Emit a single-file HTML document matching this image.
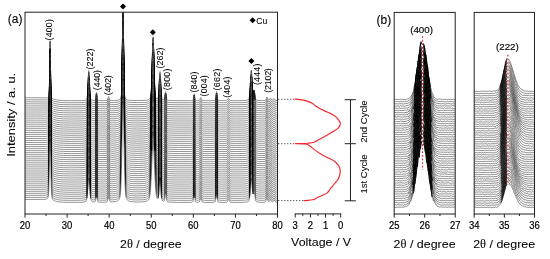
<!DOCTYPE html>
<html><head><meta charset="utf-8"><style>
html,body{margin:0;padding:0;background:#fff;width:550px;height:259px;overflow:hidden}
svg{display:block}
.f{fill:#fff;stroke:none}
.s{fill:#fff;stroke:#000;stroke-width:0.42}
.s2{fill:#fff;stroke:#000;stroke-width:0.45}
.p{fill:none;stroke:#000;stroke-width:0.65}
.p2{fill:none;stroke:#000;stroke-width:0.9}
.p3{fill:none;stroke:#000;stroke-width:0.65}
</style></head><body>
<svg width="550" height="259" viewBox="0 0 550 259">
<defs><filter id="bl" x="-5%" y="-5%" width="110%" height="110%"><feGaussianBlur stdDeviation="0.35"/></filter><clipPath id="ca"><rect x="25.00" y="12.20" width="252.50" height="201.80"/></clipPath>
<clipPath id="cl"><rect x="394.20" y="12.4" width="61.00" height="201.60"/></clipPath>
<clipPath id="cr"><rect x="474.20" y="12.4" width="60.30" height="201.60"/></clipPath></defs>
<style>.t{fill:#fff;stroke:#000;stroke-width:.5}.tb{fill:#fff;stroke:#000;stroke-width:.5}text{font-family:'Liberation Sans',Arial,sans-serif;fill:#000;stroke:#000;stroke-width:.05px}.th{font-family:'Liberation Serif',serif}</style>
<rect width="550" height="259" fill="#fff"/>
<g clip-path="url(#ca)"><g filter="url(#bl)">
<path d="M20 97.75l17.35 0 9.15 .15 .85-.05 .6-.2 .45-.3 .3-.4 .25-.8 .2-1.75 .25-6.55 .55-41 .15-5.15 .15 5.2 .4 33 .25 11.7 .15 3.15 .2 1.8 .35 1.1 .6 .75 .6 .4 .9 .35 2.7 .7 3.15 .45 3.75 .25 7.85 .15 10.45-.1 3.15-.2 .95-.25 .6-.3 .4-.45 .3-.8 .25-1.35 .2-1.85 .4-6.45 .65-15.45 .15-2.3 .15-.8 .15 .8 .15 2.3 .65 15.45 .35 5.85 .2 2.05 .25 1.5 .3 .9 .35 .5 .35 .2 .5 .2 1.3 .2 1.25-.05 .3-.1 .25-.2 .25-.55 .2-.85 .65-5.3 .15-.8 .1-.2 .2 .7 .5 4.3 .3 1.85 .35 .9 .2 .2 .3 .15 1.3 .15 2.65 .1 3.15-.05 1.2-.15 .4-.25 .35-.5 .9-2.7 .15-.3 .15-.1 .15 .1 .15 .3 .6 1.95 .35 .8 .35 .45 .5 .25 1 .1 1.9 0 3.5-.25 1.75-.35 .65-.3 .5-.4 .45-.5 .35-.65 .25-.75 .2-.9 .3-2.8 .25-5.45 .35-17.8 .6-58 .15-9.65 .1-2 .1 2 .15 9.65 .6 58 .4 19.25 .25 4.7 .35 2.6 .25 .9 .35 .7 .45 .6 .55 .45 .75 .35 1 .25 3 .3 7.1 .05 6.2-.15 2.4-.3 1.6-.45 .6-.3 .5-.4 .4-.45 .3-.55 .4-1.4 .3-2 .25-2.85 .25-4.4 .45-12.95 .8-31.9 .2-4.7 .15-1.15 .15 1.15 .2 4.65 .85 33.6 .55 14 .3 3.9 .4 2.65 .25 .85 .25 .55 .3 .35 .4 .3 .35 .1 .35 0 .25-.15 .2-.3 .35-1.05 .25-1.65 .45-5.9 .75-15.65 .15-1.95 .15-.65 .15 .7 .15 1.95 .75 15.85 .45 6 .25 1.75 .3 1.1 .4 .65 .6 .3 .5 .1 .4-.05 .3-.35 .2-.5 .35-1.85 .55-4.6 .15-.8 .1-.15 .1 .15 .15 .8 .55 4.75 .35 1.9 .2 .6 .25 .35 .3 .15 .5 .15 2.9 .25 6.9 .05 11.5 .05 2-.1 1.05-.1 .5-.3 .35-.75 .3-1.5 .5-3.6 .2-.55 .2 .55 .75 4.9 .3 .8 .2 .25 .25 .15 .75 .1 1.25 .05 .75-.05 .45-.2 .5-.5 .85-1.9 .2-.3 .15-.05 .3 .3 .65 1.5 .35 .6 .35 .35 .5 .2 1.7 .1 4.5 .05 3.5-.05 1.65-.1 .5-.15 .3-.2 .2-.3 .2-.6 .35-2.05 .55-4.95 .2-.7 .1 .2 .15 .85 .5 4.6 .3 1.85 .35 .95 .25 .3 .3 .1 1.05 .15 1.9 .05 3.6 0 1.45-.05 .45-.2 .35-.3 .95-1.6 .3-.2 .3 .2 .7 1.25 .35 .45 .4 .3 .6 .1 4.45 .1 7.3-.1 2.95-.15 1.8-.35 .85-.35 .5-.6 .4-1.2 .3-1.7 .3-2.9 .25-3.55 .9-17 .2-2.25 .15-.55 .15 .5 .2 2.15 .8 14.7 .4 4.6 .2 .9 .1 .1 .1-.1 .65-2.65 .15-.2 .1 .1 .25 1.1 .9 6.7 .35 1.25 .4 .65 .35 .25 .5 .2 1.85 .25 3.9 .1 1.5-.05 .75-.1 .45-.2 .35-.4 .35-.75 .65-1.75 .15-.25 .15-.1 .15 .1 .15 .25 .9 2.25 .25 .3 .25 .2 .3-.05 .3-.25 .9-1.55 .3-.25 .3 .25 .9 1.6 .25 .25 .25 .15 .3-.05 .3-.2 .9-1.3 .3-.2 .3 .2 .95 1.45 .3 .25 .35 .15 1.4 .1 4.65 .05V260 H20 Z" class="s"/>
<path d="M49.15 94.4l.2-4.65 .15-6.95 .4-32.35M50.3 50.5l.4 32.55 .15 7 .2 4.7M87.35 96.4l.45-6.4 .6-14.4M89.2 75.6l.6 14.35 .45 6.45M95.9 96.45l.3-2.75M96.8 93.75l.3 2.7M121.25 96.45l.25-2.1 .2-3.45 .3-11.05 .3-21.9 .45-45.55M123.25 12.4l.45 45.55 .3 21.9 .3 11.05 .2 3.45 .25 2.1M150.75 96.3l.25-1.75 .25-2.85 .4-7.95 .35-11.25 .6-24.8M153.6 47.7l.6 24.75 .35 11.15 .45 8.6 .25 2.6 .25 1.55M158.4 96.3l.25-2.25 .25-3.55 .65-13.7M160.45 76.9l.6 13 .5 6.45M164.9 96.3l.35-3.1M165.95 93.25l.35 3.2M193.7 96.5l.2-1.5M194.5 95l.2 1.5M215.95 96.4l.35-3.35M216.9 93.05l.35 3.35M249.45 96.6l.3-2.7 .3-4.1 .75-14.5M251.85 76.05l.6 11.3 .4 4.6 .2 .9 .1 .1 .1-.1 .65-2.65 .15-.2 .1 .1 .3 1.45 .6 4.85" class="p"/>
<path d="M20 99.8l17.15 0 9.2 .15 .9-.1 .6-.15 .45-.3 .35-.45 .25-.75 .2-1.55 .25-5.75 .2-10.85 .4-34.15 .15-5.3 .15 5.35 .4 34.3 .25 12.65 .15 3.4 .2 2.05 .35 1.25 .6 .75 .6 .45 .85 .35 2.6 .7 3.2 .45 3.75 .3 7.9 .15 10.5-.1 3.15-.25 .95-.25 .6-.3 .4-.45 .3-.85 .25-1.4 .2-1.85 .4-6.6 .65-15.55 .15-2.3 .15-.8 .15 .8 .15 2.3 .65 15.55 .35 5.95 .2 2.1 .25 1.55 .3 .95 .35 .5 .35 .25 .45 .15 1.3 .25 1.3-.05 .3-.1 .25-.25 .25-.55 .2-.85 .65-5.3 .15-.85 .1-.15 .2 .7 .5 4.3 .3 1.85 .35 .95 .2 .2 .3 .15 1.25 .15 2.55 .05 3.25-.05 1.25-.1 .4-.25 .35-.5 .9-2.5 .15-.3 .15-.1 .15 .1 .15 .3 .6 1.8 .35 .8 .35 .4 .5 .25 1 .05 1.95 0 3.45-.2 1.75-.4 .65-.3 .5-.4 .45-.55 .35-.65 .25-.75 .2-.95 .3-2.95 .25-5.75 .35-18.05 .6-56.8 .15-9.25 .1-1.95 .1 1.95 .15 9.25 .6 56.8 .4 19.55 .25 4.95 .35 2.8 .25 .9 .35 .75 .45 .6 .6 .5 .75 .35 1 .25 1.3 .15 1.75 .1 7.15 .1 6.1-.2 2.35-.25 1.6-.45 .6-.35 .5-.35 .4-.5 .3-.55 .4-1.45 .3-2.1 .25-2.9 .25-4.45 .45-12.85 .8-31.25 .2-4.55 .15-1.1 .15 1.1 .2 4.55 .85 32.9 .55 13.95 .3 3.95 .4 2.75 .25 .9 .25 .55 .3 .35 .4 .3 .35 .15 .35-.05 .25-.15 .2-.25 .35-1.1 .25-1.65 .45-5.85 .75-15.6 .15-1.95 .15-.65 .15 .7 .15 1.95 .75 15.8 .45 6 .25 1.75 .3 1.1 .4 .6 .6 .35 .5 .1 .4-.05 .3-.35 .2-.5 .35-1.8 .55-4.55 .15-.75 .1-.15 .1 .15 .15 .8 .65 5.35 .35 1.5 .25 .45 .3 .25 .45 .15 .8 .15 4.3 .15 10.1 .1 7.1-.05 1.45-.05 .8-.1 .3-.15 .2-.2 .3-.7 .3-1.55 .5-3.6 .2-.6 .2 .6 .75 4.95 .3 .8 .2 .25 .25 .15 .75 .1 1.25 .05 .75-.1 .45-.15 .5-.5 .85-1.85 .2-.3 .15-.1 .3 .3 .65 1.5 .35 .6 .35 .35 .5 .2 1.75 .1 4.8 .05 3.3-.05 1.6-.15 .4-.1 .3-.2 .2-.3 .2-.55 .35-2 .55-4.8 .2-.65 .1 .15 .15 .85 .5 4.45 .3 1.8 .35 .95 .25 .2 .3 .15 1.05 .15 1.95 .05 3.55 0 1.45-.1 .45-.15 .35-.35 .95-1.6 .3-.25 .3 .25 .7 1.25 .35 .5 .4 .25 .6 .15 4.45 .05 7.3-.05 2.95-.2 1.8-.3 .85-.4 .5-.65 .4-1.15 .3-1.8 .3-3 .25-3.6 .9-17.5 .2-2.25 .15-.6 .15 .55 .2 2.2 .8 15.05 .4 4.65 .2 .9 .1 .1 .1-.1 .65-2.85 .15-.25 .1 .1 .25 1.2 .9 7.05 .35 1.35 .4 .65 .35 .25 .5 .2 1.8 .25 3.8 .15 2.35-.15 .5-.25 .35-.4 .35-.75 .65-1.75 .15-.25 .15-.1 .15 .1 .15 .25 .9 2.25 .25 .35 .3 .2 .25-.05 .3-.25 .9-1.55 .3-.25 .3 .25 .9 1.6 .25 .25 .25 .1 .3 0 .3-.2 .9-1.3 .3-.2 .3 .2 .95 1.45 .3 .25 .35 .15 1.4 .1 4.65 .05V260 H20 Z" class="s"/>
<path d="M49.1 96.65l.2-4.05 .2-9.2 .4-33.8M50.3 49.65l.4 33.95 .2 9.3 .2 4.1M87.35 98.3l.45-6.55 .6-14.5M89.2 77.25l.6 14.5 .45 6.55M95.9 98.45l.3-2.75M96.8 95.75l.3 2.75M121.25 98.35l.25-2.25 .2-3.65 .3-11.35 .25-17.45 .5-48.85M123.25 14.8l.5 48.85 .25 17.45 .3 11.35 .2 3.65 .25 2.25M150.7 98.5l.25-1.65 .25-2.65 .45-8.7 .35-11.15 .6-24.25M153.6 50.05l.6 24.2 .4 12.4 .45 8 .25 2.4 .25 1.45M158.4 98.35l.25-2.25 .25-3.55 .65-13.65M160.45 79l.6 12.95 .5 6.45M164.9 98.4l.35-3.05M165.95 95.4l.35 3.15M193.7 98.5l.2-1.55M194.5 96.95l.2 1.55M215.95 98.55l.35-3.2M216.9 95.35l.35 3.2M249.45 98.5l.3-2.75 .3-4.2 .75-14.9M251.85 77.4l.6 11.6 .4 4.65 .2 .9 .1 .1 .1-.1 .65-2.85 .15-.25 .1 .1 .3 1.55 .65 5.45" class="p"/>
<path d="M20 101.8l17.3 .05 9.15 .15 .85-.1 .6-.15 .45-.3 .3-.35 .25-.7 .2-1.5 .25-5.5 .2-9.95 .4-30.5 .15-4.65 .15 4.7 .45 33.75 .25 9.9 .15 2.6 .2 1.55 .35 1 .6 .7 .65 .4 .9 .35 2.75 .7 3.15 .45 3.8 .25 8.05 .1 10.1-.05 3.1-.25 .95-.25 .6-.35 .4-.5 .3-.85 .25-1.45 .2-1.9 .4-6.7 .65-15.75 .15-2.3 .15-.8 .15 .8 .15 2.3 .65 15.75 .35 6.05 .2 2.15 .25 1.6 .3 1 .35 .5 .35 .25 .45 .2 1.25 .2 1.35 0 .3-.1 .25-.25 .25-.5 .2-.85 .65-5.1 .15-.8 .1-.2 .2 .65 .5 4.2 .3 1.8 .35 .9 .2 .2 .3 .1 1.3 .2 2.65 .05 3.15-.05 1.2-.15 .4-.25 .35-.45 .9-2.6 .15-.3 .15-.1 .15 .1 .15 .3 .6 1.85 .35 .8 .35 .45 .5 .2 1 .1 1.9 0 3.45-.25 1.75-.4 .65-.3 .5-.35 .45-.55 .35-.65 .3-.9 .2-1 .3-3.2 .25-6.05 .4-22.35 .6-56 .2-7.15 .1 1.85 .15 9 .65 59.7 .35 16.55 .25 5.2 .35 3 .25 .95 .35 .8 .45 .6 .6 .5 .75 .4 1 .25 1.3 .15 1.75 .15 7.05 .1 6.1-.2 2.4-.3 1.6-.5 .6-.3 .5-.4 .4-.5 .3-.6 .4-1.45 .3-2.05 .3-3.65 .25-4.8 .45-13.7 .8-32.55 .2-4.7 .15-1.15 .15 1.15 .2 4.7 .9 36.1 .55 14 .3 3.95 .4 2.7 .25 .9 .25 .55 .3 .4 .4 .3 .35 .1 .3 0 .25-.15 .2-.25 .35-1.1 .25-1.65 .45-5.95 .75-15.7 .15-1.95 .15-.7 .15 .75 .15 1.95 .75 15.95 .45 6.1 .25 1.7 .3 1.15 .4 .6 .6 .35 .5 .1 .4-.05 .3-.3 .2-.5 .35-1.8 .55-4.5 .15-.75 .1-.15 .1 .15 .15 .8 .55 4.6 .35 1.85 .2 .55 .25 .35 .3 .2 .5 .1 2.95 .25 6.9 .1 11.45 0 2-.05 1.05-.15 .5-.25 .35-.75 .3-1.55 .5-3.55 .2-.55 .2 .55 .75 4.9 .3 .8 .2 .25 .25 .1 .75 .15 1.3 0 .7-.05 .45-.15 .5-.55 .85-1.95 .2-.3 .15-.1 .3 .3 .65 1.55 .35 .65 .35 .35 .5 .25 1.65 .1 4.45 0 3.55 0 1.7-.15 .5-.15 .3-.2 .2-.3 .2-.6 .35-2.05 .55-5 .2-.7 .1 .2 .15 .85 .5 4.65 .3 1.85 .35 1 .25 .25 .3 .15 1 .1 1.9 .1 3.6 0 1.5-.1 .45-.15 .35-.3 .95-1.6 .3-.2 .3 .2 .7 1.25 .35 .45 .4 .25 .6 .15 4.5 .05 7.3-.1 2.9-.15 1.8-.3 .85-.4 .5-.6 .4-1.15 .3-1.7 .3-2.9 .25-3.5 .9-16.9 .2-2.25 .15-.55 .15 .55 .2 2.1 .8 14.6 .4 4.5 .2 .85 .1 .1 .1-.1 .65-2.85 .15-.25 .1 .1 .25 1.2 .9 6.85 .35 1.3 .4 .7 .35 .2 .5 .2 1.9 .25 3.9 .1 1.5-.05 .7-.1 .45-.2 .35-.45 .35-.8 .65-1.85 .15-.3 .15-.1 .15 .1 .15 .25 .9 2.45 .25 .35 .3 .2 .25 0 .3-.25 .9-1.55 .3-.2 .3 .25 .9 1.55 .25 .25 .25 .1 .3 0 .3-.25 .9-1.25 .3-.2 .3 .2 .95 1.4 .3 .25 .35 .15 1.4 .15 4.65 .05V260 H20 Z" class="s"/>
<path d="M49.15 98.2l.2-4.8 .15-6.9 .4-30.3M50.3 56.25l.4 30.5 .15 6.95 .2 4.85M87.3 100.65l.45-6.15 .65-15.7M89.2 78.8l.65 15.7 .45 6.15M95.9 100.65l.3-2.65M96.8 98l.3 2.65M121.3 99.85l.2-2.1 .2-3.85 .3-11.75 .75-65.85M123.25 16.3l.75 65.85 .3 11.75 .2 3.85 .2 2.1M150.65 100.4l.25-1.6 .25-2.65 .45-8.7 .4-13.15 .6-25.35M153.6 48.9l.6 25.3 .4 13.1 .45 8.65 .25 2.65 .3 1.8M158.35 100.6l.3-2.6 .25-3.55 .65-13.8M160.45 80.75l.6 13.1 .5 6.5M165 99.65l.25-2.2M165.95 97.5l.25 2.25M193.7 100.55l.2-1.5M194.5 99.05l.2 1.5M215.95 100.45l.35-3.4M216.9 97.05l.35 3.4M249.5 100.35l.3-2.9 .25-3.5 .75-14.4M251.85 80.25l.6 11.25 .4 4.5 .2 .85 .1 .1 .1-.1 .65-2.85 .15-.25 .1 .1 .3 1.55 .5 4.2" class="p"/>
<path d="M20 103.85l17.2 0 9.2 .15 .85-.05 .6-.2 .45-.25 .35-.45 .25-.8 .2-1.6 .25-5.85 .6-41.15 .15-4.65 .15 4.7 .45 34.15 .25 10.35 .15 2.8 .25 1.95 .35 .9 .6 .7 .65 .4 .85 .3 2.7 .7 3.1 .45 3.7 .25 7.75 .15 10.5-.05 3.2-.25 .95-.2 .6-.3 .4-.5 .3-.8 .25-1.3 .2-1.75 .4-6.05 .65-14.1 .15-2.05 .15-.75 .15 .75 .15 2.05 .65 14.05 .35 5.5 .2 1.95 .25 1.5 .3 .9 .35 .5 .8 .35 1.35 .25 1.25-.05 .3-.1 .25-.25 .25-.5 .2-.85 .65-5.15 .15-.85 .1-.15 .2 .65 .5 4.25 .3 1.75 .35 .9 .2 .2 .3 .15 1.3 .15 2.65 .1 3.15-.05 1.2-.15 .4-.25 .35-.5 .9-2.6 .15-.3 .15-.15 .15 .15 .15 .25 .6 1.9 .35 .8 .35 .45 .5 .25 1 .05 1.9 0 3.4-.2 .95-.2 .8-.25 .65-.3 .5-.4 .45-.55 .35-.65 .3-.9 .2-1 .3-3.05 .25-5.7 .35-17.6 .65-61.4 .15-9.05 .1-1.85 .1 1.85 .15 9.05 .65 61.4 .4 19.1 .25 4.95 .35 2.85 .25 .95 .35 .8 .45 .65 .6 .5 .75 .35 1 .3 1.3 .2 1.7 .1 6.85 .1 6.2-.15 2.4-.3 1.65-.45 .65-.35 .5-.4 .4-.5 .3-.55 .4-1.45 .3-2.05 .25-2.85 .25-4.3 .45-12.45 .85-32.45 .2-4.4 .15-1.05 .15 1.05 .2 4.4 .9 34.05 .55 13.5 .3 3.85 .4 2.75 .25 .85 .25 .55 .3 .4 .4 .3 .35 .1 .3 0 .25-.1 .2-.25 .35-1.05 .25-1.55 .45-5.6 .75-14.85 .15-1.85 .15-.6 .15 .65 .15 1.85 .75 15.1 .45 5.7 .25 1.65 .3 1.05 .4 .6 .6 .35 .55 .05 .35-.05 .3-.35 .2-.55 .35-1.85 .55-4.75 .15-.8 .1-.15 .2 .65 .6 5.2 .4 2.1 .25 .6 .3 .3 .45 .15 .8 .15 4.15 .15 9.85 .1 7.5-.05 1.5-.05 .8-.1 .3-.15 .2-.2 .3-.7 .3-1.55 .5-3.65 .2-.6 .2 .6 .75 5 .3 .8 .2 .25 .25 .15 .75 .1 1.25 .05 .75-.05 .45-.15 .5-.55 .85-1.8 .2-.25 .15-.1 .3 .3 .65 1.45 .35 .6 .35 .3 .5 .2 1.8 .15 4.95 0 3.15-.05 1.55-.15 .4-.1 .3-.2 .2-.3 .2-.6 .35-2.05 .55-4.95 .2-.7 .1 .2 .15 .85 .5 4.6 .3 1.85 .35 .95 .25 .3 .3 .1 1.05 .15 1.9 .1 3.6-.05 1.45-.05 .45-.2 .35-.3 .95-1.6 .3-.2 .3 .2 .7 1.25 .35 .45 .4 .3 .6 .1 4.4 .1 7.35-.1 2.95-.15 1.8-.3 .85-.4 .5-.6 .4-1.1 .3-1.7 .3-2.8 .25-3.45 .9-16.6 .2-2.15 .15-.55 .15 .5 .2 2.1 .8 14.25 .4 4.45 .2 .8 .1 .1 .1-.1 .65-2.75 .15-.25 .1 .1 .25 1.15 .9 6.75 .35 1.25 .4 .7 .35 .2 .5 .2 1.8 .25 3.75 .1 2.4-.1 .5-.25 .35-.35 .35-.7 .65-1.65 .15-.25 .15-.1 .15 .1 .15 .2 .9 2.15 .25 .3 .25 .15 .3 0 .3-.25 .9-1.6 .3-.25 .3 .25 .85 1.55 .25 .3 .25 .1 .3 0 .3-.2 .95-1.4 .3-.2 .3 .25 .95 1.5 .3 .25 .35 .15 1.4 .1 4.65 .05V260 H20 Z" class="s"/>
<path d="M49.1 100.65l.2-4.15 .15-6.1 .45-33.55M50.3 56.95l.45 33.65 .15 6.2 .2 4.2M87.35 102.6l.45-6.05 .6-13.2M89.2 83.35l.6 13.2 .45 6.05M95.9 102.65l.3-2.7M96.8 100l.3 2.65M121.45 99.85l.35-8.15 .25-12.5 .7-64.8M123.25 14.4l.7 64.8 .25 12.5 .35 8.15M150.65 102.5l.25-1.6 .25-2.6 .45-8.45 .4-12.55 .6-23.95M153.6 53.35l.6 23.85 .4 12.55 .45 8.35 .25 2.6 .3 1.85M158.4 102.55l.25-2.15 .25-3.35 .65-13.05M160.45 84.1l.6 12.4 .5 6.1M193.7 102.5l.2-1.5M194.5 101l.2 1.5M215.95 102.5l.35-3.35M216.9 99.15l.35 3.35M249.5 102.45l.3-2.8 .25-3.45 .75-14.15M251.85 82.75l.6 11 .4 4.45 .2 .8 .1 .1 .1-.1 .6-2.6 .15-.4 .1 0 .25 .9 .35 2.75" class="p"/>
<path d="M20 105.9l17.05 0 9.2 .1 .9-.05 .65-.15 .45-.3 .35-.45 .25-.7 .2-1.45 .3-7.05 .6-42.95 .15-4.75 .15 4.8 .45 35.45 .25 11.1 .15 3.1 .25 2.2 .35 1 .6 .7 .6 .4 .85 .35 2.65 .7 3.15 .5 3.8 .25 7.95 .15 10.25-.1 3.15-.25 .95-.25 .6-.3 .45-.55 .3-.95 .25-1.5 .2-1.95 .4-6.8 .65-15.6 .15-2.25 .15-.8 .15 .8 .15 2.25 .65 15.6 .4 6.75 .2 2 .25 1.5 .25 .8 .35 .55 .35 .25 .45 .2 1.3 .2 1.3 0 .3-.15 .25-.2 .25-.6 .2-.85 .65-5.5 .15-.9 .1-.15 .2 .7 .5 4.5 .3 1.9 .35 .95 .2 .2 .3 .15 1.3 .2 2.65 .05 3.15-.05 1.2-.15 .4-.25 .35-.55 .9-2.85 .15-.3 .15-.1 .15 .1 .15 .3 .6 2.05 .35 .9 .35 .45 .45 .25 .85 .1 1.8 0 3.6-.2 1.8-.4 .65-.3 .5-.35 .45-.5 .4-.7 .3-.9 .2-1 .3-3 .25-5.65 .4-20.35 .65-56.55 .2-6.5 .1 1.7 .15 8.2 .65 56.65 .4 18.35 .25 4.85 .2 1.95 .2 1.15 .25 .85 .35 .7 .45 .6 .6 .45 .8 .35 1 .25 3.05 .3 7 .1 5.95-.2 2.4-.3 1.6-.45 .6-.35 .5-.4 .4-.5 .3-.55 .4-1.4 .3-2 .3-3.5 .25-4.5 .45-12.9 .8-31.5 .2-5.15 .2-1.9 .15 1.1 .2 4.4 .9 34.7 .55 14 .3 4.1 .4 2.9 .25 .95 .25 .6 .35 .5 .4 .3 .3 .1 .3 0 .25-.15 .2-.2 .35-1.05 .25-1.5 .45-5.55 .75-14.75 .15-1.85 .15-.6 .15 .65 .15 1.85 .75 15 .45 5.65 .25 1.65 .3 1.05 .4 .6 .6 .3 .5 .1 .4-.05 .3-.35 .2-.5 .35-1.8 .55-4.6 .15-.75 .1-.2 .1 .2 .15 .8 .55 4.7 .35 1.85 .2 .55 .25 .35 .3 .2 .5 .15 2.9 .2 6.85 .1 11.5 0 2.05-.05 1.05-.1 .5-.3 .35-.75 .3-1.45 .5-3.5 .2-.6 .2 .6 .75 4.75 .3 .8 .2 .25 .25 .15 .75 .1 1.3 .05 .7-.1 .45-.15 .5-.55 .85-2 .2-.3 .15-.1 .3 .3 .65 1.6 .35 .65 .35 .4 .5 .2 1.7 .1 4.55 .05 3.45-.05 1.65-.15 .5-.1 .3-.25 .2-.3 .2-.65 .35-2.2 .55-5.25 .2-.75 .1 .2 .15 .9 .5 4.9 .3 2 .35 1 .25 .3 .3 .15 1 .15 1.9 .05 3.6 0 1.5-.1 .45-.15 .35-.3 .95-1.65 .3-.2 .3 .2 .7 1.3 .35 .45 .4 .25 .6 .15 4.55 .05 7.25-.05 2.9-.2 1.8-.3 .85-.45 .5-.6 .4-1.25 .3-1.8 .3-3.05 .25-3.7 .9-17.95 .2-2.35 .15-.6 .15 .55 .2 2.3 .8 15.5 .25 3.5 .2 1.7 .15 .7 .1 .15 .1-.05 .2-.55 .45-2 .15-.2 .1 .1 .25 1.15 .85 6.4 .35 1.4 .4 .75 .35 .25 .45 .2 1.8 .25 3.8 .15 1.65-.05 .8-.1 .5-.25 .35-.4 .35-.75 .65-1.8 .15-.25 .15-.1 .15 .1 .15 .25 .9 2.3 .25 .35 .25 .15 .3 0 .3-.25 .9-1.65 .3-.2 .3 .25 .9 1.65 .25 .25 .25 .1 .3 0 .3-.2 .9-1.3 .3-.2 .3 .25 .95 1.4 .3 .25 .35 .15 1.4 .1 4.65 .05V260 H20 Z" class="s"/>
<path d="M49.1 102.25l.2-4.55 .15-6.55 .45-34.95M50.3 56.25l.45 35.1 .15 6.65 .2 4.6M87.3 104.55l.45-6.25 .65-15.6M89.2 82.7l.65 15.55 .45 6.3M95.9 104.4l.3-2.85M96.8 101.55l.3 2.9M121.6 99.5l.25-7.35 .25-13.35 .65-56.65M123.25 22.15l.65 56.65 .25 13.35 .3 8.3M150.6 104.55l.25-1.6 .25-2.55 .45-8.2 .4-12.35 .65-26.25M153.6 53.6l.65 26.15 .4 12.35 .45 8.15 .25 2.5 .25 1.55M158.4 104.55l.25-2.15 .25-3.3 .65-12.9M160.45 86.3l.6 12.3 .5 6.05M193.7 104.7l.2-1.45M194.5 103.25l.2 1.45M215.9 104.7l.4-4M216.9 100.7l.4 4M249.45 104.5l.3-2.8 .3-4.3 .75-15.3M251.85 82.9l.55 11.05 .35 4.9 .15 1.2 .2 .8 .1 .05 .1-.15 .2-.7M253.6 99.6l.25-1.15 .2-.35 .2 .4 .2 1.2" class="p"/>
<path d="M20 107.9l16.95 .05 9.3 .1 .9-.05 .65-.2 .45-.3 .35-.45 .25-.75 .2-1.5 .3-7.2 .6-42.2 .15-4.55 .15 4.6 .45 34.65 .25 11.2 .15 3.2 .25 2.25 .35 1.05 .6 .75 .65 .4 .85 .35 2.65 .7 3.15 .45 3.8 .3 8.05 .1 10.1-.05 1.85-.1 1.3-.2 .95-.2 .6-.35 .45-.6 .3-.95 .25-1.55 .2-2.05 .4-7 .65-15.9 .15-2.25 .15-.85 .15 .85 .15 2.25 .65 15.9 .4 6.95 .2 2.05 .25 1.6 .3 .95 .35 .5 .35 .25 .45 .15 1.25 .25 1.3-.05 .3-.1 .25-.2 .25-.55 .2-.8 .65-5.15 .15-.85 .1-.15 .2 .65 .5 4.25 .3 1.75 .35 .95 .2 .2 .3 .1 1.35 .2 2.75 .05 3-.05 1.2-.15 .4-.25 .35-.55 .9-2.8 .15-.3 .15-.15 .15 .15 .15 .3 .6 2 .35 .9 .35 .45 .5 .25 .95 .1 1.9 0 3.4-.25 .95-.2 .8-.2 .65-.35 .5-.4 .45-.5 .35-.65 .3-.85 .2-.95 .3-2.9 .25-5.25 .35-15.95 .7-60.95 .15-8.2 .1-1.7 .1 1.7 .15 8.2 .7 60.95 .4 17.3 .25 4.55 .2 1.9 .2 1.1 .3 .95 .35 .65 .45 .55 .55 .45 .8 .35 1 .3 1.35 .15 1.75 .15 7.05 .05 5.9-.2 2.3-.3 1.6-.5 .6-.35 .5-.4 .4-.55 .3-.6 .4-1.5 .3-2.15 .3-3.65 .25-4.75 .45-13.3 .8-32 .2-5.2 .2-1.9 .15 1.1 .2 4.4 .95 37 .55 13.65 .3 4 .4 2.8 .25 .95 .25 .55 .3 .45 .4 .3 .3 .1 .3 0 .25-.15 .2-.25 .35-1.1 .25-1.65 .45-5.95 .75-15.85 .15-1.95 .15-.7 .15 .75 .15 2 .75 16.05 .45 6.1 .25 1.75 .3 1.15 .4 .65 .6 .35 .5 .1 .4-.1 .3-.35 .2-.5 .35-1.9 .55-4.75 .15-.8 .1-.2 .1 .2 .15 .85 .65 5.55 .35 1.6 .25 .5 .3 .25 .45 .15 .8 .15 4.3 .2 10.05 .05 7.15 0 1.45-.1 .8-.1 .3-.15 .2-.2 .3-.75 .3-1.6 .5-3.85 .2-.6 .2 .6 .75 5.25 .3 .85 .2 .25 .25 .15 .75 .15 1.25 0 .75-.05 .45-.15 .5-.55 .85-1.95 .2-.3 .15-.1 .3 .3 .65 1.55 .35 .65 .35 .35 .5 .25 1.75 .1 4.7 0 3.4-.05 1.6-.1 .4-.1 .3-.2 .2-.35 .2-.55 .35-2.05 .55-4.85 .2-.7 .1 .15 .15 .9 .5 4.5 .3 1.85 .35 .95 .25 .25 .3 .15 1.05 .15 2 .05 3.55 0 1.4-.1 .45-.2 .35-.3 .95-1.7 .3-.25 .3 .25 .7 1.3 .35 .5 .4 .3 .6 .15 4.2 .05 7.5-.05 3-.2 1.8-.3 .85-.35 .5-.6 .4-1.1 .3-1.65 .3-2.8 .25-3.35 .9-16.35 .2-2.15 .15-.55 .15 .5 .2 2.1 .8 14 .4 4.3 .2 .8 .1 .1 .1-.15 .65-2.85 .15-.25 .1 .1 .25 1.15 .9 6.85 .35 1.3 .4 .65 .35 .25 .5 .15 1.85 .25 3.95 .1 1.5 0 .7-.1 .45-.25 .35-.45 .35-.75 .65-1.8 .15-.25 .15-.1 .15 .05 .15 .25 .9 2.35 .25 .4 .3 .15 .25 0 .3-.25 .9-1.6 .3-.2 .3 .25 .85 1.55 .25 .25 .25 .15 .3 0 .3-.2 .95-1.4 .3-.2 .3 .25 .95 1.45 .3 .25 .35 .15 1.4 .15 4.65 .05V260 H20 Z" class="s"/>
<path d="M49.05 104.8l.2-3.8 .2-8.2 .4-30.5M50.35 62.4l.4 30.65 .2 8.25 .2 3.85M87.25 106.85l.25-2.7 .25-4.2 .6-14.75M89.25 85.2l.6 14.7 .25 4.2 .25 2.7M95.9 106.7l.3-2.7M96.8 104.05l.3 2.65M121.65 99.55l.25-8.95 .2-11.7 .65-57.6M123.25 21.3l.65 57.6 .2 11.7 .25 8.95M150.55 106.55l.3-1.95 .25-2.65 .45-8.6 .4-12.75 .65-26.65M153.6 53.9l.65 26.6 .4 12.7 .45 8.55 .25 2.65 .25 1.65M158.35 106.6l.3-2.6 .25-3.6 .65-13.85M160.45 86.65l.65 14.1 .25 3.65 .25 2.4M193.65 106.8l.25-2.05M194.5 104.75l.25 2.05M215.95 106.6l.35-3.25M216.9 103.35l.35 3.25M249.5 106.6l.3-2.8 .25-3.35 .75-13.95M251.85 87.2l.55 10.05 .35 4.35 .15 1 .2 .6 .1-.05 .1-.2 .2-.85" class="p"/>
<path d="M20 109.95l16.8 0 9.4 .15 .95-.1 .65-.2 .45-.3 .35-.5 .25-.8 .2-1.65 .25-5.7 .25-13.3 .4-31.45 .15-4.55 .2 7.8 .45 34.85 .25 9.95 .15 2.75 .25 2 .35 .95 .55 .7 .6 .4 .85 .35 2.55 .7 3.15 .5 3.75 .25 7.85 .15 10.45-.1 3.2-.25 .95-.2 .6-.3 .45-.6 .3-.9 .25-1.5 .2-2 .35-5.55 .7-16 .15-2.1 .15-.75 .15 .75 .15 2.1 .7 16 .35 5.55 .2 1.95 .25 1.5 .3 .95 .35 .45 .35 .25 .45 .2 1.3 .2 1.25-.05 .3-.1 .25-.2 .25-.55 .2-.8 .65-5.2 .15-.85 .1-.2 .2 .7 .5 4.25 .3 1.8 .35 .9 .2 .2 .3 .15 1.25 .15 2.55 .1 3.25-.05 1.25-.15 .4-.25 .35-.45 .9-2.5 .15-.3 .15-.1 .15 .1 .15 .3 .6 1.8 .35 .75 .35 .45 .5 .2 1 .1 1.9-.05 3.3-.2 1.75-.4 .65-.35 .5-.35 .45-.5 .4-.7 .3-.9 .2-1 .3-3 .25-5.35 .4-19.25 .65-55.45 .15-7.8 .1-1.6 .1 1.6 .15 7.8 .7 58.75 .4 17.3 .3 5.3 .35 2.5 .25 .85 .35 .7 .45 .6 .6 .5 .75 .35 1 .25 1.3 .2 1.75 .1 6.7 .1 6.05-.15 2.45-.3 1.65-.45 .65-.35 .5-.4 .4-.45 .3-.55 .4-1.35 .3-1.9 .3-3.25 .25-4.15 .45-11.85 .85-31.2 .2-4.75 .2-1.7 .15 .95 .2 4.05 .95 34.15 .55 12.9 .3 3.75 .4 2.75 .25 .9 .25 .55 .3 .4 .4 .35 .3 .1 .3-.05 .25-.1 .2-.25 .35-1.05 .25-1.65 .45-5.75 .75-15.4 .15-1.9 .15-.65 .15 .7 .15 1.9 .75 15.6 .45 5.95 .25 1.7 .3 1.1 .4 .6 .6 .35 .5 .1 .4-.05 .3-.35 .2-.5 .35-1.8 .55-4.55 .15-.75 .1-.15 .1 .15 .15 .8 .55 4.65 .35 1.9 .2 .55 .25 .35 .3 .2 .5 .1 3.05 .25 7.3 .1 11 0 1.95-.05 1.05-.15 .3-.1 .2-.2 .35-.85 .3-1.6 .5-3.85 .2-.6 .2 .6 .75 5.25 .3 .9 .2 .25 .25 .15 .75 .1 1.25 .05 .75-.05 .45-.2 .5-.5 .85-1.9 .2-.3 .15-.1 .3 .3 .65 1.5 .35 .65 .35 .35 .5 .2 1.7 .15 4.55 0 3.45-.05 1.65-.1 .5-.15 .3-.2 .2-.35 .2-.6 .35-2.1 .55-5.1 .2-.75 .1 .2 .15 .9 .5 4.75 .3 1.9 .35 1 .25 .25 .3 .15 1.05 .15 1.9 .1 3.6 0 1.45-.1 .45-.2 .35-.3 .95-1.7 .3-.25 .3 .25 .7 1.3 .35 .5 .4 .3 .6 .1 4.3 .1 7.45-.1 2.95-.15 1.8-.3 .85-.4 .5-.55 .4-1.15 .3-1.7 .3-2.8 .25-3.45 .9-16.6 .2-2.15 .15-.55 .15 .5 .2 2.1 .8 14.25 .4 4.45 .2 .8 .1 .1 .1-.1 .65-2.8 .15-.25 .1 .1 .25 1.15 .9 6.8 .35 1.25 .4 .7 .35 .2 .5 .2 1.9 .25 3.95 .1 1.45-.05 .7-.1 .45-.25 .35-.45 .35-.8 .65-1.9 .15-.25 .15-.1 .15 .05 .15 .3 .9 2.45 .25 .35 .3 .2 .25 0 .3-.25 .9-1.7 .3-.25 .3 .3 .9 1.7 .25 .25 .25 .15 .3-.05 .3-.2 .9-1.3 .3-.15 .3 .2 .95 1.4 .3 .25 .35 .15 1.4 .15 4.65 .05V260 H20 Z" class="s"/>
<path d="M49.05 106.55l.2-4.05 .2-8.55 .4-30.95M50.35 63.1l.4 31.1 .2 8.6 .2 4.1M87.3 108.6l.45-6.15 .6-13.85M89.25 88.6l.6 13.85 .45 6.15M95.9 108.7l.3-2.7M96.8 106.05l.3 2.7M121.7 99.95l.4-19.25 .65-55.45M123.25 25.25l.65 55.45 .4 19.2M150.6 108.5l.25-1.65 .25-2.55 .45-8.15 .4-11.95 .6-22.85M153.65 61.3l.6 22.8 .4 11.9 .45 8.1 .25 2.55 .25 1.6M158.4 108.5l.25-2.25 .25-3.45 .65-13.5M160.45 89.45l.6 12.75 .5 6.4M193.65 108.8l.25-2M194.5 106.8l.25 2M215.9 108.9l.4-3.9M216.9 105l.4 3.9M249.5 108.55l.3-2.8 .25-3.45 .75-14.15M251.85 88.85l.55 10.25 .35 4.4 .15 1.1 .2 .6 .1 0 .1-.2 .2-.8" class="p"/>
<path d="M20 112l16.9 0 9.25 .1 .9-.05 .65-.15 .5-.3 .35-.45 .25-.7 .2-1.35 .3-6.3 .25-12.95 .4-29.9 .15-4.25 .2 7.3 .45 33.3 .25 9.8 .15 2.8 .25 2.05 .35 .95 .6 .7 .65 .45 .85 .35 2.6 .65 3.15 .5 3.8 .25 8 .15 10.15-.1 1.85-.1 1.3-.15 .95-.25 .6-.3 .4-.5 .3-.85 .25-1.4 .25-2.4 .35-5.7 .7-16.15 .15-2.15 .15-.75 .15 .75 .15 2.15 .7 16.15 .35 5.7 .2 2 .25 1.55 .3 .95 .35 .5 .35 .25 .45 .2 1.3 .2 1.25 0 .3-.15 .25-.2 .25-.6 .2-.9 .65-5.5 .15-.9 .1-.2 .2 .7 .5 4.55 .3 1.95 .35 .95 .2 .2 .3 .15 1.3 .2 2.6 .05 3.15-.05 1.25-.15 .4-.25 .35-.5 .9-2.8 .15-.3 .15-.1 .15 .1 .15 .3 .6 2 .35 .85 .35 .45 .45 .25 .9 .1 1.8 0 3.45-.25 1.75-.4 .65-.3 .55-.4 .45-.5 .4-.7 .3-.85 .2-.95 .35-3.55 .25-5.7 .4-19.85 .65-55.5 .15-7.65 .1-1.55 .1 1.55 .15 7.65 .7 58.85 .4 17.95 .3 5.65 .35 2.65 .25 .9 .4 .85 .45 .6 .6 .5 .75 .35 1 .25 1.3 .2 1.75 .15 6.7 .1 6.05-.2 2.4-.3 1.65-.45 .65-.35 .5-.4 .4-.45 .3-.6 .4-1.4 .3-1.95 .3-3.3 .25-4.25 .45-11.85 .85-30.75 .2-4.65 .2-1.65 .2 1.65 .2 4.6 .9 32.25 .55 12.95 .3 3.9 .4 2.8 .25 .95 .25 .6 .3 .4 .4 .3 .3 .1 .3 0 .25-.15 .2-.25 .35-1.1 .25-1.65 .45-6 .75-15.95 .15-1.95 .15-.7 .15 .75 .15 2 .75 16.15 .45 6.15 .25 1.75 .3 1.1 .4 .65 .6 .35 .5 .1 .4-.05 .3-.35 .2-.5 .35-1.9 .55-4.75 .15-.8 .1-.15 .1 .2 .15 .8 .55 4.85 .35 1.95 .2 .6 .25 .35 .3 .2 .5 .15 2.95 .2 7 .1 11.35 0 2-.05 1.05-.1 .3-.15 .2-.15 .35-.8 .3-1.6 .5-3.8 .2-.6 .2 .6 .75 5.15 .3 .9 .2 .25 .25 .1 .75 .15 1.25 .05 .75-.1 .45-.15 .5-.55 .85-1.95 .2-.3 .15-.05 .3 .25 .65 1.55 .35 .65 .35 .4 .5 .2 1.7 .1 4.45 .05 3.5-.05 1.7-.15 .5-.1 .3-.2 .2-.35 .2-.6 .35-2.1 .55-5.1 .2-.7 .1 .15 .15 .9 .5 4.75 .3 1.9 .35 1 .25 .25 .3 .15 1.05 .15 1.9 .05 3.6 0 1.45-.1 .45-.15 .35-.35 .95-1.7 .3-.2 .3 .2 .7 1.35 .35 .45 .4 .3 .6 .15 4.3 .1 7.45-.1 2.95-.15 1.8-.35 .85-.35 .5-.6 .4-1.15 .3-1.7 .3-2.85 .25-3.4 .9-16.7 .2-2.2 .15-.55 .15 .5 .2 2.15 .8 14.3 .4 4.4 .2 .85 .1 .05 .1-.1 .65-2.9 .15-.25 .1 .1 .25 1.15 .9 6.95 .35 1.35 .4 .65 .35 .25 .5 .15 1.85 .3 3.95 .1 1.5-.05 .7-.1 .45-.25 .35-.45 .35-.75 .65-1.85 .15-.25 .15-.1 .15 .1 .15 .25 .9 2.35 .25 .4 .3 .15 .25 0 .3-.3 .9-1.65 .3-.2 .3 .25 .9 1.7 .25 .25 .25 .1 .3 0 .3-.2 .9-1.35 .3-.15 .3 .2 .95 1.45 .3 .25 .35 .15 1.4 .1 4.65 .05V260 H20 Z" class="s"/>
<path d="M49.05 108.5l.2-4.05 .2-8.4 .4-29.6M50.35 66.55l.4 29.75 .2 8.45 .2 4.15M87.25 110.9l.25-2.65 .25-4.05 .6-14.05M89.25 90.15l.6 14.05 .25 4.05 .25 2.65M95.85 110.9l.35-3.3M96.8 107.6l.35 3.35M121.7 101.15l.4-19.85 .65-55.5M123.25 25.8l.65 55.5 .4 19.85M150.55 110.65l.3-1.95 .25-2.65 .45-8.25 .4-11.9 .6-22.5M153.65 63.35l.6 22.45 .4 11.9 .45 8.2 .25 2.6 .25 1.65M158.35 110.7l.3-2.65 .25-3.6 .65-13.95M160.45 90.65l.65 14.15 .25 3.65 .25 2.4M193.7 110.5l.2-1.6M194.5 108.9l.2 1.6M215.95 110.5l.35-3.4M216.9 107.1l.35 3.4M249.5 110.55l.3-2.85 .25-3.4 .75-14.25M251.85 90.75l.55 10.3 .35 4.4 .15 1.05 .2 .6 .1 0 .1-.25 .2-.8" class="p"/>
<path d="M20 114l16.65 .05 9.45 .1 .95-.1 .65-.2 .5-.3 .35-.45 .25-.8 .2-1.5 .3-6.8 .25-13.7 .4-30.8 .15-4.3 .15 4.35 .45 34.4 .3 13.55 .15 3.05 .25 2.25 .35 1.05 .6 .75 .6 .4 .85 .4 2.5 .65 3.1 .5 3.75 .3 7.7 .1 10.5-.05 3.25-.25 .95-.2 .65-.3 .45-.55 .3-.85 .25-1.35 .2-1.75 .4-6.1 .7-15.5 .15-2.05 .15-.7 .15 .7 .15 2.05 .7 15.5 .35 5.5 .2 1.95 .25 1.55 .3 .95 .35 .5 .35 .2 .45 .2 1.3 .2 1.25-.05 .3-.1 .25-.2 .25-.55 .2-.9 .65-5.4 .15-.9 .1-.2 .2 .75 .5 4.45 .3 1.85 .35 .95 .2 .2 .3 .15 1.3 .2 2.6 .05 3.15-.05 1.25-.15 .4-.25 .35-.5 .9-2.7 .15-.3 .15-.1 .15 .1 .15 .3 .6 1.9 .35 .85 .35 .45 .5 .25 .95 .1 1.8 0 3.35-.25 1.75-.4 .65-.3 .55-.4 .45-.5 .35-.6 .3-.8 .2-.85 .35-3.15 .25-5.05 .4-17.6 .7-56.05 .15-7.15 .1-1.45 .1 1.45 .15 7.15 .75 59.05 .4 15.9 .3 4.95 .35 2.45 .3 .95 .35 .65 .45 .55 .6 .45 .8 .35 1 .3 1.35 .15 1.75 .15 6.75 .05 5.85-.2 2.35-.25 1.65-.5 .65-.35 .5-.4 .4-.5 .3-.55 .4-1.35 .35-2.35 .3-3.5 .25-4.45 .45-12.3 .85-31.3 .2-4.65 .2-1.7 .2 1.65 .2 4.65 .9 32.9 .3 8.35 .3 5.9 .3 3.75 .4 2.75 .25 .95 .25 .55 .3 .45 .4 .3 .3 .1 .3-.05 .2-.1 .2-.25 .35-1.1 .25-1.65 .45-5.9 .75-15.75 .15-1.95 .15-.65 .15 .7 .15 2 .75 15.95 .45 6.1 .25 1.75 .3 1.1 .4 .65 .6 .35 .5 .1 .4-.1 .3-.3 .2-.55 .35-1.85 .55-4.7 .15-.75 .1-.15 .1 .15 .15 .8 .55 4.85 .35 1.9 .2 .55 .25 .4 .3 .15 .5 .15 3 .25 7.2 .1 11.15 0 1.95-.05 1.05-.15 .3-.1 .2-.2 .35-.85 .3-1.6 .5-3.9 .2-.65 .2 .65 .75 5.3 .3 .9 .2 .25 .25 .15 .75 .15 1.25 0 .75-.05 .45-.15 .5-.55 .85-1.95 .2-.3 .15-.05 .3 .3 .65 1.5 .35 .65 .35 .35 .5 .25 1.65 .1 4.3 0 3.6 0 1.75-.15 .5-.1 .3-.2 .25-.35 .2-.6 .35-2.1 .55-5.1 .2-.7 .1 .2 .15 .85 .5 4.75 .3 1.9 .35 1 .25 .25 .3 .15 1.05 .15 1.9 .05 3.6 0 1.45-.1 .45-.2 .35-.3 .95-1.65 .3-.25 .3 .25 .7 1.3 .35 .45 .4 .3 .6 .15 4.5 .05 7.3-.1 2.9-.15 1.8-.35 .85-.4 .5-.65 .4-1.2 .3-1.85 .3-3.05 .25-3.7 .9-18.05 .2-2.35 .15-.6 .15 .55 .2 2.3 .8 15.5 .4 4.85 .2 .95 .1 .15 .1-.1 .65-2.8 .15-.25 .1 .1 .25 1.2 .9 7.05 .35 1.35 .4 .7 .35 .25 .5 .2 1.8 .25 3.8 .1 1.55 0 .8-.1 .5-.25 .35-.4 .35-.75 .65-1.8 .15-.25 .15-.1 .15 .1 .15 .25 .9 2.3 .25 .35 .25 .15 .3-.05 .3-.25 .9-1.65 .3-.25 .3 .25 .9 1.7 .25 .25 .25 .15 .3-.05 .3-.2 .9-1.3 .3-.2 .3 .2 .95 1.45 .3 .25 .35 .15 1.4 .15 4.65 .05V260 H20 Z" class="s"/>
<path d="M49 110.8l.2-3.6 .2-7.65 .45-33.4M50.35 66.25l.45 33.55 .2 7.7 .2 3.7M87.3 112.6l.45-6.1 .6-13.45M89.25 93.05l.6 13.45 .45 6.1M95.9 112.6l.3-2.8M96.8 109.8l.3 2.8M121.8 99.55l.35-19.4 .6-49.3M123.25 30.85l.6 49.25 .35 19.45M150.55 112.45l.25-1.7 .25-2.55 .45-8.05 .4-11.75 .65-24.7M153.65 63.65l.6 22.9 .4 12.25 .45 8.55 .25 2.8 .25 1.75M158.35 112.7l.3-2.6 .25-3.55 .65-13.8M160.45 92.9l.65 14 .25 3.65 .25 2.35M193.65 112.8l.25-2.05M194.5 110.75l.25 2.05M215.95 112.55l.35-3.4M216.9 109.15l.35 3.4M249.45 112.65l.3-2.85 .3-4.3 .75-15.4M251.85 90.9l.55 11.1 .35 4.85 .15 1.2 .2 .7 .1 0 .1-.15 .2-.8" class="p"/>
<path d="M20 116.05l16.75 0 9.35 .1 .95-.05 .65-.2 .5-.3 .35-.45 .25-.75 .2-1.55 .3-6.7 .6-39.05 .2-6.8 .15 4.05 .45 32.2 .3 13.05 .2 3.65 .2 1.6 .35 1.05 .3 .45 .35 .35 .65 .4 .85 .35 2.6 .7 3.15 .45 3.75 .25 7.95 .15 10.1-.1 3.15-.25 .95-.2 .65-.35 .45-.55 .3-.9 .25-1.45 .2-1.9 .4-6.35 .7-16.15 .15-2.1 .15-.75 .15 .75 .15 2.1 .7 16.15 .35 5.75 .2 2.1 .25 1.6 .3 1 .4 .6 .8 .4 1.3 .25 1.2-.05 .3-.1 .25-.2 .25-.55 .2-.85 .65-5.3 .15-.85 .1-.15 .2 .65 .5 4.35 .3 1.8 .35 .95 .2 .2 .3 .15 1.3 .15 2.6 .1 3.15-.05 1.25-.15 .4-.25 .35-.5 .9-2.65 .15-.3 .15-.1 .15 .1 .15 .3 .6 1.9 .35 .8 .35 .45 .5 .25 .95 .05 1.85 0 3.3-.25 1.75-.4 .65-.35 .5-.35 .45-.5 .4-.7 .3-.85 .2-.95 .35-3.45 .25-5.4 .45-21.8 .65-53.45 .15-7.1 .1-1.45 .15 3.2 .15 8.8 .7 56.5 .4 16.7 .3 5.35 .35 2.6 .3 1.05 .35 .7 .5 .65 .6 .45 .8 .4 1 .25 1.35 .2 1.75 .1 6.7 .1 5.85-.2 2.4-.3 1.65-.5 .6-.35 .5-.4 .4-.5 .3-.6 .4-1.4 .3-2 .3-3.3 .25-4.2 .5-13.3 .85-30.85 .2-4.55 .2-1.65 .2 1.6 .2 4.55 .95 34 .55 12.75 .3 3.85 .4 2.85 .25 .95 .25 .6 .3 .45 .4 .3 .3 .1 .3 0 .2-.15 .2-.25 .35-1.05 .25-1.65 .45-5.9 .75-15.65 .15-1.95 .15-.65 .15 .7 .15 1.95 .75 15.95 .45 6.05 .25 1.75 .3 1.1 .4 .6 .6 .35 .5 .1 .4-.05 .3-.35 .2-.55 .35-1.95 .55-4.9 .15-.8 .1-.15 .1 .15 .15 .85 .55 5 .35 2.05 .2 .55 .25 .4 .3 .2 .5 .15 2.9 .2 6.95 .15 11.45 0 2-.05 1.05-.15 .3-.1 .2-.2 .35-.8 .3-1.65 .5-3.8 .2-.6 .2 .6 .75 5.2 .3 .9 .2 .25 .25 .15 .75 .1 1.25 .05 .75-.05 .45-.2 .5-.55 .85-2.05 .2-.3 .15-.1 .15 .1 .15 .25 .65 1.6 .35 .65 .35 .4 .5 .2 1.7 .15 4.45 0 3.5-.05 1.7-.1 .5-.15 .3-.2 .2-.35 .2-.6 .35-2.2 .55-5.3 .2-.75 .1 .2 .15 .9 .5 4.9 .3 2 .35 1.05 .25 .25 .3 .15 1 .15 1.9 .1 3.6 0 1.5-.1 .45-.2 .35-.3 .95-1.7 .3-.2 .3 .2 .7 1.35 .35 .45 .4 .3 .6 .15 4.4 .05 7.35-.1 2.95-.15 1.8-.35 .85-.4 .5-.6 .4-1.2 .3-1.75 .3-3 .25-3.6 .9-17.45 .2-2.3 .15-.55 .15 .5 .2 2.2 .8 15.05 .4 4.65 .2 .9 .1 .1 .1-.1 .65-2.85 .15-.25 .1 .1 .25 1.2 .9 7.05 .35 1.3 .4 .7 .35 .25 .5 .2 1.8 .25 3.8 .1 2.35-.1 .5-.25 .35-.4 .35-.75 .65-1.8 .15-.25 .15-.05 .15 .05 .15 .25 .9 2.3 .25 .3 .25 .2 .3-.05 .3-.25 .9-1.7 .3-.25 .3 .25 .9 1.75 .25 .25 .25 .15 .3-.05 .3-.2 .9-1.3 .3-.2 .3 .2 .95 1.45 .3 .25 .35 .15 1.4 .15 4.65 .05V260 H20 Z" class="s"/>
<path d="M49 112.85l.2-3.55 .2-7.4 .45-31.45M50.35 70.55l.45 31.6 .2 7.45 .2 3.65M87.25 114.8l.25-2.75 .25-4.1 .6-14.05M89.25 93.9l.6 14.05 .25 4.1 .25 2.75M95.9 114.75l.3-2.75M96.8 112l.3 2.75M121.8 100.35l.35-20.15 .6-49.85M123.25 30.35l.6 49.85 .35 20.15M150.55 114.35l.25-1.75 .25-2.6 .45-8.15 .4-11.75 .65-24.35M153.65 65.7l1 34.8 .45 8.65 .25 2.85 .25 1.8M158.35 114.75l.3-2.6 .25-3.5 .65-13.75M160.45 95.05l.6 13.05 .5 6.45M193.65 114.95l.25-2.05M194.5 112.9l.25 2.05M215.9 114.9l.4-4.05M216.9 110.85l.4 4.05M249.45 114.8l.3-2.75 .3-4.2 .75-14.9M251.85 93.7l.55 10.8 .35 4.65 .15 1.15 .2 .65 .1 0 .1-.2 .2-.8" class="p"/>
<path d="M20 118.1l16.65 0 9.4 .1 .95-.1 .65-.15 .5-.3 .35-.45 .25-.7 .2-1.3 .3-5.85 .25-11.85 .4-29.35 .2-6.75 .2 6.8 .5 35.25 .25 9 .15 2.6 .25 1.95 .35 1 .6 .7 .6 .4 .85 .35 2.6 .7 3.1 .5 3.75 .25 7.9 .15 10.25-.1 3.15-.25 .95-.2 .65-.35 .4-.45 .3-.8 .25-1.3 .25-2.2 .4-6.25 .7-15.65 .15-2.05 .15-.7 .15 .7 .15 2.05 .7 15.65 .4 6.25 .2 1.85 .25 1.45 .3 .85 .35 .5 .8 .4 1.3 .2 1.2 0 .3-.1 .25-.25 .25-.55 .2-.9 .65-5.45 .15-.85 .1-.2 .2 .7 .5 4.5 .3 1.85 .35 .95 .2 .25 .3 .1 1.3 .2 2.6 .05 3.15-.05 1.25-.15 .4-.25 .35-.5 .9-2.75 .15-.3 .15-.1 .15 .1 .15 .3 .6 1.95 .35 .85 .35 .45 .5 .25 1 .1 1.85-.05 3.25-.25 .95-.15 .8-.3 .65-.3 .5-.4 .5-.6 .35-.7 .3-.9 .2-1.05 .35-3.7 .25-5.8 .45-22.75 .65-54.15 .15-7.1 .1-1.45 .15 3.2 .15 8.8 .7 57.4 .2 10.5 .25 8.3 .3 5.05 .35 2.5 .3 1.05 .35 .7 .5 .65 .6 .45 .8 .4 1 .25 1.3 .2 1.75 .1 6.5 .1 5.9-.15 2.45-.3 1.65-.5 .65-.35 .5-.4 .4-.45 .3-.6 .4-1.35 .35-2.25 .3-3.4 .25-4.25 .45-11.65 .9-31.95 .2-4.45 .2-1.6 .2 1.6 .2 4.4 .95 33.45 .55 12.8 .3 3.9 .4 2.9 .25 1 .25 .6 .35 .5 .4 .3 .3 .1 .3-.05 .2-.15 .2-.3 .3-1 .25-1.7 .45-6.05 .75-16.05 .15-2 .15-.7 .15 .75 .15 2 .75 16.35 .45 6.2 .25 1.8 .3 1.15 .4 .65 .6 .35 .5 .1 .4-.05 .3-.35 .2-.5 .35-1.8 .55-4.65 .15-.75 .1-.15 .1 .15 .15 .8 .55 4.75 .35 1.9 .2 .55 .25 .35 .3 .2 .5 .15 3.05 .2 7.3 .1 11 0 1.95-.05 1.05-.1 .3-.15 .2-.2 .35-.85 .3-1.65 .5-3.95 .2-.6 .2 .6 .75 5.4 .3 .9 .2 .25 .25 .15 .75 .15 1.25 .05 .75-.1 .45-.15 .5-.55 .85-1.95 .2-.35 .15-.05 .3 .3 .65 1.55 .35 .65 .35 .4 .5 .2 1.6 .1 4.25 .05 3.7-.05 1.75-.1 .5-.15 .3-.15 .25-.4 .2-.55 .35-2.1 .55-5.05 .2-.7 .1 .15 .15 .9 .5 4.7 .3 1.85 .35 1 .25 .25 .3 .15 1.1 .15 2 .05 3.5 0 1.4-.1 .45-.2 .35-.35 .95-1.8 .3-.25 .3 .25 .7 1.4 .35 .55 .4 .3 .6 .15 4.15 .1 7.55-.1 3-.15 1.8-.35 .85-.35 .5-.6 .4-1.2 .3-1.7 .3-2.9 .25-3.5 .9-17 .2-2.25 .15-.55 .15 .5 .2 2.2 .8 14.65 .4 4.55 .2 .9 .1 .15 .1-.1 .65-2.65 .15-.2 .1 .1 .25 1.1 .9 6.65 .35 1.3 .4 .6 .35 .25 .55 .2 1.85 .25 3.95 .1 1.45-.05 .7-.1 .45-.25 .35-.45 .35-.8 .65-1.9 .15-.25 .15-.1 .15 .1 .15 .25 .9 2.45 .25 .35 .3 .2 .25 0 .3-.25 .9-1.6 .3-.2 .3 .2 .85 1.6 .25 .25 .25 .15 .3 0 .3-.2 .95-1.4 .3-.2 .3 .2 .95 1.5 .3 .3 .35 .15 1.4 .1 4.65 .05V260 H20 Z" class="s"/>
<path d="M49 114.65l.2-3.8 .2-7.7 .45-31.7M50.35 71.55l.45 31.9 .2 7.75 .2 3.85M87.25 116.85l.25-2.65 .25-4.05 .6-13.65M89.25 96.5l.6 13.65 .25 4 .25 2.7M95.9 116.65l.3-2.85M96.8 113.85l.3 2.8M121.8 101.1l.35-20.9 .55-47M123.3 33.2l.55 47 .35 20.9M150.55 116.25l.25-1.75 .25-2.7 .45-8.2 .4-11.7 .65-23.95M153.65 67.9l.65 23.9 .4 11.65 .4 7.5 .25 2.85 .25 1.9M158.35 116.7l.3-2.65 .25-3.65 .65-14.1M160.45 96.45l.65 14.3 .25 3.7 .25 2.45M193.65 116.85l.25-2.1M194.5 114.75l.25 2.1M215.95 116.65l.35-3.4M216.9 113.25l.35 3.4M249.45 116.95l.3-2.65 .3-4.1 .75-14.5M251.85 96.45l.55 10.5 .35 4.55 .15 1.1 .2 .7 .1 0 .1-.15 .2-.75" class="p"/>
<path d="M20 120.1l16.45 .05 9.55 .05 .95-.05 .7-.2 .5-.3 .35-.5 .25-.75 .2-1.45 .3-6.2 .25-12.3 .4-29.75 .2-6.75 .2 6.85 .5 35.75 .25 9.45 .2 3.4 .2 1.5 .35 1.05 .65 .8 .6 .4 .85 .35 2.55 .7 3.1 .45 3.75 .3 7.85 .1 10.25-.05 3.2-.25 .95-.2 .65-.35 .4-.45 .3-.8 .25-1.3 .25-2.2 .4-6.15 .7-15.25 .15-1.95 .15-.75 .15 .75 .15 1.95 .7 15.25 .4 6.15 .2 1.85 .25 1.4 .3 .9 .35 .5 .35 .2 .45 .2 1.3 .2 1.2-.05 .3-.1 .25-.2 .25-.55 .2-.85 .65-5.35 .15-.85 .1-.15 .2 .7 .5 4.35 .3 1.85 .35 .9 .2 .2 .3 .15 1.3 .2 2.7 .05 3.1-.05 1.2-.15 .4-.25 .35-.55 .9-2.75 .15-.3 .15-.1 .15 .1 .15 .3 .6 2 .35 .85 .35 .45 .5 .25 .95 .05 1.85 0 3.25-.25 .95-.2 .8-.25 .65-.35 .5-.35 .45-.55 .4-.7 .3-.9 .2-.95 .35-3.45 .25-5.3 .45-21.05 .7-56.7 .15-6.95 .1-1.4 .15 3.15 .15 8.5 .7 56.6 .45 19.2 .3 5.25 .35 2.7 .3 1.05 .35 .7 .5 .65 .6 .5 .8 .4 1 .25 1.3 .2 1.7 .15 6.35 .1 6-.15 2.5-.3 1.7-.5 .65-.3 .5-.4 .4-.5 .3-.55 .4-1.35 .35-2.25 .3-3.3 .25-4.1 .45-11.25 .9-30.2 .2-4.15 .2-1.5 .2 1.5 .2 4.15 .95 31.6 .55 12.3 .35 4.3 .4 2.65 .25 .9 .25 .55 .3 .45 .4 .3 .3 .1 .3-.05 .2-.15 .2-.25 .3-.95 .25-1.6 .45-5.65 .75-15 .15-1.85 .15-.65 .15 .7 .15 1.85 .75 15.3 .45 5.8 .25 1.65 .3 1.1 .4 .6 .6 .35 .5 .05 .4-.05 .3-.35 .2-.5 .35-1.9 .55-4.7 .15-.8 .1-.15 .1 .2 .15 .8 .55 4.8 .35 1.95 .2 .55 .25 .4 .3 .2 .5 .1 1.2 .15 1.9 .1 7.6 .1 10.75 0 1.9-.05 1-.15 .3-.1 .2-.2 .35-.9 .3-1.7 .5-4.1 .2-.65 .2 .65 .75 5.6 .3 .9 .2 .3 .25 .15 .75 .15 1.25 0 .75-.05 .45-.2 .5-.55 .85-2.05 .2-.3 .15-.1 .15 .1 .15 .2 .65 1.65 .35 .65 .35 .4 .5 .25 1.7 .1 4.6 .05 3.4-.05 1.65-.15 .5-.15 .3-.25 .2-.35 .2-.65 .35-2.3 .55-5.55 .2-.75 .1 .2 .15 .95 .5 5.15 .3 2.1 .35 1.05 .25 .3 .3 .15 1 .15 1.9 .1 3.6 0 1.5-.1 .45-.2 .35-.3 .95-1.75 .3-.25 .3 .25 .7 1.35 .35 .5 .4 .3 .6 .15 4.25 .05 7.45-.05 3-.2 1.8-.3 .85-.4 .5-.55 .4-1.15 .3-1.7 .3-2.85 .25-3.5 .9-16.75 .2-2.2 .15-.55 .15 .5 .2 2.1 .8 14.45 .4 4.45 .2 .8 .1 .1 .1-.1 .65-2.9 .15-.25 .1 .1 .25 1.15 .9 6.95 .35 1.3 .4 .7 .35 .25 .5 .15 1.8 .25 3.8 .15 2.35-.15 .5-.2 .35-.4 .35-.75 .65-1.7 .15-.25 .15-.1 .15 .1 .15 .2 .9 2.25 .25 .3 .25 .2 .3-.05 .3-.25 .9-1.6 .3-.25 .3 .25 .9 1.65 .25 .25 .25 .1 .3 0 .3-.25 .9-1.3 .3-.2 .3 .2 .95 1.45 .3 .25 .35 .2 1.4 .1 4.65 .05V260 H20 Z" class="s"/>
<path d="M49 116.4l.2-4.05 .2-8.05 .45-32.25M50.35 72.15l.45 32.4 .2 8.1 .2 4.1M87.25 118.9l.5-6.65 .6-13.3M89.25 98.95l.6 13.3 .5 6.65M95.9 118.75l.3-2.75M96.8 116.05l.3 2.75M121.85 100.1l.3-18.75 .55-46.2M123.3 35.15l.55 46.2 .3 18.75M150.55 118.35l.25-1.75 .25-2.65 .45-7.95 .4-11.2 .6-21M153.7 73.75l.6 21 .4 11.15 .4 7.25 .25 2.8 .25 1.9M158.4 118.65l.25-2.15 .25-3.4 .65-13.15M160.45 100.05l.6 12.55 .5 6.2M193.65 118.7l.25-2.15M194.5 116.55l.25 2.15M215.9 118.75l.4-4.25M216.9 114.5l.4 4.25M249.5 118.7l.3-2.85 .25-3.5 .75-14.3M251.85 98.8l.55 10.3 .35 4.45 .15 1.1 .2 .6 .1-.05 .1-.2 .2-.8" class="p"/>
<path d="M20 122.15l16.45 0 9.5 .1 1-.1 .7-.15 .5-.35 .35-.45 .25-.8 .2-1.5 .3-6.3 .25-12.25 .4-28.9 .2-6.5 .15 3.85 .5 34.8 .3 12.25 .2 3.45 .2 1.6 .35 1.05 .3 .45 .35 .35 .65 .45 .85 .35 2.55 .7 3.15 .45 3.75 .3 8.05 .1 10.05-.1 1.85-.1 1.3-.15 .95-.25 .6-.3 .4-.5 .3-.85 .25-1.35 .25-2.3 .4-6.45 .7-15.75 .15-2.05 .15-.75 .15 .75 .15 2.05 .7 15.75 .4 6.4 .2 1.95 .25 1.5 .3 .95 .35 .5 .35 .25 .45 .2 1.25 .25 1.25-.05 .3-.1 .25-.25 .25-.5 .2-.85 .65-5.35 .15-.85 .1-.15 .2 .7 .5 4.35 .3 1.8 .35 .95 .2 .2 .3 .15 1.3 .15 2.7 .1 3.1-.05 1.2-.2 .4-.25 .35-.5 .9-2.75 .15-.3 .15-.15 .15 .15 .15 .3 .6 1.95 .35 .85 .35 .5 .45 .2 .9 .1 1.75 0 3.35-.25 1.75-.4 .65-.3 .55-.4 .5-.55 .4-.75 .3-.85 .2-1 .35-3.5 .25-5.25 .45-20.55 .7-53.55 .15-6.45 .1-1.3 .15 2.9 .15 7.95 .75 56.5 .4 15.8 .3 5.3 .4 2.9 .3 1 .35 .65 .5 .65 .6 .45 .8 .35 1.05 .3 1.3 .15 1.75 .15 6.45 .1 5.8-.2 2.45-.3 1.65-.5 .65-.35 .5-.4 .4-.5 .3-.55 .4-1.35 .35-2.25 .3-3.25 .25-4.1 .5-12.85 .9-31.3 .2-4.25 .2-1.55 .2 1.55 .2 4.25 .95 32.8 .6 13.8 .35 4.25 .4 2.6 .25 .9 .25 .6 .3 .4 .4 .3 .3 .1 .3-.1 .2-.15 .2-.35 .3-1.1 .25-1.85 .4-5.45 .75-15.75 .15-1.9 .15-.7 .15 .75 .15 1.95 .75 16 .45 6.05 .25 1.75 .3 1.1 .4 .65 .6 .35 .5 .1 .4-.05 .3-.35 .2-.55 .35-1.9 .55-4.8 .15-.8 .1-.15 .1 .15 .15 .85 .55 4.9 .35 2 .2 .6 .25 .35 .3 .2 .5 .15 1.15 .15 1.85 .05 7.1 .15 11.2 0 2-.05 1.05-.15 .3-.15 .2-.15 .35-.85 .3-1.65 .5-3.9 .2-.65 .2 .65 .75 5.35 .3 .85 .2 .3 .25 .15 .75 .1 1.3 .05 .7-.1 .45-.15 .5-.6 .85-2.15 .2-.3 .15-.1 .15 .1 .15 .2 .65 1.7 .35 .7 .35 .4 .5 .25 1.65 .15 4.45 0 3.55-.05 1.7-.1 .5-.15 .3-.25 .2-.35 .2-.65 .35-2.25 .55-5.5 .2-.8 .1 .2 .15 .95 .5 5.15 .3 2.05 .35 1.05 .25 .3 .3 .15 1 .15 1.9 .1 3.6 0 1.5-.1 .45-.2 .35-.3 .95-1.7 .3-.25 .3 .25 .7 1.3 .35 .5 .4 .3 .6 .15 4.3 .05 7.45-.1 2.95-.15 1.8-.3 .85-.4 .5-.6 .4-1.15 .3-1.7 .3-2.85 .25-3.45 .9-16.75 .2-2.2 .15-.55 .15 .5 .2 2.1 .8 14.45 .4 4.45 .2 .8 .1 .1 .1-.15 .65-2.85 .15-.25 .1 .1 .25 1.15 .9 6.95 .35 1.3 .4 .65 .35 .25 .5 .2 1.85 .25 3.95 .1 1.5-.05 .7-.1 .45-.2 .35-.45 .35-.75 .65-1.85 .15-.3 .15-.1 .15 .1 .15 .25 .9 2.4 .25 .35 .25 .2 .3-.05 .3-.25 .9-1.65 .3-.25 .3 .25 .9 1.7 .25 .25 .25 .15 .3-.05 .3-.25 .9-1.35 .3-.2 .3 .2 .95 1.55 .3 .25 .35 .15 1.4 .15 4.65 .05V260 H20 Z" class="s"/>
<path d="M48.95 118.9l.25-4.75 .2-8 .45-31.5M50.35 74.75l.45 31.65 .2 8.1 .25 4.8M87.25 120.7l.45-6 .65-14.7M89.25 100l.65 14.7 .45 6M95.9 120.8l.3-2.75M96.8 118.1l.3 2.75M121.9 99.85l.8-59.2M123.3 40.65l.8 59.2M150.55 120l.25-1.9 .25-2.8 .45-8.5 .4-11.7 .65-23.5M153.7 73.25l.6 21.75 .4 11.7 .4 7.7 .25 3.05 .25 2M158.35 120.8l.3-2.6 .25-3.55 .65-13.75M160.45 101.05l.65 13.95 .25 3.65 .25 2.35M193.65 120.95l.25-2.1M194.5 118.85l.25 2.1M215.9 120.8l.4-4.15M216.9 116.6l.4 4.2M249.5 120.7l.3-2.85 .25-3.45 .75-14.3M251.85 100.8l.55 10.35 .35 4.45 .15 1.05 .2 .6 .1 0 .1-.2 .2-.8" class="p"/>
<path d="M20 124.2l16.3 0 9.6 .1 .95-.1 .7-.15 .55-.35 .35-.45 .3-.95 .2-1.6 .3-6.65 .25-12.55 .4-29 .2-6.4 .2 6.5 .45 32.2 .3 12.65 .2 3.65 .2 1.7 .35 1.15 .3 .45 .35 .35 .6 .45 .85 .35 2.5 .7 3.15 .5 3.75 .25 7.95 .15 10.1-.1 1.9-.1 1.3-.15 .95-.25 .65-.3 .45-.6 .3-.85 .25-1.4 .25-2.4 .4-6.55 .7-16.05 .15-2.05 .15-.75 .15 .75 .15 2.05 .7 16 .4 6.6 .2 2 .25 1.55 .3 1 .35 .5 .35 .25 .45 .2 1.25 .25 1.25-.05 .3-.1 .25-.25 .25-.55 .2-.9 .65-5.6 .15-.9 .1-.2 .2 .75 .5 4.6 .3 1.9 .35 1 .2 .2 .3 .15 1.3 .2 2.6 .05 3.15-.05 1.25-.15 .4-.25 .35-.55 .9-2.8 .15-.3 .15-.15 .15 .15 .15 .3 .6 2 .35 .85 .35 .5 .5 .25 .95 .05 1.8 0 3.2-.25 .95-.2 .8-.25 .65-.35 .55-.45 .5-.6 .4-.75 .3-1 .2-1.1 .35-3.9 .25-5.85 .45-22.05 .7-56.15 .15-6.6 .1-1.35 .15 2.95 .15 8.25 .75 59.3 .45 18.4 .3 5.2 .4 2.9 .3 1 .35 .7 .5 .6 .6 .5 .8 .4 1 .25 1.3 .2 1.75 .15 6.35 .1 5.85-.2 2.45-.25 .95-.25 .75-.3 .65-.35 .5-.4 .4-.5 .3-.6 .4-1.35 .35-2.3 .3-3.35 .25-4.15 .5-12.75 .9-30.75 .2-4.15 .2-1.5 .2 1.45 .2 4.15 1 33.7 .55 12.35 .35 4.35 .4 2.65 .25 .95 .25 .6 .3 .4 .4 .35 .3 .05 .3-.05 .2-.15 .2-.35 .3-1.05 .25-1.8 .4-5.35 .75-15.3 .15-1.9 .15-.65 .15 .7 .15 1.95 .75 15.55 .45 5.95 .25 1.7 .3 1.1 .4 .6 .6 .35 .55 .1 .35-.1 .3-.35 .2-.55 .35-2 .55-5.05 .15-.85 .1-.15 .1 .2 .15 .85 .65 5.9 .35 1.65 .25 .55 .3 .25 .45 .2 .8 .1 4.3 .2 10.05 .1 7.15-.05 1.45-.05 .8-.15 .3-.15 .2-.2 .3-.8 .3-1.65 .5-4 .2-.65 .2 .65 .75 5.45 .3 .9 .2 .25 .25 .15 .75 .15 1.3 .05 .7-.1 .45-.2 .5-.6 .85-2.1 .2-.35 .15-.1 .15 .1 .15 .25 .65 1.7 .35 .7 .35 .4 .5 .25 1.75 .1 4.65 .05 3.45-.05 1.6-.15 .4-.1 .3-.25 .2-.3 .2-.65 .35-2.2 .55-5.25 .2-.75 .1 .2 .15 .9 .5 4.9 .3 2 .35 1.05 .25 .25 .3 .15 1.05 .15 1.9 .05 3.6 0 1.45-.1 .45-.15 .35-.35 .95-1.7 .3-.25 .3 .25 .7 1.35 .35 .45 .4 .3 .6 .15 4.35 .1 7.4-.1 2.95-.15 1.8-.35 .85-.4 .5-.6 .4-1.2 .3-1.8 .3-3 .25-3.65 .9-17.6 .2-2.3 .15-.55 .15 .5 .2 2.25 .8 15.15 .4 4.7 .2 .9 .1 .1 .1-.05 .65-2.85 .15-.25 .1 .1 .25 1.2 .9 7 .35 1.35 .4 .7 .35 .25 .5 .15 1.85 .3 3.9 .1 1.5-.05 .75-.1 .45-.25 .35-.45 .35-.75 .65-1.9 .15-.25 .15-.1 .15 .1 .15 .25 .9 2.4 .25 .4 .3 .15 .25 0 .3-.25 .9-1.7 .3-.2 .3 .25 .9 1.7 .25 .25 .25 .1 .3 0 .3-.25 .9-1.35 .3-.2 .3 .25 .95 1.5 .3 .25 .35 .15 1.4 .1 4.65 .05V260 H20 Z" class="s"/>
<path d="M48.95 120.7l.2-3.6 .2-7.2 .5-34.2M50.35 75.8l.5 34.4 .2 7.25 .2 3.65M87.2 123l.25-2.6 .25-4 .65-14.95M89.25 101.4l.65 15 .25 3.95 .25 2.65M95.85 123.05l.35-3.35M96.8 119.75l.35 3.35M121.85 102.1l.85-64.85M123.3 37.25l.85 64.85M150.55 121.9l.5-4.8 .45-8.5 1-33.1M153.7 75.45l1 33 .4 7.75 .5 5.15M158.35 122.9l.3-2.55 .25-3.45 .65-13.4M160.45 103.65l.6 12.75 .5 6.35M193.65 122.9l.25-2.1M194.5 120.75l.25 2.15M215.9 123l.4-4M216.9 119l.4 4M249.45 122.9l.3-2.75 .3-4.25 .75-15M251.85 101.65l.55 10.85 .35 4.75 .15 1.1 .2 .7 .1 0 .1-.2 .2-.8" class="p"/>
<path d="M20 126.25l16.3 0 9.6 .05 .95-.05 .7-.2 .55-.3 .35-.5 .3-.95 .2-1.65 .3-6.7 .25-12.3 .4-27.85 .2-6.1 .2 6.15 .5 33.8 .3 10.9 .2 3.1 .2 1.4 .35 1 .65 .8 .6 .4 .85 .35 2.55 .7 3.1 .45 3.7 .3 7.8 .15 10.2-.1 3.25-.25 .95-.2 .65-.35 .4-.45 .3-.75 .25-1.2 .25-2.05 .4-5.8 .75-15.95 .15-1.95 .15-.7 .15 .7 .15 1.95 .7 15 .4 6.2 .2 1.9 .25 1.5 .3 .95 .4 .55 .35 .2 .5 .2 1.3 .2 1.15-.05 .3-.15 .2-.2 .25-.6 .2-.9 .65-5.7 .15-.9 .1-.2 .2 .75 .5 4.65 .3 1.95 .35 1 .2 .25 .3 .15 1.3 .15 2.6 .1 3.15-.05 1.25-.15 .4-.3 .35-.5 .9-2.85 .15-.3 .15-.1 .15 .1 .15 .3 .6 2 .35 .9 .35 .45 .5 .25 1 .1 1.8-.05 3.15-.25 .95-.2 .8-.3 .65-.35 .5-.4 .5-.65 .4-.75 .3-1 .2-1.05 .35-3.8 .25-5.6 .45-21.35 .75-61.05 .15-6.7 .1-1.4 .15 3.05 .15 8.3 .75 61.05 .45 19.5 .3 5.65 .4 3.15 .3 1.1 .35 .75 .5 .7 .65 .55 .8 .4 1 .25 1.25 .2 1.65 .15 5.95 .15 6-.15 2.6-.3 1.75-.4 .65-.35 .55-.35 .4-.45 .35-.6 .4-1.25 .35-2 .3-2.95 .3-4.55 .5-11.95 .85-27.05 .25-5.05 .2-1.35 .2 1.35 .2 3.75 1 31.05 .55 11.6 .35 4.1 .4 2.55 .25 .9 .25 .6 .3 .4 .4 .3 .3 .05 .3-.05 .2-.15 .2-.35 .3-1.15 .25-1.8 .4-5.45 .75-15.6 .15-1.95 .15-.65 .15 .7 .15 1.95 .75 15.9 .45 6 .25 1.75 .3 1.1 .4 .65 .6 .35 .5 .1 .4-.1 .3-.35 .2-.5 .35-1.95 .55-4.85 .15-.8 .1-.15 .1 .2 .15 .8 .55 5 .35 1.95 .2 .6 .25 .35 .3 .2 .5 .15 1.2 .15 1.85 .1 7.3 .1 11 0 1.95-.05 1.05-.15 .3-.1 .2-.2 .35-.9 .3-1.7 .5-4.05 .2-.6 .2 .6 .75 5.55 .3 .9 .2 .3 .25 .15 .75 .15 1.25 0 .75-.05 .45-.2 .5-.6 .85-2.05 .2-.35 .15-.1 .15 .1 .15 .25 .65 1.65 .35 .7 .35 .4 .5 .25 1.7 .1 4.45 .05 3.5-.05 1.7-.15 .5-.15 .3-.2 .2-.35 .2-.65 .35-2.3 .55-5.45 .2-.75 .1 .2 .15 .95 .5 5.05 .3 2.05 .35 1.1 .25 .25 .3 .15 1 .2 1.9 .05 3.6 0 1.5-.1 .45-.2 .35-.3 .95-1.7 .3-.25 .3 .25 .7 1.35 .35 .45 .4 .3 .6 .15 4.35 .05 7.4-.05 2.95-.2 1.8-.3 .85-.4 .5-.6 .4-1.2 .3-1.75 .3-2.95 .25-3.55 .9-17.25 .2-2.3 .15-.55 .15 .5 .2 2.2 .8 14.8 .4 4.5 .2 .75 .1 .05 .1-.2 .65-3.3 .15-.3 .1 .1 .25 1.3 .9 7.6 .35 1.45 .2 .45 .25 .35 .35 .2 .55 .2 1.85 .25 3.85 .15 1.5-.05 .7-.1 .45-.25 .35-.45 .35-.75 .65-1.9 .15-.25 .15-.1 .15 .1 .15 .25 .9 2.4 .25 .35 .25 .2 .3-.05 .3-.25 .9-1.7 .3-.25 .3 .25 .9 1.75 .25 .25 .25 .15 .3-.05 .3-.2 .9-1.35 .3-.2 .3 .2 .95 1.5 .3 .25 .35 .15 1.4 .15 4.65 .05V260 H20 Z" class="s"/>
<path d="M48.95 122.65l.2-3.65 .2-7.1 .5-33.1M50.35 78.9l.5 33.25 .2 7.2 .2 3.7M87.25 124.8l.45-5.85 .65-14.05M89.25 104.9l.65 14.05 .45 5.85M95.85 125.05l.35-3.4M96.8 121.65l.35 3.4M121.85 102.25l.85-66.85M123.3 35.4l.85 66.85M150.55 124.15l.5-4.6 .4-6.9 .4-10.45 .65-21.25M153.7 80.9l1 30.5 .4 7.3 .5 4.9M158.35 124.95l.3-2.6 .25-3.5 .65-13.7M160.45 105.25l.6 13.05 .5 6.45M193.65 124.85l.25-2.15M194.5 122.7l.25 2.15M215.9 124.9l.4-4.15M216.9 120.75l.4 4.15M249.45 125l.3-2.7 .3-4.15 .75-14.75M251.85 104.15l.55 10.6 .35 4.5 .15 1.05 .2 .55 .2-.35 .2-.95" class="p"/>
<path d="M20 128.25l25.85 .1 1-.1 .7-.2 .55-.35 .35-.45 .3-1.05 .2-1.75 .3-6.95 .65-40.35 .2-6 .2 6.05 .5 33.85 .3 11.2 .2 3.2 .2 1.55 .35 1.05 .65 .8 .6 .4 .85 .4 2.5 .65 3.1 .5 3.7 .25 7.75 .15 10.3-.05 3.25-.25 .95-.25 .65-.3 .4-.45 .3-.75 .25-1.2 .25-2.05 .4-5.7 .75-15.6 .15-1.85 .15-.65 .15 .65 .15 1.85 .7 14.65 .4 6.1 .2 1.9 .25 1.45 .3 .95 .4 .6 .8 .4 1.3 .2 1.2-.05 .3-.15 .2-.2 .25-.55 .2-.85 .65-5.4 .15-.85 .1-.2 .2 .7 .5 4.4 .3 1.9 .35 .95 .2 .2 .3 .15 1.4 .15 2.8 .05 2.95-.05 1.15-.15 .4-.3 .35-.55 .9-3.05 .15-.35 .15-.15 .15 .15 .15 .35 .6 2.15 .35 .95 .35 .5 .45 .25 .85 .1 1.7 0 3.3-.25 1-.2 .8-.3 .65-.3 .55-.45 .5-.6 .4-.75 .3-.9 .2-1 .35-3.45 .3-6.5 .45-21.3 .75-59.15 .15-6.45 .1-1.3 .15 2.9 .15 7.95 .8 62.25 .4 16.55 .3 5.75 .4 3.3 .3 1.1 .35 .75 .5 .7 .65 .55 .8 .4 1 .3 1.3 .2 1.75 .15 6.25 .1 5.8-.2 2.5-.3 .95-.25 .75-.25 .65-.4 .5-.4 .4-.55 .3-.6 .4-1.4 .35-2.35 .3-3.35 .25-4.1 .5-12.7 .9-31.3 .25-5.5 .2-1.45 .2 1.45 .2 4.1 1 34.1 .6 13.75 .35 4.35 .4 2.7 .25 .95 .25 .6 .3 .45 .4 .3 .3 .1 .25-.05 .2-.2 .2-.35 .3-1.15 .25-1.85 .4-5.6 .75-16.1 .15-2 .15-.7 .15 .75 .15 2.05 .75 16.35 .45 6.25 .25 1.8 .3 1.15 .4 .65 .6 .35 .5 .1 .4-.05 .3-.4 .2-.55 .35-1.95 .55-5.05 .15-.85 .1-.2 .1 .2 .15 .9 .55 5.15 .35 2.05 .2 .6 .25 .4 .3 .2 .5 .15 1.2 .15 1.85 .1 7.2 .15 11.1 0 1.95-.1 1.05-.1 .3-.15 .2-.2 .35-.9 .3-1.75 .5-4.2 .2-.65 .2 .65 .75 5.75 .3 .95 .2 .25 .25 .15 .75 .15 1.25 .05 .75-.1 .45-.15 .5-.65 .85-2.15 .2-.35 .15-.05 .15 .05 .15 .25 .65 1.75 .35 .7 .35 .4 .5 .25 1.65 .15 4.45 0 3.55-.05 1.7-.1 .5-.15 .3-.25 .2-.35 .2-.65 .35-2.3 .55-5.6 .2-.75 .1 .2 .15 .95 .5 5.2 .3 2.05 .35 1.1 .25 .3 .3 .15 1 .15 1.9 .1 3.6 0 1.5-.1 .45-.2 .35-.35 .95-1.7 .3-.25 .3 .25 .7 1.35 .35 .5 .4 .3 .6 .15 4.35 .05 7.4-.1 2.95-.15 1.8-.35 .85-.4 .5-.65 .4-1.2 .3-1.8 .3-3.05 .25-3.7 .9-17.95 .2-2.3 .15-.6 .15 .55 .2 2.25 .8 15.5 .25 3.5 .2 1.75 .15 .65 .1 .15 .1 0 .2-.55 .45-1.95 .15-.2 .1 .1 .25 1.1 .85 6.35 .35 1.4 .4 .75 .35 .25 .5 .2 1.8 .25 3.85 .1 1.55 0 .8-.1 .5-.25 .35-.45 .35-.75 .65-1.85 .15-.25 .15-.1 .15 .1 .15 .25 .9 2.35 .25 .35 .25 .2 .3-.05 .3-.25 .9-1.7 .3-.25 .3 .25 .9 1.75 .25 .25 .25 .15 .3-.05 .3-.2 .9-1.35 .3-.2 .3 .2 .95 1.5 .3 .25 .35 .15 1.4 .15 4.65 .05V260 H20 Z" class="s"/>
<path d="M48.9 125.05l.25-4.4 .2-7.35 .5-33.15M50.35 80.25l.5 33.35 .2 7.4 .25 4.45M87.25 126.85l.45-5.75 .65-13.75M89.25 107.35l.65 13.7 .45 5.8M95.9 126.85l.3-2.8M96.8 124.05l.3 2.8M121.9 101.15l.8-62.25M123.3 38.9l.8 62.25M150.55 125.45l.5-5.2 .4-7.75 .4-11.6 .65-23.35M153.7 77.5l1 33.6 .4 8.2 .5 5.55M158.3 127l.3-2.35 .25-3.35 .7-14.95M160.45 106.5l.65 14.35 .25 3.7 .25 2.45M193.6 127.2l.3-2.7M194.5 124.5l.3 2.7M215.9 126.85l.4-4.25M216.9 122.6l.4 4.25M249.45 126.9l.3-2.8 .3-4.3 .75-15.3M251.85 105.3l.55 11.1 .35 4.85 .15 1.25 .2 .75 .1 .05 .1-.1 .2-.7" class="p"/>
<path d="M20 130.3l25.8 .1 1-.1 .7-.2 .55-.3 .35-.45 .3-.9 .2-1.5 .3-6 .25-11.25 .45-30.25 .2-5.85 .2 5.9 .5 33.25 .3 11.3 .2 3.3 .25 1.85 .35 .95 .65 .75 .65 .45 .85 .35 2.5 .7 3.1 .45 3.75 .25 7.9 .15 10.05-.1 3.2-.25 .95-.2 .65-.35 .4-.45 .3-.8 .25-1.25 .25-2.1 .4-5.85 .75-15.8 .15-1.9 .15-.65 .15 .65 .15 1.9 .7 14.85 .4 6.25 .2 1.9 .25 1.55 .3 1 .4 .6 .35 .2 .45 .2 1.25 .2 1.2 0 .3-.1 .25-.25 .25-.55 .2-.85 .65-5.35 .15-.85 .1-.15 .2 .65 .5 4.4 .3 1.85 .35 .9 .2 .25 .3 .15 1.4 .15 2.85 .05 2.9-.05 1.15-.2 .4-.25 .35-.6 .9-3.05 .15-.35 .15-.15 .15 .1 .15 .35 .6 2.2 .35 1 .35 .5 .45 .25 .85 .1 1.7 0 1.8-.1 1.5-.2 1-.2 .8-.25 .65-.35 .55-.45 .45-.5 .4-.75 .3-.85 .2-.95 .35-3.15 .3-5.95 .25-8.95 .25-13.8 .75-57.7 .15-6.2 .1-1.25 .15 2.8 .15 7.65 .8 60.85 .45 17.9 .3 5.3 .4 3 .3 1.05 .35 .75 .5 .65 .65 .55 .8 .4 1.05 .3 1.3 .2 1.7 .15 6.15 .1 5.75-.2 2.5-.3 1.7-.5 .65-.35 .55-.4 .4-.5 .3-.6 .4-1.35 .35-2.15 .3-3.1 .3-4.8 .5-12.5 .9-30.35 .25-5.3 .2-1.4 .2 1.4 .2 3.95 1 33.1 .6 13.55 .35 4.35 .4 2.75 .25 .95 .25 .6 .3 .45 .4 .35 .3 .05 .25-.05 .2-.15 .2-.35 .3-1.15 .25-1.9 .4-5.65 .75-16.2 .15-2 .15-.65 .15 .7 .15 2.05 .75 16.5 .45 6.25 .25 1.8 .3 1.15 .4 .7 .6 .35 .5 .1 .4-.05 .3-.35 .2-.5 .35-1.9 .55-4.75 .15-.8 .1-.15 .1 .2 .15 .8 .55 4.9 .35 1.95 .2 .55 .25 .4 .3 .15 .5 .15 1.2 .15 1.95 .1 7.55 .1 10.7 0 1.95-.05 1-.15 .3-.1 .2-.2 .35-.95 .3-1.8 .5-4.25 .2-.65 .2 .65 .75 5.85 .3 .95 .2 .3 .25 .15 .75 .15 1.25 .05 .75-.1 .45-.15 .5-.6 .85-2.05 .2-.35 .15-.1 .15 .1 .15 .25 .65 1.65 .35 .7 .35 .35 .5 .25 1.7 .1 4.6 .05 3.4-.05 1.65-.15 .5-.15 .3-.2 .2-.4 .2-.65 .35-2.35 .55-5.7 .2-.8 .1 .2 .15 1 .5 5.3 .3 2.1 .35 1.15 .25 .25 .3 .2 1 .15 1.85 .05 3.65 0 1.5-.1 .45-.15 .35-.3 .95-1.7 .3-.2 .3 .2 .7 1.3 .35 .5 .4 .3 .6 .1 4.4 .1 7.35-.1 2.95-.15 1.8-.35 .85-.4 .5-.6 .4-1.2 .3-1.75 .3-3 .25-3.55 .9-17.45 .2-2.3 .15-.55 .15 .5 .2 2.2 .8 15 .4 4.65 .2 .85 .1 .1 .1-.1 .65-2.95 .15-.25 .1 .1 .25 1.2 .9 7.15 .35 1.35 .4 .7 .35 .25 .5 .15 1.8 .3 3.8 .1 1.55-.05 .8-.05 .5-.25 .35-.45 .35-.75 .65-1.8 .15-.25 .15-.1 .15 .1 .15 .25 .9 2.3 .25 .35 .25 .15 .3 0 .3-.3 .9-1.75 .3-.25 .3 .25 .9 1.8 .25 .3 .25 .1 .3 0 .3-.25 .9-1.35 .3-.15 .3 .2 .95 1.5 .3 .25 .35 .15 1.4 .1 4.65 .1V260 H20 Z" class="s"/>
<path d="M48.9 126.95l.25-4.55 .2-7.4 .5-32.65M50.35 82.45l.5 32.85 .2 7.45 .25 4.6M87.2 129.15l.5-6.35 .65-13.95M89.25 108.85l.65 13.95 .5 6.3M95.9 128.9l.3-2.75M96.8 126.2l.3 2.75M121.95 99.7l.75-57.85M123.3 41.85l.75 57.85M150.55 127.45l.5-5.25 .4-7.7 1.05-34M153.7 80.45l1 32.7 .45 8.85 .45 4.85M158.3 129.05l.3-2.4 .25-3.4 .7-15.05M160.45 108.35l.65 14.45 .25 3.75 .25 2.45M193.6 129.15l.3-2.7M194.5 126.45l.3 2.7M215.85 129.3l.45-4.85M216.9 124.45l.45 4.85M249.45 129.05l.3-2.75 .3-4.15 .75-14.9M251.85 108l.55 10.75 .35 4.65 .15 1.1 .2 .65 .1 0 .1-.2 .2-.85" class="p"/>
<path d="M20 132.35l25.7 .05 1.05-.1 .75-.2 .55-.35 .35-.5 .3-1 .2-1.7 .3-6.5 .25-12 .45-31.55 .2-6 .2 6.1 .5 34.65 .3 12.1 .2 3.65 .25 2 .35 1.05 .65 .85 .6 .4 .85 .4 2.45 .7 3.1 .45 3.7 .3 7.85 .15 10.15-.1 1.9-.1 1.35-.15 .95-.25 .65-.3 .45-.55 .3-.85 .25-1.3 .25-2.2 .4-6.1 .75-16.25 .15-1.95 .15-.7 .15 .7 .2 2.8 .65 14.4 .4 6.5 .45 3.65 .3 1.05 .4 .6 .35 .25 .45 .2 1.25 .25 1.2-.05 .3-.1 .25-.25 .25-.55 .2-.9 .65-5.6 .15-.85 .1-.2 .2 .7 .5 4.6 .3 1.9 .35 1 .2 .2 .3 .15 1.3 .15 2.7 .1 3.1-.05 1.2-.2 .4-.25 .35-.55 .9-2.85 .15-.35 .15-.1 .15 .1 .15 .35 .6 2.05 .35 .9 .35 .45 .5 .25 .95 .1 1.75-.05 3.1-.25 .95-.2 .8-.3 .65-.35 .55-.4 .5-.6 .4-.75 .3-.95 .2-1 .35-3.35 .3-6.2 .25-9.25 .25-14.05 .75-57.45 .15-6.05 .1-1.25 .15 2.75 .15 7.5 .8 60.75 .45 18.4 .3 5.55 .4 3.2 .3 1.1 .35 .8 .55 .75 .65 .5 .8 .4 1 .3 1.3 .2 1.7 .15 5.95 .15 5.85-.2 2.55-.25 1.75-.5 .65-.35 .55-.4 .4-.5 .3-.55 .4-1.35 .35-2.1 .3-3.05 .3-4.55 .5-11.9 .9-28.4 .25-4.9 .2-1.35 .2 1.3 .25 4.9 .95 29.8 .6 12.9 .35 4.15 .4 2.7 .25 .95 .25 .6 .3 .45 .4 .3 .3 .1 .25-.05 .2-.15 .2-.35 .3-1.15 .25-1.8 .4-5.4 .75-15.65 .15-1.9 .15-.7 .15 .75 .15 1.95 .75 15.9 .45 6.05 .25 1.7 .3 1.15 .4 .6 .6 .4 .5 .05 .4-.05 .3-.35 .2-.5 .35-1.85 .55-4.7 .15-.8 .1-.15 .1 .2 .15 .8 .55 4.8 .35 1.95 .2 .55 .25 .4 .3 .15 .5 .15 1.2 .15 1.95 .1 7.65 .1 10.65 0 1.9-.05 1-.15 .3-.15 .2-.2 .35-.9 .3-1.75 .5-4.25 .2-.65 .2 .65 .75 5.8 .3 .95 .2 .25 .25 .2 .75 .15 1.25 0 .75-.05 .45-.2 .5-.55 .85-2.05 .2-.35 .15-.1 .15 .1 .15 .25 .65 1.65 .35 .65 .35 .4 .5 .25 1.7 .1 4.55 .05 3.45-.05 1.65-.15 .5-.15 .3-.2 .2-.35 .2-.65 .35-2.35 .55-5.55 .2-.8 .1 .25 .15 .95 .5 5.15 .3 2.1 .35 1.1 .25 .25 .3 .15 1 .2 1.9 .05 3.6 0 1.5-.1 .45-.2 .35-.3 .95-1.7 .3-.25 .3 .25 .7 1.35 .35 .45 .4 .3 .6 .15 4.45 .05 7.3-.05 2.95-.2 1.8-.35 .85-.4 .5-.6 .4-1.25 .3-1.85 .3-3.05 .25-3.7 .9-18 .2-2.35 .15-.55 .15 .5 .2 2.3 .8 15.45 .4 4.7 .2 .85 .1 .1 .1-.15 .65-3.25 .15-.25 .1 .1 .25 1.3 .9 7.6 .35 1.45 .4 .7 .35 .3 .5 .2 1.8 .25 3.8 .15 1.55-.05 .8-.1 .5-.25 .35-.45 .35-.75 .65-1.9 .15-.25 .15-.1 .15 .1 .15 .25 .9 2.4 .25 .35 .25 .2 .3-.05 .3-.25 .9-1.7 .3-.25 .3 .25 .9 1.75 .25 .25 .25 .15 .3-.05 .3-.2 .9-1.45 .3-.2 .3 .25 .95 1.55 .3 .25 .35 .15 1.4 .15 4.65 .05V260 H20 Z" class="s"/>
<path d="M48.9 128.55l.25-4.95 .2-7.9 .5-34.15M50.35 81.6l.5 34.35 .2 8 .25 5.05M87.2 130.95l.5-6.6 .65-14.35M89.25 110l.65 14.35 .5 6.6M95.85 131.2l.35-3.3M96.8 127.9l.35 3.35M121.95 100.55l.75-57.7M123.3 42.85l.75 57.7M150.55 129.65l.5-5.1 .4-7.35 1-30.45M153.75 86.7l1 30.35 .4 7.3 .45 4.7M158.35 130.95l.3-2.6 .25-3.5 .65-13.7M160.45 111.3l.65 13.9 .25 3.65 .25 2.35M193.6 131.2l.3-2.65M194.5 128.55l.3 2.65M215.9 130.95l.4-4.25M216.9 126.7l.4 4.25M249.45 130.95l.3-2.85 .3-4.3 .75-15.35M251.85 109.25l.55 11.05 .35 4.75 .15 1.1 .2 .65 .1-.05 .1-.25 .2-.9" class="p"/>
<path d="M20 134.35l25.7 .05 1.05-.05 .75-.25 .55-.35 .35-.5 .3-1.05 .2-1.75 .3-6.65 .25-12 .45-30.9 .2-5.8 .2 5.9 .5 34 .3 12.15 .2 3.75 .25 2.1 .35 1.1 .3 .45 .35 .35 .6 .45 .85 .4 2.45 .65 3.1 .5 3.8 .3 8 .1 9.95-.1 1.9-.1 1.3-.15 .95-.25 .65-.35 .45-.55 .3-.9 .25-1.35 .25-2.35 .4-6.35 .75-16.85 .15-2 .15-.7 .15 .7 .2 2.9 .65 14.9 .4 6.8 .45 3.85 .3 1.1 .4 .65 .3 .25 .45 .2 1.25 .25 1.25 0 .3-.1 .25-.25 .25-.55 .2-.8 .65-5.3 .15-.85 .1-.15 .2 .7 .5 4.3 .3 1.8 .35 .95 .2 .2 .3 .15 1.35 .15 2.7 .05 3.05-.05 1.2-.15 .4-.25 .35-.55 .9-2.8 .15-.3 .15-.15 .15 .15 .15 .3 .6 2 .35 .9 .35 .45 .45 .25 .85 .05 1.7 0 3.2-.25 1-.2 .8-.25 .65-.3 .55-.4 .5-.6 .4-.65 .3-.85 .25-1.2 .35-3.3 .3-6.1 .45-19.2 .75-53.8 .15-6.9 .15-2.5 .15 2.5 .15 6.9 .85 59.35 .45 16.15 .3 4.85 .4 2.85 .3 1 .35 .7 .5 .6 .65 .55 .8 .35 1.05 .3 1.3 .2 1.7 .15 6.05 .1 5.7-.15 2.5-.3 1.75-.5 .65-.35 .55-.4 .4-.5 .3-.55 .4-1.3 .35-2.05 .3-2.95 .3-4.5 .5-11.65 .95-30.3 .25-4.9 .2-1.35 .2 1.3 .25 4.95 1 31.6 .6 12.65 .35 4.1 .4 2.6 .25 .95 .25 .55 .3 .45 .4 .35 .25 .05 .25-.05 .2-.15 .2-.3 .3-1.05 .25-1.7 .4-5.15 .75-14.8 .15-1.8 .15-.65 .15 .7 .15 1.85 .75 15.1 .45 5.75 .25 1.6 .3 1.1 .4 .6 .6 .3 .55 .1 .35-.05 .3-.35 .2-.55 .35-1.9 .55-4.9 .15-.8 .1-.15 .1 .2 .15 .8 .55 5 .35 2 .2 .55 .25 .4 .3 .2 .5 .15 1.2 .15 1.85 .1 7.3 .1 11 0 1.95-.05 1.05-.15 .3-.15 .2-.2 .35-.85 .3-1.7 .5-4.1 .2-.65 .2 .65 .75 5.6 .3 .9 .2 .25 .25 .2 .75 .1 1.3 .05 .7-.05 .45-.2 .5-.65 .85-2.15 .2-.35 .15-.05 .15 .05 .15 .25 .65 1.75 .35 .7 .35 .4 .5 .25 1.7 .15 4.45 0 3.5-.05 1.7-.1 .5-.15 .3-.25 .2-.35 .2-.65 .35-2.35 .55-5.65 .2-.8 .1 .2 .15 1 .5 5.25 .3 2.1 .35 1.1 .25 .3 .3 .15 1 .15 1.85 .1 3.65 0 1.5-.1 .45-.2 .35-.3 .95-1.7 .3-.25 .3 .25 .7 1.3 .35 .5 .4 .3 .6 .15 4.25 .05 7.45-.05 3-.2 1.8-.3 .85-.35 .5-.6 .4-1.15 .3-1.65 .3-2.8 .25-3.4 .9-16.55 .2-2.15 .15-.55 .15 .5 .2 2.1 .8 14.15 .4 4.35 .2 .8 .1 .05 .1-.15 .65-2.95 .15-.25 .1 .1 .25 1.15 .9 7 .35 1.35 .4 .7 .35 .25 .5 .15 1.9 .25 3.95 .1 1.45 0 .7-.15 .45-.25 .35-.45 .35-.8 .65-1.95 .15-.3 .15-.1 .15 .1 .15 .25 .9 2.55 .25 .35 .3 .25 .25-.05 .3-.25 .9-1.65 .3-.25 .3 .25 .9 1.7 .25 .25 .25 .15 .3-.05 .3-.2 .9-1.35 .3-.2 .3 .25 .95 1.45 .3 .25 .35 .15 1.4 .15 4.65 .05V260 H20 Z" class="s"/>
<path d="M48.85 131.05l.25-4.25 .2-7 .55-35.95M50.35 83.95l.55 36.15 .2 7.05 .25 4.35M87.15 133.15l.25-2.55 .25-3.85 .7-15.8M89.25 110.95l.7 15.8 .25 3.85 .25 2.55M95.9 133.05l.3-2.75M96.8 130.35l.3 2.7M122 100.7l.7-50.75M123.3 49.95l.7 50.75M150.55 131.35l.45-4.6 .45-8.35 1.05-32.55M153.7 85.8l1.05 32.5 .4 7.55 .45 4.9M158.35 133.1l.3-2.45 .25-3.3 .65-13M160.45 114.5l.6 12.4 .5 6.15M193.65 132.95l.25-2.15M194.5 130.8l.25 2.15M215.9 132.9l.4-4.3M216.9 128.6l.4 4.3M249.5 133l.3-2.8 .25-3.4 .75-14.1M251.85 113.4l.55 10.15 .35 4.35 .15 1.05 .2 .55 .1-.05 .1-.2 .2-.85" class="p"/>
<path d="M20 136.4l25.65 .05 1.05-.05 .7-.2 .55-.3 .4-.5 .3-.9 .2-1.45 .2-3.05 .15-4.15 .25-11.6 .45-29.4 .2-5.5 .2 5.55 .5 32.4 .35 13.05 .2 3.15 .25 1.75 .35 1 .65 .75 .6 .4 .85 .4 2.5 .65 3.1 .5 3.75 .25 7.95 .15 9.95-.1 3.2-.25 .95-.25 .65-.3 .45-.6 .3-.85 .25-1.35 .25-2.25 .4-6.1 .7-15.2 .2-2.7 .15-.7 .15 .7 .2 2.7 .7 15.2 .4 6.1 .2 1.9 .25 1.45 .3 1 .4 .55 .35 .25 .45 .2 1.25 .2 1.2-.05 .3-.1 .2-.2 .25-.55 .2-.85 .65-5.4 .15-.85 .1-.2 .2 .7 .5 4.4 .3 1.85 .35 .95 .2 .25 .3 .1 1.35 .2 2.8 .05 3-.05 1.15-.2 .4-.25 .35-.6 .9-3 .15-.35 .15-.1 .15 .1 .15 .35 .6 2.15 .35 .95 .35 .5 .45 .25 .85 .1 1.7 0 3.2-.3 1-.2 .8-.3 .65-.3 .55-.45 .5-.6 .4-.75 .3-.9 .2-.95 .35-3.25 .3-5.85 .25-8.65 .25-13.05 .75-55.3 .15-7.05 .15-2.5 .15 2.5 .15 7.05 .85 61.1 .45 17.15 .3 5.25 .2 1.9 .25 1.45 .3 1 .35 .7 .5 .65 .65 .5 .8 .4 1.05 .3 1.35 .25 1.7 .1 6.1 .15 5.65-.2 2.5-.35 .95-.25 .75-.25 .65-.4 .5-.4 .4-.55 .3-.6 .4-1.4 .35-2.25 .3-3.15 .3-4.75 .5-12.3 .95-31.45 .25-5.1 .2-1.35 .2 1.35 .25 5.05 1 32.85 .6 13.35 .35 4.4 .4 2.8 .25 1.05 .25 .65 .3 .45 .4 .35 .25 .1 .25 0 .2-.15 .2-.35 .3-1.05 .25-1.75 .4-5.25 .75-15.2 .15-1.85 .15-.65 .15 .7 .15 1.9 .75 15.5 .45 5.9 .25 1.65 .3 1.1 .4 .65 .6 .3 .5 .1 .4-.05 .3-.35 .2-.5 .35-1.9 .55-4.85 .15-.8 .1-.15 .1 .2 .15 .8 .55 4.95 .35 1.95 .2 .6 .25 .35 .3 .2 .5 .15 1.2 .15 1.95 .1 7.45 .1 10.8 0 1.95-.05 1-.15 .3-.1 .2-.2 .35-.9 .3-1.8 .5-4.25 .2-.65 .2 .65 .75 5.8 .3 .95 .2 .3 .25 .15 .7 .15 1.25 .05 .8-.05 .45-.2 .5-.55 .85-1.95 .2-.3 .15-.05 .3 .3 .65 1.55 .35 .65 .35 .35 .5 .2 1.75 .15 4.7 0 3.3-.05 1.6-.15 .5-.1 .3-.25 .2-.35 .2-.65 .35-2.3 .55-5.6 .2-.75 .1 .2 .15 .95 .5 5.2 .3 2.05 .35 1.1 .25 .3 .3 .15 1 .15 1.85 .05 3.65 .05 1.5-.1 .45-.2 .35-.3 .95-1.7 .3-.2 .3 .2 .7 1.3 .35 .5 .4 .3 .6 .1 4.35 .1 7.4-.1 2.95-.15 1.8-.3 .85-.4 .5-.6 .4-1.15 .3-1.75 .3-2.9 .25-3.5 .9-17.05 .2-2.2 .15-.55 .15 .5 .2 2.15 .8 14.65 .4 4.55 .2 .85 .1 .1 .1-.1 .65-2.8 .15-.25 .1 .1 .25 1.2 .9 6.85 .35 1.3 .4 .65 .35 .25 .5 .2 1.9 .25 3.95 .1 1.45-.05 .7-.1 .45-.25 .35-.5 .35-.8 .65-2 .15-.3 .15-.1 .15 .1 .15 .25 .9 2.6 .25 .4 .3 .2 .25-.05 .3-.25 .9-1.7 .3-.3 .3 .3 .9 1.75 .25 .3 .25 .1 .3-.05 .3-.2 .9-1.45 .3-.2 .3 .2 .95 1.6 .3 .25 .35 .2 1.4 .15 4.65 .05V260 H20 Z" class="s"/>
<path d="M48.85 133.05l.25-4.25 .2-6.85 .5-31.25M50.4 90.8l.5 31.45 .2 6.9 .25 4.35M87.15 135.3l.5-6.15 .7-15.1M89.25 114.05l.7 15.1 .5 6.15M95.9 135l.3-2.8M96.8 132.25l.3 2.75M122 100.4l.7-52.15M123.3 48.25l.7 52.1M150.55 132.9l.45-4.95 .45-8.8 1.05-33.95M153.7 85.15l1.05 33.85 .4 8 .45 5.25M158.35 135l.3-2.5 .25-3.4 .65-13.3M160.45 115.95l.6 12.7 .5 6.3M193.6 135.25l.3-2.65M194.5 132.6l.3 2.65M215.9 135l.4-4.25M216.9 130.75l.4 4.25M249.45 135.25l.3-2.65 .3-4.1 .75-14.55M251.85 114.7l.55 10.5 .35 4.55 .15 1.1 .2 .65 .1 0 .1-.2 .2-.8" class="p"/>
<path d="M20 138.45l25.6 .05 1.05-.1 .75-.2 .55-.35 .4-.5 .3-1 .2-1.55 .3-5.95 .3-13.75 .45-29.95 .2-5.5 .2 5.6 .5 33 .35 13.65 .2 3.35 .25 1.9 .35 1.05 .65 .8 .6 .4 .85 .4 2.4 .7 3.05 .45 3.75 .3 7.8 .15 10.2-.1 3.25-.25 .95-.25 .65-.3 .45-.55 .3-.85 .25-1.25 .25-2.2 .4-5.8 .7-14.35 .2-2.6 .15-.6 .15 .6 .2 2.6 .7 14.35 .4 5.8 .45 3.25 .3 .9 .4 .6 .8 .4 1.25 .2 1.2-.05 .3-.1 .2-.2 .25-.5 .2-.85 .65-5.1 .15-.8 .1-.2 .2 .7 .5 4.15 .3 1.8 .35 .9 .2 .2 .3 .1 1.35 .2 2.8 .05 2.95-.05 1.2-.2 .4-.25 .35-.55 .9-2.85 .15-.35 .15-.1 .15 .1 .15 .35 .6 2.05 .35 .85 .35 .5 .5 .25 .95 .05 1.7 0 3.05-.3 .95-.2 .8-.25 .65-.35 .55-.45 .5-.6 .4-.75 .3-.85 .25-1.25 .35-3.45 .3-6.2 .5-22.45 .75-55.75 .15-7 .15-2.5 .15 2.5 .15 7 .85 61.7 .45 17.8 .3 5.55 .2 2.05 .25 1.55 .3 1.05 .4 .85 .5 .65 .65 .5 .8 .4 1.05 .35 1.3 .2 1.7 .15 5.95 .1 5.65-.15 2.5-.35 .95-.2 .8-.3 .65-.35 .55-.45 .4-.5 .3-.6 .45-1.55 .35-2.3 .3-3.2 .3-4.8 .5-12.2 .95-30.8 .25-4.95 .2-1.35 .2 1.3 .25 4.95 1 32.2 .6 13.3 .35 4.4 .4 2.9 .25 1.05 .25 .65 .3 .5 .4 .35 .25 .1 .25-.05 .2-.15 .2-.35 .3-1.1 .25-1.85 .4-5.55 .75-15.95 .15-1.95 .15-.7 .15 .75 .15 2 .75 16.25 .45 6.2 .25 1.75 .3 1.15 .4 .65 .6 .35 .5 .1 .4-.05 .3-.35 .2-.55 .35-1.95 .55-4.95 .15-.85 .1-.15 .1 .2 .15 .85 .55 5.05 .35 2.05 .2 .6 .25 .4 .3 .2 .5 .15 1.15 .15 1.85 .1 7.1 .1 11.2 0 2-.05 1.05-.15 .3-.1 .2-.2 .35-.9 .3-1.7 .5-4.1 .2-.65 .2 .6 .75 5.65 .3 .9 .2 .3 .25 .15 .75 .15 1.25 0 .75-.05 .45-.2 .5-.6 .85-2.1 .2-.35 .15-.05 .15 .05 .15 .25 .65 1.7 .35 .7 .35 .4 .5 .25 1.75 .1 4.6 .05 3.35-.05 1.65-.15 .5-.15 .3-.25 .2-.35 .2-.7 .35-2.45 .55-5.9 .2-.8 .1 .2 .15 1.05 .5 5.45 .3 2.2 .35 1.15 .25 .3 .3 .15 1 .2 1.85 .05 3.65 0 1.5-.1 .45-.2 .35-.3 .95-1.75 .3-.25 .3 .25 .7 1.35 .35 .5 .4 .3 .6 .15 4.15 .1 7.55-.1 3-.15 1.8-.3 .85-.35 .5-.6 .4-1.1 .3-1.6 .3-2.75 .25-3.3 .9-16 .2-2.1 .15-.5 .15 .45 .2 2.05 .8 13.7 .4 4.15 .15 .6 .1 .15 .1-.1 .2-.65 .5-2.6 .15-.25 .1 .1 .25 1.2 .9 7.1 .35 1.35 .2 .45 .25 .3 .35 .25 .55 .15 1.9 .25 3.9 .1 1.4-.05 .7-.1 .45-.25 .35-.45 .35-.75 .65-1.9 .15-.25 .15-.1 .15 .1 .15 .25 .9 2.4 .25 .35 .25 .2 .3-.05 .3-.25 .9-1.75 .3-.25 .3 .25 .9 1.8 .25 .25 .25 .15 .3-.05 .3-.2 .9-1.35 .3-.2 .3 .2 .95 1.5 .3 .25 .35 .2 1.4 .1 4.65 .05V260 H20 Z" class="s"/>
<path d="M48.85 134.8l.25-4.55 .2-7.15 .5-32M50.4 91.2l.5 32.2 .2 7.25 .25 4.6M87.2 137.1l.5-6.35 .65-13.45M89.25 117.3l.65 13.45 .5 6.3M95.9 137.25l.3-2.65M96.8 134.6l.3 2.65M122 100.75l.7-52.5M123.3 48.25l.7 52.5M150.55 134.8l.45-5 .45-8.8 1.05-33.35M153.7 87.6l1.05 33.25 .4 8 .45 5.3M158.3 137.15l.3-2.35 .25-3.35 .7-14.8M160.45 116.85l.65 14.2 .25 3.7 .25 2.4M193.65 137l.25-2.15M194.5 134.85l.25 2.15M215.85 137.3l.45-5M216.9 132.3l.45 5M249.5 137.2l.3-2.75 .25-3.3 .75-13.65M251.85 118.2l.55 9.8 .35 4.2 .15 .95 .2 .5 .2-.35 .2-.9" class="p"/>
<path d="M20 140.45l25.6 .05 1.05-.05 .75-.2 .55-.35 .4-.5 .3-1.05 .2-1.6 .3-6 .25-10.65 .5-31.75 .2-5.25 .2 5.3 .5 31.95 .35 13.45 .2 3.4 .25 1.95 .35 1.05 .3 .45 .4 .4 .65 .45 .8 .35 2.45 .7 3 .45 3.65 .25 7.6 .15 10.3-.05 3.3-.25 1-.2 .65-.3 .45-.5 .3-.75 .25-1.15 .25-1.9 .45-6.2 .7-13.9 .2-2.45 .15-.6 .15 .6 .2 2.45 .7 13.9 .4 5.65 .45 3.2 .3 .9 .4 .6 .8 .4 1.3 .2 1.15-.1 .3-.1 .2-.2 .25-.6 .2-.9 .65-5.65 .15-.9 .1-.2 .2 .75 .5 4.6 .3 1.95 .35 1 .2 .25 .3 .15 1.35 .15 2.75 .05 3-.05 1.2-.15 .4-.3 .35-.6 .9-3 .15-.35 .15-.15 .15 .15 .15 .35 .6 2.15 .35 .95 .35 .5 .45 .25 .9 .1 1.7-.05 1.75-.1 1.4-.2 .95-.2 .8-.3 .65-.35 .55-.45 .5-.6 .4-.75 .3-.95 .25-1.35 .35-3.65 .3-6.5 .5-23 .75-55.75 .15-6.9 .15-2.45 .15 2.45 .2 10 .8 58.7 .25 11.9 .25 7.7 .3 5.2 .2 1.95 .25 1.45 .3 1.05 .4 .8 .5 .65 .65 .55 .8 .4 1.05 .3 1.3 .2 1.65 .15 5.85 .15 5.7-.2 2.55-.3 1.75-.5 .65-.3 .55-.45 .4-.5 .3-.6 .4-1.3 .35-2.05 .3-2.9 .3-4.35 .5-11.2 1-30.45 .25-4.65 .2-1.2 .2 1.2 .25 4.6 1.05 31.7 .6 12.15 .35 4 .4 2.6 .25 .95 .25 .6 .3 .45 .35 .3 .25 .1 .25-.05 .2-.15 .2-.35 .3-1.1 .25-1.85 .4-5.45 .75-15.75 .15-1.9 .15-.65 .15 .7 .15 2 .75 16 .45 6.1 .25 1.75 .3 1.15 .4 .65 .65 .35 .55 .1 .35-.1 .25-.25 .2-.5 .35-1.7 .55-4.4 .15-.75 .1-.15 .1 .2 .15 .75 .5 4.15 .3 1.75 .2 .7 .2 .4 .25 .25 .3 .15 .9 .15 1.5 .15 5.9 .1 12.85 .05 2.3-.05 1.2-.15 .35-.1 .25-.25 .35-.95 .3-1.85 .5-4.35 .2-.7 .2 .7 .75 5.95 .3 1 .2 .3 .25 .15 .75 .15 1.25 .05 .75-.05 .45-.2 .5-.6 .85-2.1 .2-.35 .15-.05 .15 .05 .15 .25 .65 1.7 .35 .7 .35 .4 .5 .2 1.65 .15 4.45 0 3.55 0 1.7-.15 .5-.15 .3-.2 .2-.35 .2-.65 .35-2.25 .55-5.4 .2-.75 .1 .2 .15 .95 .5 5 .3 2.05 .35 1.05 .25 .25 .3 .15 1.05 .15 1.95 .1 3.55 0 1.45-.1 .45-.2 .35-.35 .95-1.8 .3-.25 .3 .25 .7 1.4 .35 .5 .4 .35 .6 .15 4.2 .05 7.5-.05 3-.2 1.8-.3 .85-.4 .5-.6 .4-1.15 .3-1.75 .3-2.95 .25-3.5 .9-17.1 .2-2.25 .15-.55 .15 .5 .2 2.15 .8 14.7 .4 4.45 .2 .8 .1 .05 .1-.15 .65-3.2 .15-.3 .1 .1 .25 1.25 .9 7.4 .35 1.4 .2 .45 .25 .35 .35 .25 .55 .15 1.9 .25 3.85 .1 1.45 0 .7-.1 .45-.25 .35-.45 .35-.8 .65-1.95 .15-.25 .15-.1 .15 .1 .15 .25 .9 2.45 .25 .4 .25 .15 .3 0 .3-.3 .9-1.7 .3-.25 .3 .25 .9 1.8 .25 .25 .25 .15 .3-.05 .3-.2 .9-1.35 .3-.15 .3 .2 .95 1.45 .3 .25 .35 .15 1.4 .15 4.65 .05V260 H20 Z" class="s"/>
<path d="M48.85 136.75l.25-4.55 .2-7.1 .5-31.1M50.4 94.15l.5 31.2 .2 7.2 .25 4.65M87.2 139.15l.5-6.15 .65-13M89.25 119.95l.65 13 .5 6.2M95.85 139.3l.35-3.35M96.8 135.95l.35 3.4M122 101.45l.7-52.5M123.3 48.95l.7 52.5M150.55 137l.45-4.9 .4-7.3 1.05-31.25M153.75 93.5l1 30 .4 7.7 .45 5.15M158.3 139.25l.3-2.35 .25-3.25 .7-14.6M160.45 119.2l.65 14.05 .25 3.65 .25 2.35M193.6 139.2l.3-2.75M194.5 136.45l.3 2.75M215.9 139.2l.4-4.1M216.9 135.1l.4 4.1M249.45 139.3l.3-2.7 .3-4.1 .75-14.6M251.85 118.65l.55 10.5 .35 4.5 .15 1.05 .2 .55 .1-.05 .1-.25 .2-.95" class="p"/>
<path d="M20 142.5l25.55 .05 1.05-.05 .75-.2 .55-.3 .4-.5 .3-.85 .2-1.35 .35-6.45 .25-10.4 .5-30.25 .2-4.95 .2 5 .5 30.45 .35 13.15 .2 3.4 .25 1.95 .35 1.05 .3 .45 .4 .4 .65 .45 .85 .35 2.45 .7 3.05 .45 3.75 .25 7.85 .15 9.95-.1 3.25-.25 .95-.2 .65-.35 .45-.5 .3-.8 .25-1.25 .25-2.05 .45-6.55 .7-14.6 .2-2.6 .15-.6 .15 .6 .2 2.6 .7 14.6 .4 6 .45 3.4 .3 1 .4 .6 .35 .25 .45 .2 1.25 .2 1.2-.05 .3-.15 .2-.2 .25-.55 .2-.9 .65-5.55 .15-.9 .1-.15 .2 .7 .5 4.55 .3 1.9 .35 1 .2 .2 .3 .15 1.35 .2 2.65 .05 3.1-.05 1.2-.2 .4-.25 .35-.55 .9-2.9 .15-.35 .15-.1 .15 .1 .15 .35 .6 2.05 .35 .9 .35 .5 .5 .25 .95 .1 1.7-.05 3-.3 .95-.2 .8-.3 .65-.35 .55-.45 .5-.6 .4-.75 .3-.95 .25-1.25 .35-3.45 .3-6.05 .5-21.7 .8-58.6 .15-6.75 .15-2.45 .15 2.45 .2 9.8 .85 61.25 .45 17.3 .3 5.45 .2 2.05 .25 1.55 .3 1.05 .4 .85 .5 .65 .65 .55 .8 .45 1 .3 1.3 .25 1.65 .15 5.7 .1 5.7-.15 2.6-.3 1-.2 .8-.3 .65-.35 .55-.4 .4-.45 .35-.65 .45-1.55 .35-2.15 .3-3.05 .3-4.5 .5-11.45 1-30.8 .25-4.65 .2-1.25 .2 1.25 .25 4.6 1.05 32.1 .6 12.5 .35 4.15 .4 2.75 .25 1 .25 .65 .3 .45 .4 .35 .25 .05 .25-.05 .35-.45 .3-1.05 .25-1.8 .4-5.35 .75-15.5 .15-1.85 .15-.7 .15 .75 .15 1.95 .75 15.75 .45 6 .25 1.7 .3 1.1 .4 .65 .6 .35 .5 .1 .4-.1 .3-.3 .2-.55 .35-1.95 .55-4.85 .15-.8 .1-.2 .1 .2 .15 .85 .55 5 .35 2 .2 .6 .25 .35 .3 .2 .5 .15 1.2 .15 1.95 .1 7.5 .1 10.75 .05 1.95-.1 1-.15 .3-.1 .2-.2 .35-.95 .3-1.85 .5-4.3 .2-.7 .2 .7 .75 5.9 .3 1 .2 .3 .25 .15 .75 .15 1.25 .05 .75-.1 .45-.15 .5-.65 .85-2.1 .2-.35 .15-.1 .15 .1 .15 .2 .65 1.75 .35 .7 .35 .4 .5 .25 1.65 .1 4.4 .05 3.6-.05 1.7-.1 .5-.15 .3-.25 .2-.35 .2-.65 .35-2.3 .55-5.5 .2-.75 .1 .2 .15 .95 .5 5.1 .3 2.1 .35 1.05 .25 .3 .3 .15 1.05 .15 1.95 .1 3.55 0 1.45-.15 .45-.2 .35-.35 .95-1.85 .3-.25 .3 .25 .7 1.45 .35 .55 .4 .3 .6 .15 4.1 .1 7.55-.1 3.05-.15 1.8-.3 .85-.4 .5-.6 .4-1.15 .3-1.7 .3-2.9 .25-3.45 .9-16.9 .2-2.2 .15-.55 .15 .5 .2 2.1 .8 14.5 .4 4.35 .15 .65 .1 .15 .1-.05 .2-.7 .5-2.7 .15-.3 .1 .1 .25 1.25 .9 7.5 .35 1.4 .2 .45 .25 .35 .35 .2 .55 .2 1.85 .25 3.9 .1 1.45-.05 .7-.1 .45-.25 .35-.45 .35-.8 .65-1.9 .15-.25 .15-.1 .15 .1 .15 .25 .9 2.45 .25 .35 .25 .2 .3-.05 .3-.3 .9-1.8 .3-.25 .3 .3 .9 1.85 .25 .25 .25 .15 .3 0 .3-.25 .9-1.35 .3-.2 .3 .25 .95 1.5 .3 .25 .35 .15 1.4 .15 4.65 .05V260 H20 Z" class="s"/>
<path d="M48.85 138.8l.25-4.55 .2-6.95 .5-29.75M50.4 97.65l.5 29.9 .2 7.05 .25 4.65M87.15 141.3l.5-6.1 .7-14.55M89.25 120.65l.7 14.55 .5 6.1M95.85 141.4l.35-3.35M96.8 138.1l.35 3.3M122 102.35l.7-52.15M123.3 50.2l.7 52.15M150.55 138.7l.45-5.1 .4-7.55 1.05-31.65M153.75 94.35l1 30.4 .4 7.9 .45 5.4M158.3 141.3l.3-2.3 .25-3.2 .7-14.35M160.45 121.6l.65 13.8 .25 3.6 .25 2.35M193.6 141.3l.3-2.75M194.5 138.55l.3 2.75M215.9 141.15l.4-4.2M216.9 136.95l.4 4.2M249.5 141.05l.3-2.9 .25-3.45 .75-14.4M251.85 121l.55 10.35 .35 4.4 .15 1.05 .2 .5 .2-.35 .2-.95" class="p"/>
<path d="M20 144.55l25.5 .05 1.1-.1 .75-.2 .55-.35 .4-.5 .3-.95 .2-1.5 .35-7.05 .25-11.05 .5-31.5 .2-5.1 .2 5.15 .55 34.4 .35 12.45 .2 3.15 .25 1.8 .35 1.05 .65 .8 .65 .45 .8 .35 2.4 .7 3.05 .45 3.75 .3 7.8 .15 10.05-.1 3.25-.25 1-.25 .65-.3 .45-.55 .3-.8 .25-1.25 .25-2.1 .4-5.65 .75-15.45 .2-2.6 .15-.6 .15 .6 .2 2.55 .7 14.55 .4 6.05 .25 2.25 .25 1.4 .3 .9 .4 .55 .8 .4 1.25 .25 1.15-.05 .3-.15 .2-.2 .25-.55 .2-.9 .65-5.55 .15-.9 .1-.2 .2 .75 .5 4.55 .3 1.9 .35 1 .2 .2 .3 .15 1.35 .2 2.75 .05 3-.05 1.2-.2 .4-.3 .35-.55 .9-3.05 .15-.3 .15-.15 .15 .1 .15 .35 .6 2.2 .35 .9 .35 .5 .45 .25 .85 .1 1.6 0 3.15-.25 1.75-.45 .7-.35 .55-.45 .5-.55 .4-.65 .3-.8 .25-1.1 .4-3.65 .3-5.8 .5-20.35 .8-53.55 .15-6.1 .15-2.2 .15 2.2 .2 8.85 .85 56.15 .25 10.5 .25 6.85 .3 4.65 .2 1.8 .25 1.35 .3 .95 .4 .75 .5 .6 .65 .5 .8 .4 1.05 .3 1.35 .2 1.7 .15 5.9 .1 5.55-.15 2.5-.35 1.7-.5 .65-.35 .55-.4 .4-.55 .3-.55 .45-1.55 .35-2.2 .3-3.1 .3-4.5 .5-11.35 1-30.1 .25-4.45 .2-1.2 .2 1.15 .25 4.5 1.05 31.35 .6 12.4 .35 4.2 .4 2.75 .25 1.05 .25 .65 .3 .5 .4 .35 .25 .05 .25-.05 .35-.4 .3-1.05 .25-1.75 .4-5.25 .75-15.1 .15-1.85 .15-.65 .15 .7 .15 1.9 .75 15.4 .45 5.9 .25 1.65 .3 1.1 .4 .6 .6 .35 .5 .1 .4-.1 .3-.35 .2-.5 .35-1.95 .55-4.9 .15-.8 .1-.15 .1 .2 .15 .8 .55 5.05 .35 2 .2 .55 .25 .4 .3 .2 .5 .15 1.2 .15 1.85 .1 7.3 .1 11 0 1.95-.05 1.05-.15 .3-.1 .2-.2 .35-.9 .3-1.75 .5-4.15 .2-.65 .2 .65 .75 5.65 .3 .95 .2 .3 .25 .15 .75 .15 1.25 0 .75-.05 .45-.2 .5-.6 .85-2.1 .2-.35 .15-.1 .15 .1 .15 .25 .65 1.7 .35 .7 .35 .4 .5 .25 1.65 .1 4.4 .05 3.6-.05 1.7-.15 .5-.1 .3-.25 .2-.35 .2-.65 .35-2.25 .55-5.4 .2-.75 .1 .2 .15 .95 .5 5 .3 2.05 .35 1.05 .25 .3 .3 .15 1.05 .15 1.9 .05 3.6 0 1.45-.1 .45-.15 .35-.35 .95-1.75 .3-.25 .3 .25 .7 1.35 .35 .5 .4 .3 .6 .15 4.25 .1 7.45-.1 3-.15 1.8-.35 .85-.35 .5-.6 .4-1.15 .3-1.7 .3-2.9 .25-3.45 .9-16.9 .2-2.2 .15-.55 .15 .5 .2 2.15 .8 14.45 .4 4.4 .2 .75 .1 .05 .1-.15 .65-3.2 .15-.25 .1 .1 .25 1.25 .9 7.3 .35 1.4 .2 .45 .25 .3 .35 .25 .55 .2 1.9 .25 3.85 .1 1.45-.05 .7-.1 .45-.25 .35-.45 .35-.75 .65-1.9 .15-.25 .15-.1 .15 .1 .15 .25 .9 2.4 .25 .35 .25 .2 .3-.05 .3-.25 .9-1.7 .3-.25 .3 .25 .9 1.75 .25 .3 .25 .1 .3-.05 .3-.2 .9-1.45 .3-.2 .3 .25 .95 1.55 .3 .25 .35 .2 1.4 .1 4.65 .05V260 H20 Z" class="s"/>
<path d="M48.8 141l.25-4.2 .2-6.55 .55-33.3M50.4 97.05l.55 33.5 .2 6.6 .25 4.3M87.15 143.25l.5-6.15 .7-14.5M89.25 122.6l.7 14.5 .5 6.15M95.85 143.4l.35-3.3M96.8 140.1l.35 3.35M122.1 100.35l.55-38.35M123.35 62l.55 38.35M150.55 140.65l.45-5.15 .4-7.5 1.05-31.05M153.75 96.9l1 29.8 .4 7.9 .45 5.35M158.35 143.1l.3-2.45 .25-3.4 .65-13.25M160.45 124.2l.6 12.6 .5 6.3M193.65 143.05l.25-2.2M194.5 140.85l.25 2.2M215.9 143.25l.4-4.1M216.9 139.15l.4 4.1M249.5 143.1l.3-2.9 .25-3.45 .75-14.4M251.85 123.05l.55 10.35 .35 4.45 .15 1 .2 .55 .1-.05 .1-.25 .2-.9" class="p"/>
<path d="M20 146.6l25.5 0 1.1-.1 .75-.2 .55-.3 .4-.55 .3-.95 .2-1.55 .35-7.05 .25-10.9 .5-30.45 .2-4.9 .2 4.95 .55 33.3 .35 12.35 .2 3.15 .25 1.85 .4 1.15 .65 .75 .65 .45 .8 .35 2.4 .7 3 .45 3.7 .3 7.65 .1 10.2-.05 3.3-.25 1-.2 .65-.35 .45-.5 .3-.75 .25-1.2 .25-1.95 .4-5.3 .75-14.35 .2-2.35 .15-.6 .15 .6 .2 2.35 .7 13.5 .4 5.6 .25 2.15 .25 1.3 .3 .9 .4 .5 .8 .4 1.3 .2 1.1-.05 .3-.15 .2-.2 .25-.55 .2-.9 .65-5.45 .15-.85 .1-.2 .2 .7 .5 4.5 .3 1.85 .35 1 .2 .2 .3 .15 1.35 .15 2.75 .05 3-.05 1.2-.15 .4-.3 .35-.55 .9-2.95 .15-.3 .15-.15 .15 .1 .15 .35 .6 2.1 .35 .9 .35 .5 .5 .25 .9 .1 1.7-.05 3-.3 .95-.2 .8-.3 .65-.35 .55-.45 .5-.6 .4-.75 .3-.9 .25-1.25 .35-3.35 .3-5.8 .3-10.3 .25-13.05 .8-56.65 .15-6.4 .15-2.25 .15 2.25 .2 9.25 .85 59.5 .25 11.35 .25 7.55 .35 5.75 .4 2.95 .3 1.05 .4 .85 .55 .7 .65 .55 .8 .4 1.05 .3 1.35 .25 1.7 .15 5.85 .1 3.05-.05 2.45-.15 2.5-.35 .9-.2 .8-.35 .65-.35 .5-.45 .4-.5 .35-.7 .45-1.65 .35-2.35 .3-3.2 .3-4.75 .55-13.55 1-33 .25-4.85 .2-1.3 .2 1.25 .25 4.9 1.05 34.35 .65 14.6 .35 4.4 .4 2.95 .5 1.75 .3 .55 .4 .35 .25 .1 .25-.1 .35-.5 .25-1 .25-1.8 .4-5.5 .75-15.9 .15-1.9 .15-.7 .15 .75 .15 2 .75 16.2 .45 6.2 .25 1.75 .3 1.15 .4 .65 .65 .4 .55 .05 .35-.1 .25-.3 .2-.5 .35-1.95 .55-4.85 .15-.8 .1-.2 .1 .2 .15 .85 .55 5 .35 2 .2 .6 .25 .35 .3 .2 .5 .15 1.2 .15 1.9 .1 7.35 .15 10.9 0 1.95-.05 1.05-.15 .3-.15 .2-.2 .35-.95 .3-1.8 .5-4.3 .2-.7 .2 .7 .75 5.9 .3 .95 .2 .3 .25 .15 .75 .15 1.25 .05 .75-.05 .45-.2 .5-.6 .85-2.15 .2-.35 .15-.1 .15 .1 .15 .25 .65 1.7 .35 .7 .35 .45 .5 .2 1.7 .15 4.55 0 3.45 0 1.65-.15 .5-.15 .3-.25 .2-.35 .2-.7 .35-2.4 .55-5.8 .2-.85 .1 .25 .15 1 .5 5.4 .3 2.15 .35 1.15 .25 .3 .3 .15 1.05 .15 1.9 .1 3.6 0 1.45-.1 .45-.2 .35-.35 .95-1.9 .3-.25 .3 .25 .7 1.45 .35 .55 .4 .35 .6 .15 4.05 .05 7.6-.05 3.05-.2 1.8-.3 .85-.35 .5-.6 .4-1.15 .3-1.65 .3-2.85 .25-3.4 .9-16.6 .2-2.2 .15-.55 .15 .5 .2 2.1 .8 14.2 .4 4.35 .2 .7 .1 .05 .1-.15 .65-3.2 .15-.3 .1 .1 .25 1.25 .9 7.3 .35 1.4 .2 .45 .25 .3 .35 .25 .55 .2 1.9 .2 3.9 .15 1.4-.05 .7-.1 .45-.3 .35-.45 .35-.8 .65-2 .15-.25 .15-.1 .15 .1 .15 .25 .9 2.5 .25 .4 .25 .2 .3-.05 .3-.3 .9-1.8 .3-.3 .3 .3 .9 1.9 .25 .25 .25 .15 .3 0 .3-.25 .9-1.45 .3-.2 .3 .25 .95 1.55 .3 .3 .35 .15 1.4 .15 4.65 .05V260 H20 Z" class="s"/>
<path d="M48.8 142.95l.25-4.25 .2-6.5 .55-32.35M50.4 99.95l.55 32.55 .2 6.6 .25 4.3M87.2 145.15l.45-5.4 .65-12.5M89.3 127.2l.65 12.55 .45 5.35M95.85 145.55l.35-3.3M96.8 142.3l.3 2.8M122.05 101.8l.6-44M123.35 57.8l.6 44M150.55 141.7l.45-5.75 .4-8.35 1.05-34.1M153.75 93.45l1 32.7 .4 8.8 .45 6.05M158.3 145.1l.3-2.3 .25-3.3 .7-14.75M160.45 124.95l.65 14.2 .25 3.7 .25 2.4M193.6 145.35l.3-2.7M194.5 142.65l.3 2.7M215.85 145.5l.45-4.9M216.9 140.6l.45 4.9M249.5 145.2l.3-2.85 .25-3.4 .75-14.15M251.85 125.5l.55 10.15 .35 4.35 .15 1 .2 .5 .2-.3 .2-.95" class="p"/>
<path d="M20 148.6l25.45 .05 1.1-.1 .75-.2 .55-.3 .4-.5 .3-.85 .2-1.35 .35-6.2 .3-12.4 .5-29.9 .2-4.75 .2 4.8 .55 32.75 .35 12.4 .2 3.25 .25 1.95 .4 1.15 .65 .8 .65 .4 .8 .4 2.45 .65 3.05 .5 3.75 .25 7.9 .15 9.9-.1 1.9-.1 1.35-.15 .95-.25 .65-.3 .45-.6 .3-.8 .25-1.3 .25-2.1 .4-5.65 .75-15.2 .2-2.5 .15-.6 .15 .6 .2 2.5 .75 15.2 .4 5.65 .45 3.15 .3 .95 .4 .55 .35 .25 .45 .2 1.25 .2 1.15-.05 .3-.15 .2-.2 .25-.55 .2-.85 .65-5.5 .15-.85 .1-.2 .2 .7 .5 4.5 .3 1.9 .35 .95 .2 .2 .3 .15 1.35 .2 2.7 .05 3.05-.05 1.2-.2 .4-.25 .35-.55 .9-2.9 .15-.3 .15-.15 .15 .15 .15 .3 .6 2.05 .35 .9 .35 .5 .45 .25 .85 .05 1.7 0 3.05-.3 .95-.25 .8-.25 .65-.35 .55-.45 .5-.6 .4-.75 .3-.85 .25-1.15 .4-3.8 .3-5.95 .5-20.55 .85-58.45 .15-6.2 .15-2.2 .15 2.2 .15 6.2 .85 58.45 .25 12.25 .3 9.55 .35 6 .4 3 .3 1.15 .4 .85 .55 .7 .65 .55 .8 .4 1.05 .35 1.35 .2 1.7 .2 5.85 .1 5.5-.2 2.5-.35 .9-.25 .8-.3 .65-.35 .55-.5 .4-.55 .3-.6 .45-1.65 .35-2.35 .3-3.2 .3-4.7 .55-13.25 .95-30.45 .25-5.3 .15-1.6 .1-.3 .2 1.25 .25 4.65 1.1 34.5 .6 12.85 .35 4.4 .4 2.9 .5 1.8 .3 .55 .4 .35 .25 .1 .25-.1 .35-.5 .25-1 .25-1.85 .4-5.5 .75-15.9 .15-1.9 .15-.7 .15 .75 .15 2 .75 16.25 .45 6.15 .25 1.8 .3 1.1 .4 .7 .6 .35 .5 .1 .4-.1 .3-.35 .2-.55 .35-1.95 .55-5.05 .15-.85 .1-.15 .1 .15 .15 .9 .55 5.15 .35 2.1 .2 .6 .25 .35 .3 .25 .5 .15 1.2 .15 1.9 .1 7.35 .1 10.9 .05 1.95-.1 1.05-.15 .3-.1 .2-.25 .35-.95 .3-1.85 .5-4.4 .2-.7 .2 .7 .75 6.05 .3 1 .2 .3 .25 .15 .75 .15 1.25 .05 .75-.1 .45-.2 .5-.6 .85-2.15 .2-.35 .15-.1 .15 .1 .15 .25 .65 1.7 .35 .75 .35 .4 .5 .25 1.6 .1 4.3 .05 3.65-.05 1.75-.1 .5-.15 .3-.2 .25-.4 .2-.65 .35-2.35 .55-5.65 .2-.8 .1 .2 .15 1 .5 5.25 .3 2.1 .35 1.1 .25 .3 .3 .15 1.05 .15 1.9 .1 3.6 0 1.45-.15 .45-.15 .35-.35 .95-1.85 .3-.25 .3 .25 .7 1.45 .35 .5 .4 .3 .6 .15 4.25 .1 7.45-.1 3-.15 1.8-.35 .85-.4 .5-.6 .4-1.2 .3-1.8 .3-3 .25-3.65 .9-17.7 .2-2.3 .15-.55 .15 .5 .2 2.25 .8 15.2 .4 4.65 .2 .85 .1 .1 .1-.1 .65-3.1 .15-.25 .1 .1 .25 1.25 .9 7.3 .35 1.4 .4 .75 .35 .25 .5 .15 1.8 .3 3.8 .1 1.55 0 .8-.1 .5-.25 .35-.45 .35-.75 .65-1.8 .15-.3 .15-.05 .15 .05 .15 .25 .9 2.35 .25 .35 .25 .15 .3 0 .3-.3 .9-1.7 .3-.25 .3 .25 .9 1.75 .25 .3 .25 .1 .3 0 .3-.25 .9-1.4 .3-.2 .3 .2 .95 1.55 .3 .3 .35 .15 1.4 .15 4.65 .05V260 H20 Z" class="s"/>
<path d="M48.8 144.85l.25-4.35 .2-6.55 .55-31.9M50.4 102.15l.55 32.1 .2 6.65 .25 4.4M87.15 147.25l.5-6.2 .65-13.3M89.3 127.75l.65 13.3 .5 6.15M95.85 147.55l.35-3.3M96.8 144.3l.3 2.85M122.1 99.9l.55-39.6M123.35 60.3l.55 39.6M150.55 143.75l.45-5.7 .4-8.2 1.05-33M153.75 96.85l1.05 32.85 .4 8.15 .4 5.2M158.3 147.15l.3-2.35 .25-3.3 .7-14.75M160.45 126.95l.65 14.25 .25 3.65 .25 2.45M193.6 147.3l.3-2.8M194.5 144.5l.3 2.8M215.9 147.15l.4-4.3M216.9 142.85l.4 4.3M249.45 147.3l.3-2.75 .3-4.25 .75-15.1M251.85 126l.55 10.85 .35 4.7 .15 1.1 .2 .65 .1-.05 .1-.2 .2-.85" class="p"/>
<path d="M20 150.65l25.45 .05 1.1-.1 .75-.2 .55-.3 .4-.5 .3-.9 .2-1.35 .35-6.15 .3-12.15 .5-28.75 .2-4.55 .2 4.6 .55 31.5 .35 12.2 .2 3.25 .25 1.95 .4 1.2 .3 .45 .4 .35 .65 .45 .85 .35 2.45 .7 3.05 .45 3.7 .25 7.8 .15 9.85-.1 3.25-.25 1-.25 .65-.3 .45-.5 .35-.95 .25-1.3 .25-2.15 .4-5.65 .75-15.05 .2-2.5 .15-.6 .15 .6 .2 2.5 .75 15.05 .4 5.65 .25 2.1 .25 1.3 .3 .85 .35 .5 .35 .25 .45 .15 1.25 .2 1.15-.05 .3-.1 .2-.2 .25-.6 .2-.9 .65-5.75 .15-.9 .1-.2 .2 .75 .5 4.7 .3 1.95 .35 1 .2 .25 .3 .15 1.35 .15 2.75 .1 3-.1 1.2-.15 .4-.3 .35-.6 .9-3.1 .15-.35 .15-.1 .15 .1 .15 .35 .6 2.2 .35 1 .35 .5 .45 .25 .8 .1 1.6 0 3.1-.3 1.75-.5 .7-.35 .55-.4 .55-.65 .4-.7 .3-.85 .25-1.2 .4-3.8 .3-5.9 .5-20 .85-55.65 .15-5.8 .15-2.1 .15 2.1 .2 8.45 .9 58.2 .25 10.3 .25 6.85 .35 5.35 .2 1.7 .25 1.3 .3 .9 .4 .8 .5 .6 .65 .5 .85 .4 1.05 .3 1.35 .2 1.7 .15 5.8 .15 5.4-.2 2.45-.35 .95-.25 .8-.3 .65-.35 .5-.45 .4-.5 .35-.65 .45-1.6 .35-2.25 .35-3.65 .3-4.75 .55-13.3 .95-30.15 .25-5.15 .15-1.6 .1-.3 .2 1.2 .25 4.6 1.1 34.15 .6 12.9 .35 4.45 .4 3 .5 1.85 .3 .55 .4 .4 .25 .1 .25-.1 .35-.55 .25-.95 .25-1.9 .4-5.55 .75-16.1 .15-2 .15-.65 .15 .75 .15 2 .75 16.45 .45 6.3 .25 1.75 .3 1.2 .4 .65 .65 .4 .55 .1 .35-.1 .25-.3 .2-.5 .35-1.85 .55-4.7 .15-.8 .1-.15 .1 .15 .15 .85 .55 4.8 .35 1.95 .2 .55 .25 .4 .3 .2 .55 .15 1.3 .15 2.05 .1 7.9 .1 10.2 0 1.85-.05 1-.15 .3-.15 .2-.2 .35-1 .3-1.85 .5-4.55 .2-.7 .2 .7 .75 6.2 .3 1 .2 .3 .25 .15 .75 .2 1.25 0 .75-.05 .45-.2 .5-.6 .85-2.15 .2-.35 .15-.1 .15 .1 .15 .25 .65 1.7 .35 .75 .35 .4 .5 .25 1.7 .1 4.5 .05 3.5-.05 1.65-.15 .5-.15 .3-.25 .2-.35 .2-.65 .35-2.4 .55-5.75 .2-.85 .1 .25 .15 1 .5 5.35 .3 2.15 .35 1.1 .25 .3 .3 .15 1 .2 1.9 .05 3.6 0 1.5-.1 .45-.15 .35-.35 .95-1.75 .3-.25 .3 .25 .7 1.35 .35 .5 .4 .3 .6 .15 4.25 .1 7.45-.1 3-.15 1.8-.35 .85-.35 .5-.6 .4-1.15 .3-1.75 .3-2.85 .25-3.45 .9-16.9 .2-2.2 .15-.55 .15 .5 .2 2.15 .8 14.4 .4 4.35 .15 .65 .1 .15 .1-.1 .2-.7 .5-2.75 .15-.3 .1 .1 .25 1.3 .9 7.55 .35 1.45 .2 .45 .25 .3 .35 .25 .55 .2 1.9 .25 3.9 .1 1.4-.05 .7-.1 .45-.25 .35-.5 .35-.85 .65-2 .15-.3 .15-.1 .15 .1 .15 .3 .9 2.55 .25 .4 .25 .2 .3-.05 .3-.25 .9-1.85 .3-.3 .3 .3 .9 1.9 .25 .3 .25 .1 .3 0 .3-.2 .9-1.45 .3-.2 .3 .2 .95 1.6 .3 .25 .35 .2 1.4 .1 4.65 .1V260 H20 Z" class="s"/>
<path d="M48.75 147.35l.25-3.7 .25-7.65 .55-30.75M50.4 105.35l.55 31 .2 6.55 .25 4.4M87.15 149.2l.5-6.15 .65-13.25M89.3 129.8l.65 13.2 .5 6.2M95.85 149.4l.35-3.4M96.8 146l.35 3.45M122.15 99.75l.5-34.1M123.35 65.65l.5 34.1M150.55 145.6l.45-5.8 .4-8.25 1.05-32.7M153.75 98.8l1.05 32.6 .4 8.2 .4 5.25M158.25 149.4l.3-2.15 .3-3.85 .7-14.9M160.45 128.65l.65 14.45 .25 3.7 .25 2.45M193.6 149.25l.3-2.85M194.5 146.4l.3 2.85M215.85 149.6l.45-4.9M216.9 144.7l.45 4.9M249.5 149.15l.3-2.85 .25-3.45 .75-14.4M251.85 129.15l.55 10.35 .35 4.4 .15 1 .2 .5 .2-.35 .2-1" class="p"/>
<path d="M20 152.7l25.3 0 1.15-.1 .8-.25 .6-.4 .4-.55 .3-1 .2-1.6 .35-7.05 .3-13.55 .5-31.5 .2-4.9 .2 5 .55 34.5 .35 13.65 .2 3.75 .3 2.5 .4 1.2 .65 .8 .65 .45 .8 .4 1.1 .35 1.3 .3 3.05 .5 3.7 .3 7.9 .1 9.85-.1 1.9-.1 1.35-.15 1-.25 .65-.3 .45-.55 .35-1.05 .25-1.35 .25-2.25 .4-5.9 .75-15.7 .2-2.55 .15-.65 .15 .65 .2 2.55 .75 15.65 .4 5.95 .25 2.25 .25 1.35 .3 .9 .35 .5 .3 .25 .45 .2 1.2 .25 1.2-.05 .3-.1 .25-.2 .25-.55 .2-.85 .65-5.35 .15-.85 .1-.15 .2 .7 .5 4.35 .3 1.85 .35 .95 .2 .2 .3 .15 1.4 .15 2.8 .05 2.95-.05 1.15-.15 .4-.3 .35-.6 .9-3 .15-.35 .15-.15 .15 .15 .15 .3 .6 2.2 .35 .95 .35 .5 .45 .25 .85 .05 1.6 0 3.05-.3 .95-.2 .8-.3 .7-.35 .55-.4 .5-.6 .4-.7 .3-.85 .25-1.1 .4-3.6 .3-5.55 .3-9.6 .25-12 .85-55.25 .15-5.75 .15-2 .15 2 .2 8.3 .9 57.95 .5 17.55 .35 5.55 .2 1.75 .25 1.35 .3 1 .4 .8 .55 .65 .65 .5 .85 .45 1.05 .3 1.35 .2 1.7 .15 5.8 .1 5.4-.2 2.5-.35 .9-.25 .8-.3 .65-.35 .5-.45 .4-.55 .3-.6 .45-1.65 .35-2.25 .3-3.05 .3-4.5 .55-12.6 1-30.9 .25-5 .15-1.5 .1-.3 .2 1.15 .25 4.4 1.1 33.4 .65 13.6 .35 4.15 .4 2.85 .5 1.75 .35 .6 .35 .3 .25 .05 .2-.05 .35-.55 .25-.95 .25-1.75 .4-5.35 .75-15.55 .15-1.85 .15-.7 .15 .75 .15 1.95 .75 15.85 .45 6.05 .25 1.7 .3 1.1 .4 .65 .6 .35 .5 .1 .4-.05 .3-.35 .2-.55 .35-2 .55-5.1 .15-.85 .1-.15 .1 .2 .15 .85 .55 5.2 .35 2.1 .2 .6 .25 .4 .3 .2 .5 .15 1.25 .15 1.95 .1 7.55 .15 10.65 0 1.95-.1 1-.1 .3-.15 .2-.25 .35-.95 .3-1.95 .5-4.6 .2-.7 .2 .7 .75 6.3 .3 1 .2 .35 .25 .15 .7 .15 1.25 .05 .8-.05 .45-.2 .5-.6 .85-2.15 .2-.35 .15-.1 .15 .1 .15 .25 .65 1.7 .35 .7 .35 .45 .5 .2 1.7 .15 4.6 .05 3.4-.05 1.65-.15 .5-.15 .3-.25 .2-.4 .2-.7 .35-2.45 .55-5.9 .2-.85 .1 .2 .15 1.05 .5 5.5 .3 2.2 .35 1.2 .25 .3 .3 .15 1 .15 1.9 .1 3.6 0 1.5-.1 .45-.2 .35-.35 .95-1.85 .3-.25 .3 .25 .7 1.45 .35 .5 .4 .35 .6 .15 4.15 .05 7.55-.05 3-.2 1.8-.3 .85-.4 .5-.55 .4-1.15 .3-1.75 .3-2.85 .25-3.45 .9-16.85 .2-2.2 .15-.55 .15 .5 .2 2.1 .8 14.4 .4 4.35 .15 .6 .1 .15 .1-.1 .2-.7 .5-2.8 .15-.3 .1 .1 .25 1.25 .9 7.65 .35 1.45 .2 .45 .25 .35 .35 .25 .55 .15 1.85 .25 3.9 .15 1.45-.05 .7-.1 .45-.25 .35-.45 .35-.8 .65-1.95 .15-.25 .15-.1 .15 .1 .15 .25 .9 2.45 .25 .4 .3 .2 .25-.05 .3-.25 .9-1.75 .3-.25 .3 .25 .9 1.8 .25 .25 .25 .15 .3-.05 .3-.25 .9-1.4 .3-.2 .3 .2 .95 1.6 .3 .25 .35 .15 1.4 .15 4.65 .05V260 H20 Z" class="s"/>
<path d="M48.75 148.8l.25-4.25 .25-8.55 .55-33.9M50.4 102.2l.55 34.1 .2 7.35 .25 5.05M87.1 151.4l.5-6.05 .7-14.6M89.3 130.75l.7 14.6 .5 6M95.9 151.25l.3-2.75M96.8 148.55l.3 2.75M122.15 100.8l.5-33.75M123.35 67.05l.5 33.75M150.55 147.5l.45-5.8 .4-8.2 1.05-32.05M153.75 101.4l1.05 31.95 .4 8.2 .4 5.25M158.3 151.25l.3-2.25 .25-3.2 .7-14.4M160.45 131.6l.65 13.85 .25 3.65 .25 2.35M193.6 151.2l.3-2.9M194.5 148.3l.3 2.9M215.85 151.5l.45-5M216.9 146.5l.45 5M249.5 151.2l.3-2.85 .25-3.45 .75-14.4M251.85 131.2l.55 10.35 .35 4.35 .15 1 .2 .5 .2-.4 .2-.95" class="p"/>
<path d="M20 154.7l25.35 .05 1.1-.1 .8-.2 .55-.3 .4-.5 .3-.8 .25-1.75 .35-6.55 .3-12.35 .45-26 .15-5.4 .1-1.15 .2 4.4 .6 33.35 .35 11.25 .2 2.95 .3 2.05 .4 1 .65 .7 .65 .4 .85 .4 2.45 .65 3.05 .45 3.7 .25 7.9 .15 9.75-.1 1.9-.1 1.35-.15 .95-.25 .65-.3 .45-.55 .35-1 .25-1.35 .25-2.15 .4-5.75 .75-15.05 .2-2.45 .15-.6 .15 .6 .2 2.45 .75 15.05 .4 5.7 .25 2.2 .25 1.35 .3 .85 .4 .55 .35 .25 .5 .2 1.35 .2 1.05-.1 .25-.15 .2-.25 .25-.7 .2-1.1 .6-5.55 .15-.95 .1-.2 .2 .75 .5 4.85 .3 2 .35 1.05 .2 .25 .3 .15 1.3 .2 2.6 .05 3.15-.05 1.25-.2 .4-.25 .35-.55 .9-2.9 .15-.35 .15-.1 .15 .1 .15 .35 .6 2.05 .35 .9 .35 .5 .45 .2 .85 .1 1.65 0 3-.35 .95-.2 .8-.3 .65-.3 .55-.45 .55-.65 .4-.7 .3-.9 .25-1.2 .4-3.8 .3-5.75 .3-9.9 .25-12.25 .85-55.25 .15-5.65 .15-2 .15 2 .15 5.65 .9 58 .25 11.45 .3 9.15 .35 5.85 .2 1.85 .25 1.45 .3 1 .4 .85 .55 .7 .65 .5 .8 .4 1.05 .35 1.3 .2 1.65 .15 5.55 .15 5.5-.15 2.55-.35 1-.2 .8-.3 .65-.35 .55-.4 .4-.5 .35-.65 .45-1.45 .35-2.05 .35-3.4 .3-4.3 .55-12.05 1-29.15 .25-4.7 .15-1.45 .1-.25 .2 1.1 .25 4.1 1.1 31.55 .65 13 .35 4.05 .45 3 .5 1.6 .3 .45 .35 .3 .25 .05 .2-.05 .35-.5 .25-.95 .25-1.75 .4-5.3 .75-15.25 .15-1.9 .15-.65 .15 .75 .15 1.9 .75 15.6 .45 5.95 .25 1.7 .3 1.1 .4 .65 .6 .35 .55 .05 .35-.05 .3-.4 .2-.55 .35-2 .55-5.15 .15-.85 .1-.15 .1 .2 .15 .85 .55 5.25 .35 2.1 .2 .65 .25 .4 .3 .2 .5 .15 1.25 .15 1.95 .1 7.75 .15 10.5 0 1.9-.1 1-.15 .3-.15 .2-.2 .35-1.05 .3-1.95 .5-4.7 .2-.75 .2 .75 .75 6.4 .3 1.1 .2 .3 .25 .2 .7 .15 1.25 .05 .8-.1 .45-.15 .5-.65 .85-2.1 .2-.35 .15-.1 .15 .1 .15 .25 .65 1.7 .35 .7 .35 .4 .5 .25 1.7 .15 4.55 0 3.45-.05 1.65-.15 .5-.1 .3-.25 .2-.4 .2-.65 .35-2.4 .55-5.8 .2-.8 .1 .2 .15 1 .5 5.4 .3 2.15 .35 1.15 .25 .3 .3 .15 1 .15 1.9 .1 3.6 0 1.5-.1 .45-.2 .35-.35 .95-1.8 .3-.25 .3 .25 .7 1.4 .35 .5 .4 .35 .6 .15 4.15 .05 7.55-.05 3-.2 1.8-.3 .85-.4 .5-.55 .4-1.15 .3-1.7 .3-2.85 .25-3.4 .9-16.65 .2-2.2 .15-.5 .15 .45 .2 2.15 .8 14.25 .4 4.35 .2 .75 .1 .05 .1-.15 .65-3.1 .15-.25 .1 .1 .25 1.2 .9 7.2 .35 1.35 .2 .45 .25 .3 .35 .25 .55 .15 1.9 .25 3.9 .1 1.4 0 .7-.15 .45-.2 .35-.45 .35-.8 .65-1.9 .15-.3 .15-.1 .15 .1 .15 .25 .9 2.45 .25 .4 .25 .15 .3-.05 .3-.25 .9-1.8 .3-.25 .3 .25 .9 1.85 .25 .3 .25 .1 .3-.05 .3-.2 .9-1.5 .3-.2 .3 .2 .95 1.65 .3 .3 .35 .15 1.4 .15 4.65 .05V260 H20 Z" class="s"/>
<path d="M48.8 150.55l.25-4.6 .2-6.7 .55-30.5M50.4 108.9l.5 28.5 .2 7.5 .25 5.45M87.1 153.5l.5-5.85 .7-14.05M89.3 133.6l.7 14.05 .5 5.85M95.85 153.35l.35-3.5M96.8 149.85l.35 3.55M122.15 101.55l.5-33.65M123.35 67.9l.5 33.65M150.55 149.75l.45-5.65 .4-7.85 1-28.9M153.8 107.3l1 28.8 .4 7.85 .4 5.05M158.3 153.4l.3-2.25 .25-3.15 .7-14.2M160.45 134l.65 13.65 .25 3.55 .25 2.35M193.55 153.6l.35-3.45M194.5 150.15l.35 3.45M215.85 153.65l.45-4.9M216.9 148.75l.45 4.9M249.5 153.3l.3-2.85 .25-3.4 .75-14.2M251.85 133.55l.55 10.2 .35 4.4 .15 1.05 .2 .5 .1-.05 .1-.2 .2-.9" class="p"/>
<path d="M20 156.75l25.25 0 1.15-.1 .8-.2 .6-.35 .4-.55 .3-.9 .25-1.95 .35-7.15 .3-13.2 .45-27.3 .15-5.7 .1-1.15 .2 4.6 .6 35.05 .35 12.1 .2 3.25 .3 2.25 .4 1.1 .65 .75 .65 .45 .85 .4 2.4 .65 3.05 .5 3.7 .25 7.95 .15 9.75-.1 1.9-.1 1.35-.15 .95-.25 .65-.35 .45-.55 .3-.85 .25-1.25 .25-2 .45-6.35 .75-15.15 .2-2.45 .15-.6 .15 .6 .2 2.45 .75 15.1 .4 5.85 .25 2.2 .25 1.4 .3 .9 .4 .6 .75 .4 1.25 .2 1.15 0 .3-.15 .2-.2 .25-.55 .2-.85 .65-5.35 .15-.85 .1-.2 .2 .7 .5 4.4 .3 1.85 .35 .95 .2 .2 .3 .15 1.35 .15 2.8 .1 2.95-.1 1.2-.15 .4-.3 .35-.55 .9-3 .15-.3 .15-.15 .15 .15 .15 .3 .6 2.15 .35 .9 .35 .5 .45 .25 .8 .1 1.6-.05 3.05-.3 .95-.2 .8-.25 .7-.4 .55-.4 .55-.65 .4-.75 .3-.85 .25-1.25 .4-3.8 .3-5.8 .3-9.8 .25-11.95 .85-53.15 .15-5.4 .15-1.9 .15 1.9 .2 7.85 .95 58.25 .5 16.5 .35 5.3 .2 1.7 .25 1.3 .3 1 .4 .75 .55 .7 .65 .5 .85 .4 1.05 .3 1.35 .2 1.7 .15 5.75 .1 2.95-.05 2.4-.15 2.45-.35 .95-.25 .8-.3 .65-.4 .5-.45 .4-.55 .3-.6 .45-1.65 .35-2.25 .35-3.65 .3-4.65 .55-12.85 1-30.65 .25-4.9 .15-1.5 .1-.3 .1 .3 .15 1.45 .25 4.9 1.05 32 .65 13.9 .35 4.35 .45 3.3 .5 1.75 .3 .5 .35 .35 .25 .05 .2-.05 .35-.5 .25-1 .25-1.8 .4-5.45 .75-15.8 .15-1.95 .15-.65 .15 .7 .15 2 .75 16.2 .45 6.15 .25 1.75 .3 1.15 .4 .65 .6 .35 .5 .1 .4-.05 .3-.35 .2-.55 .35-2 .55-5 .15-.85 .1-.15 .1 .2 .15 .85 .55 5.15 .35 2.05 .2 .6 .25 .4 .3 .2 .5 .15 1.25 .15 1.95 .15 7.5 .1 10.7 0 1.95-.05 1-.15 .3-.15 .2-.2 .35-1 .3-1.9 .5-4.6 .2-.7 .2 .7 .75 6.25 .3 1.05 .2 .3 .25 .15 .7 .2 1.25 0 .8-.05 .45-.15 .5-.6 .85-2.1 .2-.3 .15-.1 .15 .1 .15 .2 .65 1.7 .35 .65 .35 .4 .5 .25 1.75 .1 4.75 .05 3.25-.05 1.6-.15 .5-.15 .3-.25 .2-.4 .2-.7 .35-2.45 .55-6 .2-.85 .1 .25 .15 1.05 .5 5.55 .3 2.2 .35 1.2 .25 .3 .3 .15 1.05 .2 1.9 .05 3.6 0 1.45-.1 .45-.2 .35-.35 .95-1.95 .3-.25 .3 .25 .7 1.5 .35 .55 .4 .35 .6 .15 3.9 .1 7.65-.1 3.05-.15 1.85-.3 .9-.4 .5-.55 .4-1.1 .3-1.65 .3-2.8 .25-3.35 .9-16.3 .2-2.15 .15-.5 .15 .45 .2 2.1 .8 13.9 .4 4.2 .15 .6 .1 .1 .1-.1 .2-.7 .5-2.75 .15-.25 .1 .1 .25 1.25 .9 7.4 .35 1.4 .2 .45 .25 .35 .35 .2 .55 .2 1.9 .25 3.9 .1 1.4-.05 .7-.1 .45-.25 .35-.5 .35-.85 .65-2 .15-.3 .15-.1 .15 .1 .15 .25 .9 2.6 .25 .45 .3 .2 .25-.05 .3-.25 .9-1.7 .3-.25 .3 .25 .85 1.7 .25 .3 .25 .15 .3-.05 .3-.2 .95-1.6 .3-.2 .3 .2 .95 1.7 .3 .3 .35 .2 1.4 .1 4.65 .1V260 H20 Z" class="s"/>
<path d="M48.9 150.5l.4-12.95 .5-29.85M50.4 107.8l.5 30.05 .4 13.1M87.1 155.4l.5-5.95 .7-14.15M89.3 135.3l.7 14.15 .5 5.95M95.9 155.3l.3-2.75M96.8 152.6l.3 2.75M122.2 101.1l.45-28.85M123.35 72.25l.45 28.85M150.6 150.55l.4-5.55 .4-8.4 1.05-32M153.75 104.55l1.05 31.9 .4 8.35 .4 5.5M158.25 155.45l.3-2.05 .3-3.75 .7-14.7M160.45 135.15l.65 14.2 .25 3.65 .25 2.4M193.6 155.3l.3-2.9M194.5 152.4l.3 2.9M215.85 155.55l.45-5.1M216.9 150.45l.45 5.1M249.5 155.45l.3-2.8 .25-3.35 .75-13.9M251.85 136.1l.55 9.95 .35 4.25 .15 .95 .2 .45 .2-.35 .2-1" class="p"/>
<path d="M20 158.8l25.25 0 1.15-.1 .8-.2 .6-.4 .4-.5 .3-.95 .2-1.4 .35-6.2 .3-11.85 .5-29 .15-5.45 .1-1.1 .2 4.4 .6 33.9 .35 11.95 .2 3.3 .3 2.25 .4 1.15 .65 .75 .65 .45 .8 .35 2.4 .7 3.05 .45 3.7 .3 7.85 .1 9.85-.05 1.95-.15 1.35-.15 .95-.2 .65-.35 .45-.55 .3-.8 .25-1.25 .25-2 .45-6.2 .75-14.65 .2-2.35 .15-.6 .15 .6 .2 2.35 .75 14.65 .4 5.65 .25 2.2 .25 1.35 .3 .9 .4 .6 .35 .2 .5 .2 1.35 .2 1.05-.1 .25-.15 .2-.25 .25-.7 .2-1.05 .6-5.5 .15-.95 .1-.2 .2 .8 .5 4.75 .3 2 .35 1.05 .2 .2 .3 .15 1.35 .2 2.65 .05 3.1-.05 1.2-.2 .4-.25 .35-.6 .9-3 .15-.35 .15-.15 .15 .15 .15 .35 .6 2.15 .35 .95 .35 .5 .45 .25 .8 .05 1.6 0 3-.3 1.75-.5 .7-.35 .55-.45 .55-.6 .4-.75 .3-.85 .25-1.15 .4-3.65 .3-5.45 .3-9.3 .25-11.45 .9-55.7 .15-5.3 .15-1.85 .15 1.85 .15 5.3 .9 55.7 .3 13.3 .3 8.55 .35 5.55 .2 1.8 .25 1.4 .3 1 .4 .8 .55 .7 .7 .55 .85 .4 1.05 .3 1.35 .25 1.7 .15 5.6 .1 5.3-.2 2.5-.35 .95-.25 .8-.3 .65-.35 .5-.45 .4-.5 .35-.7 .45-1.55 .35-2.15 .35-3.5 .3-4.45 .55-12.4 1.05-31.8 .25-4.8 .15-1.45 .1-.3 .1 .3 .15 1.45 .25 4.8 1.1 33.05 .65 13.4 .35 4.15 .45 3.15 .5 1.7 .3 .5 .35 .3 .25 .05 .2-.05 .35-.55 .25-1 .25-1.85 .4-5.45 .7-13.75 .15-1.8 .15-.65 .15 .7 .15 1.85 .75 15 .45 5.7 .25 1.6 .3 1.1 .4 .6 .6 .35 .55 .05 .35-.05 .3-.4 .2-.55 .35-2.05 .55-5.2 .15-.85 .1-.15 .1 .15 .15 .9 .55 5.3 .35 2.15 .2 .65 .25 .4 .3 .2 .5 .15 1.2 .15 1.95 .1 7.4 .15 10.85 0 1.95-.05 1-.15 .3-.15 .2-.25 .35-.95 .3-1.9 .5-4.55 .2-.7 .2 .7 .75 6.2 .3 1.05 .2 .3 .25 .15 .75 .15 1.25 .05 .75-.05 .45-.2 .5-.65 .85-2.2 .2-.35 .15-.1 .15 .1 .15 .25 .65 1.75 .35 .75 .35 .4 .5 .25 1.65 .15 4.45 .05 3.55-.05 1.7-.15 .5-.15 .3-.25 .2-.35 .2-.7 .35-2.4 .55-5.75 .2-.8 .1 .2 .15 1 .5 5.35 .3 2.2 .35 1.1 .25 .3 .3 .15 1.05 .2 1.9 .05 3.6 0 1.45-.1 .45-.2 .35-.35 .95-1.9 .3-.3 .3 .3 .7 1.45 .35 .55 .4 .35 .6 .15 4.15 .1 7.55-.1 3-.2 1.8-.3 .85-.4 .5-.6 .4-1.2 .3-1.8 .3-2.95 .25-3.65 .9-17.5 .2-2.25 .15-.6 .15 .55 .2 2.2 .8 15.05 .4 4.6 .2 .85 .1 .1 .1-.15 .65-3.05 .15-.25 .1 .1 .25 1.25 .9 7.25 .35 1.4 .4 .7 .35 .25 .5 .2 1.9 .25 3.95 .15 1.45-.05 .7-.1 .45-.3 .35-.45 .35-.85 .65-2 .15-.3 .15-.1 .15 .1 .15 .3 .9 2.55 .25 .4 .3 .2 .25 0 .3-.3 .9-1.75 .3-.25 .3 .25 .9 1.85 .25 .25 .25 .15 .3-.05 .3-.25 .9-1.4 .3-.2 .3 .2 .95 1.6 .3 .25 .35 .15 1.4 .15 4.65 .05V260 H20 Z" class="s"/>
<path d="M49 150.35l.35-13.15 .45-26.45M50.4 110.85l.45 26.65 .35 13.25M87.1 157.5l.5-5.8 .7-13.75M89.3 137.95l.7 13.7 .5 5.85M95.85 157.45l.35-3.45M96.8 154l.35 3.5M122.2 102l.45-28.7M123.35 73.3l.45 28.7M150.75 150.5l.35-5.65 .35-7.85 .95-29.05M153.8 107.9l.95 28.95 .35 7.85 .35 5.6M158.3 157.45l.3-2.1 .25-3.05 .7-13.55M160.45 138.95l.6 12.3 .5 6.1M193.6 157.35l.3-2.85M194.5 154.5l.3 2.85M215.85 157.7l.45-4.9M216.9 152.8l.45 4.9M249.45 157.5l.3-2.75 .3-4.2 .75-14.9M251.85 136.4l.55 10.75 .35 4.65 .15 1.1 .2 .65 .1-.05 .1-.2 .2-.9" class="p"/>
<path d="M20 160.8l25.2 0 1.15-.1 .8-.2 .6-.35 .4-.45 .3-.9 .25-1.7 .35-6.4 .3-12 .5-28.85 .15-5.35 .1-1.1 .2 4.35 .6 33.75 .35 12.15 .2 3.35 .3 2.4 .4 1.15 .65 .8 .65 .45 .8 .4 2.35 .65 3 .5 3.7 .25 7.7 .15 9.95-.1 3.35-.25 1-.2 .65-.35 .45-.5 .35-.95 .25-1.25 .25-2 .45-6.25 .75-14.6 .2-2.35 .15-.6 .15 .6 .2 2.35 .75 14.6 .4 5.7 .25 2.2 .25 1.4 .3 .9 .4 .6 .75 .4 1.25 .25 1.15-.05 .3-.15 .2-.2 .25-.55 .2-.85 .65-5.5 .15-.85 .1-.2 .2 .7 .5 4.5 .3 1.9 .35 .95 .2 .2 .3 .15 1.4 .2 2.8 .05 2.95-.05 1.15-.2 .4-.3 .35-.6 .9-3.05 .15-.4 .15-.1 .15 .1 .15 .35 .6 2.2 .35 1 .35 .5 .45 .25 .8 .1 1.55-.05 3-.3 .95-.2 .8-.3 .7-.35 .55-.45 .55-.6 .4-.7 .3-.85 .25-1.15 .4-3.45 .35-6.4 .3-9.6 .25-11.7 .85-53.55 .2-7.7 .15-1.85 .15 1.85 .2 7.7 .95 58.65 .25 10.3 .3 8.15 .35 5.25 .45 3.1 .3 .95 .4 .8 .55 .7 .7 .55 .85 .4 1.1 .35 1.35 .2 1.7 .15 5.65 .15 2.9-.1 2.35-.15 2.45-.35 .95-.25 .8-.35 .65-.35 .5-.45 .4-.55 .3-.65 .45-1.65 .35-2.2 .35-3.6 .3-4.55 .55-12.55 1.05-31.75 .25-4.8 .15-1.45 .1-.3 .1 .3 .15 1.45 .25 4.75 1.1 33.05 .65 13.55 .35 4.3 .45 3.25 .5 1.75 .3 .5 .35 .35 .25 .05 .2-.1 .35-.6 .25-1.1 .25-2 .4-5.85 .7-14.85 .15-1.9 .15-.7 .15 .75 .15 2 .75 16.1 .45 6.15 .25 1.75 .3 1.15 .4 .65 .65 .4 .55 .1 .35-.1 .25-.3 .2-.55 .35-1.85 .55-4.75 .15-.8 .1-.15 .1 .15 .15 .85 .55 4.9 .35 1.95 .2 .55 .25 .4 .3 .2 .55 .15 1.25 .15 2.05 .1 7.6 .1 10.5 .05 1.9-.1 1-.15 .3-.1 .2-.25 .35-.95 .3-1.85 .5-4.4 .2-.7 .2 .7 .75 6.05 .3 1 .2 .3 .25 .15 .75 .15 1.25 .05 .75-.1 .45-.15 .5-.65 .85-2.15 .2-.35 .15-.1 .15 .1 .15 .25 .65 1.75 .35 .7 .35 .4 .5 .25 1.7 .15 4.6 0 3.4-.05 1.65-.15 .5-.15 .3-.25 .2-.35 .2-.7 .35-2.45 .55-5.95 .2-.8 .1 .2 .15 1.05 .5 5.5 .3 2.2 .35 1.15 .25 .35 .3 .15 1 .15 1.9 .1 3.6 0 1.5-.1 .45-.2 .35-.4 .95-1.85 .3-.25 .3 .25 .7 1.45 .35 .55 .4 .3 .6 .2 4 .05 7.6-.05 3-.15 1.85-.35 .9-.4 .5-.55 .4-1.15 .3-1.7 .3-2.8 .25-3.45 .9-16.6 .2-2.2 .15-.55 .15 .5 .2 2.1 .8 14.2 .4 4.25 .15 .6 .1 .1 .1-.1 .2-.75 .5-2.85 .15-.3 .1 .1 .25 1.3 .9 7.7 .35 1.45 .2 .45 .25 .35 .35 .2 .55 .2 1.85 .25 3.9 .1 1.45 0 .7-.1 .45-.25 .35-.45 .35-.8 .65-1.85 .15-.25 .15-.1 .15 .1 .15 .25 .9 2.4 .25 .35 .25 .15 .3 0 .3-.25 .9-1.75 .3-.25 .3 .25 .85 1.7 .25 .3 .25 .15 .3 0 .3-.2 .95-1.55 .3-.2 .3 .25 .95 1.6 .3 .3 .35 .15 1.4 .15 4.65 .05V260 H20 Z" class="s"/>
<path d="M49.05 150.7l.3-12 .45-26.3M50.4 112.5l.45 26.5 .3 12.05M87.1 159.45l.5-5.85 .7-13.7M89.3 139.9l.7 13.7 .5 5.85M95.85 159.75l.35-3.25M96.8 156.5l.35 3.3M122.2 102.45l.45-28.65M123.35 73.8l.45 28.65M150.85 150.75l.65-13.65 .9-27.7M153.8 109.35l.9 27.65 .65 13.55M158.25 159.5l.3-2.05 .3-3.75 .7-14.6M160.45 139.3l.65 14.1 .25 3.65 .25 2.4M193.6 159.5l.3-2.8M194.5 156.7l.3 2.8M215.85 159.65l.45-5M216.9 154.65l.45 5M249.5 159.4l.3-2.8 .25-3.45 .75-14.2M251.85 139.65l.55 10.2 .35 4.3 .15 .95 .2 .45 .2-.4 .2-1" class="p"/>
<path d="M20 162.85l25.1 0 1.2-.15 .8-.2 .65-.4 .4-.55 .3-1 .25-1.9 .35-7.1 .3-12.95 .5-30.7 .15-5.6 .1-1.2 .2 4.55 .6 35.9 .35 13.2 .2 3.75 .3 2.65 .4 1.3 .65 .85 .65 .5 .8 .35 1.05 .4 1.25 .3 3 .5 3.7 .3 7.85 .15 9.9-.1 1.95-.1 1.35-.15 1-.25 .65-.35 .45-.55 .35-1 .25-1.3 .25-2.15 .45-6.55 .75-15.15 .2-2.45 .15-.6 .15 .6 .2 2.4 .75 15.2 .45 6.5 .25 2.15 .25 1.35 .3 .85 .4 .55 .35 .25 .5 .2 1.3 .2 1.05-.05 .25-.15 .2-.25 .25-.65 .2-1 .6-5.1 .15-.9 .1-.2 .2 .75 .5 4.45 .3 1.85 .35 1 .2 .2 .3 .15 1.4 .15 2.8 .05 2.95-.05 1.15-.15 .4-.3 .35-.6 .9-3.05 .15-.35 .15-.15 .15 .1 .15 .35 .6 2.2 .35 .95 .35 .5 .45 .25 .85 .1 1.55 0 2.95-.35 .95-.2 .8-.3 .7-.4 .55-.45 .55-.65 .4-.75 .3-.9 .25-1.2 .4-3.7 .35-6.75 .3-10.05 .25-12 .85-54.4 .2-7.7 .15-1.85 .15 1.85 .15 5.3 .95 59.45 .3 13.2 .3 8.55 .35 5.6 .45 3.25 .3 1.1 .4 .85 .55 .7 .7 .55 .85 .45 1.05 .3 1.3 .25 1.65 .15 5.45 .15 5.35-.2 2.55-.35 .95-.25 .8-.3 .65-.35 .55-.45 .4-.5 .35-.7 .45-1.55 .35-2.15 .35-3.4 .3-4.35 .6-13.35 1.05-31.35 .25-4.65 .15-1.45 .1-.25 .1 .25 .15 1.4 .25 4.7 1.1 32.55 .65 13.6 .4 4.8 .4 2.8 .5 1.8 .35 .65 .35 .3 .2 0 .2-.05 .35-.6 .25-1.05 .25-1.95 .4-5.7 .7-14.45 .15-1.9 .15-.6 .15 .7 .15 1.95 .75 15.7 .45 6 .25 1.7 .3 1.1 .4 .65 .65 .4 .55 .05 .35-.1 .25-.3 .2-.5 .35-1.9 .55-4.8 .15-.8 .1-.15 .1 .15 .15 .85 .5 4.55 .3 1.95 .2 .75 .2 .45 .25 .25 .3 .15 .9 .2 1.5 .1 5.9 .2 12.8 0 2.35-.05 1.2-.15 .35-.15 .25-.25 .35-1 .3-2 .5-4.75 .2-.75 .2 .75 .75 6.5 .3 1.05 .2 .35 .25 .15 .7 .15 1.25 .05 .8-.05 .45-.2 .5-.65 .85-2.25 .2-.35 .15-.1 .15 .1 .15 .25 .65 1.8 .35 .75 .35 .45 .5 .25 1.7 .1 4.6 .05 3.4-.05 1.65-.15 .5-.15 .3-.25 .2-.4 .2-.75 .35-2.55 .55-6.2 .2-.85 .1 .2 .15 1.1 .5 5.75 .3 2.3 .35 1.2 .25 .35 .3 .15 1.05 .2 1.9 .05 3.6 0 1.45-.1 .45-.2 .35-.4 .95-2 .3-.3 .3 .3 .7 1.55 .35 .6 .4 .35 .6 .15 3.9 .1 7.65-.1 3.05-.15 1.85-.3 .9-.4 .5-.6 .4-1.1 .3-1.7 .3-2.85 .25-3.45 .9-16.65 .2-2.2 .15-.55 .15 .5 .2 2.1 .8 14.3 .4 4.3 .2 .75 .1 .05 .1-.2 .65-3.2 .15-.3 .1 .1 .25 1.25 .9 7.35 .35 1.4 .2 .45 .25 .35 .35 .2 .55 .2 1.9 .25 3.9 .1 1.4-.05 .7-.1 .45-.25 .35-.45 .35-.85 .65-1.95 .15-.3 .15-.1 .15 .1 .15 .25 .9 2.55 .25 .4 .25 .2 .3-.05 .3-.25 .9-1.8 .3-.25 .3 .25 .85 1.75 .25 .3 .25 .15 .3 0 .3-.2 .95-1.55 .3-.2 .3 .25 .95 1.65 .3 .25 .35 .2 1.4 .15 4.65 .05V260 H20 Z" class="s"/>
<path d="M49.05 151.55l.3-12.95 .45-28M50.4 110.7l.7 39.6M87.05 161.6l.3-2.9 .25-3.6 .7-14.25M89.3 140.85l.7 14.2 .25 3.65 .3 2.9M95.85 161.8l.35-3.25M96.8 158.55l.3 2.85M122.2 102.3l.45-28.95M123.35 73.35l.45 28.95M151 150.1l.55-12.5 .85-26.05M153.8 111.5l.85 25.95 .6 13.35M158.25 161.55l.3-1.95 .3-3.7 .7-14.2M160.45 141.9l.65 13.75 .25 3.6 .25 2.35M193.55 161.7l.35-3.45M194.5 158.2l.35 3.5M215.85 161.5l.45-5.25M216.9 156.25l.45 5.25M249.5 161.45l.3-2.85 .25-3.45 .75-14.2M251.85 141.65l.55 10.2 .35 4.4 .15 1 .2 .5 .2-.35 .2-.9" class="p"/>
<path d="M20 164.9l25.1 0 1.2-.15 .85-.2 .6-.4 .4-.55 .3-.95 .25-1.9 .35-6.9 .3-12.45 .5-28.95 .15-5.25 .1-1.1 .2 4.25 .6 33.9 .4 13.8 .2 3.2 .3 2.25 .4 1.1 .65 .8 .65 .45 .8 .4 2.35 .7 3 .45 3.75 .3 7.9 .1 9.75-.1 1.9-.1 1.35-.15 1-.25 .65-.35 .45-.55 .35-1 .25-1.35 .25-2.15 .45-6.5 .75-15.05 .2-2.4 .15-.55 .15 .55 .2 2.4 .75 15.05 .45 6.5 .25 2.15 .25 1.35 .3 .9 .4 .55 .35 .25 .5 .2 1.3 .2 1.05-.1 .25-.15 .2-.25 .25-.7 .2-1.05 .6-5.55 .15-.95 .1-.2 .2 .8 .5 4.8 .3 2 .35 1 .2 .25 .3 .15 1.35 .2 2.65 .05 3.05-.05 1.25-.2 .4-.25 .35-.6 .9-3 .15-.35 .15-.1 .15 .1 .15 .35 .6 2.15 .35 .9 .35 .55 .45 .2 .8 .1 1.55 0 2.95-.3 1.75-.5 .7-.4 .55-.4 .55-.6 .4-.7 .3-.85 .25-1.05 .4-3.35 .35-6 .3-8.95 .25-10.85 .9-53.65 .2-7.15 .15-1.7 .15 1.7 .2 7.15 .9 53.65 .3 12.65 .3 8.25 .35 5.45 .25 2.15 .25 1.35 .3 .95 .4 .8 .55 .65 .7 .55 .85 .4 1.05 .3 1.3 .2 1.7 .15 5.45 .15 5.3-.2 2.55-.3 .95-.25 .8-.3 .65-.35 .5-.4 .4-.5 .35-.65 .45-1.5 .35-2 .35-3.25 .3-4.05 .55-11.2 1.1-30.05 .25-4.3 .15-1.25 .1-.25 .1 .25 .15 1.25 .25 4.25 1.15 31.2 .65 12.1 .35 3.85 .45 2.9 .5 1.6 .3 .5 .35 .25 .2 .05 .2-.1 .35-.55 .25-1.05 .25-1.95 .4-5.6 .7-14.2 .15-1.8 .15-.65 .15 .7 .15 1.9 .75 15.4 .45 5.9 .25 1.65 .3 1.1 .4 .65 .65 .35 .55 .1 .35-.1 .25-.3 .2-.55 .35-1.85 .55-4.8 .15-.8 .1-.15 .1 .15 .15 .85 .55 4.9 .35 2 .2 .55 .25 .35 .3 .2 .55 .15 1.25 .15 2.05 .15 7.85 .1 10.3 0 1.85-.05 1-.15 .3-.15 .2-.2 .35-1 .3-1.85 .5-4.5 .2-.7 .2 .7 .75 6.15 .3 1 .2 .3 .25 .15 .75 .15 1.25 .05 .75-.05 .45-.2 .5-.65 .85-2.3 .2-.35 .15-.1 .15 .1 .15 .25 .65 1.8 .35 .8 .35 .4 .5 .25 1.7 .15 4.45 .05 3.5-.05 1.7-.15 .5-.15 .3-.25 .2-.4 .2-.7 .35-2.45 .55-6 .2-.8 .1 .2 .15 1.05 .5 5.55 .3 2.2 .35 1.2 .25 .3 .3 .15 1 .15 1.9 .1 3.6 0 1.5-.1 .45-.2 .35-.35 .95-1.9 .3-.25 .3 .25 .7 1.5 .35 .5 .4 .35 .6 .15 4.05 .1 7.6-.1 3.05-.15 1.8-.3 .85-.4 .5-.6 .4-1.1 .3-1.7 .3-2.85 .25-3.4 .9-16.6 .2-2.15 .15-.55 .15 .5 .2 2.1 .8 14.2 .4 4.35 .2 .75 .1 .05 .1-.15 .65-3.05 .15-.3 .1 .1 .25 1.2 .9 7.2 .35 1.35 .2 .4 .25 .35 .35 .2 .55 .2 1.9 .25 3.9 .1 1.4-.05 .7-.1 .45-.25 .35-.45 .35-.8 .65-1.95 .15-.25 .15-.1 .15 .05 .15 .3 .9 2.45 .25 .4 .25 .15 .3-.05 .3-.3 .9-1.9 .3-.25 .3 .25 .9 2 .25 .3 .25 .1 .3 0 .3-.2 .9-1.4 .3-.2 .3 .25 .95 1.5 .3 .25 .35 .2 1.4 .1 4.65 .05V260 H20 Z" class="s"/>
<path d="M49.15 150.45l.6-32.75M50.45 117.85l.6 32.95M87.05 163.6l.3-2.9 .25-3.65 .7-14.1M89.3 142.95l.7 14.1 .25 3.6 .3 2.95M95.85 163.55l.35-3.5M96.8 160.05l.35 3.5M122.3 100.45l.3-18.05M123.4 82.4l.3 18.05M151.15 150.3l.45-10.25 .75-21.35M153.85 118.65l.75 21.3 .45 10.2M158.3 163.5l.3-2.2 .25-3.1 .7-13.95M160.45 144.45l.65 13.5 .25 3.5 .25 2.25M193.6 163.5l.3-2.85M194.5 160.65l.3 2.85M215.85 163.7l.45-5.05M216.9 158.65l.45 5.05M249.5 163.5l.3-2.85 .25-3.4 .75-14.15M251.85 143.8l.55 10.2 .35 4.35 .15 1.05 .2 .5 .1-.05 .1-.2 .2-.9" class="p"/>
<path d="M20 166.9l25.05 0 1.2-.1 .8-.2 .65-.35 .4-.5 .3-.9 .25-1.65 .35-6.1 .3-11.3 .55-30.95 .15-5.1 .1-1.05 .1 1.1 .15 5.15 .55 31.1 .4 13.85 .2 3.25 .3 2.3 .4 1.2 .65 .8 .65 .45 .8 .35 1.1 .4 1.3 .3 3 .5 3.75 .25 7.95 .15 9.65-.1 1.9-.1 1.35-.15 1-.25 .65-.35 .45-.6 .3-.85 .3-1.55 .25-2.2 .4-5.75 .8-16.1 .2-2.4 .15-.55 .15 .55 .2 2.4 .8 16.1 .4 5.7 .25 2.2 .25 1.4 .3 .9 .4 .6 .35 .25 .45 .2 1.35 .2 1.05-.05 .25-.15 .2-.25 .25-.7 .2-1 .6-5.35 .15-.9 .1-.2 .2 .75 .5 4.6 .3 2 .35 .95 .2 .25 .3 .15 1.35 .2 2.7 .05 3.05-.1 1.2-.15 .4-.3 .35-.55 .9-3 .15-.35 .15-.15 .15 .15 .15 .3 .6 2.15 .35 .95 .35 .5 .45 .25 .85 .05 1.6 0 2.9-.35 .9-.25 .8-.25 .7-.4 .55-.45 .55-.7 .4-.75 .3-.9 .25-1.2 .4-3.65 .35-6.55 .55-21.15 .9-56.1 .2-7.4 .15-1.8 .2 3.15 .2 8.6 .95 58.55 .25 10.25 .3 8.2 .35 5.45 .25 2.15 .25 1.3 .3 1 .4 .8 .55 .65 .7 .6 .85 .4 1.05 .35 1.3 .2 1.6 .15 5.3 .15 5.3-.15 2.6-.35 1-.2 .8-.3 .65-.35 .55-.45 .4-.45 .35-.65 .45-1.45 .4-2.35 .35-3.35 .3-4.2 .55-11.4 1.1-30.2 .25-4.3 .15-1.25 .1-.25 .1 .2 .15 1.3 .25 4.25 1.15 31.35 .65 12.35 .4 4.4 .4 2.6 .5 1.7 .3 .5 .35 .3 .2 0 .2-.05 .35-.65 .25-1.1 .25-2 .4-5.9 .7-14.85 .15-1.95 .15-.65 .15 .7 .15 2 .75 16.2 .45 6.15 .25 1.75 .3 1.15 .4 .65 .6 .35 .5 .1 .4-.05 .3-.35 .2-.6 .35-2 .55-5.2 .15-.85 .1-.15 .1 .15 .15 .9 .55 5.3 .35 2.15 .2 .6 .25 .4 .3 .2 .5 .15 1.2 .2 1.95 .1 7.5 .15 10.75 0 1.95-.1 1-.15 .3-.15 .2-.2 .35-1 .3-1.95 .5-4.65 .2-.75 .2 .75 .75 6.35 .3 1.05 .2 .3 .25 .2 .7 .15 1.25 .05 .8-.1 .45-.15 .5-.65 .85-2.2 .2-.35 .15-.05 .15 .05 .15 .25 .65 1.75 .35 .75 .35 .4 .5 .25 1.7 .15 4.6 0 3.4-.05 1.65-.15 .5-.15 .3-.25 .2-.35 .2-.7 .35-2.5 .55-6 .2-.85 .1 .25 .15 1.05 .5 5.55 .3 2.25 .35 1.15 .25 .3 .3 .2 1.05 .15 1.9 .1 3.6 0 1.45-.15 .45-.2 .35-.35 .95-1.95 .3-.3 .3 .3 .7 1.5 .35 .55 .4 .35 .6 .2 4.1 .05 7.55-.05 3.05-.2 1.8-.35 .85-.4 .5-.6 .4-1.2 .3-1.8 .3-3.05 .25-3.65 .9-17.75 .2-2.3 .15-.6 .15 .55 .2 2.25 .8 15.2 .4 4.6 .2 .85 .1 .05 .1-.2 .65-3.3 .15-.3 .1 .1 .25 1.3 .9 7.7 .35 1.45 .2 .45 .25 .35 .35 .25 .55 .2 1.85 .25 3.9 .1 1.45 0 .7-.15 .45-.25 .35-.45 .35-.8 .65-1.95 .15-.3 .15-.1 .15 .1 .15 .3 .9 2.5 .25 .35 .3 .2 .25 0 .3-.3 .9-1.75 .3-.25 .3 .3 .85 1.7 .25 .3 .25 .15 .3 0 .3-.2 .95-1.55 .3-.25 .3 .25 .95 1.65 .3 .3 .35 .15 1.4 .15 4.65 .05V260 H20 Z" class="s"/>
<path d="M49.2 150.3l.55-30.35M50.45 120.1l.55 30.5M87.05 165.5l.3-3 .25-3.65 .7-14.3M89.3 144.55l.7 14.25 .25 3.7 .3 3M95.85 165.7l.35-3.4M96.8 162.35l.35 3.4M122.25 101.55l.35-22.2M123.4 79.35l.35 22.2M151.2 150.75l1.15-30.9M153.85 119.8l.7 20.1 .45 10.7M158.25 165.6l.3-2.05 .3-3.8 .7-14.65M160.45 145.3l.65 14.2 .25 3.65 .25 2.4M193.55 165.85l.35-3.4M194.5 162.45l.35 3.4M215.85 165.7l.45-5.05M216.9 160.65l.45 5.05M249.45 165.6l.3-2.8 .3-4.25 .75-15.1M251.85 144.2l.55 10.85 .35 4.7 .15 1.05 .2 .6 .1-.1 .1-.25 .2-.95" class="p"/>
<path d="M20 168.95l25.05 0 1.15-.1 .85-.25 .65-.35 .4-.55 .3-.9 .25-1.8 .35-6.3 .3-11.5 .55-30.9 .15-5.05 .1-1.05 .1 1.1 .15 5.1 .6 33.5 .35 11.7 .2 3.35 .3 2.45 .4 1.2 .3 .45 .4 .45 .65 .45 .8 .35 2.35 .7 2.95 .45 3.65 .3 7.7 .15 9.9-.1 3.35-.25 1-.25 .65-.3 .45-.5 .35-.9 .25-1.2 .25-1.95 .45-5.9 .8-15.15 .2-2.25 .15-.55 .15 .55 .2 2.25 .8 15.15 .4 5.4 .25 2.1 .25 1.3 .3 .9 .4 .6 .35 .2 .45 .2 1.35 .2 1.05-.05 .25-.15 .2-.25 .25-.7 .2-1 .6-5.35 .15-.9 .1-.2 .2 .75 .5 4.6 .3 1.95 .35 1 .2 .25 .3 .15 1.35 .15 2.75 .05 3-.05 1.2-.2 .4-.25 .35-.6 .9-3.1 .15-.35 .15-.1 .15 .1 .15 .35 .6 2.2 .35 .95 .35 .5 .45 .25 .85 .1 1.55-.05 1.6-.15 1.3-.2 .9-.2 .8-.3 .7-.4 .55-.45 .55-.65 .4-.75 .3-.85 .25-1.2 .4-3.45 .35-6.2 .3-9.15 .3-13.65 .9-56 .2-7.3 .15-1.8 .15 1.8 .2 7.3 .95 58.6 .3 12.85 .3 8.5 .35 5.65 .25 2.25 .25 1.35 .3 1.05 .4 .85 .55 .7 .7 .55 .85 .45 1.05 .35 1.3 .25 1.6 .15 5.3 .15 5.3-.2 2.6-.3 1-.25 .8-.3 .65-.35 .55-.45 .4-.5 .35-.65 .45-1.5 .4-2.45 .35-3.4 .3-4.25 .55-11.5 1.1-30.05 .25-4.25 .15-1.25 .1-.25 .1 .25 .15 1.25 .25 4.2 1.15 31.2 .65 12.5 .4 4.45 .4 2.7 .5 1.75 .3 .5 .35 .3 .2 .05 .2-.05 .35-.6 .25-1.1 .25-2.05 .4-5.9 .7-14.85 .15-1.95 .15-.65 .15 .75 .15 2 .75 16.15 .45 6.15 .25 1.8 .3 1.1 .4 .7 .65 .35 .55 .1 .35-.1 .25-.3 .2-.5 .35-1.9 .55-4.75 .15-.8 .1-.15 .1 .15 .15 .85 .5 4.5 .3 1.95 .2 .75 .2 .45 .25 .25 .3 .15 .9 .2 1.55 .15 5.9 .15 12.8 .05 2.3-.1 1.2-.15 .35-.15 .25-.25 .35-1 .3-2 .5-4.8 .2-.75 .2 .75 .75 6.55 .3 1.05 .2 .35 .25 .15 .7 .15 1.25 .05 .8-.05 .45-.2 .5-.65 .85-2.25 .2-.35 .15-.1 .15 .1 .15 .25 .65 1.8 .35 .75 .35 .45 .5 .25 1.75 .1 4.6 .05 3.35-.05 1.65-.15 .5-.15 .3-.25 .2-.4 .2-.75 .35-2.6 .55-6.3 .2-.85 .1 .2 .15 1.1 .5 5.85 .3 2.35 .35 1.2 .25 .35 .3 .15 1.05 .2 1.95 .05 3.55 0 1.45-.1 .45-.25 .35-.4 .95-2.1 .3-.3 .3 .3 .7 1.65 .35 .6 .4 .35 .6 .2 3.9 .1 7.7-.1 3.05-.15 1.85-.3 .85-.4 .5-.6 .4-1.2 .3-1.75 .3-2.9 .25-3.55 .9-17.2 .2-2.25 .15-.55 .15 .5 .2 2.2 .8 14.7 .4 4.4 .15 .7 .1 .1 .1-.05 .2-.75 .5-2.75 .15-.3 .1 .1 .25 1.3 .9 7.65 .35 1.45 .2 .45 .25 .35 .35 .25 .55 .2 1.9 .25 3.9 .1 1.4-.05 .7-.1 .45-.25 .35-.5 .35-.85 .65-2.1 .15-.25 .15-.1 .15 .1 .15 .25 .9 2.65 .25 .4 .3 .25 .25-.05 .3-.25 .9-1.75 .3-.25 .3 .25 .85 1.75 .25 .3 .25 .15 .3-.05 .3-.2 .95-1.6 .3-.2 .3 .25 .95 1.65 .3 .3 .35 .2 1.4 .15 4.65 .05V260 H20 Z" class="s"/>
<path d="M49.2 151.8l.55-30.4M50.45 121.5l.55 30.6M87.05 167.75l.3-2.9 .25-3.45 .7-13.5M89.3 147.9l.7 13.45 .25 3.5 .3 2.85M95.85 167.75l.35-3.4M96.8 164.4l.35 3.4M122.25 102.5l.35-22.05M123.4 80.4l.35 22.1M151.3 150.25l1.05-28.7M153.85 121.5l1.05 28.6M158.25 167.6l.3-2.05 .3-3.75 .7-14.65M160.45 147.35l.65 14.15 .25 3.7 .25 2.4M193.55 167.8l.35-3.5M194.5 164.3l.35 3.5M215.85 167.55l.45-5.3M216.9 162.25l.45 5.3M249.45 167.75l.3-2.7 .3-4.1 .75-14.65M251.85 147l.55 10.55 .35 4.45 .15 1.05 .2 .5 .2-.35 .2-1" class="p"/>
<path d="M20 171l25.05 0 1.2-.15 .85-.2 .6-.35 .4-.5 .3-.9 .25-1.8 .35-6.1 .3-11.05 .55-29.15 .15-4.75 .1-.95 .1 1 .15 4.8 .6 31.6 .35 11.3 .2 3.25 .3 2.45 .4 1.2 .3 .45 .4 .4 .65 .45 .85 .4 2.4 .65 3.05 .5 3.75 .25 8.05 .1 9.35-.1 1.9-.1 1.35-.15 1-.25 .65-.35 .45-.55 .35-1 .25-1.35 .25-2.1 .45-6.45 .8-16.35 .2-2.4 .15-.6 .15 .6 .2 2.4 .8 16.35 .4 5.9 .25 2.3 .25 1.45 .3 1 .4 .6 .35 .3 .45 .15 1.3 .25 1.05-.05 .3-.15 .2-.25 .25-.75 .2-1.05 .6-5.6 .15-.9 .1-.2 .2 .75 .5 4.85 .3 2 .35 1.05 .2 .25 .3 .15 1.35 .2 2.7 .05 3.05-.05 1.2-.2 .4-.3 .35-.6 .9-3.1 .15-.35 .15-.1 .15 .1 .15 .35 .6 2.2 .35 1 .35 .5 .45 .25 .8 .1 1.5-.05 2.9-.3 1.75-.5 .7-.35 .55-.45 .55-.6 .4-.7 .35-.95 .25-1.15 .4-3.45 .35-6 .3-8.8 .3-13 .9-52.5 .2-6.75 .15-1.65 .2 2.85 .2 7.9 1 57.15 .25 9.35 .3 7.55 .35 5 .25 2.05 .25 1.25 .3 .9 .4 .8 .55 .65 .7 .55 .85 .4 1.1 .3 1.35 .25 1.65 .15 5.45 .1 5.1-.2 2.5-.35 .95-.25 .8-.35 .65-.4 .5-.4 .4-.55 .35-.7 .45-1.55 .4-2.5 .35-3.55 .3-4.45 .6-13.35 1.05-31.1 .3-5.65 .15-1.35 .1-.25 .1 .25 .15 1.35 .25 4.45 1.2 34.8 .65 13.05 .4 4.65 .4 2.8 .5 1.8 .3 .55 .35 .3 .2 .05 .2-.1 .3-.55 .25-1.05 .25-2 .4-5.8 .7-14.75 .15-1.9 .15-.65 .15 .75 .15 2 .75 16 .45 6.15 .25 1.75 .3 1.1 .4 .65 .65 .4 .55 .1 .35-.1 .25-.3 .2-.55 .35-1.95 .55-5 .15-.85 .1-.15 .1 .2 .15 .85 .5 4.7 .3 2.05 .2 .75 .2 .45 .25 .3 .3 .15 .9 .2 1.55 .15 5.9 .15 12.75 .05 2.35-.05 1.2-.15 .35-.15 .25-.3 .35-1.05 .3-2.05 .5-5 .2-.75 .2 .75 .75 6.8 .3 1.1 .2 .35 .25 .2 .7 .15 1.2 .05 .8-.05 .5-.2 .5-.6 .85-2.15 .2-.35 .15-.1 .15 .1 .15 .25 .65 1.7 .35 .75 .35 .4 .5 .25 1.75 .1 4.65 .05 3.35-.05 1.6-.15 .5-.15 .3-.25 .2-.4 .2-.7 .35-2.55 .55-6.1 .2-.85 .1 .2 .15 1.1 .5 5.65 .3 2.3 .35 1.15 .25 .35 .3 .15 1.05 .2 1.9 .05 3.6 0 1.45-.1 .45-.2 .35-.4 .95-2 .3-.25 .3 .25 .7 1.55 .35 .6 .4 .35 .6 .15 3.95 .1 7.6-.1 3.05-.15 1.85-.35 .9-.4 .5-.6 .4-1.15 .3-1.75 .3-2.95 .25-3.55 .9-17.2 .2-2.3 .15-.55 .15 .5 .2 2.2 .8 14.75 .4 4.45 .15 .65 .1 .15 .1-.05 .2-.7 .5-2.75 .15-.3 .1 .1 .25 1.3 .9 7.6 .35 1.45 .2 .45 .25 .35 .35 .25 .55 .15 1.85 .3 3.9 .1 1.45-.05 .7-.1 .45-.25 .35-.45 .35-.85 .65-1.95 .15-.25 .15-.1 .15 .1 .15 .25 .9 2.5 .25 .4 .25 .15 .3 0 .3-.3 .9-1.85 .3-.3 .3 .3 .9 1.9 .25 .3 .25 .1 .3 0 .3-.25 .9-1.5 .3-.25 .3 .25 .95 1.65 .3 .3 .35 .15 1.4 .15 4.65 .05V260 H20 Z" class="s"/>
<path d="M49.25 152.2l.5-26.65M50.45 125.65l.45 24.6M87 169.7l.3-2.85 .25-3.6 .75-15.4M89.3 147.85l.75 15.4 .25 3.55 .3 2.9M95.85 169.6l.35-3.55M96.8 166.1l.35 3.55M122.35 101.4l.25-14.25M123.4 87.15l.25 14.25M151.3 150.15l1.1-32.3M153.8 117.8l1.15 33.35M158.25 169.5l.3-2 .3-3.75 .7-14.45M160.45 149.5l.65 14.05 .25 3.65 .25 2.4M193.55 169.65l.35-3.6M194.5 166l.35 3.65M215.85 169.7l.45-5.15M216.9 164.55l.45 5.15M249.45 169.8l.3-2.7 .3-4.15 .75-14.7M251.85 149l.55 10.55 .35 4.5 .15 1.05 .2 .5 .2-.35 .2-.95" class="p"/>
<path d="M20 173.05l24.95-.05 1.2-.1 .85-.2 .65-.4 .4-.5 .3-.85 .25-1.65 .2-2.55 .2-4.5 .3-11.55 .55-30 .15-4.85 .1-1 .1 1.05 .15 4.85 .6 32.65 .4 12.9 .2 3.05 .3 2.25 .4 1.15 .3 .4 .4 .4 .65 .45 .85 .4 2.35 .7 3 .45 3.65 .25 7.85 .15 9.65-.1 1.95-.1 1.35-.15 1-.25 .65-.3 .45-.55 .3-.8 .3-1.4 .25-2 .45-6.05 .8-15.3 .2-2.25 .15-.55 .15 .55 .2 2.25 .8 15.25 .4 5.55 .25 2.2 .25 1.35 .3 .95 .45 .65 .35 .25 .5 .15 1.3 .2 1-.05 .25-.15 .2-.25 .25-.7 .2-1.05 .6-5.5 .15-.95 .1-.2 .2 .75 .5 4.8 .3 2 .35 1 .2 .25 .3 .15 1.35 .2 2.8 .05 2.95-.1 1.2-.2 .4-.25 .35-.65 .9-3.15 .15-.4 .15-.1 .15 .1 .15 .35 .6 2.3 .35 1 .35 .5 .45 .25 .8 .1 1.5-.05 2.9-.3 .95-.25 .8-.3 .7-.4 .55-.4 .55-.65 .4-.75 .35-1.05 .25-1.25 .4-3.7 .35-6.4 .55-20.25 .95-56.45 .2-6.9 .15-1.65 .15 1.65 .2 6.9 .95 56.4 .3 12.85 .35 9.7 .35 5.35 .25 2.2 .25 1.3 .3 1.05 .45 .9 .55 .65 .7 .55 .85 .45 1.1 .3 1.35 .25 1.65 .15 5.4 .15 5.1-.2 2.5-.4 .95-.25 .8-.3 .65-.4 .5-.4 .4-.55 .35-.7 .45-1.6 .4-2.5 .35-3.55 .3-4.35 .6-13.1 1.05-30.2 .3-5.45 .15-1.3 .1-.25 .1 .25 .15 1.3 .25 4.3 1.2 33.75 .65 12.8 .4 4.65 .4 2.8 .5 1.8 .3 .55 .35 .3 .2 .05 .2-.1 .3-.55 .25-1.1 .25-2.1 .4-6 .7-15.2 .15-1.95 .15-.7 .15 .8 .15 2 .75 16.55 .45 6.3 .25 1.85 .3 1.15 .4 .65 .65 .4 .55 .1 .35-.1 .25-.35 .2-.55 .35-2.05 .55-5.2 .15-.9 .1-.15 .1 .2 .15 .9 .55 5.35 .35 2.15 .2 .6 .25 .45 .3 .2 .55 .15 1.3 .2 2.05 .1 7.8 .15 10.3 0 1.85-.1 1-.15 .3-.15 .2-.25 .35-1.05 .3-2.1 .5-4.9 .2-.8 .2 .8 .75 6.75 .3 1.1 .2 .35 .25 .15 .7 .2 1.25 .05 .8-.1 .45-.2 .5-.65 .85-2.25 .2-.35 .15-.1 .15 .1 .15 .25 .65 1.8 .35 .75 .35 .45 .5 .25 1.65 .15 4.3 0 3.6 0 1.75-.15 .5-.15 .3-.2 .25-.45 .2-.7 .35-2.5 .55-5.95 .2-.85 .1 .2 .15 1.05 .5 5.55 .3 2.25 .35 1.15 .25 .35 .3 .15 1.05 .15 1.9 .1 3.6 0 1.45-.1 .45-.25 .35-.35 .95-1.95 .3-.25 .3 .25 .7 1.55 .35 .55 .4 .3 .6 .2 4.05 .05 7.55-.05 3-.2 1.85-.3 .9-.4 .5-.6 .4-1.2 .3-1.75 .3-2.95 .25-3.6 .9-17.3 .2-2.3 .15-.55 .15 .5 .2 2.2 .8 14.8 .4 4.5 .15 .65 .1 .1 .1-.05 .2-.75 .5-2.9 .15-.3 .1 .1 .25 1.35 .9 7.8 .35 1.5 .2 .45 .25 .35 .35 .25 .55 .2 1.85 .25 3.9 .1 1.45 0 .7-.15 .45-.25 .35-.45 .35-.85 .65-1.95 .15-.3 .15-.1 .15 .1 .15 .25 .9 2.55 .25 .4 .25 .2 .3-.05 .3-.25 .9-1.85 .3-.25 .3 .25 .9 1.9 .25 .25 .25 .15 .3 0 .3-.25 .9-1.45 .3-.2 .3 .2 .95 1.6 .3 .3 .35 .15 1.4 .15 4.65 .05V260 H20 Z" class="s"/>
<path d="M49.3 150.7l.45-25.15M50.45 125.65l.45 25.35M87.05 171.6l.3-2.95 .25-3.6 .7-13.55M89.3 151.5l.7 13.55 .25 3.6 .3 2.9M95.85 171.7l.35-3.5M96.8 168.25l.35 3.5M122.35 100.35l.25-14.55M123.4 85.8l.25 14.55M151.35 151.15l1.05-30.2M153.8 120.9l1.05 30.1M158.2 171.7l.35-2.3 .3-3.85 .7-15M160.45 150.8l.65 14.5 .25 3.75 .3 2.8M193.55 171.7l.35-3.6M194.5 168.1l.35 3.6M215.85 171.8l.45-5.05M216.9 166.75l.45 5.05M249.45 171.8l.3-2.75 .3-4.15 .75-14.75M251.85 150.85l.55 10.6 .35 4.55 .15 1 .2 .5 .2-.35 .2-1.05" class="p"/>
<path d="M20 175.05l24.9-.05 1.25-.1 .85-.25 .65-.4 .4-.55 .3-.9 .25-1.75 .2-2.8 .2-4.7 .3-12.1 .55-30.9 .15-4.95 .1-1 .1 1.05 .15 5 .6 33.55 .4 13.55 .2 3.25 .3 2.4 .4 1.25 .3 .5 .4 .4 .65 .45 .8 .4 2.3 .7 3 .45 3.7 .3 7.85 .15 9.7-.1 1.95-.1 1.35-.15 1-.25 .65-.35 .45-.55 .3-.8 .3-1.45 .25-2.05 .45-6.1 .8-15.25 .2-2.25 .15-.55 .15 .55 .2 2.25 .8 15.25 .4 5.6 .25 2.2 .25 1.4 .3 .95 .45 .65 .35 .25 .5 .2 1.3 .2 1-.1 .25-.1 .2-.25 .25-.7 .2-1.05 .6-5.45 .15-.9 .1-.2 .2 .75 .5 4.7 .3 2 .35 1 .2 .2 .3 .2 1.35 .15 2.7 .05 3.05-.05 1.2-.2 .4-.25 .35-.6 .9-3 .15-.35 .15-.1 .15 .1 .15 .35 .6 2.15 .35 .9 .35 .5 .45 .25 .8 .1 1.55-.05 2.85-.35 1.7-.5 .7-.35 .55-.45 .55-.6 .4-.7 .35-1 .25-1.15 .4-3.4 .35-5.95 .3-8.6 .3-12.65 .95-54.75 .2-6.6 .15-1.6 .15 1.6 .2 6.6 .95 54.75 .3 12.65 .35 9.65 .35 5.45 .25 2.2 .25 1.4 .3 1 .45 .9 .55 .7 .7 .55 .85 .4 1.05 .35 1.3 .25 1.65 .15 5.2 .15 5.15-.2 2.6-.35 1-.25 .8-.3 .65-.35 .55-.4 .4-.5 .35-.7 .45-1.45 .4-2.25 .35-3.25 .3-4 .6-12.1 1.1-29.8 .3-5.15 .15-1.2 .1-.25 .1 .25 .15 1.2 .25 4.05 1.2 31.95 .65 12.3 .4 4.45 .4 2.75 .5 1.75 .3 .55 .35 .3 .2 .05 .2-.1 .3-.6 .25-1.1 .25-2.1 .4-6.1 .7-15.35 .15-2 .15-.7 .15 .75 .15 2.1 .75 16.7 .45 6.4 .25 1.8 .3 1.2 .4 .65 .65 .4 .55 .1 .35-.1 .25-.3 .2-.55 .35-2 .55-5 .15-.85 .1-.2 .1 .2 .15 .9 .55 5.15 .35 2.1 .2 .6 .25 .4 .3 .2 .55 .15 1.3 .15 2.1 .15 7.95 .1 10.1 0 1.85-.05 1-.15 .3-.15 .2-.25 .35-1.05 .3-2.1 .5-4.9 .2-.75 .2 .75 .75 6.75 .3 1.1 .2 .3 .25 .2 .7 .15 1.25 .05 .8-.05 .45-.2 .5-.6 .85-2.25 .2-.35 .15-.1 .15 .1 .15 .25 .65 1.8 .35 .7 .35 .45 .5 .25 1.65 .1 4.35 .05 3.6-.05 1.7-.15 .5-.1 .3-.25 .25-.4 .2-.7 .35-2.5 .55-5.95 .2-.85 .1 .2 .15 1.05 .5 5.55 .3 2.25 .35 1.15 .25 .3 .3 .15 1.05 .2 1.95 .1 3.55 0 1.45-.15 .45-.2 .35-.4 .95-1.95 .3-.3 .3 .3 .7 1.55 .35 .55 .4 .35 .6 .15 4.1 .1 7.6-.1 3-.15 1.8-.35 .85-.4 .5-.65 .4-1.2 .3-1.8 .3-3.05 .25-3.7 .9-17.9 .2-2.35 .15-.55 .15 .5 .2 2.3 .8 15.35 .4 4.75 .2 .9 .1 .1 .1-.15 .65-3.05 .15-.25 .1 .1 .25 1.25 .9 7.35 .35 1.4 .4 .7 .35 .3 .5 .15 1.85 .3 3.95 .1 1.5-.05 .7-.1 .45-.25 .35-.45 .35-.8 .65-2 .15-.25 .15-.1 .15 .05 .15 .3 .9 2.5 .25 .4 .25 .2 .3-.05 .3-.3 .9-1.8 .3-.25 .3 .25 .9 1.9 .25 .25 .25 .15 .3-.05 .3-.25 .9-1.45 .3-.2 .3 .2 .95 1.65 .3 .3 .35 .15 1.4 .15 4.65 .05V260 H20 Z" class="s"/>
<path d="M49.3 151.45l.45-25.95M50.45 125.65l.45 26.1M87 173.9l.3-2.75 .25-3.4 .75-14.4M89.3 153.35l.75 14.4 .25 3.4 .3 2.75M95.85 173.8l.35-3.45M96.8 170.35l.35 3.45M122.4 100.45l.2-11M123.4 89.45l.2 11M151.5 150.35l.85-23.65M153.85 126.6l.85 23.6M158.2 173.75l.35-2.35 .3-3.9 .7-15.15M160.45 152.6l.65 14.65 .25 3.8 .3 2.85M193.55 173.75l.35-3.6M194.5 170.15l.35 3.6M215.85 173.85l.45-5.05M216.9 168.8l.45 5.05M249.45 173.7l.3-2.8 .3-4.3 .75-15.25M251.85 152.1l.55 11 .35 4.8 .15 1.1 .2 .65 .1 0 .1-.2 .2-.85" class="p"/>
<path d="M20 177.1l24.95-.05 1.2-.1 .85-.2 .65-.35 .4-.5 .3-.9 .25-1.7 .2-2.6 .2-4.4 .3-11.15 .55-28.05 .15-4.4 .1-.9 .1 .9 .15 4.5 .6 30.5 .4 12.55 .2 3.05 .3 2.3 .4 1.2 .3 .45 .45 .45 .7 .45 .85 .35 2.4 .7 3 .45 3.75 .25 8.05 .15 9.3-.15 1.9-.1 1.35-.15 .95-.25 .65-.35 .45-.55 .3-.8 .3-1.55 .25-2.05 .45-6.2 .8-15.4 .2-2.25 .15-.55 .15 .55 .2 2.25 .8 15.4 .45 6.2 .25 2.05 .25 1.3 .3 .9 .4 .55 .35 .25 .5 .2 1.3 .2 1-.05 .25-.15 .2-.25 .25-.7 .2-1.05 .6-5.5 .15-.95 .1-.2 .2 .75 .5 4.8 .3 2 .35 1 .2 .25 .3 .15 1.3 .2 2.65 .05 3.1-.05 1.25-.2 .4-.25 .35-.6 .9-2.95 .15-.3 .15-.15 .15 .1 .15 .35 .6 2.1 .35 .9 .35 .5 .45 .25 .8 .05 1.55-.05 2.85-.3 1.7-.55 .7-.4 .55-.45 .55-.65 .4-.7 .35-1.05 .25-1.25 .4-3.6 .35-6.15 .3-8.9 .3-12.9 .95-55.1 .2-6.55 .15-1.6 .15 1.6 .2 6.55 1 57.55 .3 12.2 .35 9.3 .35 5.15 .25 2.15 .25 1.3 .35 1.15 .4 .75 .55 .7 .7 .55 .85 .45 1.05 .3 1.35 .25 1.65 .15 5.3 .15 2.8-.05 2.3-.15 2.5-.35 1-.3 .8-.3 .65-.4 .5-.45 .4-.5 .35-.75 .45-1.55 .4-2.5 .35-3.45 .3-4.25 .6-12.75 1.1-31.05 .3-5.3 .15-1.25 .1-.25 .1 .2 .15 1.25 .3 5.3 1.15 32.25 .65 12.95 .4 4.8 .4 2.9 .5 1.95 .3 .6 .35 .35 .2 .05 .2-.1 .3-.5 .25-1.1 .25-2.05 .4-5.95 .7-15 .15-1.95 .15-.7 .15 .75 .15 2.05 .75 16.35 .45 6.25 .25 1.8 .3 1.15 .4 .7 .65 .4 .55 .1 .35-.1 .25-.3 .2-.55 .35-1.95 .55-4.9 .15-.85 .1-.15 .1 .2 .15 .85 .5 4.65 .3 2 .2 .8 .2 .4 .25 .3 .3 .15 .95 .2 1.55 .15 6.2 .15 12.5 .05 2.25-.05 1.2-.15 .35-.2 .25-.3 .35-1.1 .3-2.25 .5-5.35 .2-.8 .2 .8 .75 7.3 .3 1.2 .2 .35 .25 .2 .7 .2 1.25 .05 .8-.1 .45-.2 .5-.65 .85-2.35 .2-.35 .15-.1 .15 .1 .15 .25 .65 1.9 .35 .75 .35 .45 .5 .25 1.6 .15 4.2 .05 3.75-.05 1.75-.15 .5-.15 .3-.2 .25-.45 .2-.7 .35-2.45 .55-6 .2-.8 .1 .2 .15 1.05 .5 5.55 .3 2.25 .35 1.15 .25 .3 .3 .15 1.05 .2 1.95 .05 3.55 0 1.45-.1 .45-.2 .35-.4 .95-2 .3-.3 .3 .3 .7 1.55 .35 .6 .4 .35 .6 .15 3.85 .1 7.65-.1 3.1-.15 1.85-.3 .9-.4 .5-.55 .4-1.15 .3-1.7 .3-2.8 .25-3.35 .9-16.5 .2-2.15 .15-.55 .15 .5 .2 2.05 .8 14.05 .4 4.2 .15 .55 .1 .1 .1-.15 .2-.8 .5-2.95 .15-.3 .1 .1 .25 1.3 .9 7.85 .35 1.5 .2 .45 .25 .35 .35 .25 .55 .2 1.85 .25 3.9 .1 1.45-.05 .7-.1 .45-.25 .35-.45 .35-.8 .65-2 .15-.25 .15-.1 .15 .1 .15 .25 .9 2.5 .25 .4 .25 .15 .3-.05 .3-.25 .9-1.9 .3-.3 .3 .3 .9 1.95 .25 .3 .25 .1 .3 0 .3-.25 .9-1.5 .3-.2 .3 .25 .95 1.65 .3 .25 .35 .2 1.4 .1 4.65 .1V260 H20 Z" class="s"/>
<path d="M49.4 150.3l.35-18.7M50.45 131.7l.35 18.85M87 175.85l.3-2.85 .25-3.45 .75-14.5M89.3 155.05l.75 14.5 .25 3.45 .3 2.8M95.85 175.75l.35-3.45M96.8 172.3l.35 3.5M122.4 100.9l.2-11M123.4 89.9l.2 11M151.5 150.65l.85-24.7M153.85 125.9l.85 24.6M158.2 175.75l.35-2.3 .3-3.8 .7-14.8M160.45 155.1l.65 14.35 .25 3.7 .3 2.8M193.5 175.95l.4-4.4M194.5 171.55l.4 4.4M215.85 175.9l.45-5.05M216.9 170.85l.45 5.05M249.5 175.7l.3-2.8 .25-3.35 .75-14.1M251.85 156.15l.55 10.05 .35 4.25 .15 .95 .1 .3 .1 .1 .2-.45 .2-1.1" class="p"/>
<path d="M20 179.15l24.8-.05 1.25-.15 .85-.2 .65-.4 .45-.55 .3-.85 .25-1.65 .2-2.55 .2-4.35 .3-11.2 .6-32.7 .15-4.75 .1-.95 .1 1 .15 4.8 .6 32.9 .4 13.8 .2 3.45 .3 2.6 .4 1.3 .3 .5 .4 .45 .65 .45 .8 .4 1.05 .35 1.25 .35 2.95 .5 3.7 .25 7.85 .15 9.65-.1 1.95-.1 1.4-.15 1-.25 .65-.35 .45-.55 .35-.95 .3-1.55 .25-2.1 .45-6.4 .8-15.65 .2-2.25 .15-.55 .15 .55 .2 2.25 .8 15.65 .45 6.35 .25 2.15 .25 1.35 .3 .9 .4 .6 .35 .3 .45 .15 1.3 .25 1.05-.1 .25-.1 .2-.25 .25-.7 .2-1.05 .6-5.45 .15-.95 .1-.2 .2 .75 .5 4.75 .3 2 .35 1 .2 .25 .3 .15 1.35 .15 2.75 .1 3-.1 1.2-.2 .4-.25 .35-.6 .9-3.15 .15-.35 .15-.1 .15 .1 .15 .35 .6 2.2 .35 1 .35 .5 .45 .25 .8 .1 1.5-.05 1.55-.15 1.3-.2 .9-.25 .8-.3 .7-.4 .55-.45 .55-.65 .4-.75 .35-1 .25-1.2 .45-4.15 .35-6.55 .3-9.2 .3-13.35 .95-55.95 .2-6.65 .15-1.6 .15 1.6 .2 6.6 1 58.5 .3 12.65 .35 9.7 .4 6 .25 2.05 .25 1.3 .35 1.15 .4 .75 .55 .7 .7 .55 .85 .45 1.05 .3 1.3 .25 1.6 .2 5.1 .15 5.2-.2 2.6-.3 1-.25 .8-.3 .65-.35 .55-.45 .4-.5 .35-.7 .45-1.5 .4-2.3 .35-3.25 .3-3.95 .6-11.75 1.1-28.35 .3-4.8 .15-1.15 .1-.2 .1 .2 .15 1.15 .3 4.75 1.15 29.4 .7 12.65 .4 4.2 .4 2.6 .5 1.65 .3 .55 .3 .25 .2 .05 .2-.1 .3-.55 .25-1.05 .25-2.05 .4-5.85 .7-14.8 .15-1.9 .15-.65 .15 .7 .15 2 .75 16.15 .45 6.1 .25 1.8 .3 1.1 .4 .65 .65 .4 .55 .1 .35-.1 .25-.35 .2-.55 .35-2 .55-5.05 .15-.85 .1-.15 .1 .2 .15 .85 .5 4.8 .3 2.05 .2 .8 .2 .45 .25 .3 .3 .15 .9 .2 1.55 .15 6 .15 12.7 .05 2.3-.05 1.2-.2 .35-.15 .25-.25 .35-1.1 .3-2.15 .5-5.1 .2-.8 .2 .8 .75 6.95 .3 1.2 .2 .3 .25 .2 .7 .2 1.25 .05 .8-.1 .45-.2 .5-.65 .85-2.4 .2-.35 .15-.1 .15 .1 .15 .25 .65 1.9 .35 .8 .35 .45 .5 .25 1.75 .15 4.7 0 3.3-.05 1.6-.15 .5-.15 .3-.3 .2-.45 .2-.8 .35-2.85 .55-6.8 .2-.95 .1 .25 .15 1.2 .5 6.3 .3 2.6 .35 1.3 .25 .35 .3 .2 1 .2 1.85 .1 3.65 0 1.5-.1 .45-.25 .35-.35 .95-2 .3-.25 .3 .25 .7 1.55 .35 .6 .4 .3 .6 .2 4 .05 7.6-.05 3-.15 1.85-.35 .9-.4 .5-.6 .4-1.2 .3-1.8 .3-2.95 .25-3.6 .9-17.45 .2-2.3 .15-.6 .15 .55 .2 2.2 .8 14.95 .4 4.5 .15 .7 .1 .15 .1-.1 .2-.7 .5-2.8 .15-.3 .1 .1 .25 1.3 .9 7.75 .35 1.45 .2 .5 .25 .3 .35 .25 .55 .2 1.9 .25 3.9 .15 1.4-.05 .7-.15 .45-.25 .35-.5 .35-.9 .65-2.15 .15-.3 .15-.1 .15 .1 .15 .3 .9 2.75 .25 .4 .3 .25 .25-.05 .3-.25 .9-1.7 .3-.25 .3 .25 .85 1.7 .25 .3 .25 .15 .3 0 .3-.25 .95-1.65 .3-.25 .3 .25 .95 1.75 .3 .3 .35 .2 1.4 .15 4.65 .05V260 H20 Z" class="s"/>
<path d="M49.35 152.2l.4-22.9M50.45 129.45l.4 23M87 177.7l.3-2.9 .25-3.5 .75-14.8M89.3 156.45l.75 14.8 .25 3.55 .3 2.9M95.85 177.8l.35-3.45M96.8 174.4l.35 3.45M122.4 100.45l.2-11.05M123.4 89.4l.2 11.05M151.65 150.95l.7-18.75M153.9 133.4l.65 17.45M158.25 177.7l.3-2.05 .3-3.75 .7-14.55M160.45 157.55l.65 14.1 .25 3.7 .25 2.4M193.55 177.65l.35-3.7M194.5 173.95l.35 3.7M215.8 177.85l.5-6.3M216.9 171.55l.5 6.3M249.45 177.85l.3-2.7 .3-4.2 .75-14.9M251.85 156.8l.55 10.7 .35 4.55 .15 1.05 .2 .55 .2-.35 .2-1" class="p"/>
<path d="M20 181.15l24.85 0 1.25-.15 .85-.2 .65-.4 .4-.5 .3-.85 .25-1.6 .2-2.5 .2-4.2 .3-10.7 .6-30.75 .15-4.4 .1-.9 .1 .95 .15 4.45 .65 33.15 .4 12 .2 2.95 .3 2.2 .4 1.15 .3 .45 .4 .4 .65 .45 .8 .35 2.3 .7 2.95 .5 3.65 .25 7.65 .15 9.8-.1 3.35-.25 1.05-.25 .65-.3 .45-.5 .35-.85 .3-1.45 .25-1.95 .45-5.85 .8-14.2 .2-2.05 .15-.5 .15 .5 .2 2.05 .8 14.2 .45 5.8 .25 1.95 .25 1.25 .3 .9 .4 .55 .35 .25 .45 .15 1.3 .2 1.05-.05 .25-.15 .2-.25 .25-.65 .2-1 .6-5.25 .15-.85 .1-.2 .2 .7 .5 4.55 .3 1.9 .35 .95 .2 .25 .3 .15 1.4 .15 2.8 .05 2.95-.05 1.15-.2 .4-.3 .35-.55 .9-3.1 .15-.4 .15-.1 .15 .1 .15 .35 .6 2.2 .35 1 .35 .5 .45 .25 .8 .05 1.5 0 1.55-.15 1.3-.2 .9-.25 .8-.3 .7-.4 .55-.45 .55-.65 .4-.75 .35-1.05 .25-1.2 .4-3.55 .35-5.95 .3-8.55 .3-12.35 1-56.5 .2-6.3 .15-1.55 .15 1.55 .2 6.3 1 56.45 .3 12.4 .35 9.6 .4 6.05 .25 2.1 .25 1.3 .35 1.15 .4 .75 .55 .7 .7 .55 .85 .4 1.05 .35 1.3 .25 1.65 .15 5.15 .15 5.1-.2 2.55-.35 1-.25 .8-.3 .65-.35 .55-.5 .4-.5 .35-.7 .45-1.5 .4-2.35 .35-3.3 .35-4.8 .6-12.45 1.1-29.7 .3-5 .15-1.2 .1-.2 .1 .2 .15 1.2 .3 4.95 1.2 32 .65 12.25 .4 4.5 .4 2.8 .5 1.85 .3 .55 .35 .35 .2 0 .2-.1 .3-.65 .25-1.25 .2-1.7 .4-5.9 .7-15 .15-1.9 .15-.7 .15 .75 .15 2.05 .75 16.3 .45 6.2 .25 1.8 .3 1.15 .4 .65 .65 .4 .55 .1 .35-.1 .25-.3 .2-.55 .35-2 .55-5 .15-.8 .1-.2 .1 .2 .15 .9 .5 4.7 .3 2.05 .2 .8 .2 .45 .25 .25 .3 .2 .9 .15 1.55 .15 5.95 .2 12.75 .05 2.3-.1 1.2-.15 .35-.15 .25-.25 .35-1.1 .3-2.1 .5-5.05 .2-.8 .2 .8 .75 6.9 .3 1.15 .2 .3 .25 .2 .7 .15 1.2 .1 .8-.1 .5-.2 .5-.6 .85-2.15 .2-.35 .15-.1 .15 .1 .15 .25 .65 1.7 .35 .75 .35 .4 .5 .25 1.75 .15 4.7 0 3.3-.05 1.6-.15 .5-.15 .3-.25 .2-.4 .2-.75 .35-2.6 .55-6.25 .2-.9 .1 .25 .15 1.1 .5 5.8 .3 2.35 .35 1.2 .25 .35 .3 .15 1.05 .2 1.9 .1 3.6 0 1.45-.15 .45-.2 .35-.4 .95-2.05 .3-.25 .3 .25 .7 1.6 .35 .6 .4 .35 .6 .15 3.9 .1 7.65-.05 3.05-.2 1.85-.3 .9-.4 .5-.6 .4-1.15 .3-1.7 .3-2.85 .25-3.45 .9-16.85 .2-2.2 .15-.55 .15 .5 .2 2.1 .8 14.45 .4 4.4 .2 .75 .1 .05 .1-.15 .65-3.15 .15-.25 .1 .1 .25 1.2 .9 7.3 .35 1.4 .2 .45 .25 .3 .35 .25 .55 .15 1.9 .25 3.9 .1 1.4 0 .7-.15 .45-.25 .35-.45 .35-.8 .65-2 .15-.25 .15-.1 .15 .1 .15 .25 .9 2.5 .25 .4 .25 .15 .3 0 .3-.35 .9-1.95 .3-.25 .3 .3 .9 2 .25 .3 .25 .1 .3 0 .3-.25 .9-1.5 .3-.2 .3 .25 .95 1.65 .3 .3 .35 .15 1.4 .15 4.65 .05V260 H20 Z" class="s"/>
<path d="M49.45 150.05l.3-16.25M50.45 133.95l.3 16.35M87.05 179.7l.5-5.55 .75-13.4M89.3 160.7l.75 13.45 .25 3.25 .3 2.65M95.85 180.05l.35-3.3M96.8 176.75l.35 3.3M122.45 101.4l.15-7.75M123.4 93.65l.15 7.75M151.65 150.95l.7-19.65M153.85 131.25l.7 19.6M158.2 179.8l.35-2.25 .3-3.8 .7-14.7M160.45 159.25l.65 14.3 .25 3.7 .3 2.8M193.55 179.75l.35-3.7M194.5 176.05l.35 3.7M215.85 179.75l.45-5.3M216.9 174.45l.45 5.3M249.5 179.7l.3-2.85 .25-3.45 .75-14.4M251.85 159.75l.55 10.3 .35 4.45 .15 1 .2 .55 .1-.05 .1-.25 .2-.9" class="p"/>
<path d="M20 183.2l24.8-.05 1.25-.1 .9-.25 .65-.4 .4-.5 .3-.9 .25-1.7 .2-2.55 .2-4.3 .3-10.75 .6-30.5 .15-4.35 .1-.9 .1 .9 .15 4.4 .65 32.95 .4 12.15 .2 3 .3 2.3 .4 1.2 .3 .45 .4 .4 .65 .45 .85 .4 2.3 .7 2.95 .45 3.7 .3 7.8 .15 9.6-.1 1.95-.1 1.4-.2 1-.25 .65-.3 .45-.55 .35-.9 .3-1.55 .25-2.05 .45-6.1 .8-14.8 .2-2.15 .15-.5 .15 .5 .2 2.1 .8 14.8 .45 6.1 .25 2.05 .25 1.35 .35 1 .4 .55 .35 .25 .5 .2 1.3 .15 .95-.05 .25-.15 .2-.25 .25-.7 .2-1.05 .6-5.55 .15-.9 .1-.2 .2 .75 .5 4.8 .3 2 .35 1 .2 .25 .3 .15 1.35 .2 2.7 .05 3.05-.05 1.2-.2 .4-.3 .35-.55 .9-3.1 .15-.35 .15-.15 .15 .15 .15 .35 .6 2.15 .35 .95 .35 .55 .45 .25 .8 .05 1.5-.05 2.8-.3 1.7-.55 .7-.35 .55-.45 .55-.6 .4-.7 .35-1 .25-1.1 .45-3.85 .35-5.95 .3-8.35 .3-12.1 1-54.15 .2-6 .15-1.45 .15 1.45 .2 6 1.05 56.45 .3 11.4 .35 8.8 .4 5.55 .25 1.9 .25 1.2 .35 1.05 .4 .75 .55 .65 .7 .55 .85 .4 1.1 .3 1.3 .25 1.65 .15 5.2 .15 5.05-.2 2.5-.35 1-.25 .8-.3 .65-.35 .5-.45 .4-.5 .35-.7 .45-1.45 .4-2.35 .35-3.2 .3-3.9 .6-11.5 1.15-29.3 .3-4.75 .15-1.1 .1-.2 .1 .2 .15 1.1 .3 4.7 1.2 30.35 .65 11.75 .4 4.35 .4 2.75 .5 1.8 .3 .6 .35 .3 .2 .05 .2-.15 .3-.6 .25-1.2 .2-1.7 .4-5.75 .7-14.55 .15-1.85 .15-.65 .15 .7 .15 1.95 .75 15.9 .45 6.05 .25 1.7 .3 1.15 .4 .65 .65 .35 .55 .1 .35-.1 .25-.35 .2-.55 .35-2.05 .55-5.15 .15-.9 .1-.15 .1 .2 .15 .9 .55 5.3 .35 2.15 .2 .6 .25 .4 .3 .2 .55 .2 1.3 .15 2.1 .1 8.1 .15 10 0 1.8-.05 1-.2 .3-.15 .2-.25 .35-1.05 .3-2.15 .5-5.05 .2-.8 .2 .8 .75 6.9 .3 1.15 .2 .35 .25 .2 .7 .15 1.25 .05 .8-.05 .45-.25 .5-.65 .85-2.4 .2-.4 .15-.1 .15 .1 .15 .3 .65 1.9 .35 .8 .35 .45 .5 .25 1.65 .15 4.45 .05 3.55-.05 1.7-.15 .5-.15 .3-.3 .2-.35 .2-.75 .35-2.6 .55-6.25 .2-.85 .1 .25 .15 1.05 .5 5.8 .3 2.35 .35 1.2 .25 .35 .3 .15 1.05 .2 1.9 .05 3.6 0 1.45-.1 .45-.2 .35-.4 .95-2 .3-.25 .3 .25 .7 1.6 .35 .55 .4 .35 .6 .15 3.95 .1 7.6-.1 3.05-.15 1.85-.3 .9-.4 .5-.65 .4-1.15 .3-1.75 .3-2.9 .25-3.55 .9-17.15 .2-2.25 .15-.55 .15 .5 .2 2.2 .8 14.65 .4 4.4 .15 .65 .1 .15 .1-.1 .2-.75 .5-2.85 .15-.3 .1 .1 .25 1.3 .9 7.75 .35 1.5 .2 .45 .25 .35 .35 .25 .55 .2 1.9 .25 3.9 .1 1.4-.05 .7-.1 .45-.3 .35-.5 .35-.85 .65-2.15 .15-.3 .15-.1 .15 .1 .15 .3 .9 2.7 .25 .45 .3 .2 .25-.05 .3-.3 .9-1.85 .3-.3 .3 .3 .9 1.95 .25 .3 .25 .1 .3 0 .3-.25 .9-1.5 .3-.2 .3 .2 .95 1.7 .3 .25 .35 .2 1.4 .15 4.65 .05V260 H20 Z" class="s"/>
<path d="M49.45 151.7l.3-16.1M50.45 135.7l.3 16.25M87 181.85l.3-2.8 .25-3.4 .75-14M89.3 161.65l.75 14 .25 3.4 .3 2.8M95.85 181.85l.35-3.5M96.8 178.35l.35 3.55M151.8 150.15l.5-13.4M153.9 136.7l.5 13.35M158.25 181.75l.3-2 .3-3.65 .7-14.35M160.45 161.95l.65 13.9 .25 3.65 .25 2.35M193.55 181.75l.35-3.7M194.5 178.05l.35 3.7M215.85 181.8l.45-5.25M216.9 176.55l.45 5.25M249.45 182l.3-2.7 .3-4.1 .75-14.6M251.85 161.3l.55 10.5 .35 4.45 .15 1.05 .2 .5 .2-.4 .2-1" class="p"/>
<path d="M20 185.25l24.7-.05 1.25-.15 .9-.2 .65-.35 .45-.55 .35-1.1 .25-1.75 .4-7.2 .3-11.1 .6-31 .15-4.4 .1-.9 .1 .95 .15 4.4 .65 33.5 .4 12.6 .25 3.7 .3 2.1 .4 1.15 .3 .45 .4 .4 .65 .45 .85 .4 2.3 .7 3 .45 3.7 .3 7.9 .1 9.45-.1 1.95-.1 1.35-.15 1-.25 .65-.35 .45-.55 .3-.8 .3-1.45 .25-1.95 .45-5.9 .85-15.95 .2-2.15 .15-.5 .15 .5 .2 2.15 .8 15.05 .45 6.25 .25 2.15 .25 1.4 .35 1.05 .4 .55 .35 .25 .45 .2 1.3 .2 1-.1 .25-.1 .2-.3 .25-.7 .2-1.05 .6-5.5 .15-.9 .1-.2 .2 .75 .5 4.75 .3 2.05 .35 1 .2 .25 .3 .15 1.35 .15 2.75 .1 3-.1 1.2-.2 .4-.3 .35-.6 .9-3.15 .15-.35 .15-.15 .15 .15 .15 .35 .6 2.25 .35 .95 .35 .55 .45 .25 .8 .05 1.45 0 2.8-.35 1.7-.55 .7-.4 .55-.45 .55-.6 .4-.7 .35-1 .25-1.1 .45-3.8 .35-5.85 .35-9.95 .3-12.65 1-55.75 .2-6.15 .15-1.45 .15 1.45 .2 6.15 1.05 58.15 .3 11.95 .35 9.3 .4 5.9 .25 2.1 .25 1.3 .35 1.15 .4 .75 .55 .7 .7 .55 .85 .45 1.05 .35 1.3 .25 1.6 .15 4.95 .2 5.1-.2 2.65-.35 1-.25 .85-.3 .65-.35 .55-.45 .4-.5 .35-.65 .45-1.45 .4-2.2 .35-3.1 .35-4.5 .6-11.55 1.15-29.1 .3-4.7 .15-1.1 .1-.2 .1 .2 .15 1.1 .3 4.65 1.2 30.15 .65 11.8 .4 4.45 .4 2.75 .5 1.9 .3 .6 .35 .35 .2 0 .2-.1 .3-.65 .25-1.2 .2-1.7 .4-5.85 .7-14.75 .15-1.9 .15-.7 .15 .75 .15 2 .75 16.1 .45 6.15 .25 1.75 .3 1.15 .4 .65 .65 .4 .55 .05 .35-.1 .25-.3 .2-.6 .35-2.05 .55-5.25 .15-.85 .1-.2 .1 .2 .15 .9 .55 5.4 .35 2.15 .2 .6 .25 .45 .3 .2 .55 .15 1.25 .2 2.05 .1 7.8 .15 10.3 0 1.9-.1 1-.15 .3-.15 .2-.25 .35-1.05 .3-2.05 .5-4.9 .2-.8 .2 .8 .75 6.7 .3 1.1 .2 .35 .25 .2 .75 .15 1.25 .05 .75-.1 .45-.2 .5-.7 .85-2.45 .2-.4 .15-.1 .15 .1 .15 .25 .65 2 .35 .8 .35 .5 .5 .25 1.65 .15 4.4 .05 3.6-.05 1.7-.2 .5-.15 .3-.25 .2-.4 .2-.75 .35-2.6 .55-6.3 .2-.85 .1 .2 .15 1.1 .5 5.85 .3 2.35 .35 1.25 .25 .3 .3 .2 1 .15 1.9 .1 3.6 0 1.5-.1 .45-.2 .35-.4 .95-2 .3-.25 .3 .25 .7 1.55 .35 .6 .4 .3 .6 .2 3.85 .1 7.65-.1 3.1-.15 1.85-.3 .9-.4 .5-.55 .4-1.1 .3-1.65 .3-2.75 .25-3.3 .9-16.15 .2-2.1 .15-.55 .15 .5 .2 2 .8 13.75 .4 4 .15 .55 .1 .05 .1-.15 .65-3.75 .15-.45 .1-.05 .05 .05 .25 1.35 .9 8 .35 1.5 .25 .55 .25 .35 .4 .25 .55 .15 1.9 .25 3.85 .1 1.35-.05 .7-.1 .45-.25 .35-.5 .35-.8 .65-2.05 .15-.25 .15-.1 .15 .1 .15 .25 .9 2.55 .25 .4 .25 .2 .3-.05 .3-.25 .9-1.85 .3-.25 .3 .25 .85 1.8 .25 .35 .25 .15 .3 0 .3-.25 .95-1.6 .3-.2 .3 .2 .95 1.75 .3 .3 .35 .15 1.4 .15 4.65 .05V260 H20 Z" class="s"/>
<path d="M49.45 152.6l.3-16.35M50.45 136.35l.25 13.7M86.95 184.1l.3-2.7 .25-3.25 .75-14.15M89.35 164l.75 14.1 .25 3.3 .3 2.65M95.85 183.9l.35-3.5M96.8 180.45l.35 3.45M122.5 101.6l.1-4.85M123.4 96.75l.1 4.85M151.85 150.55l.45-12M153.9 138.5l.45 11.95M158.2 183.95l.35-2.25 .3-3.75 .7-14.55M160.45 163.65l.65 14.1 .25 3.65 .25 2.4M193.55 183.95l.35-3.6M194.5 180.35l.35 3.6M215.85 183.8l.45-5.3M216.9 178.5l.45 5.3M249.5 183.95l.3-2.75 .25-3.3 .75-13.8M251.85 164.8l.55 9.8 .35 4.1 .15 .9 .1 .3 .1 .05 .2-.5 .2-1.15" class="p"/>
<path d="M20 187.25l24.7-.05 1.25-.1 .9-.2 .65-.35 .45-.55 .3-.85 .25-1.55 .2-2.35 .2-3.9 .35-12.1 .6-29.7 .15-4.15 .1-.85 .1 .85 .15 4.25 .65 32.1 .4 12.25 .25 3.7 .3 2.1 .4 1.15 .3 .45 .4 .4 .65 .45 .8 .4 2.3 .65 2.95 .5 3.65 .25 7.7 .15 9.65-.1 3.35-.25 1.05-.25 .65-.3 .45-.5 .35-.9 .3-1.4 .25-1.95 .45-5.75 .85-15.4 .2-2.1 .15-.5 .2 .9 .2 2.4 .75 13.85 .45 6.1 .25 2.1 .25 1.35 .35 1.05 .4 .55 .35 .25 .45 .2 1.3 .2 1-.1 .25-.1 .2-.25 .25-.65 .2-1.05 .6-5.2 .15-.9 .1-.2 .2 .75 .5 4.55 .3 1.9 .35 .95 .2 .25 .3 .15 1.4 .15 2.8 .05 2.9-.05 1.2-.2 .4-.3 .35-.6 .9-3.15 .15-.35 .15-.15 .15 .15 .15 .35 .6 2.25 .35 .95 .35 .5 .45 .25 .8 .1 1.45-.05 1.5-.15 1.3-.2 .9-.25 .8-.3 .7-.4 .55-.45 .55-.65 .4-.75 .35-1 .25-1.15 .45-3.95 .35-6.05 .3-8.4 .3-12.1 1-55.85 .2-7.05 .2-2.55 .15 1.45 .2 6.05 1.05 57.95 .35 13.75 .35 8.85 .4 5.6 .25 1.95 .25 1.3 .35 1.1 .4 .75 .55 .7 .7 .55 .9 .45 1.05 .3 1.3 .25 1.65 .2 2.35 .1 2.8 .05 2.75-.05 2.25-.15 2.5-.4 1-.25 .8-.35 .65-.35 .5-.45 .4-.55 .35-.75 .45-1.55 .4-2.45 .35-3.3 .35-4.8 .6-12.3 1.15-30.6 .3-4.85 .15-1.15 .1-.2 .1 .2 .15 1.15 .3 4.8 1.2 31.75 .7 13.25 .4 4.5 .4 2.85 .5 1.9 .3 .6 .35 .35 .2 0 .15-.1 .3-.6 .25-1.2 .2-1.7 .4-5.8 .7-14.75 .15-1.95 .15-.65 .15 .75 .15 2 .75 16.1 .45 6.15 .25 1.8 .3 1.1 .4 .7 .65 .4 .55 .1 .35-.1 .25-.35 .2-.5 .35-2 .55-4.95 .15-.85 .1-.15 .1 .2 .15 .85 .5 4.7 .3 2.05 .2 .75 .2 .45 .25 .3 .3 .15 .95 .2 1.55 .15 6.05 .2 12.6 .05 2.3-.1 1.2-.15 .35-.15 .25-.3 .35-1.1 .3-2.15 .5-5.2 .2-.8 .2 .8 .75 7.1 .3 1.15 .2 .35 .25 .2 .7 .15 1.25 .05 .8-.05 .45-.2 .5-.65 .85-2.3 .2-.4 .15-.1 .15 .1 .15 .3 .65 1.85 .35 .75 .35 .45 .5 .25 1.75 .15 4.7 0 3.3-.05 1.6-.15 .5-.15 .3-.3 .2-.4 .2-.8 .35-2.75 .55-6.65 .2-.9 .1 .2 .15 1.2 .5 6.15 .3 2.5 .35 1.25 .25 .35 .3 .2 1 .2 1.9 .1 3.6 0 1.5-.15 .45-.2 .35-.4 .95-2 .3-.3 .3 .3 .7 1.6 .35 .55 .4 .35 .6 .15 3.8 .1 7.7-.05 3.1-.15 1.85-.3 .9-.4 .5-.55 .4-1.1 .3-1.65 .3-2.7 .25-3.3 .9-16.1 .2-2.1 .15-.5 .15 .45 .2 2.05 .8 13.7 .4 4.05 .15 .6 .1 .1 .1-.15 .2-.75 .5-2.8 .15-.3 .1 .1 .25 1.25 .9 7.55 .35 1.45 .2 .4 .25 .35 .35 .25 .55 .15 1.95 .3 3.95 .05 1.35-.05 .65-.1 .45-.25 .35-.55 .35-.9 .65-2.15 .15-.3 .15-.1 .15 .1 .15 .3 .9 2.75 .25 .45 .3 .2 .25 0 .3-.25 .9-1.8 .3-.25 .3 .25 .85 1.75 .25 .35 .25 .15 .3 0 .3-.25 .95-1.55 .3-.2 .3 .2 .95 1.7 .3 .3 .35 .15 1.4 .15 4.65 .05V260 H20 Z" class="s"/>
<path d="M49.55 150.05l.2-10.25M50.45 139.9l.2 10.35M87 185.8l.55-6.2 .7-12.95M89.35 166.65l.75 13.7 .25 3.15 .3 2.65M95.85 186.1l.35-3.3M96.8 182.8l.35 3.35M151.85 150.1l.5-13.85M153.85 136.15l.55 15.25M158.2 185.85l.35-2.25 .3-3.7 .7-14.55M160.45 165.6l.65 14.1 .25 3.7 .3 2.75M193.5 186.25l.4-4.3M194.5 181.95l.4 4.25M215.8 186.1l.5-6.1M216.9 180l.5 6.1M249.5 186l.3-2.7 .25-3.3 .75-13.7M251.85 166.95l.55 9.8 .35 4.15 .15 .9 .2 .45 .2-.45 .2-1" class="p"/>
<path d="M20 189.3l24.65-.05 1.3-.15 .9-.2 .65-.4 .45-.6 .3-.9 .25-1.7 .4-6.7 .35-12.75 .6-30.75 .15-4.25 .1-.85 .1 .85 .15 4.35 .65 33.25 .4 12.95 .25 3.95 .3 2.3 .4 1.25 .3 .45 .4 .4 .65 .5 .8 .4 2.25 .65 2.95 .5 3.65 .3 7.7 .15 9.7-.1 3.35-.3 1.05-.2 .65-.35 .45-.5 .35-.9 .3-1.4 .25-1.95 .45-5.75 .85-15.3 .2-2.05 .15-.5 .2 .85 .2 2.4 .75 13.75 .45 6.1 .25 2.1 .25 1.35 .35 1.05 .4 .6 .35 .25 .45 .15 1.3 .2 1-.05 .25-.15 .2-.25 .25-.75 .2-1.05 .6-5.6 .15-1 .1-.15 .2 .75 .5 4.85 .3 2.05 .35 1.05 .2 .25 .3 .15 1.4 .2 2.75 .05 2.95-.1 1.2-.2 .4-.3 .35-.6 .9-3.35 .15-.4 .15-.1 .15 .1 .15 .4 .6 2.35 .35 1.05 .35 .55 .45 .25 .75 .1 1.4-.05 2.8-.35 .95-.2 .8-.3 .65-.35 .6-.45 .55-.65 .45-.75 .35-1.05 .25-1.15 .45-3.9 .35-5.95 .3-8.15 .3-11.7 1-53.05 .2-6.65 .2-2.4 .15 1.35 .2 5.7 1.05 55.05 .35 13.25 .35 8.65 .4 5.55 .25 1.95 .25 1.25 .35 1.1 .4 .75 .55 .65 .75 .6 .9 .4 1.05 .35 1.35 .25 1.65 .15 5.15 .1 2.7-.05 2.2-.15 2.5-.35 .95-.3 .8-.3 .65-.4 .5-.45 .4-.55 .35-.75 .45-1.55 .4-2.35 .35-3.25 .35-4.75 .6-12.15 1.2-32.25 .3-4.9 .15-1.15 .1-.2 .1 .2 .15 1.15 .3 4.85 1.2 32.15 .7 13.6 .4 4.7 .4 2.95 .5 2.05 .3 .65 .35 .35 .2 .05 .15-.05 .3-.6 .25-1.15 .2-1.6 .4-5.6 .7-14.15 .15-1.85 .15-.6 .15 .7 .15 1.9 .75 15.55 .45 5.9 .25 1.7 .3 1.1 .4 .65 .65 .4 .55 .1 .35-.1 .25-.35 .2-.5 .35-1.95 .55-4.9 .15-.8 .1-.15 .1 .2 .15 .85 .5 4.6 .3 2 .2 .75 .2 .45 .25 .3 .3 .15 .95 .2 1.6 .15 6.15 .15 12.5 .05 2.25-.05 1.2-.15 .35-.15 .25-.3 .35-1.15 .3-2.2 .5-5.2 .2-.85 .2 .85 .75 7.15 .3 1.2 .2 .3 .25 .2 .7 .2 1.25 .05 .8-.05 .45-.25 .5-.65 .85-2.4 .2-.4 .15-.05 .15 .1 .15 .25 .65 1.9 .35 .8 .35 .45 .5 .25 1.65 .15 4.45 .05 3.55-.05 1.7-.15 .5-.15 .3-.25 .2-.4 .2-.75 .35-2.55 .55-6.2 .2-.85 .1 .25 .15 1.05 .5 5.75 .3 2.3 .35 1.2 .25 .35 .3 .15 1.05 .2 1.95 .05 3.55 0 1.45-.1 .45-.2 .35-.4 .95-2.1 .3-.25 .3 .25 .7 1.65 .35 .6 .4 .35 .6 .15 3.8 .1 7.7-.05 3.1-.2 1.85-.3 .9-.35 .5-.6 .4-1.1 .3-1.65 .3-2.8 .25-3.35 .9-16.3 .2-2.15 .15-.5 .15 .45 .2 2.05 .8 13.95 .4 4.15 .15 .55 .1 .1 .1-.1 .2-.75 .5-2.85 .15-.3 .1 .1 .25 1.3 .9 7.6 .35 1.45 .2 .45 .25 .35 .35 .2 .55 .2 1.9 .25 3.9 .1 1.4-.05 .7-.1 .45-.25 .35-.5 .35-.8 .65-2 .15-.3 .15-.1 .15 .1 .15 .25 .9 2.6 .25 .35 .25 .2 .3-.05 .3-.3 .9-1.9 .3-.3 .3 .3 .9 1.95 .25 .3 .25 .15 .3-.05 .3-.25 .9-1.55 .3-.25 .3 .25 .95 1.75 .3 .3 .35 .2 1.4 .15 4.65 .05V260 H20 Z" class="s"/>
<path d="M49.55 150.1l.2-10.6M50.45 139.6l.2 10.7M86.95 188.15l.3-2.65 .25-3.2 .75-13.6M89.35 168.7l.75 13.6 .25 3.2 .3 2.65M95.85 187.85l.35-3.55M96.8 184.35l.35 3.55M151.85 150.95l.5-14M153.85 136.9l.5 14M158.2 187.9l.35-2.15 .3-3.55 .7-13.95M160.45 168.5l.65 13.6 .25 3.55 .25 2.3M193.5 188.2l.4-4.3M194.5 183.9l.4 4.3M215.85 187.95l.45-5.25M216.9 182.7l.45 5.25M249.5 188l.3-2.8 .25-3.35 .75-13.9M251.85 168.6l.55 10 .35 4.2 .15 .95 .2 .4 .2-.4 .2-1" class="p"/>
<path d="M20 191.35l24.55-.1 1.35-.1 .9-.25 .65-.35 .45-.6 .35-1.05 .25-1.75 .4-6.9 .35-12.95 .6-30.75 .15-4.2 .1-.85 .1 .85 .15 4.3 .7 35.45 .4 12.05 .25 3.6 .3 2.05 .4 1.15 .3 .45 .4 .4 .65 .5 .8 .35 1.05 .4 1.25 .3 2.9 .5 3.65 .25 7.7 .15 9.65-.1 3.35-.25 1.05-.25 .65-.3 .45-.55 .35-.85 .3-1.45 .25-1.95 .45-5.75 .8-14.45 .2-2.35 .2-.85 .2 .85 .2 2.35 .75 13.6 .45 6.05 .25 2.15 .25 1.35 .35 1.1 .4 .55 .35 .25 .45 .2 1.3 .2 1-.1 .25-.1 .2-.25 .25-.7 .2-1.05 .6-5.5 .15-.9 .1-.2 .2 .75 .5 4.75 .3 2 .35 1 .2 .25 .3 .15 1.4 .2 2.75 .05 2.95-.1 1.2-.2 .4-.3 .35-.6 .9-3.2 .15-.4 .15-.1 .15 .1 .15 .35 .6 2.3 .35 1 .35 .55 .45 .25 .75 .05 1.4 0 2.8-.35 1.75-.5 .7-.4 .55-.4 .55-.65 .45-.75 .35-1.05 .25-1.2 .45-3.9 .35-5.95 .3-8.1 .3-11.45 1-51.3 .2-6.4 .2-2.3 .2 2.3 .2 6.4 1.05 53.45 .3 10.85 .35 8.6 .4 5.55 .25 1.95 .25 1.3 .35 1.1 .4 .75 .55 .65 .75 .6 .9 .4 1.05 .35 1.3 .2 1.65 .2 5.1 .1 4.95-.2 2.5-.35 1-.25 .8-.35 .65-.35 .5-.45 .4-.5 .35-.7 .45-1.5 .4-2.3 .35-3.15 .35-4.5 .6-11.5 1.2-30.2 .3-4.55 .15-1.1 .1-.2 .1 .2 .15 1.05 .3 4.55 1.25 31.25 .65 11.7 .4 4.5 .4 2.85 .5 1.95 .3 .6 .35 .35 .2 .05 .15-.1 .3-.6 .25-1.25 .2-1.7 .4-5.85 .7-14.9 .15-1.9 .15-.65 .15 .75 .15 2 .75 16.2 .45 6.2 .25 1.8 .3 1.15 .4 .65 .65 .4 .55 .1 .35-.1 .25-.35 .2-.55 .35-2.05 .55-5.15 .15-.85 .1-.2 .1 .2 .15 .9 .5 4.9 .3 2.1 .2 .8 .2 .45 .25 .3 .3 .2 .9 .2 1.55 .15 6.05 .15 12.65 .05 2.3-.05 1.2-.2 .35-.15 .25-.3 .35-1.1 .3-2.2 .5-5.3 .2-.8 .2 .8 .75 7.2 .3 1.2 .2 .35 .25 .2 .7 .2 1.25 .05 .8-.1 .45-.2 .5-.7 .85-2.4 .2-.4 .15-.1 .15 .1 .15 .3 .65 1.9 .35 .85 .35 .45 .5 .25 1.7 .15 4.45 .05 3.5-.05 1.7-.2 .5-.15 .3-.25 .2-.4 .2-.75 .35-2.65 .55-6.4 .2-.9 .1 .25 .15 1.1 .5 5.95 .3 2.4 .35 1.25 .25 .3 .3 .2 1.05 .15 1.9 .1 3.6 0 1.45-.1 .45-.25 .35-.35 .95-2.05 .3-.3 .3 .3 .7 1.6 .35 .55 .4 .35 .6 .2 3.9 .1 7.65-.1 3.05-.15 1.85-.3 .9-.45 .5-.55 .4-1.2 .3-1.7 .3-2.9 .25-3.5 .9-17 .2-2.25 .15-.55 .15 .5 .2 2.15 .8 14.55 .4 4.4 .15 .65 .1 .1 .1-.1 .2-.7 .5-2.8 .15-.3 .1 .1 .25 1.3 .9 7.65 .35 1.45 .2 .45 .25 .35 .35 .25 .55 .2 1.9 .25 3.9 .1 1.4-.05 .7-.1 .45-.3 .35-.45 .35-.9 .65-2.05 .15-.3 .15-.1 .15 .1 .15 .3 .9 2.65 .25 .4 .25 .2 .3-.05 .3-.3 .9-1.85 .3-.25 .3 .25 .85 1.85 .25 .3 .25 .2 .3-.05 .3-.2 .95-1.75 .3-.25 .3 .3 .95 1.8 .3 .3 .35 .2 1.4 .15 4.65 .05V260 H20 Z" class="s"/>
<path d="M49.55 151.5l.15-8.1M50.5 143.55l.15 8.15M86.95 190.15l.3-2.65 .25-3.15 .75-13.5M89.35 170.85l.75 13.45 .25 3.2 .3 2.65M95.85 190l.35-3.45M96.8 186.55l.35 3.5M152 151l.3-7.8M153.9 143.1l.3 7.85M158.2 189.9l.35-2.25 .3-3.75 .7-14.65M160.45 169.5l.65 14.25 .25 3.65 .3 2.8M193.5 190.25l.4-4.4M194.5 185.85l.4 4.35M215.8 190.35l.5-5.9M216.9 184.45l.5 5.9M249.45 190.2l.3-2.7 .3-4.05 .75-14.5M251.85 169.65l.55 10.4 .35 4.45 .15 1 .2 .5 .2-.35 .2-1" class="p"/>
<path d="M20 193.35l24.55-.05 1.35-.15 .9-.2 .65-.4 .45-.55 .35-1.1 .25-1.8 .4-7 .35-12.85 .6-30.1 .15-4.15 .1-.8 .1 .85 .15 4.15 .7 34.8 .4 12.05 .25 3.6 .3 2.15 .4 1.2 .3 .45 .4 .4 .65 .45 .8 .4 1.05 .4 1.25 .3 2.95 .5 3.7 .25 7.85 .15 9.45-.1 1.95-.1 1.4-.2 1-.25 .65-.35 .45-.55 .35-.9 .3-1.55 .25-2.05 .45-6 .8-14.9 .2-2.45 .2-.9 .2 .9 .2 2.45 .8 14.9 .45 6 .25 2.05 .25 1.3 .35 1.05 .4 .55 .35 .25 .45 .15 1.3 .2 .95-.05 .25-.15 .2-.25 .25-.7 .2-1 .6-5.45 .15-.9 .1-.2 .2 .75 .5 4.7 .3 2 .35 1 .2 .2 .3 .15 1.4 .2 2.75 .05 2.95-.05 1.2-.2 .4-.3 .35-.6 .9-3.2 .15-.35 .15-.15 .15 .15 .15 .35 .6 2.25 .35 1 .35 .5 .45 .25 .75 .1 1.45-.05 2.75-.35 1.7-.55 .65-.35 .6-.45 .55-.65 .45-.8 .35-1.05 .25-1.15 .45-3.9 .35-5.85 .35-9.7 .3-12 1-53 .2-6.55 .2-2.35 .2 2.35 .2 6.55 1.05 55.25 .35 12.95 .35 8.5 .4 5.45 .25 2 .25 1.25 .35 1.1 .4 .8 .55 .65 .75 .6 .9 .45 1.05 .3 1.3 .25 1.65 .2 5 .15 4.9-.25 2.55-.35 1-.3 .8-.3 .65-.4 .5-.45 .4-.5 .35-.75 .5-1.7 .4-2.45 .35-3.3 .35-4.8 .6-12 1.15-30.2 .3-5.15 .15-1.4 .15-.5 .1 .2 .15 1.1 .3 4.65 1.25 32.35 .7 12.95 .4 4.55 .4 2.8 .5 1.95 .3 .65 .3 .3 .2 .05 .15-.1 .3-.55 .25-1.2 .2-1.65 .4-5.75 .7-14.55 .15-1.85 .15-.65 .15 .7 .15 2 .75 15.9 .45 6.1 .25 1.75 .3 1.1 .4 .65 .65 .4 .55 .1 .35-.1 .25-.35 .2-.55 .35-2.05 .55-5.15 .15-.9 .1-.15 .1 .2 .15 .9 .5 4.9 .3 2.1 .2 .8 .2 .5 .25 .3 .3 .15 .9 .2 1.55 .15 5.95 .2 12.7 .05 2.35-.1 1.2-.15 .35-.15 .25-.3 .35-1.1 .3-2.15 .5-5.15 .2-.8 .2 .8 .75 7.05 .3 1.15 .2 .35 .25 .2 .7 .15 1.25 .05 .8-.05 .45-.2 .5-.7 .85-2.4 .2-.4 .15-.1 .15 .1 .15 .25 .65 1.95 .35 .8 .35 .45 .5 .3 1.7 .15 4.55 0 3.45-.05 1.65-.15 .5-.15 .3-.3 .2-.4 .2-.75 .35-2.7 .55-6.55 .2-.9 .1 .25 .15 1.15 .5 6.05 .3 2.4 .35 1.3 .25 .35 .3 .15 1 .2 1.85 .1 3.65 0 1.5-.15 .45-.2 .35-.35 .95-1.95 .3-.3 .3 .3 .7 1.5 .35 .6 .4 .3 .6 .2 3.95 .05 7.6-.05 3.05-.15 1.85-.35 .9-.4 .5-.6 .4-1.15 .3-1.75 .3-2.95 .25-3.5 .9-17.15 .2-2.25 .15-.55 .15 .5 .2 2.15 .8 14.65 .4 4.35 .15 .65 .1 .1 .1-.1 .2-.75 .5-2.95 .15-.35 .1 .15 .25 1.3 .9 7.95 .35 1.5 .2 .45 .25 .35 .35 .25 .55 .2 1.9 .25 3.9 .1 1.4 0 .7-.15 .45-.25 .35-.5 .35-.85 .65-2.05 .15-.3 .15-.1 .15 .1 .15 .25 .9 2.65 .25 .45 .25 .15 .3 0 .3-.3 .9-1.85 .3-.25 .3 .25 .9 1.9 .25 .3 .25 .15 .3-.05 .3-.2 .9-1.45 .3-.25 .3 .25 .95 1.6 .3 .3 .35 .15 1.4 .15 4.65 .05V260 H20 Z" class="s"/>
<path d="M49.6 151l.1-5.2M50.5 145.95l.1 5.25M86.95 191.95l.3-2.75 .25-3.35 .75-13.95M89.35 171.85l.75 14 .25 3.35 .3 2.75M95.85 192.05l.35-3.4M96.8 188.65l.35 3.45M152 151l.3-8.1M153.9 142.85l.3 8.05M158.15 192.05l.35-1.95 .3-3.35 .75-15.05M160.45 171.95l.65 13.95 .25 3.65 .25 2.35M193.5 192.35l.4-4.25M194.5 188.1l.4 4.25M215.8 192.3l.5-6.05M216.9 186.25l.5 6.05M249.45 192.2l.3-2.7 .3-4.1 .75-14.65M251.85 171.5l.55 10.45 .35 4.45 .15 1 .2 .45 .2-.4 .2-1.05" class="p"/>
<path d="M20 195.4l24.55-.1 1.35-.1 .9-.25 .65-.4 .45-.6 .35-1.2 .25-1.9 .4-7.35 .35-13.25 .55-28.65 .15-5.15 .15-1.85 .1 .85 .15 4.2 .7 35.45 .4 12.5 .25 3.8 .3 2.25 .4 1.3 .3 .45 .4 .45 .65 .45 .8 .4 2.2 .7 2.9 .5 3.6 .3 7.6 .15 9.75-.1 2-.1 1.45-.2 1.05-.2 .65-.35 .5-.55 .35-.95 .3-1.5 .25-2 .45-5.85 .8-14.45 .2-2.35 .2-.85 .2 .85 .2 2.35 .8 14.45 .45 5.8 .25 2 .25 1.3 .35 1.05 .4 .55 .35 .25 .45 .15 1.25 .2 1-.05 .25-.15 .2-.25 .25-.65 .2-1 .6-5.25 .15-.9 .1-.2 .2 .75 .5 4.55 .3 1.9 .35 1 .2 .2 .3 .15 1.4 .2 2.85 .05 2.9-.1 1.15-.2 .4-.3 .35-.6 .9-3.25 .15-.4 .15-.1 .15 .1 .15 .35 .9 3.25 .35 .6 .45 .3 .7 .05 1.35 0 2.85-.35 1.75-.5 .65-.35 .6-.45 .55-.55 .45-.75 .35-.95 .25-1.1 .45-3.5 .4-6.3 .35-9.35 .3-11.5 1-50.05 .2-6.15 .2-2.15 .2 2.15 .2 6.15 1.05 52.2 .35 12.45 .35 8.2 .4 5.35 .25 1.95 .3 1.45 .35 1 .4 .7 .55 .65 .75 .55 .9 .45 1.1 .3 1.35 .25 1.7 .15 5.15 .1 2.6-.05 2.15-.15 2.45-.4 .95-.3 .8-.35 .6-.35 .5-.45 .4-.55 .35-.75 .45-1.6 .4-2.35 .35-3.25 .35-4.65 .65-13 1.15-30.35 .3-5.15 .15-1.4 .15-.45 .1 .2 .15 1.1 .3 4.65 1.25 32.45 .7 13.2 .4 4.65 .45 3.2 .5 1.9 .3 .6 .3 .25 .2 .05 .15-.15 .3-.7 .25-1.35 .2-1.85 .35-5.3 .7-14.75 .15-1.9 .15-.65 .15 .75 .15 2 .75 16.15 .45 6.15 .25 1.75 .3 1.15 .4 .7 .65 .4 .55 .1 .35-.15 .25-.3 .2-.55 .35-2.05 .55-5.15 .15-.85 .1-.2 .1 .2 .15 .9 .5 4.9 .3 2.1 .2 .8 .2 .45 .25 .3 .3 .2 .95 .2 1.55 .15 6 .15 12.65 .05 2.3-.05 1.2-.15 .35-.15 .25-.3 .35-1.15 .3-2.2 .5-5.3 .2-.8 .2 .8 .75 7.25 .3 1.15 .2 .35 .25 .25 .7 .15 1.25 .05 .8-.05 .45-.2 .5-.65 .85-2.35 .2-.35 .15-.1 .15 .1 .15 .25 .65 1.85 .35 .8 .35 .4 .5 .3 1.6 .1 4.25 .05 3.7-.05 1.75-.15 .5-.1 .3-.25 .25-.4 .2-.75 .35-2.5 .55-6 .2-.85 .1 .2 .15 1.1 .5 5.55 .3 2.25 .35 1.2 .25 .3 .3 .15 1.05 .2 2 .1 3.55-.05 1.4-.1 .45-.25 .35-.4 .95-2.1 .3-.3 .3 .3 .7 1.65 .35 .6 .4 .35 .6 .2 3.8 .1 7.7-.05 3.1-.2 1.85-.3 .9-.4 .5-.6 .4-1.15 .3-1.7 .3-2.85 .25-3.45 .9-16.85 .2-2.2 .15-.55 .15 .5 .2 2.15 .8 14.35 .4 4.3 .15 .6 .1 .1 .1-.1 .2-.75 .5-2.9 .15-.3 .1 .1 .25 1.3 .9 7.8 .35 1.45 .2 .45 .25 .35 .35 .25 .55 .2 1.9 .25 3.95 .1 1.35-.05 .7-.1 .45-.3 .35-.5 .35-.9 .65-2.2 .15-.35 .15-.1 .15 .1 .15 .3 .9 2.85 .25 .4 .3 .25 .25-.05 .3-.25 .9-1.85 .3-.3 .3 .3 .9 1.9 .25 .3 .25 .1 .3 0 .3-.25 .9-1.55 .3-.25 .3 .25 .95 1.7 .3 .3 .35 .2 1.4 .15 4.65 .05V260 H20 Z" class="s"/>
<path d="M49.6 151.6l.1-5.3M50.5 146.45l.1 5.35M86.95 194.05l.55-5.95 .75-13.55M89.35 174.55l.75 13.55 .55 5.95M95.85 194.2l.35-3.3M96.8 190.9l.35 3.35M152.05 150.85l.25-6.7M153.9 144.1l.25 6.65M158.15 194l.35-1.95 .3-3.4 .75-15.3M160.45 173.65l.65 14.15 .25 3.65 .3 2.75M193.5 194.3l.4-4.35M194.5 189.95l.4 4.35M215.85 194.15l.45-5.1M216.9 189.05l.45 5.1M249.5 193.95l.3-2.85 .25-3.45 .75-14.35M251.85 174l.55 10.25 .35 4.35 .15 1 .2 .45 .2-.4 .2-1.05" class="p"/>
<path d="M20 197.45l24.55-.1 1.35-.1 .9-.25 .65-.4 .45-.6 .35-1.15 .25-1.9 .4-7.2 .3-10.55 .6-29.55 .15-4.85 .15-1.75 .1 .8 .15 4 .7 33.75 .4 12.15 .25 3.75 .3 2.25 .4 1.25 .3 .45 .45 .5 .65 .45 .85 .4 2.25 .7 2.95 .45 3.65 .3 7.8 .1 9.4-.1 1.95-.1 1.4-.15 1.05-.25 .65-.35 .45-.5 .35-.9 .3-1.4 .25-1.9 .5-6.5 .8-14.75 .2-2.4 .2-.85 .2 .85 .2 2.4 .8 14.75 .45 6 .25 2.05 .25 1.35 .35 1.05 .4 .6 .35 .25 .45 .15 1.25 .25 1-.1 .25-.1 .2-.25 .25-.7 .2-1 .6-5.3 .15-.9 .1-.2 .2 .75 .5 4.6 .3 1.9 .35 1 .2 .25 .3 .15 1.4 .15 2.75 .05 2.95-.05 1.2-.2 .4-.3 .35-.6 .9-3.15 .15-.35 .15-.15 .15 .1 .15 .35 .6 2.25 .35 1 .35 .5 .45 .25 .8 .05 1.4-.05 1.45-.15 1.25-.2 .9-.25 .8-.3 .65-.4 .6-.5 .55-.65 .45-.85 .35-1.1 .25-1.2 .45-4 .35-5.95 .35-9.75 .3-12.1 1.05-56.9 .2-6.6 .2-2.4 .2 2.4 .2 6.6 1.05 56.85 .35 13.8 .35 9.15 .4 6.05 .25 2.2 .3 1.65 .35 1.15 .4 .8 .55 .75 .75 .6 .9 .45 1.05 .35 1.3 .3 1.6 .15 2.25 .15 2.65 0 4.85-.15 2.55-.4 1-.25 .85-.35 .65-.35 .55-.5 .4-.55 .35-.7 .5-1.75 .4-2.4 .35-3.3 .35-4.65 .6-11.75 1.2-31.15 .3-5.05 .15-1.35 .15-.5 .15 .5 .15 1.35 .3 5 1.2 31.05 .7 13.2 .4 4.65 .45 3.25 .5 1.95 .3 .65 .3 .3 .2 .05 .15-.05 .3-.6 .25-1.25 .2-1.65 .35-4.7 .7-13.25 .15-1.7 .15-.6 .15 .7 .15 1.8 .75 14.55 .45 5.55 .25 1.55 .3 1.05 .4 .6 .65 .4 .55 .1 .35-.15 .25-.25 .2-.55 .35-1.9 .55-4.75 .15-.8 .1-.15 .1 .15 .15 .85 .5 4.55 .3 1.9 .2 .8 .2 .4 .25 .3 .3 .15 .95 .2 1.65 .15 6.35 .15 12.3 .05 2.25-.05 1.15-.2 .35-.15 .25-.3 .35-1.15 .3-2.25 .5-5.4 .2-.85 .2 .85 .75 7.35 .3 1.25 .2 .35 .25 .2 .7 .2 1.25 .05 .8-.1 .45-.2 .5-.7 .85-2.4 .2-.35 .15-.1 .15 .1 .15 .25 .65 1.95 .35 .8 .35 .45 .5 .25 1.7 .15 4.45 .05 3.5-.05 1.7-.15 .5-.2 .3-.25 .2-.4 .2-.75 .35-2.65 .55-6.3 .2-.9 .1 .25 .15 1.1 .5 5.85 .3 2.4 .35 1.25 .25 .3 .3 .2 1.05 .15 1.95 .1 3.55 0 1.45-.1 .45-.25 .35-.4 .95-2.1 .3-.3 .3 .3 .7 1.65 .35 .6 .4 .35 .55 .2 3.6 .1 7.85-.1 3.15-.15 1.9-.3 .9-.4 .5-.55 .4-1.1 .3-1.65 .3-2.75 .25-3.3 .9-16.15 .2-2.15 .15-.5 .15 .45 .2 2.05 .8 13.7 .4 4 .15 .5 .1 .05 .1-.2 .65-3.85 .15-.5 .1-.05 .05 .1 .25 1.35 .9 8.2 .35 1.55 .25 .55 .25 .35 .4 .25 .55 .15 1.9 .25 3.85 .1 1.35-.05 .7-.1 .45-.3 .35-.5 .35-.85 .65-2.15 .15-.3 .15-.1 .15 .1 .15 .3 .9 2.7 .25 .4 .25 .2 .3 0 .3-.3 .9-1.95 .3-.25 .3 .25 .9 2 .25 .3 .25 .15 .3-.05 .3-.25 .9-1.55 .3-.25 .3 .25 .95 1.75 .3 .3 .35 .15 1.4 .15 4.65 .1V260 H20 Z" class="s"/>
<path d="M86.9 196.25l.3-2.55 .3-3.9 .75-13.85M89.35 175.95l.75 13.8 .3 3.9 .3 2.6M95.85 196.2l.35-3.35M96.8 192.9l.35 3.35M152.15 150.25l.15-3.9M153.9 146.3l.15 3.85M158.2 196.1l.35-1.95 .3-3.35 .7-13M160.45 178.05l.65 12.75 .25 3.3 .25 2.15M193.5 196.25l.4-4.45M194.5 191.75l.4 4.5M215.85 195.95l.45-5.35M216.9 190.6l.45 5.35M249.5 196.15l.3-2.75 .25-3.3 .75-13.8M251.85 176.95l.55 9.8 .35 4.1 .15 .9 .1 .25 .1 .05 .2-.55 .2-1.15" class="p"/>
<path d="M20 199.5l24.45-.1 1.3-.15 .95-.25 .7-.4 .45-.55 .35-1.15 .25-1.75 .4-6.75 .35-12.35 .6-30.25 .15-4.95 .15-1.8 .1 .85 .15 4.05 .7 34.65 .4 12.6 .25 4 .3 2.4 .4 1.35 .3 .5 .45 .45 .65 .5 .8 .4 1 .35 1.25 .35 2.95 .5 3.65 .25 7.75 .15 9.5-.1 1.95-.1 1.4-.2 1.05-.25 .65-.3 .45-.55 .35-.9 .3-1.4 .25-1.95 .5-6.45 .8-14.65 .2-2.35 .2-.85 .2 .85 .2 2.35 .8 14.6 .45 6 .25 2.1 .25 1.35 .35 1.05 .4 .6 .35 .25 .45 .2 1.25 .2 1-.05 .25-.15 .2-.25 .25-.7 .2-1 .6-5.4 .15-.9 .1-.2 .2 .75 .5 4.65 .3 2 .35 1 .2 .2 .3 .15 1.4 .2 2.85 .05 2.9-.1 1.15-.2 .4-.3 .35-.6 .9-3.3 .15-.4 .15-.1 .15 .1 .15 .35 .6 2.35 .35 1.05 .35 .5 .45 .3 .75 .05 1.4-.05 2.7-.35 1.7-.55 .65-.35 .6-.45 .55-.65 .45-.8 .35-1 .25-1.15 .45-3.7 .4-6.45 .35-9.6 .3-11.8 1.05-54.6 .2-6.3 .2-2.2 .2 2.2 .2 6.3 1.1 56.8 .35 12.75 .35 8.4 .4 5.6 .25 2 .3 1.55 .35 1.05 .4 .8 .55 .65 .75 .6 .9 .45 1.05 .35 1.3 .25 1.6 .15 4.85 .15 4.85-.15 2.55-.35 1-.25 .85-.35 .65-.35 .55-.45 .4-.55 .35-.7 .5-1.65 .4-2.35 .35-3.1 .35-4.45 .6-11.1 1.2-29.1 .3-4.7 .15-1.25 .15-.45 .15 .45 .15 1.25 .3 4.65 1.25 30.05 .7 12.05 .4 4.2 .4 2.65 .5 1.9 .3 .55 .3 .3 .2 0 .15-.15 .3-.7 .25-1.45 .2-1.9 .35-5.45 .7-15.15 .15-1.95 .15-.7 .15 .75 .15 2.1 .75 16.55 .45 6.3 .25 1.85 .3 1.15 .4 .7 .65 .4 .55 .1 .35-.1 .25-.35 .2-.55 .35-2.1 .55-5.3 .15-.85 .1-.2 .1 .2 .15 .95 .5 4.95 .3 2.15 .2 .85 .2 .45 .25 .35 .3 .15 .95 .2 1.55 .15 6.15 .2 12.55 .05 2.25-.1 1.2-.15 .35-.2 .25-.3 .35-1.2 .3-2.35 .5-5.6 .2-.9 .2 .9 .75 7.65 .3 1.3 .2 .35 .25 .2 .7 .2 1.2 .05 .8-.05 .5-.2 .5-.7 .85-2.45 .2-.4 .15-.05 .15 .05 .15 .3 .65 1.95 .35 .8 .35 .45 .5 .3 1.7 .15 4.5 0 3.5-.05 1.65-.15 .5-.15 .3-.3 .2-.4 .2-.75 .35-2.7 .55-6.5 .2-.95 .1 .25 .15 1.15 .5 6.05 .3 2.45 .35 1.25 .25 .35 .3 .15 1 .2 1.9 .1 3.6 0 1.5-.15 .45-.2 .35-.4 .95-2 .3-.3 .3 .3 .7 1.6 .35 .55 .4 .35 .6 .2 3.85 .05 7.65-.05 3.1-.15 1.85-.3 .9-.4 .5-.6 .4-1.15 .3-1.65 .3-2.85 .25-3.4 .9-16.55 .2-2.15 .15-.55 .15 .45 .2 2.1 .8 14.15 .4 4.15 .15 .55 .1 .1 .1-.15 .7-3.8 .15-.35 .1 .1 .25 1.35 .9 7.95 .35 1.5 .2 .45 .25 .35 .35 .25 .55 .2 1.9 .25 3.9 .15 1.4-.05 .7-.15 .45-.25 .35-.5 .35-.9 .65-2.1 .15-.3 .15-.1 .15 .1 .15 .25 .9 2.75 .25 .4 .3 .25 .25-.05 .3-.3 .9-1.85 .3-.3 .3 .3 .85 1.85 .25 .3 .25 .15 .3 0 .3-.25 .95-1.7 .3-.25 .3 .25 .95 1.85 .3 .3 .35 .2 1.4 .15 4.65 .05V260 H20 Z" class="s"/>
<path d="M86.9 198.25l.3-2.6 .3-3.9 .75-13.75M89.35 178l.75 13.75 .3 3.9 .3 2.6M95.85 198.2l.35-3.45M96.8 194.8l.35 3.4M158.15 198.05l.35-2 .3-3.5 .75-15.7M160.45 177.1l.65 14.5 .25 3.8 .3 2.8M193.5 198.1l.4-4.65M194.5 193.45l.4 4.65M215.8 198.4l.5-6M216.9 192.4l.5 6M249.5 198.1l.3-2.85 .25-3.4 .75-14.1M251.85 178.4l.55 10.1 .35 4.25 .15 .95 .1 .3 .1 .1 .2-.45 .2-1.1" class="p"/>
</g></g>
<g clip-path="url(#cl)"><g filter="url(#bl)">
<path d="M391.2 99.65l.6-.3 .6 0 .65-.35 .6 .4 1.2-.1 .6 .15 .65 0 .6-.2 1.2 .1 .6 .15 .65 0 .6-.3 .6 .05 .6 .25 .6 .15 .65-.25 .6-.1 .6 .25 .6-.2 1.25 .25 1.2-.35 .6 .05 .6-.4 .65-.1 .6-.4 .6-.3 1.2-1.2 1.25-2 1.2-3.25 .6-1.4 .65-5.2 .6-.5 1.2-10.35 .6-3.05 .65-4.15 .6-3.1 .6-7.8 .6-2.25 .6-4 .65-6.45 .6-1.65 .6 1.65 .6-.5 .6 1.05 .65 .25 .6 1.95 .6 2.5 .6 5.5 .6 .7 1.25 10.95 .6 1.9 .6 8.15 .6 1.55 .65 4.55 .6 5.4 .6 .2 .6 2.75 .6 3.4 .65 0 .6 1.75 .6 1.45 .6 .7 .6 .6 .65 .35 .6 .55 .6 .1 .6 .05 .6-.15 .65 .05 .6-.15 .6 .45 .6-.35 .6 .4 .65 .15 .6-.4 1.2 .1 .6 .15 .65-.25 .6 .15 .6-.1 .6 .05 .6 .25 .65-.35 .6 .15 1.2 .15 .6-.35 .65 .35 .6-.1 .6 .1 .6-.15 .6-.25 1.25 .35 .6-.1 .6 0 .6 .25 .65 .1 .6-.35V260 H391.2 Z" class="s2"/>
<path d="M415 84.55l1.2-10.35 .6-3.05 .65-4.15 .6-3.1 .6-7.8 .6-2.25 .6-4 .65-6.45 .6-1.65 .6 1.65 .6-.5 .6 1.05 .65 .25 .6 1.95 .6 2.5 .6 5.5 .6 .7 1.25 10.95 .6 1.9 .6 8.15 .6 1.55 .65 4.55 .6 5.4" class="p2"/>
<path d="M391.2 101.9l.6-.6 .6 0 .65 .45 .6-.2 .6 .15 .6 0 .6-.1 .65 .1 .6-.1 .6-.25 .6 .3 .6 0 .65 .2 .6-.4 .6 .15 .6-.05 .6 .05 .65 .25 1.2-.35 1.2 .2 .65-.35 .6 .1 .6 .25 .6-.2 1.25-.65 .6-.25 .6-.85 .6 .3 1.25-2.05 .6-2.1 .6-1.35 .6-1.15 .6-2.55 .65-3.5 .6-2.3 .6-3.2 .6-5.95 .6-4.25 1.25-10.25 .6-1.45 .6-4.6 .6-4.05 .65-5.8 .6-2.15 .6 .35 .6-1.1 .6 1.5 .65 0 1.2 9.95 .6 3.25 .6 4.2 .65 2.05 .6 5.8 .6 2.75 .6 6 .6 2.5 1.25 6.75 .6 4 1.2 3.9 .65 .85 .6 1.95 .6 .3 .6 1.9 .6 0 .65 .5 .6 .2 .6-.1 .6 .2 1.25 .7 .6-.4 1.2 .2 .6-.2 .65 0 .6 .2 .6 .05 .6-.05 .6 .3 .65-.3 .6 .1 .6 .2 .6 0 .6-.5 1.25 .4 .6-.35 .6 .05 1.25-.05 .6 .05 1.2 .35 .6 .05 1.25-.55 .6 .3 .6-.05 .6 .1 .65-.05 .6-.25V260 H391.2 Z" class="s2"/>
<path d="M414.4 87.35l.6-2.3 .6-3.2 .6-5.95 .6-4.25 1.25-10.25 .6-1.45 .6-4.6 .6-4.05 .65-5.8 .6-2.15 .6 .35 .6-1.1 .6 1.5 .65 0 1.2 9.95 .6 3.25 .6 4.2 .65 2.05 .6 5.8 .6 2.75 .6 6 .6 2.5 1.25 6.75" class="p2"/>
<path d="M391.2 103.85l.6-.35 1.25 .35 .6 0 .6 .2 .6-.6 .6 .4 .65 .05 .6-.15 .6 .15 .6-.25 .6 .25 .65 0 .6-.25 1.2 .1 .6-.05 .65 .25 .6-.15 .6 .2 .6-.05 .6-.2 .65-.05 .6-.2 1.2-.15 .6 .05 .65-.5 .6-.05 .6-.4 .6-.85 .6-.7 .65-.2 .6-1.15 .6-3.1 .6-1.65 1.25-5.5 .6-1.5 .6-4.55 1.2-6.95 .65-7.6 1.2-8.45 .6-2.5 .6-5.65 .65-1.7 1.2-2.65 1.2-3.45 .65 .15 .6 7.35 .6 1.95 .6 1.45 1.25 9.7 .6 2.9 .6 7.3 .6 3.1 1.25 9.45 .6 2.4 .6 3.35 .6 2.25 1.25 3.3 .6 2.15 .6 0 .6 1.4 .6-.35 .65 .95 .6 .1 .6 0 .6-.2 .6 .9 .65-.4 .6 .05 .6 .25 1.2 .05 .65-.1 .6-.2 .6 .4 .6-.3 .6 .2 1.25 .15 .6-.25 1.2 0 .65-.25 .6 .2 1.2-.05 .6 .2 .65-.1 .6 .3 .6-.05 .6-.5 .6 .3 .65-.15 .6 .25 .6-.1 .6 .15 .6-.1 .65 .05 .6-.15V260 H391.2 Z" class="s2"/>
<path d="M414.4 89.3l.6-1.5 .6-4.55 1.2-6.95 .65-7.6 1.2-8.45 .6-2.5 .6-5.65 .65-1.7 1.2-2.65 1.2-3.45 .65 .15 .6 7.35 .6 1.95 .6 1.45 1.25 9.7 .6 2.9 .6 7.3 .6 3.1 1.25 9.45 .6 2.4" class="p2"/>
<path d="M391.2 105.6l.6 .2 1.25 .15 .6-.1 .6 .4 .6-.3 .6 .25 .65-.25 .6 .3 .6-.45 .6 .3 .6-.3 .65 .25 .6 .2 .6-.5 1.2 .3 .65-.1 .6-.15 .6 .35 .6-.15 .6 .15 .65-.2 .6-.25 .6 0 .6 .3 .6-.75 1.25-.05 .6-.3 .6-.6 .6-1.7 .65 .65 .6-2.45 .6-1.55 .6-2 .6-2.65 .65-3.6 .6-2.75 .6-1.9 .6-7.3 .6-5.95 .65-.55 .6-4.9 .6-3.9 .6-2.45 .6-8 1.25-3.3 .6-.1 .6-.9 .6-3.05 .65 .5 .6 4.4 .6 .75 .6 8.5 .6 1.7 .65 4.6 .6 3.9 .6 7.95 .6 2.7 .6 3.3 .65 4.85 .6 2.65 .6 3.45 .6 2.95 .6 .85 .65 2.15 1.2 2.55 .6 .5 .6 .4 .65 .2 .6 .6 .6-.1 .6 .55 .6-.05 .65 .15 .6-.1 1.2 0 .6 .3 .65-.2 .6 0 .6-.2 .6 .25 .6-.5 .65 .7 .6-.25 .6 .05 .6-.2 .6 .05 .65 .25 .6-.15 1.2 .25 .6-.1 .65-.4 .6 .15 1.2 0 .6-.15 .65 0 .6 .2 .6 0 .6 .2 .6-.15 .65 .25 .6-.45V260 H391.2 Z" class="s2"/>
<path d="M414.4 91l.6-2.75 .6-1.9 .6-7.3 .6-5.95 .65-.55 .6-4.9 .6-3.9 .6-2.45 .6-8 1.25-3.3 .6-.1 .6-.9 .6-3.05 .65 .5 .6 4.4 .6 .75 .6 8.5 .6 1.7 .65 4.6 .6 3.9 .6 7.95 .6 2.7 .6 3.3 .65 4.85 .6 2.65" class="p2"/>
<path d="M391.2 108l.6 .25 1.25-.2 .6 .25 .6 .05 .6 .05 .6-.25 1.25 .1 .6-.05 .6 .15 .6-.2 .65 .1 .6-.4 .6 .45 .6 .15 .6-.25 .65 .15 .6-.4 .6 .2 .6-.2 .6 .25 .65 0 .6-.35 1.2-.05 .6 .5 .65-.75 1.2-.6 .6-.55 .6-.95 .65-1.55 .6-.95 .6-.15 1.2-5.7 .65-3.75 .6-2.05 .6-3.55 .6-4.9 .6-2.35 .65-6.6 .6-4.05 .6-2.95 .6-5.3 .6-2.25 .65-5.7 .6-2.9 .6 0 .6-1.2 .6 2.1 .65-.25 .6 1.35 1.2 7.75 .6 1.2 .65 6.05 .6 4.4 .6 6.75 .6 2.2 .6 6.05 .65 1.25 .6 4.75 .6 3.95 .6 1.45 .6 3.1 .65-.25 .6 2.65 .6 1.15 .6 .75 .6 .15 .65 1.2 .6-.45 .6 1.05 .6 0 .6 .25 1.25-.25 .6 .15 .6 .05 .6 .15 .65-.1 .6 .1 .6 0 .6 .15 .6-.5 1.25 .4 .6 0 .6-.2 1.85 .1 .6-.1 1.2-.05 .65 .1 .6 .25 .6-.35 .6 .3 .6 .15 .65-.25 .6 .3 .6-.35 .6 .25 1.25-.45 .6 .25V260 H391.2 Z" class="s2"/>
<path d="M414.4 93.35l.6-2.05 .6-3.55 .6-4.9 .6-2.35 .65-6.6 .6-4.05 .6-2.95 .6-5.3 .6-2.25 .65-5.7 .6-2.9 .6 0 .6-1.2 .6 2.1 .65-.25 .6 1.35 1.2 7.75 .6 1.2 .65 6.05 .6 4.4 .6 6.75 .6 2.2 .6 6.05 .65 1.25 .6 4.75 .6 3.95" class="p2"/>
<path d="M391.2 110.7l.6-.4 .6 .2 .65-.25 .6 0 .6 .2 .6-.05 1.25 .2 .6-.35 1.2 .15 .6 .35 .65-.4 .6 0 .6 .1 .6 .25 .6-.4 1.25 .1 .6 .1 .6 .2 .6-.55 .65-.1 .6 .3 .6 0 .6-.65 1.25 .35 .6-.7 .6-.05 .6-.65 .6-.5 .65-1 .6-1.3 .6-.9 .6-3.1 1.25-3.6 .6-4.75 .6-3.45 1.2-9.1 .65-.4 .6-6.75 .6-2.3 .6-6.1 .6-5 .65-4 .6-1.65 .6-2.35 .6 .95 .6-3.25 .65 3.05 .6 2.5 .6 1.6 .6 3.5 .6 5.35 .65 4.4 .6 3.55 .6 4.7 .6 3.8 .6 5.6 .65 3.1 .6 2.1 .6 4.3 .6 3.4 .6 1.9 .65 1.1 .6 2.35 .6 1.05 1.2 1.8 .65-.1 .6 .6 .6 .05 .6 .45 .6 .15 .65-.05 .6 .1 .6-.25 .6 .25 .6-.25 .65 .5 .6-.1 .6-.45 .6-.15 .6 .6 .65-.3 .6 .2 .6-.3 .6 .2 .6-.1 .65 .2 .6-.15 .6 .3 .6-.35 .6 .3 .65-.2 .6 .1 .6-.35 .6 0 .6 .4 .65-.35 .6 .15 .6 0 .6-.1 .6 .2 .65-.25 .6 0V260 H391.2 Z" class="s2"/>
<path d="M414.4 98.25l.6-4.75 .6-3.45 1.2-9.1 .65-.4 .6-6.75 .6-2.3 .6-6.1 .6-5 .65-4 .6-1.65 .6-2.35 .6 .95 .6-3.25 .65 3.05 .6 2.5 .6 1.6 .6 3.5 .6 5.35 .65 4.4 .6 3.55 .6 4.7 .6 3.8 .6 5.6 .65 3.1 .6 2.1 .6 4.3" class="p2"/>
<path d="M391.2 112.75l.6-.25 .6 .2 .65 0 .6 .15 .6-.2 .6-.3 .6 .15 .65 .05 .6 .25 1.2-.25 .6 .1 .65-.1 .6 .15 .6-.1 .6 .15 .6-.1 .65 .1 .6-.15 .6 .1 .6-.15 .6 .1 2.45-.4 .6 0 .65-.85 .6 .6 .6-1.5 .6 .15 .6-.8 .65-.5 .6-1.45 1.8-5.2 .65-1.4 .6-4.95 .6-6.25 .6-2.2 .6-3.25 .65-.4 .6-10.4 .6-4 .6-2.75 .6-4.3 .65-6.25 .6 1.55 .6-6 .6 1.15 .6 3.15 .65-3.85 .6 3.8 .6 6.45 .6 .1 .6 2.75 .65 5.2 .6 6.7 .6 1.2 .6 5.8 .6 3.3 .65 4.35 .6 6.05 .6 1.7 .6 2.35 .6 2.85 .65 1.1 .6 1.25 .6 2.35 .6 .7 .6 .05 .65 1 .6 .55 .6 0 .6 .15 .6-.2 .65 .3 .6-.2 .6 .5 .6-.15 .6 .25 .65-.35 .6 .25 .6-.35 1.2 .35 .65-.05 .6-.05 .6-.25 .6 .45 .6-.1 1.25 .05 .6-.2 .6 .1 .6 .35 .65-.55 .6 .2 .6-.15 .6 .35 1.25-.4 .6 .05 1.2-.25 .6-.05 .65 .3 .6-.05V260 H391.2 Z" class="s2"/>
<path d="M414.4 101.3l.6-4.95 .6-6.25 .6-2.2 .6-3.25 .65-.4 .6-10.4 .6-4 .6-2.75 .6-4.3 .65-6.25 .6 1.55 .6-6 .6 1.15 .6 3.15 .65-3.85 .6 3.8 .6 6.45 .6 .1 .6 2.75 .65 5.2 .6 6.7 .6 1.2 .6 5.8 .6 3.3 .65 4.35 .6 6.05" class="p2"/>
<path d="M391.2 114.8l.6-.15 1.25 .4 .6-.45 .6 0 .6 .35 .6 .2 .65-.5 .6-.1 .6 .2 .6 0 .6 .15 .65-.25 .6 .1 .6 0 .6-.2 .6 0 .65 .3 .6 0 .6-.2 .6 .35 1.25-.2 1.8-.15 .6-.15 .65-.4 .6-.9 .6 .1 1.2-1.85 .65-.2 .6-2.65 .6-.05 1.2-6 .65-2.6 .6 0 .6-4.45 .6-6.05 .6-2.55 .65-3.35 .6-8.5 .6-3.6 .6-2.15 1.25-9.2 .6 1.3 .6-3.7 .6-.1 .6 3.4 .65-2.4 .6 6.15 .6-1.45 .6 2.75 .6 4.6 .65 5.55 1.2 8.25 .6 1.95 1.85 14 .6 3.55 .6-.65 .6 3.95 1.25 3.2 .6 1.3 .6 .4 .6 .55 .65 1.25 .6 .25 .6-.05 .6 .25 1.25 0 .6 .4 .6-.2 .6 0 .6 .1 .65 .35 .6-.2 .6 0 .6-.05 .6 .15 .65-.05 .6-.3 .6 .15 .6-.05 .6 .15 .65-.05 .6-.3 .6 .45 .6-.1 .6-.3 .65 .4 .6-.15 .6 .05 .6-.05 .6 0 1.25-.25 1.2 .25 .6 0 .65 .1 .6-.1V260 H391.2 Z" class="s2"/>
<path d="M415 99.95l.6-4.45 .6-6.05 .6-2.55 .65-3.35 .6-8.5 .6-3.6 .6-2.15 1.25-9.2 .6 1.3 .6-3.7 .6-.1 .6 3.4 .65-2.4 .6 6.15 .6-1.45 .6 2.75 .6 4.6 .65 5.55 1.2 8.25 .6 1.95 1.85 14" class="p2"/>
<path d="M391.2 116.65l.6 .45 .6-.25 .65-.05 .6 .15 .6-.15 .6 .25 .6-.2 .65 .45 .6-.35 1.2-.05 .6-.25 .65 .2 1.2 .1 .6-.3 .6 .35 .65 .2 .6-.3 1.2 .1 .6-.2 .65 0 .6 .2 .6-.2 1.2-.75 .65 .75 .6-.8 .6-1.15 .6-.05 .6-.55 .65-1.35 .6-2.55 .6 .65 1.2-6 .65-2.1 1.2-8.1 .6-2.55 .6-8.25 .65-.25 .6-5.4 1.2-7.55 .6-2.4 .65-3.15 .6-3.2 .6-3.8 .6 1.6 .6-1.7 .65 .55 .6 4.95 .6 2.85 .6 5.05 .6-1.45 .65 8.85 .6 4.6 .6 3.65 .6 6.1 .6 1.15 .65 5.1 .6 2.6 .6 3.2 .6 1.75 .6 2.7 .65 2.2 1.2 2.15 .6 .4 .6 1.45 .65-.3 .6 .55 .6 .4 .6 0 .6 .3 .65-.05 .6 .3 .6-.15 .6 0 .6-.2 .65 .2 .6 .1 .6-.1 .6-.2 1.85 .15 .6-.2 .6 .5 .6-.3 .65 0 .6-.05 .6 .05 .6 .3 .6-.45 .65 .1 .6-.1 .6 .05 .6 .35 .6-.35 .65 .05 .6-.2 .6 .2 .6 .1 .6-.1 .65 0 .6 .15V260 H391.2 Z" class="s2"/>
<path d="M414.4 102.9l1.2-8.1 .6-2.55 .6-8.25 .65-.25 .6-5.4 1.2-7.55 .6-2.4 .65-3.15 .6-3.2 .6-3.8 .6 1.6 .6-1.7 .65 .55 .6 4.95 .6 2.85 .6 5.05 .6-1.45 .65 8.85 .6 4.6 .6 3.65 .6 6.1 .6 1.15 .65 5.1 .6 2.6" class="p2"/>
<path d="M391.2 119.3l1.85-.3 .6 .45 .6-.5 .6 .35 1.25-.2 .6 .25 .6-.25 .6 .3 .6-.35 .65 .25 .6 .1 .6-.35 .6 .45 .6-.15 .65-.5 .6 .55 .6 .1 .6-.4 1.25 .05 .6-.45 .6 .3 .6 .05 .6-.55 .65 .2 .6 0 .6-1.85 .6-.7 1.25-.9 .6-1.5 .6-2.6 1.2-4.65 .65-.65 .6-6 .6-3.45 .6-2.2 1.25-11.45 .6-.85 1.2-11.75 .6-3.1 .65-.55 .6-4.55 .6-.15 1.2 1.6 .65-3.8 .6 4.85 .6 3.35 .6 4.45 1.25 10.15 .6 2.05 .6 3.6 .6 6.05 .6 3.1 .65 6.15 .6 1.85 .6 2.55 .6 3.15 .6 .85 .65 1.9 1.2 2.9 .6 1 1.25 .8 .6 .05 .6 .4 .6 0 .6 .4 .65-.25 1.8 .35 .6-.25 .65 .1 1.2-.15 .6 .35 .6-.05 .65-.3 .6 .05 .6 .25 .6-.2 .6-.05 .65 .35 .6-.25 .6 0 .6 .15 .6-.2 1.85 .2 .6-.2 .6 .25 .65-.1 .6 .25 .6-.25 .6-.1 .6 0 .65-.1 .6 .15V260 H391.2 Z" class="s2"/>
<path d="M414.4 105.85l.6-6 .6-3.45 .6-2.2 1.25-11.45 .6-.85 1.2-11.75 .6-3.1 .65-.55 .6-4.55 .6-.15 1.2 1.6 .65-3.8 .6 4.85 .6 3.35 .6 4.45 1.25 10.15 .6 2.05 .6 3.6 .6 6.05 .6 3.1 .65 6.15 .6 1.85" class="p2"/>
<path d="M391.2 121.4l.6 .15 1.25-.25 .6 .25 .6-.2 1.2 .25 .65 0 .6-.3 .6 .1 .6 .2 1.25-.1 .6 .05 .6-.5 .6 .3 .6-.15 2.45 .35 1.25-.2 .6-.15 .6 .2 .6-.3 .6-.65 .65 .15 .6-.2 .6-.95 1.2-.5 .65-1.9 .6-1.3 .6-1.7 .6-2.8 .6-2.15 .65-3.45 .6-2.7 .6-4.35 .6-1.9 .6-5.7 .65-3.05 .6-7.7 .6-2.45 1.2-6.4 .65-5.35 .6-1.35 .6-1 .6-1.35 .6 .3 .65 3.15 .6-.9 .6 1.9 1.2 11.35 .65 .3 .6 10.05 .6 2.6 .6 4.95 .6 2.35 1.25 9.8 .6 2.8 1.2 2.8 .65 1.85 .6 2.15 .6 .1 1.85 2.6 .6-.2 .6 .6 .6 .2 1.25 .1 .6 .25 .6-.05 .6-.3 .6 .5 .65-.15 .6 0 .6-.1 .6 0 .6-.35 .65 .35 .6 .1 .6 .05 1.2-.5 1.25 .35 .6 .25 .6-.45 .6 .25 .65 .05 .6 .05 .6-.15 .6-.4 .6 .5 .65-.05 .6 .05 .6-.2 .6 .05 .6 .3 .65-.25 .6 .05V260 H391.2 Z" class="s2"/>
<path d="M413.75 109.1l.65-3.45 .6-2.7 .6-4.35 .6-1.9 .6-5.7 .65-3.05 .6-7.7 .6-2.45 1.2-6.4 .65-5.35 .6-1.35 .6-1 .6-1.35 .6 .3 .65 3.15 .6-.9 .6 1.9 1.2 11.35 .65 .3 .6 10.05 .6 2.6 .6 4.95 .6 2.35 1.25 9.8" class="p2"/>
<path d="M391.2 123.5l.6 .3 .6-.45 1.25 .3 .6-.05 .6 .1 .6-.05 .65 .15 .6-.25 1.2 .1 .6-.35 .65 .5 .6-.35 .6 .3 .6 .05 .6-.05 1.25-.25 .6-.25 .6 .4 .6-.15 .65 .3 .6-.4 .6 .1 .6-.35 .6 .05 .65-.45 .6-.3 .6-1.05 .6-.25 .6-.6 .65-.3 .6-1.85 .6-2.65 .6 .05 .6-3.35 .65-2.05 .6-5.25 .6-6.5 .6-1.15 .6-4.7 .65-2.65 .6-7.25 .6-3.5 .6-5 .6-1.15 .65-5.05 .6 1.85 .6-2.65 .6-.55 .6-1.8 .65 2.05 .6 3.2 .6-.3 .6 7.15 .6 1.65 1.25 12.25 .6 3.3 .6 .75 .6 7 .65 2 1.2 6.6 .6 1.85 .6 3.35 .65 1.2 .6 2.5 .6 .75 .6-.35 .6 1.45 1.25 1.05 .6 .3 .6 .4 .6 .1 .65-.1 .6 .35 .6 .1 .6-.1 .6 .2 1.25-.25 1.8 .2 .65-.1 .6 .15 .6 0 .6-.3 .6-.05 .65 .2 1.2 .15 1.2-.05 .65-.25 .6 .2 .6-.15 .6 .15 .6 .1 .65-.25 .6 .05 .6 .4 .6-.45 .6 0 1.25-.1V260 H391.2 Z" class="s2"/>
<path d="M414.4 110.4l.6-5.25 .6-6.5 .6-1.15 .6-4.7 .65-2.65 .6-7.25 .6-3.5 .6-5 .6-1.15 .65-5.05 .6 1.85 .6-2.65 .6-.55 .6-1.8 .65 2.05 .6 3.2 .6-.3 .6 7.15 .6 1.65 1.25 12.25 .6 3.3 .6 .75 .6 7 .65 2 1.2 6.6" class="p2"/>
<path d="M391.2 125.95l.6-.25 1.25 0 .6-.35 .6 .55 .6-.2 .6 .1 .65 .2 .6-.2 1.2 0 .6 .2 .65-.4 .6 .1 .6-.25 .6 .35 .6 .1 .65-.15 .6 .35 .6-.15 .6 .1 .6-.3 .65 .25 .6-.45 .6 .1 .6-.15 .6-.3 .65 .3 .6-.35 .6-1.1 .6-.05 1.85-3.05 .6-2.3 .6-1.5 .6-2.25 1.25-6.75 .6-2.05 .6-4.9 .6-1.1 .65-4.55 .6-8.65 .6-2.8 .6-8.15 .6-1.5 .65-3.7 .6-2.35 .6-4.35 .6 3.7 .6-.1 .65-.75 .6 3.25 1.2 9.05 .6-1.15 .65 9 .6-.7 .6 5.95 .6 5 .6 6.6 .65 2.65 .6 3.45 .6 3.95 .6 1.45 .6 1.75 .65 3.15 .6 .5 1.2 1.55 .6 1.55 .65 1.1 .6 .05 .6 .1 .6 .45 .6-.4 .65 .5 .6-.15 .6 .4 .6-.35 .6 .3 1.25-.1 .6 .1 .6-.1 .6 .2 1.25-.55 .6 .55 .6 0 .6-.1 .65 .1 .6-.1 1.2-.4 1.85 .4 .6-.3 .6 .05 .6 .4 .65-.35 1.2-.05 .6 .4 .6-.15 .65 .05 .6 .1V260 H391.2 Z" class="s2"/>
<path d="M414.4 111.3l.6-3.15 .6-2.05 .6-4.9 .6-1.1 .65-4.55 .6-8.65 .6-2.8 .6-8.15 .6-1.5 .65-3.7 .6-2.35 .6-4.35 .6 3.7 .6-.1 .65-.75 .6 3.25 1.2 9.05 .6-1.15 .65 9 .6-.7 .6 5.95 .6 5 .6 6.6 .65 2.65 .6 3.45 .6 3.95" class="p2"/>
<path d="M391.2 128.15l.6 .05 .6-.15 .65 .1 1.2-.05 .6-.3 .6 .15 1.25-.05 .6 .1 .6 .25 1.25-.25 .6 .05 .6 .15 .6-.4 1.25 .45 .6 0 1.2-.2 .6-.4 .65 .15 1.2 .05 .6-.1 .6-.8 .65 .15 .6-.15 .6-.8 1.2-.95 .65-1.1 1.2-2.65 .6-1.65 1.25-7.1 .6-2.95 1.2-7 .6-6.25 1.25-7.3 .6-1.85 1.2-10.4 .65-1.35 .6-3.75 .6-1.6 .6 .8 .6-1.25 .65 .7 .6 3 .6 .4 .6 4.45 .6 .35 1.25 14.55 .6 1.7 .6 4.9 1.25 6.95 .6 5.15 .6 2.6 .6 3.65 .6 .75 .65 2.55 .6 1.35 .6 1.15 .6 1.75 .6 0 .65 .6 .6 1.4 .6-.45 .6 .2 .6 .3 .65-.2 .6 .35 .6-.25 .6 .15 .6 .05 .65 .3 .6-.1 .6 .15 .6 0 .6-.35 .65 .2 .6-.15 .6-.05 .6 .3 .6 0 .65-.2 2.4 .05 .65-.2 .6 .25 .6-.2 .6-.1 .6 .2 1.25 .15 1.2-.1 .6-.15 .65 .15 .6 0V260 H391.2 Z" class="s2"/>
<path d="M413.75 116.3l2.45-13.55 .6-6.25 1.25-7.3 .6-1.85 1.2-10.4 .65-1.35 .6-3.75 .6-1.6 .6 .8 .6-1.25 .65 .7 .6 3 .6 .4 .6 4.45 .6 .35 1.25 14.55 .6 1.7 .6 4.9 1.25 6.95 .6 5.15 .6 2.6" class="p2"/>
<path d="M391.2 130.25l.6-.15 .6 .35 .65-.15 .6 0 1.2-.15 .6 .2 .65-.35 1.8 .3 .6-.15 .65 .25 .6-.45 .6 .5 .6-.2 .6 .1 .65-.25 .6 .25 .6-.25 .6 .1 .6-.3 .65 .3 .6-.15 .6-.5 .6 .25 .6-.25 .65 0 .6-.8 1.2-.4 .6-1.8 .65 .3 1.2-4.35 1.2-6 .65-.45 .6-4.8 .6-3.95 .6-2 1.25-10 .6-7 .6-5.35 .6 .7 .6-5.4 .65-3.5 .6 1.7 .6-5.9 .6 .85 .6 3.7 .65-1.7 .6-.05 .6 2.35 .6 7.15 .6-.15 .65 7.7 .6 5.6 .6 2 .6 5.6 .6 3.2 .65 5.3 1.2 4.4 .6 3.55 .6 2.1 .65 1.35 .6 1.75 .6 .75 1.2 2.5 .65-.25 .6 1.05 .6 .25 .6 .05 .6 .6 .65-.05 .6-.2 1.2 .35 .6-.4 .65 .3 .6-.05 .6 .1 .6 .25 .6-.4 .65 .05 .6-.15 .6 .25 .6 .05 .6-.45 .65 .55 .6 .05 .6-.65 .6 .15 .6 .3 .65-.05 .6 .2 .6-.25 .6 .25 .6-.4 .65 .25 .6-.1 .6 0 .6-.2 1.25 .45 .6-.3V260 H391.2 Z" class="s2"/>
<path d="M414.4 116.05l.6-4.8 .6-3.95 .6-2 1.25-10 .6-7 .6-5.35 .6 .7 .6-5.4 .65-3.5 .6 1.7 .6-5.9 .6 .85 .6 3.7 .65-1.7 .6-.05 .6 2.35 .6 7.15 .6-.15 .65 7.7 .6 5.6 .6 2 .6 5.6 .6 3.2 .65 5.3 1.2 4.4" class="p2"/>
<path d="M391.2 132.35l.6 .1 .6-.2 .65 .2 .6 .05 .6-.15 .6-.2 .6 .5 .65-.25 1.8-.1 .6-.15 .65 .25 .6 .05 1.2 .2 .6-.35 .65 .35 .6-.25 .6 .05 .6-.25 .6 .2 .65-.3 .6 .25 .6-.5 .6 .15 .6-.35 .65-.1 .6-.4 .6-.55 .6-1 .6-.3 .65-1.3 .6-2.3 .6-.8 .6-3.25 .6-2.05 1.25-6.65 .6-2.8 .6-7.45 .6-.25 .65-8.95 .6 .05 .6-5.4 .6-7.55 .6-.35 1.25-8.05 .6 3.15 .6-.6 .6-.9 .65 3.85 .6-.6 .6 2.25 .6 6.4 .6 .55 .65 6.9 .6 4.95 .6 3.15 1.2 8.8 .65 3.5 .6 2.45 .6 .5 .6 5.4 .6 1.55 .65 3.45 .6 .6 .6 1.55 .6 1.1 .6 .8 .65-.2 .6 1.3 .6-.1 .6 .15 .6-.2 .65 .65 .6-.2 .6 .15 .6-.25 .6 .4 .65-.05 .6-.25 .6 .3 .6-.45 .6 .3 1.25-.05 .6-.2 .6 .05 .6 .2 .65 .05 .6-.2 1.2-.05 .6 .25 .65-.2 .6-.05 .6-.25 .6 .05 .6 .1 .65-.15 .6 .25 .6 0 .6-.1 1.25 .15 .6-.25V260 H391.2 Z" class="s2"/>
<path d="M413.75 119.6l1.25-6.65 .6-2.8 .6-7.45 .6-.25 .65-8.95 .6 .05 .6-5.4 .6-7.55 .6-.35 1.25-8.05 .6 3.15 .6-.6 .6-.9 .65 3.85 .6-.6 .6 2.25 .6 6.4 .6 .55 .65 6.9 .6 4.95 .6 3.15 1.2 8.8 .65 3.5 .6 2.45 .6 .5 .6 5.4" class="p2"/>
<path d="M391.2 134.7l.6-.5 .6 .7 .65-.5 .6 .2 .6-.05 .6 .1 .6-.15 .65 .2 .6-.35 .6 .35 .6-.15 1.25 .2 .6-.35 .6 .1 .6 0 1.85 .2 1.2-.2 1.25 .15 .6-.1 .6 .15 .6-.7 .6-.05 .65-.75 .6-.25 .6-.1 .6-.45 .6-1.75 .65-.7 1.2-3.35 .6-2.45 .6-3.3 .65-4.95 .6-2.9 .6-1.75 .6-4.8 .6-1.35 .65-7.45 .6-3.15 .6-7.85 .6-4.5 .6-.75 .65-.2 .6-4.5 .6-2.7 1.2 2 .65 1.15 .6 1.5 .6 1.1 .6 3.6 1.25 10.35 .6 2.8 .6 8.7 1.2 5.7 1.25 10.35 .6 .8 1.2 5.35 .65 .2 .6 2.05 .6 1.1 .6 1.6 .6-.25 .65 1.3 .6 .15 .6 .35 .6 .15 .6 .55 .65-.35 .6 0 .6 .3 .6-.1 .6 .2 .65-.1 1.2 .05 .6-.25 .6-.05 .65 .6 .6-.5 .6 .3 .6-.25 .6 .15 .65-.05 .6 .25 1.2-.45 .6 .05 .65 .25 .6 .1 .6 .15 .6 0 .6-.5 .65 .2 .6-.2 .6 .25 .6 .05 .6-.4 .65 .45 .6-.05V260 H391.2 Z" class="s2"/>
<path d="M413.75 120.85l.65-4.95 .6-2.9 .6-1.75 .6-4.8 .6-1.35 .65-7.45 .6-3.15 .6-7.85 .6-4.5 .6-.75 .65-.2 .6-4.5 .6-2.7 1.2 2 .65 1.15 .6 1.5 .6 1.1 .6 3.6 1.25 10.35 .6 2.8 .6 8.7 1.2 5.7 1.25 10.35" class="p2"/>
<path d="M391.2 136.75l.6-.05 .6 .35 .65-.25 .6-.15 1.2 .3 .6-.05 .65-.4 1.8 .3 .6 0 .65-.2 .6 .35 .6-.1 .6-.3 1.25 .2 .6-.2 .6 .2 .6 0 .6-.1 1.25 .3 .6-.6 .6 .1 .6-.45 .65 .25 .6-.45 1.2-1.95 .6-.3 .65-1.65 .6-2.25 1.2-3.45 .6-.6 .65-3.95 .6-3.05 .6-4.25 .6-3.5 .6-4.15 .65-8.3 .6-1.95 1.2-8.65 .6-3.7 .65-8.45 .6 2.75 .6-4.35 .6 3.95 .6-2.4 .65 1.85 .6 2.65 .6-.65 .6 7 .6 2.3 .65 8 .6 2.25 .6 3.75 .6 7.7 .6 2.2 .65 3.2 .6 4.45 1.2 6.1 .6 1.35 .65 3.3 .6 1 .6 1.85 .6 .4 .6 .15 .65 1.3 .6-.05 .6 .45 .6-.4 .6 .45 .65 .65 .6 0 .6-.45 .6 .4 .6 0 .65 .15 .6-.35 .6-.05 .6 .3 .6-.15 1.25-.05 .6 .35 .6-.35 .6 .3 .65-.05 .6-.2 .6 .25 .6 .05 1.25-.25 .6 .15 .6-.2 1.2 .35 .65-.45 .6-.05 .6 .35 .6-.25 1.25 .15 .6-.1V260 H391.2 Z" class="s2"/>
<path d="M413.75 125.6l.65-3.95 .6-3.05 .6-4.25 .6-3.5 .6-4.15 .65-8.3 .6-1.95 1.2-8.65 .6-3.7 .65-8.45 .6 2.75 .6-4.35 .6 3.95 .6-2.4 .65 1.85 .6 2.65 .6-.65 .6 7 .6 2.3 .65 8 .6 2.25 .6 3.75 .6 7.7 .6 2.2 .65 3.2 .6 4.45 .6 3.05" class="p2"/>
<path d="M391.2 139l.6-.15 1.85 .25 .6-.15 1.2 .15 1.25-.1 .6 .2 .6-.3 .6 .25 1.25 0 .6-.25 .6 .25 .6-.1 .65-.25 .6 .15 .6-.2 .6 .25 .6 .15 .65-.1 .6-.45 .6-.1 .6 0 .6-.2 .65 0 .6-.7 .6-.05 .6-1.35 .6-.15 .65-2.5 .6-1 1.2-2.95 .6-2.8 1.25-8.3 .6-2.4 .6-4.2 .6-4.85 .65-4 .6-6.65 .6-1.5 .6-3.3 .6-7.05 .65-3.1 .6 1.45 .6-1.85 .6-4.25 .6 .45 .65-.85 .6 6.25 .6 2.3 .6 3.15 .6 7.75 .65 .25 1.2 9.75 .6 3.85 .6 5.85 .65 2.45 .6 3.9 .6 5.15 .6 .2 .6 2 .65 2.95 .6 1.15 1.2 2.8 .6 1.05 .65-.25 .6 .9 .6-.15 .6 1 .6-.25 .65 .45 .6 .25 .6 0 .6-.15 .6-.35 .65 .6 .6-.35 .6 .2 .6-.2 .6 .05 .65 .3 .6-.5 .6 .05 1.2 .35 .65-.5 .6 .55 .6-.25 .6 .15 .6 .3 .65-.3 1.2 .1 .6-.25 .6 .05 .65 0 .6 .05 1.8-.15 .65 .2 .6-.3V260 H391.2 Z" class="s2"/>
<path d="M413.75 126.8l1.25-8.3 .6-2.4 .6-4.2 .6-4.85 .65-4 .6-6.65 .6-1.5 .6-3.3 .6-7.05 .65-3.1 .6 1.45 .6-1.85 .6-4.25 .6 .45 .65-.85 .6 6.25 .6 2.3 .6 3.15 .6 7.75 .65 .25 1.2 9.75 .6 3.85 .6 5.85 .65 2.45 .6 3.9 .6 5.15" class="p2"/>
<path d="M391.2 141.2l.6 .2 .6-.4 .65-.05 .6 .35 .6-.2 .6 0 .6 .2 .65-.05 .6-.15 .6 .05 .6-.15 1.85 .3 .6 0 .6 .15 .6-.25 .65 .15 .6-.15 .6-.2 .6 .2 1.25 0 .6-.1 .6-.15 .6-.4 1.25-.2 .6-.25 .6-.4 .6-.85 1.25-1.4 1.2-4.35 .6-2.85 .6-1.4 .65-2.4 .6-4.35 .6-1.6 .6-6.95 1.25-7.85 .6-6.4 .6-.9 .6-7.15 1.25-9.1 .6 2.55 .6-1 .6-5.2 .6-.65 1.25 5.6 .6 1.75 .6 5.2 .6 1.25 .65 9.45 .6 1.7 .6 5.5 .6 2.45 .6 6.05 .65 4.75 .6 1 .6 4.15 .6 3.6 .6 1.9 .65 1.15 1.2 3.9 .6 .95 .6 .4 .65 1.05 .6-.35 .6 1.1 .6 .45 .6 .15 .65-.15 .6 .2 .6 .1 .6-.05 1.25-.15 .6 .15 1.2-.25 .6 .5 .65-.4 .6 .15 .6 0 .6-.2 .6 .3 .65-.3 .6 .55 .6-.5 1.2 .2 1.25 0 .6 .2 .6 0 .6 .2 .65-.55 .6 .35 .6-.05 1.2-.3 .65 .55 .6-.15V260 H391.2 Z" class="s2"/>
<path d="M414.4 126.45l.6-4.35 .6-1.6 .6-6.95 1.25-7.85 .6-6.4 .6-.9 .6-7.15 1.25-9.1 .6 2.55 .6-1 .6-5.2 .6-.65 1.25 5.6 .6 1.75 .6 5.2 .6 1.25 .65 9.45 .6 1.7 .6 5.5 .6 2.45 .6 6.05 .65 4.75 .6 1 .6 4.15" class="p2"/>
<path d="M391.2 143.15l.6 .5 .6-.15 .65-.05 .6 .1 .6-.25 .6 .1 .6 .15 .65-.3 1.2-.1 .6 .35 .6-.25 .65 .1 .6 0 .6 .15 .6-.05 .6-.2 .65 .35 .6-.15 .6 0 .6-.15 2.45-.1 .6-.15 .6-.35 .65-.25 .6-.15 .6-.3 .6-.6 .6-1.45 .65-1.85 .6-.65 .6-1.8 1.2-4.35 .65-3.9 .6-2.75 .6-6.6 .6 .9 .6-6.55 .65-5.05 .6-3.2 1.2-10.7 .6-1 .65-4.55 .6-3.9 .6 .95 .6-1.25 .6 .05 .65-.3 .6 4.55 .6-1 .6 6.5 .6 5 .65 .2 .6 6.3 .6 1.6 .6 7.1 .6 2.05 .65 4.6 .6 5.4 .6 4.1 .6 2.2 1.25 3.5 .6 2.25 .6 2.65 .6 .45 .6-.4 .65 .95 .6 .3 .6 .95 .6 .05 .6-.1 .65 .45 1.2 0 1.2 .4 .65-.3 .6 .15 .6-.2 .6 .2 .6 .25 1.25-.3 .6 0 .6 .3 .6-.2 .65-.1 .6 .25 .6-.2 .6-.05 .6 .15 .65-.25 .6 .15 .6-.05 .6 .15 .6-.05 .65 .3 1.2-.3 .6 .1 .6-.1 1.25 .1V260 H391.2 Z" class="s2"/>
<path d="M413.75 131.3l.65-3.9 .6-2.75 .6-6.6 .6 .9 .6-6.55 .65-5.05 .6-3.2 1.2-10.7 .6-1 .65-4.55 .6-3.9 .6 .95 .6-1.25 .6 .05 .65-.3 .6 4.55 .6-1 .6 6.5 .6 5 .65 .2 .6 6.3 .6 1.6 .6 7.1 .6 2.05 .65 4.6 .6 5.4 .6 4.1" class="p2"/>
<path d="M391.2 145.7l.6 .15 1.25-.35 .6 .15 .6-.2 .6 .45 .6-.55 .65 .25 .6 .1 .6-.25 .6 .1 .6 .2 .65-.3 .6 .3 .6-.2 .6 0 .6 .35 .65-.2 1.2-.15 .6 .05 .6-.1 .65 .3 1.2-.65 .6-.15 .6 0 .65-.75 .6-.35 .6-.9 .6-1.15 .6 1.2 .65-2.45 .6-.25 1.2-5 .6-3.85 .65-2.05 .6-3.2 .6-5.05 .6-2.1 .6-3.55 1.25-10.35 .6-7.55 .6 3.6 1.25-13.65 .6-2.3 .6-.6 .6-1.2 .6 2.3 .65-.55 .6 3.95 .6 1.75 .6 3.75 .6 2.4 .65 6.6 .6 4.55 .6 2.95 .6 3.35 .6 6.45 .65 1.8 1.2 9.2 .6 3.4 .6 1.05 1.25 4.55 .6 0 .6 1.4 1.25 2.05 .6-.35 .6 .4 .6 .8 .6 .2 .65-.25 1.2 .4 1.2-.4 .65 .35 .6 .15 .6-.35 .6 .4 1.25-.45 .6 .3 .6-.3 .6 .45 .6-.1 .65 .15 .6-.5 1.2 .45 1.85-.15 1.2 .1 .6 .15 .65-.55 1.8 .3 .6 0 .65-.1 .6 .05V260 H391.2 Z" class="s2"/>
<path d="M413.75 131.5l.65-2.05 .6-3.2 .6-5.05 .6-2.1 .6-3.55 1.25-10.35 .6-7.55 .6 3.6 1.25-13.65 .6-2.3 .6-.6 .6-1.2 .6 2.3 .65-.55 .6 3.95 .6 1.75 .6 3.75 .6 2.4 .65 6.6 .6 4.55 .6 2.95 .6 3.35 .6 6.45 .65 1.8 1.2 9.2" class="p2"/>
<path d="M391.2 147.9l.6 .1 .6-.3 1.25 .1 .6 .4 .6-.5 .6 .15 1.25-.1 .6 .2 .6-.15 .6-.05 1.25 .1 .6-.15 .6 0 .6 .25 .65-.25 .6 .2 2.45-.6 .6 .4 .6-.15 1.2-.85 1.25-.45 .6-.15 1.2-3.2 .65-.3 .6-1.95 .6-2.35 .6-3.25 .6-.6 .65-2.2 .6-6.15 .6-4.55 .6-3.05 .6-4.1 .65-3.25 .6-5.15 .6-7.3 .6-.65 .6-3.4 .65-4.45 .6-.6 .6-4.45 .6 1.5 .6-1.45 1.25 7.6 .6-2.05 .6 7.15 .6 5.15 .65 3.5 .6 6.5 .6 1.95 .6 7.35 .6 1.4 .65 2.4 .6 4.7 .6 2.6 .6 4.35 .6 2.5 .65 1.85 .6 .9 1.2 1.55 .6 .6 .65 1.25 .6-.15 .6 .65 .6 .35 .6 .2 .65-.25 1.2 .25 .6 .35 .6-.3 .65 .05 .6 .25 .6 .05 .6 .15 .6-.25 .65 .15 .6-.45 .6 .4 1.2 .05 .65-.25 .6 .3 .6 .05 .6-.25 1.25-.05 1.2 .05 .6-.2 .6 0 .65 .15 .6-.05 .6 .25 1.85-.4 .6 .2V260 H391.2 Z" class="s2"/>
<path d="M413.75 134.45l.65-2.2 .6-6.15 .6-4.55 .6-3.05 .6-4.1 .65-3.25 .6-5.15 .6-7.3 .6-.65 .6-3.4 .65-4.45 .6-.6 .6-4.45 .6 1.5 .6-1.45 1.25 7.6 .6-2.05 .6 7.15 .6 5.15 .65 3.5 .6 6.5 .6 1.95 .6 7.35 .6 1.4 .65 2.4 .6 4.7 .6 2.6" class="p2"/>
<path d="M391.2 149.85l.6-.15 .6 .6 .65-.6 .6 .55 .6 .2 .6-.45 .6-.05 .65 .15 .6-.25 1.2 .25 .6-.3 .65 .45 .6-.25 .6 .05 .6 .15 .6-.4 .65 0 .6 .2 .6 0 .6-.1 1.25-.1 1.2-.45 1.2-.15 .65-.25 .6-1 .6 .5 .6-.45 1.25-3.9 1.2-2.5 .6-3 .6-.9 .65-5.2 .6-2.15 .6-4.35 .6-1.7 .6-6.8 .65-4.3 .6-6.5 .6-3.3 .6-5.8 .6 4.75 .65-8.55 .6-2.55 .6-.8 .6 .35 .6 .8 .65-3 .6 7.95 .6 .7 .6 3.3 .6 7.1 .65 1.7 .6 2.8 .6 4.4 .6 6.6 .6 3.15 .65 3.9 .6 1.95 .6 4.5 1.2 4.2 .65 3.35 1.2 1.8 .6 1.55 .6 1.05 .65-.65 .6 1.25 1.2 .25 .6 .5 .65 0 .6-.2 .6 .35 .6-.2 .6 .05 .65-.2 .6 .25 .6 .1 .6-.15 .6 .05 .65 .2 .6-.2 .6-.1 .6 .35 .6-.35 .65-.25 1.2 .3 .6-.15 .6 .05 1.25 .1 1.2 .05 .6 .15 .65 .35 .6-.3 .6-.1 .6-.2 .6 .1 .65-.15 .6 .15V260 H391.2 Z" class="s2"/>
<path d="M413.75 137.7l.65-5.2 .6-2.15 .6-4.35 .6-1.7 .6-6.8 .65-4.3 .6-6.5 .6-3.3 .6-5.8 .6 4.75 .65-8.55 .6-2.55 .6-.8 .6 .35 .6 .8 .65-3 .6 7.95 .6 .7 .6 3.3 .6 7.1 .65 1.7 .6 2.8 .6 4.4 .6 6.6 .6 3.15 .65 3.9 .6 1.95 .6 4.5" class="p2"/>
<path d="M391.2 152.05l.6 .3 .6 .15 .65-.15 .6 .25 .6-.55 .6 .3 .6-.15 .65 .05 .6-.2 .6 .15 .6 0 .6-.1 .65 .3 .6-.1 .6 .1 .6-.3 1.25-.1 .6 .3 .6 0 1.2-.35 .65 .1 .6 0 .6-.1 .6-.35 .6 .1 .65-.25 .6-1.15 .6-.15 .6-.9 .6-1.7 .65-.95 1.2-2.3 .6-3.8 .6-2.45 .65-2.9 .6-3.75 .6-5.1 .6-1.25 .6-5.75 .65-3.45 .6-4 .6-6.05 .6-4.9 .6-3.05 1.25-5.35 .6-.35 .6-2.6 .6 2.25 .65 1.05 1.2 7 .6 5.7 .6 2.75 1.25 6.65 1.2 9.25 .6 3.4 .65 4.15 .6 2.55 .6 4.35 .6 1.6 .6 2.7 .65 1.95 .6 3.45 .6-.15 .6 1.4 .6-.1 .65 1.3 .6 .15 .6 .7 .6-.1 .6 .05 .65 .5 .6-.05 .6-.2 .6 .25 .6-.1 .65 .3 .6-.1 .6 .05 .6-.2 .6 .35 .65-.3 .6 .15 .6-.1 .6 .05 .6-.15 .65 .15 .6 .05 .6-.25 .6 .35 .6-.3 1.25 .05 .6 .3 .6-.25 .6 0 .65 .1 .6 0 .6 .15 .6-.25 1.85-.05V260 H391.2 Z" class="s2"/>
<path d="M413.75 138.05l.65-2.9 .6-3.75 .6-5.1 .6-1.25 .6-5.75 .65-3.45 .6-4 .6-6.05 .6-4.9 .6-3.05 1.25-5.35 .6-.35 .6-2.6 .6 2.25 .65 1.05 1.2 7 .6 5.7 .6 2.75 1.25 6.65 1.2 9.25 .6 3.4 .65 4.15 .6 2.55 .6 4.35" class="p2"/>
<path d="M391.2 154.5l.6 0 .6-.15 .65 .05 .6-.3 .6 .45 .6-.05 .6-.4 .65 .25 .6 .05 .6 .25 .6-.2 .6 .15 .65 .05 .6-.15 .6-.25 .6-.05 1.25 .3 .6-.05 .6-.3 .6 .3 .6-.3 .65 .05 .6 .15 1.8-.9 .65-.1 .6-.35 .6-.75 .6-1.05 .6-.35 .65-1 .6-2.75 .6-.65 .6-3.2 .6-2.35 .65-1.8 .6-5.7 .6-2.55 .6-1.7 .6-4.45 .65-7.3 .6-5.25 .6-.5 .6-5.65 .6-3.5 .65-6.35 .6 .75 .6-4.65 .6 1.75 .6 4.25 .65-.05 .6 2.55 .6-.2 .6 3.9 .6 2.5 .65 8.05 .6 .3 .6 3.2 1.2 11.9 .65 1.95 .6 4.4 .6 1.6 .6 3.6 .6 2 1.25 4.55 1.2 3.55 .6 .15 .65 .05 .6 .55 .6 .3 .6 .65 .6 0 .65 .3 .6-.05 .6 .55 .6-.3 .6 .2 .65-.1 .6 .4 .6-.6 .6 .35 .6 .1 .65-.2 .6 .15 .6-.15 .6 .2 .6-.2 .65 .3 .6-.5 .6 .35 .6-.2 .6 0 .65 .15 .6-.15 .6-.05 .6 .2 .6-.25 1.25 .35 .6-.3 .6 .3 .6-.35 .65 .2 .6 0V260 H391.2 Z" class="s2"/>
<path d="M413.75 140.9l.65-1.8 .6-5.7 .6-2.55 .6-1.7 .6-4.45 .65-7.3 .6-5.25 .6-.5 .6-5.65 .6-3.5 .65-6.35 .6 .75 .6-4.65 .6 1.75 .6 4.25 .65-.05 .6 2.55 .6-.2 .6 3.9 .6 2.5 .65 8.05 .6 .3 .6 3.2 1.2 11.9 .65 1.95 .6 4.4 .6 1.6 .6 3.6" class="p2"/>
<path d="M391.2 156.4l.6 .35 .6-.35 .65 .45 .6 0 .6-.35 .6 .15 .6-.05 .65-.2 1.2 .2 .6 0 .6 .2 .65-.25 .6 0 .6 .15 .6 .05 .6-.2 .65 .1 .6-.15 .6 .05 .6-.35 .6 0 .65 .4 .6-.35 .6-.2 1.2 .35 1.25-1.1 .6-.7 .6 .05 .6-.85 1.25-3.8 .6-1.5 .6-1.85 1.25-6.5 .6-3.5 .6-4.85 .6-2.6 .6-3.55 .65-6.75 .6-3.85 .6-1.35 .6-7.1 .6-1.55 .65-5.85 .6-4.05 .6 2.75 .6-.3 .6-.65 .65 .4 .6 4.65 .6-.7 .6 2.35 1.25 11 .6 3.15 1.2 10.45 .6 1.1 .65 4.8 .6 3.55 .6 4.1 .6 .9 .6 4.7 .65 .35 .6 3 1.2 2.1 .6 1.35 .65 0 .6 1.2 1.2 .15 .6 .8 .65-.35 .6 .5 .6-.1 .6 .05 .6 .3 .65-.15 .6-.05 .6 .15 .6-.2 .6 .35 .65-.35 .6 .2 .6-.2 .6 .2 .6-.25 1.25 .25 .6-.3 1.2 .25 .65-.15 .6 .05 .6 .15 .6 0 .6-.35 .65 .1 .6-.25 .6 .4 .6 .1 .6-.25 .65-.05 .6 .25V260 H391.2 Z" class="s2"/>
<path d="M413.75 143.5l1.25-6.85 .6-4.85 .6-2.6 .6-3.55 .65-6.75 .6-3.85 .6-1.35 .6-7.1 .6-1.55 .65-5.85 .6-4.05 .6 2.75 .6-.3 .6-.65 .65 .4 .6 4.65 .6-.7 .6 2.35 1.25 11 .6 3.15 1.2 10.45 .6 1.1 .65 4.8 .6 3.55 .6 4.1" class="p2"/>
<path d="M391.2 158.7l.6 .4 .6-.1 .65-.5 .6 .4 1.2 0 .6-.1 .65-.25 .6 .25 .6-.1 .6 .35 .6-.2 .65 .1 .6-.35 .6 .2 1.2-.15 .65 .05 .6-.2 .6 .25 .6-.2 .6 .15 .65-.05 1.2-.4 .6 .15 .6-.2 .65-.7 .6 .05 .6-2 .6 .35 .6-.85 .65-1.5 .6-2.6 .6-.8 .6-1.5 .6-3.15 .65-4.6 .6-2.05 .6-1.75 .6-4.5 .6-3.85 .65-6.6 .6-3.2 .6-5.55 .6-4.15 .6-5.35 .65-1.15 .6-.5 .6-3.25 .6-4.55 .6 4.8 .65-2.2 .6 4.95 .6 .15 .6 7.5 .6 .65 .65 6.25 .6 .45 .6 6.4 .6 4.85 .6 2.3 .65 5.1 1.2 7.7 .6 2.9 .6 1.15 .65 4.25 .6 1.35 .6 .7 .6 2 .6 .3 .65 .6 .6 .35 .6 .1 .6 1.1 .6 .4 1.25 .15 .6 .3 .6-.55 .6 .4 .65 .2 .6-.3 .6 .35 .6-.35 .6-.05 .65-.2 .6 .4 .6 .05 1.2-.1 .65 .05 .6-.1 .6-.25 .6 .3 .6 .05 .65 .3 .6-.45 .6 .1 .6-.3 .6 0 .65 .1 .6 .4 .6-.2 1.2-.1 1.25 .2V260 H391.2 Z" class="s2"/>
<path d="M413.75 145.5l.65-4.6 .6-2.05 .6-1.75 .6-4.5 .6-3.85 .65-6.6 .6-3.2 .6-5.55 .6-4.15 .6-5.35 .65-1.15 .6-.5 .6-3.25 .6-4.55 .6 4.8 .65-2.2 .6 4.95 .6 .15 .6 7.5 .6 .65 .65 6.25 .6 .45 .6 6.4 .6 4.85 .6 2.3 .65 5.1 1.2 7.7 .6 2.9" class="p2"/>
<path d="M391.2 161.1l.6-.1 1.85 .1 1.2-.15 .6-.15 .65 .2 1.2 0 1.2-.15 .65 .3 .6-.25 .6 .1 1.2-.2 .65 .3 .6-.4 .6 .25 .6-.1 .6 0 .65-.25 .6 .3 .6-.05 .6-.3 1.25-1.2 .6 .65 .6-2.15 .6-.6 .6-.3 .65-1.2 .6-2.7 .6-.85 .6-3.85 .6-.9 .65-3.35 .6-3.95 .6-2.55 .6-5 .6-8.15 .65 .05 .6-5.2 .6-3.1 .6-6 .6-1.75 .65-5 .6-.75 .6-.55 .6-3.35 .6 .15 .65 2.5 .6 3.4 .6 1.9 .6 3 .6 4.75 .65 3.65 .6 2.25 .6 8 .6 4.2 .6 3.85 .65 .65 .6 6.9 .6 .85 .6 3.9 .6 2.35 .65 3.35 .6 1.2 .6 .8 .6 1.35 .6 .4 .65 .55 .6 1.1 .6 .4 .6 .1 .6 .55 .65 .15 .6-.35 .6 .2 .6 .1 .6-.35 .65 .5 2.4-.2 .65 .25 .6-.3 .6 .2 .6-.1 .6 .2 .65 .05 .6-.2 .6-.05 .6-.15 .6 0 .65 .2 .6 .05 .6-.1 .6-.15 .6 0 .65-.25 .6 .4 .6-.4 1.2 .25 .65 .3 .6-.35V260 H391.2 Z" class="s2"/>
<path d="M413.75 147.45l.65-3.35 .6-3.95 .6-2.55 .6-5 .6-8.15 .65 .05 .6-5.2 .6-3.1 .6-6 .6-1.75 .65-5 .6-.75 .6-.55 .6-3.35 .6 .15 .65 2.5 .6 3.4 .6 1.9 .6 3 .6 4.75 .65 3.65 .6 2.25 .6 8 .6 4.2 .6 3.85 .65 .65 .6 6.9 .6 .85 .6 3.9" class="p2"/>
<path d="M391.2 163.3l.6 .15 .6-.15 .65-.05 .6-.25 .6 .15 .6-.2 .6 .3 .65 0 .6 .15 .6-.2 .6 .05 .6-.2 1.25 .3 .6-.1 .6 .05 .6-.1 .65 .05 .6-.1 .6-.15 1.2 .2 1.25-.35 .6-.3 .6 .1 .6-.55 1.25-.55 .6-.45 .6-1.6 .6-1.05 .65-.75 .6-2.35 .6-.55 .6-2.9 .6-3.6 .65-4.5 .6-1.5 .6-4.65 .6-6.5 1.25-7.2 .6-3.1 .6-8.7 .6-.85 .6-3 .65 1.05 .6-5.75 .6-1.4 .6-.9 .6 1.2 .65 1.85 .6 .6 .6 4.2 .6 5.9 .6 .25 1.25 12.1 .6 .55 .6 5.45 .6 3.45 .65 5.7 .6 3.8 1.8 7.2 1.25 4.5 .6 .9 .6 1.6 .6 1 .65-.3 .6 1.15 .6 .25 .6-.1 .6-.3 1.25 .9 .6-.4 .6 .6 .6-.35 .65 .2 .6-.15 1.2 .15 .6-.2 .65 .15 .6-.05 .6 .2 .6-.25 .6 .45 .65-.05 .6-.45 .6 0 1.2 .25 1.85 .05 1.2-.3 1.25 .15 .6-.1 .6 .5 .6-.4 .65 .25 .6-.1V260 H391.2 Z" class="s2"/>
<path d="M413.75 148.3l.65-4.5 .6-1.5 .6-4.65 .6-6.5 1.25-7.2 .6-3.1 .6-8.7 .6-.85 .6-3 .65 1.05 .6-5.75 .6-1.4 .6-.9 .6 1.2 .65 1.85 .6 .6 .6 4.2 .6 5.9 .6 .25 1.25 12.1 .6 .55 .6 5.45 .6 3.45 .65 5.7 .6 3.8 .6 2.45" class="p2"/>
<path d="M391.2 165.25l.6-.05 1.25 .25 .6-.1 .6 .2 .6-.25 .6 0 .65 .15 .6 .25 .6-.2 .6 .15 .6-.3 .65 .2 .6-.1 .6 .3 .6-.4 .6 .1 .65-.2 .6-.05 .6 .25 .6-.05 .6-.3 .65 .3 .6-.35 .6-.1 .6 .25 .6-.55 1.25-.55 1.2-2.3 .6-.15 .65-1.2 .6-3.8 .6-1.75 .6-2.5 .6-2.95 .65-1.05 .6-5.4 1.8-11.4 .65-5.35 .6-3.8 .6-7.25 .6-1.35 .6-5.1 .65-1.4 .6 .5 .6-3 .6-1.25 .6 3.15 .65 2.3 .6-.1 .6 .55 .6 7.4 .6 1.45 .65 2.75 .6 6.65 .6 2.75 .6 4.5 .6 3.55 .65 4.15 .6 5.4 .6 .1 .6 5.7 .6 2.55 .65 1.9 .6 1.15 .6 .75 .6 1.75 .6 1.15 .65 .9 .6 .05 .6-.2 .6 .65 .6 .15 .65 .5 1.8 .05 .6-.2 1.25 .45 .6-.3 .6 .05 .6-.1 1.25 .25 .6-.3 .6 .35 .6-.25 .65 .5 .6-.4 .6 .15 .6-.35 .6 .4 1.25-.2 .6 .3 .6-.25 .6-.05 .65 .3 .6-.3 .6 .2 .6-.2 .6-.1 .65 .4 .6-.15V260 H391.2 Z" class="s2"/>
<path d="M413.15 152.4l.6-2.95 .65-1.05 .6-5.4 1.8-11.4 .65-5.35 .6-3.8 .6-7.25 .6-1.35 .6-5.1 .65-1.4 .6 .5 .6-3 .6-1.25 .6 3.15 .65 2.3 .6-.1 .6 .55 .6 7.4 .6 1.45 .65 2.75 .6 6.65 .6 2.75 .6 4.5 .6 3.55 .65 4.15 .6 5.4 .6 .1 .6 5.7" class="p2"/>
<path d="M391.2 167.75l.6 0 .6-.15 .65 .05 .6-.15 .6 0 .6 .15 .6-.35 .65 .3 .6-.15 .6 .15 .6-.15 .6 .35 .65-.1 .6-.2 .6 .2 .6-.4 .6 .05 .65 .3 .6 .15 .6-.3 .6 .15 .6-.15 .65 .2 .6-.55 .6-.4 1.2-.1 .65-.25 .6-.95 .6 0 .6-2.1 .6-.3 .65-2.15 .6-1.4 .6-2.25 .6-1.05 .6-2.25 .65-7.15 .6-1.7 .6-3.2 .6-5.85 .6-3.45 .65-4.45 .6-3.05 .6-6.9 .6-1.25 .6-5.25 .65-2.4 .6-3.5 .6-.35 .6-.05 .6 5.1 .65-1.7 .6 1 .6 2.35 .6 1.85 .6 7.2 .65 .5 .6 5.25 .6 6.9 .6 2.4 .6 3.85 .65 8.35 .6-.55 .6 4 .6 2.05 .6 3.8 1.25 5.35 .6 .5 1.2 1.35 .65 1.15 .6 .1 .6 .6 .6-.25 .6 .7 .65-.25 .6 .3 .6-.15 .6 .15 .6 .5 1.25-.35 .6 .35 .6-.5 .6 .3 .65-.2 .6 .3 .6 .05 .6-.2 1.25-.05 .6 .25 .6-.1 .6 .25 .6-.25 .65 0 .6-.2 .6 0 .6 .25 .6-.15 .65 .2 .6-.05 .6-.2 .6 .05 .6 .2 1.25 0V260 H391.2 Z" class="s2"/>
<path d="M413.75 153.95l.65-7.15 .6-1.7 .6-3.2 .6-5.85 .6-3.45 .65-4.45 .6-3.05 .6-6.9 .6-1.25 .6-5.25 .65-2.4 .6-3.5 .6-.35 .6-.05 .6 5.1 .65-1.7 .6 1 .6 2.35 .6 1.85 .6 7.2 .65 .5 .6 5.25 .6 6.9 .6 2.4 .6 3.85 .65 8.35 .6-.55 .6 4 .6 2.05" class="p2"/>
<path d="M391.2 169.7l.6 .15 .6-.15 .65 .45 .6-.4 .6 .05 1.2-.1 .65 .2 .6-.15 1.2 .15 1.25-.15 .6 .15 .6-.1 1.2-.35 1.85 .5 .6-.35 .6 .1 .65-.3 .6 .25 .6 .1 .6-.85 .6-.05 .65 .3 .6-1.35 .6-.85 .6-.5 .6-.9 1.25-3.25 .6-1.15 .6-4.05 .6-.9 .65-4.9 .6-1.85 .6-3.45 2.45-21.45 .6-.9 .6-8.25 .6-.6 .65-3.8 .6 .35 .6-4.45 .6 2.9 .6-2.55 .65 5.35 .6-2.7 .6 2.6 .6 2.3 .6 7.65 .65 1.5 .6 6.65 .6 2.4 .6 3.2 .6 8 .65 3.7 .6 1.9 .6 4.7 .6 .35 .6 4.95 .65 1.35 .6 2.2 .6 1.2 .6 1.45 1.85 2.2 1.2 1.05 1.25 .05 .6 .2 .6 .05 .6 .45 .6-.5 .65 .3 .6-.2 .6 .25 .6-.15 .6 .1 .65-.1 .6 .2 .6 .1 .6-.1 .6 0 .65-.05 .6-.5 .6 .3 .6 .2 1.85-.35 .6 .2 .6 .35 .6-.4 .65 .3 .6-.25 .6 .2 .6-.05 .6-.2 1.25 .05V260 H391.2 Z" class="s2"/>
<path d="M413.75 156.2l.65-4.9 .6-1.85 .6-3.45 2.45-21.45 .6-.9 .6-8.25 .6-.6 .65-3.8 .6 .35 .6-4.45 .6 2.9 .6-2.55 .65 5.35 .6-2.7 .6 2.6 .6 2.3 .6 7.65 .65 1.5 .6 6.65 .6 2.4 .6 3.2 .6 8 .65 3.7 .6 1.9 .6 4.7 .6 .35" class="p2"/>
<path d="M391.2 172.1l.6-.35 .6 .25 .65-.1 .6 .35 .6-.45 .6 .25 .6-.05 .65 .2 .6-.05 .6-.4 .6 .5 .6-.3 .65 .1 .6-.4 .6 .55 .6-.2 .6 0 .65-.1 .6 .25 .6-.7 .6 .4 .6-.15 .65 .05 .6 .25 .6-.7 .6 0 .6-.6 .65 .2 .6-.75 .6-.15 .6-.45 .6-3.15 .65-1.3 .6-.95 .6-1.4 .6-3.15 .6-1.45 .65-3.8 .6-5.05 .6-2.35 1.2-10.35 .65-3 .6-4.65 .6-2.7 .6-7.9 .6-4.05 .65 1.15 .6-4.15 .6-1.35 .6-.95 .6-2.55 .65 1.65 .6 4.8 .6 2.25 .6 2.6 1.25 10.85 .6 1.7 .6 5.75 .6 4.95 .6 2.75 .65 4 .6 2.75 .6 5.8 1.2 4.7 .65 1.7 .6 3.05 .6-.05 .6 2.6 .6 1.15 1.25 .5 .6 .55 .6 .85 .6 0 .65 .4 .6-.2 .6 .05 .6 .75 .6-.6 .65 .3 .6 .1 .6-.15 1.2 .05 .65 .2 .6-.25 .6 .1 .6 .15 .6-.4 .65 0 .6 .2 .6-.05 .6 .15 .6 0 .65-.1 .6 .1 .6-.15 .6 .4 1.25-.4 .6 .4 .6-.35 .6 .1 .6-.25 .65-.05 .6 .45V260 H391.2 Z" class="s2"/>
<path d="M413.75 158.15l.65-3.8 .6-5.05 .6-2.35 1.2-10.35 .65-3 .6-4.65 .6-2.7 .6-7.9 .6-4.05 .65 1.15 .6-4.15 .6-1.35 .6-.95 .6-2.55 .65 1.65 .6 4.8 .6 2.25 .6 2.6 1.25 10.85 .6 1.7 .6 5.75 .6 4.95 .6 2.75 .65 4 .6 2.75 .6 5.8 .6 2.35" class="p2"/>
<path d="M391.2 174.2l.6-.1 .6 .05 .65 .2 .6-.2 .6-.05 .6-.25 .6 .25 .65 .15 .6-.1 .6 0 .6 .4 1.25-.4 .6 .15 .6-.2 .6 .2 .6 .15 .65-.3 .6 .25 .6-.3 .6-.2 .6 .15 .65-.05 .6 .1 .6-.3 .6-.4 1.25-.5 .6-.3 .6-1.3 1.2-1.55 .65-1.85 .6-.35 .6-2.75 .6-3.3 .6-2.6 .65-1.2 .6-5.25 .6-4.5 .6-2.05 .6-3.7 .65-8.55 1.2-3.35 .6-3.15 .6-5.5 .65-3.7 .6-5.9 .6 2.1 .6-3.1 .6 .45 .65 3 .6-.9 .6 3.2 .6 7.35 .6 1.6 .65 .2 .6 5.9 .6 3.9 .6 6.6 .6 2.5 .65 5.3 1.2 7.85 1.2 5.35 .65 2.05 .6 1.35 .6 2.65 .6 .75 1.25 1.25 .6 1.2 .6 .7 .6 .1 .6-.1 .65 .4 .6 0 1.2 .5 1.85-.15 1.2 .15 .6-.3 .65 .2 .6-.2 .6 .45 .6-.35 .6 .3 .65-.35 .6 .5 1.8-.3 1.25 0 .6 .15 .6 0 .6 .05 .65-.25 .6 .05 .6-.2 .6-.05 .6 .3 .65-.1 .6 .1V260 H391.2 Z" class="s2"/>
<path d="M413.15 161.5l.6-2.6 .65-1.2 .6-5.25 .6-4.5 .6-2.05 .6-3.7 .65-8.55 1.2-3.35 .6-3.15 .6-5.5 .65-3.7 .6-5.9 .6 2.1 .6-3.1 .6 .45 .65 3 .6-.9 .6 3.2 .6 7.35 .6 1.6 .65 .2 .6 5.9 .6 3.9 .6 6.6 .6 2.5 .65 5.3 .6 4 .6 3.85 .6 2.65" class="p2"/>
<path d="M391.2 176.35l1.2 .05 .65-.3 .6 .25 .6 .05 .6-.05 .6 .05 .65-.35 .6 .45 1.8-.1 1.25 .1 .6-.2 1.2 .15 .65-.3 .6 .3 .6-.25 .6 0 .6-.1 .65 .1 .6-.4 .6 .35 .6-.65 .6-.4 .65 .3 .6-1 .6-1.4 .6-.2 .6-.75 .65-.95 .6-1.95 .6-2.75 .6-.25 1.25-9.95 .6 .35 1.2-9 .6-2.25 1.25-12.2 .6-3.6 .6-5.95 .6-1.3 .65-5.15 1.2-5.05 .6 2.25 .6 1.45 .65-.9 .6-.35 .6 4.1 .6 4.8 1.85 10.75 .6 8.7 .6 2.1 .6 4.6 .65 3.75 .6 2.35 .6 5.8 .6 1.2 .6 2.85 .65 1.9 .6 1.5 .6 2.35 .6 .75 .6 1.4 1.25 1.95 .6-.55 .6 1.15 .6 .25 .65-.3 1.2 .5 .6-.3 .6 .5 .65-.5 .6 .35 1.2-.2 .6 .05 .65 .1 1.8-.05 .6 .15 1.25-.1 1.2 .05 .6 .15 .65-.2 .6 .05 1.2-.25 1.25 .15 .6-.15 .6 .35 .6-.3 .6 .15 .65-.1 .6 .1V260 H391.2 Z" class="s2"/>
<path d="M413.15 166.15l1.25-9.95 .6 .35 1.2-9 .6-2.25 1.25-12.2 .6-3.6 .6-5.95 .6-1.3 .65-5.15 1.2-5.05 .6 2.25 .6 1.45 .65-.9 .6-.35 .6 4.1 .6 4.8 1.85 10.75 .6 8.7 .6 2.1 .6 4.6 .65 3.75 .6 2.35 .6 5.8" class="p2"/>
<path d="M391.2 178.7l.6 .1 .6-.4 .65 .35 .6-.25 .6 .3 .6-.4 1.25 .2 .6 .2 .6-.2 .6 .15 .6-.1 .65 .05 .6-.15 1.2 .05 1.85-.1 .6-.3 1.2 .05 .65-.05 .6-.25 .6 .55 .6-1 .6 .05 .65-.25 .6-1.2 .6-.2 .6-1.2 .6-1.7 .65-.4 .6-1.6 .6-.7 .6-3.7 .6-4.9 .65-1.1 .6-6.75 .6-2.5 .6-7.1 .6 .05 .65-5.45 .6-1.5 1.2-11.55 .6-1.7 .65-2.25 .6-5.1 .6-.95 .6 .95 .6-3.65 .65 1.5 .6 6.1 .6 2.2 .6 2.85 .6 8.65 .65 .7 .6 5.9 .6 3 1.2 7.55 .65 2.8 .6 5.35 .6 2.75 .6 4 .6 1.25 1.25 4.55 .6 .5 .6 1.7 .6 1.3 1.85 1.8 .6 .35 .6 .75 .65-.45 .6 0 .6 .4 1.2-.1 .65 .3 .6-.5 .6 .35 .6-.1 .6 .1 1.85 .05 .6-.2 .6 0 .65 .25 .6-.15 1.2-.15 .6 .15 .65-.15 .6 .4 .6 .15 .6-.3 .6-.2 .65 .25 .6-.35 .6 .3 .6-.1 .6 .15 .65-.2 .6 .1V260 H391.2 Z" class="s2"/>
<path d="M413.15 166.6l.6-4.9 .65-1.1 .6-6.75 .6-2.5 .6-7.1 .6 .05 .65-5.45 .6-1.5 1.2-11.55 .6-1.7 .65-2.25 .6-5.1 .6-.95 .6 .95 .6-3.65 .65 1.5 .6 6.1 .6 2.2 .6 2.85 .6 8.65 .65 .7 .6 5.9 .6 3 1.2 7.55 .65 2.8 .6 5.35 .6 2.75 .6 4" class="p2"/>
<path d="M391.2 180.95l.6-.15 .6 .2 .65-.25 .6 .05 .6 .25 .6-.3 .6 .05 1.25-.1 .6 .3 1.2-.35 1.85 .3 1.2-.1 .65-.25 .6 .5 .6-.45 .6 .05 .6-.15 .65 .2 .6-.3 .6-.1 1.2-.8 .65-.3 .6-.45 .6-.6 .6-.95 .6-1.1 .65-3.3 .6-.4 1.2-3.95 1.85-12.55 .6-3.25 .6-5.25 1.25-5.1 .6-7.55 1.2-7.35 .6-4.2 .65 1.35 .6-6 .6 2.4 .6-2.7 .6-1.4 .65 3.2 .6 2.05 .6 1.05 .6 4.5 .6 6.5 .65 2.95 .6 .15 .6 9.7 1.2 7.9 .65 6.85 .6-1.75 .6 5.4 .6 3.35 .6 .2 .65 4.2 1.2 2.05 .6 2.6 .6 .45 .65 .05 .6 .95 .6 .05 .6 1.35 .6-.7 .65 .5 .6 0 .6 .45 .6-.15 1.25 .15 .6-.15 1.2 .3 .6 .05 .65-.65 .6 .35 .6 .15 .6-.1 .6 .15 .65-.2 .6 .15 .6-.3 1.2-.1 .65 .35 .6 0 .6 .15 .6-.2 .6 .05 .65-.2 .6 .3 .6-.15 .6 0 .6 .25 .65-.5 .6 .25V260 H391.2 Z" class="s2"/>
<path d="M413.15 168.5l1.85-12.55 .6-3.25 .6-5.25 1.25-5.1 .6-7.55 1.2-7.35 .6-4.2 .65 1.35 .6-6 .6 2.4 .6-2.7 .6-1.4 .65 3.2 .6 2.05 .6 1.05 .6 4.5 .6 6.5 .65 2.95 .6 .15 .6 9.7 1.2 7.9 .65 6.85 .6-1.75 .6 5.4 .6 3.35" class="p2"/>
<path d="M391.2 183l1.85 .1 .6-.3 .6 .2 .6-.15 .6 .15 .65-.2 .6 .3 .6-.05 .6 .2 .6-.5 1.25 .2 .6 0 .6-.25 1.25 .15 .6 .2 1.2-.2 .6 .25 .65-.15 1.2-.45 .6-.1 .6-.5 .65 .1 .6-1.65 .6-.35 1.2-1.9 .65-2.05 .6-2.65 1.2-2 .6-4.75 .65-2.1 .6-3.4 1.2-9.5 .6-3.9 .65-1.9 .6-5.95 1.2-9 .6-2.75 .65-.55 .6-2.15 .6-3.05 .6-.45 .6 2.55 .65 1.35 1.2 .55 .6 .55 1.25 11.7 .6 5.1 1.2 7.25 .6 6.45 .65 2.45 1.2 5.95 .6 4.65 .6 1.5 .65 2.85 .6 1.7 .6 1.4 1.2 2.3 .65 .1 .6 1.2 .6 .15 1.2 .7 .65 .1 .6 .25 .6-.05 .6 .55 .6-.6 .65 .3 1.2-.2 .6 .25 .6 .2 .65-.3 .6 .3 .6-.4 .6 .2 .6-.15 .65-.05 .6 .05 .6 0 1.2 .4 .65-.15 .6 .15 .6-.3 .6-.05 .6 .3 .65 0 .6-.3 1.2 .2 1.25-.25 .6 .2V260 H391.2 Z" class="s2"/>
<path d="M413.15 171.4l.6-4.75 .65-2.1 .6-3.4 1.2-9.5 .6-3.9 .65-1.9 .6-5.95 1.2-9 .6-2.75 .65-.55 .6-2.15 .6-3.05 .6-.45 .6 2.55 .65 1.35 1.2 .55 .6 .55 1.25 11.7 .6 5.1 1.2 7.25 .6 6.45 .65 2.45 1.2 5.95 .6 4.65" class="p2"/>
<path d="M391.2 184.95l.6 .6 1.25-.5 .6 .3 .6 .05 .6 0 1.25-.4 .6 .05 .6 .4 .6-.3 .6-.05 .65 .05 .6-.2 1.2 .25 .6-.1 .65 .35 .6-.45 .6 .3 .6-.15 .6 .15 .65-.3 .6-.6 .6-.05 .6 .1 .6-.6 .65 .25 .6-1.6 .6 .25 .6-1.45 .6-.7 .65-1.15 .6-3.7 .6-1.15 .6-1.55 .6-3.1 .65-4.75 .6-2.7 .6-3.4 .6-4.55 1.25-5.7 .6-5.9 .6-7.25 .6-3.4 .6-.5 .65-2.25 .6-5.4 .6-1.2 .6-3.9 .6 6.95 .65-1.45 .6 .95 .6 4.85 .6 2.65 .6 5.25 .65 .25 .6 6.05 .6 2.55 .6 5.9 .6 3.55 .65 2.95 .6 4.35 .6 5 .6 1.75 .6 3.3 .65 .55 .6 3.85 .6-.1 .6 2.5 .6 1.35 .65 1.65 .6-.2 .6 .1 1.2 1 .65 .25 .6-.05 .6 .35 .6 0 .6-.2 .65 .2 .6 .1 .6-.3 .6 .1 .6 .15 .65-.05 .6 .15 .6 0 .6-.2 .6 .25 .65-.15 .6 .1 .6 .3 .6-.5 .6-.15 .65 .4 .6-.25 .6 0 .6 .25 1.25-.5 .6 .55 .6-.25 .6-.1 .6 .2 .65-.05 .6-.15V260 H391.2 Z" class="s2"/>
<path d="M413.15 173.05l.6-3.1 .65-4.75 .6-2.7 .6-3.4 .6-4.55 1.25-5.7 .6-5.9 .6-7.25 .6-3.4 .6-.5 .65-2.25 .6-5.4 .6-1.2 .6-3.9 .6 6.95 .65-1.45 .6 .95 .6 4.85 .6 2.65 .6 5.25 .65 .25 .6 6.05 .6 2.55 .6 5.9 .6 3.55 .65 2.95 .6 4.35 .6 5 .6 1.75" class="p2"/>
<path d="M391.2 187.5l.6-.3 .6 .25 .65-.1 .6 .15 .6-.05 .6-.2 .6 .05 .65 .35 .6-.15 1.2 .05 .6-.1 .65-.3 .6 .2 1.2 .05 .6-.35 .65 .55 .6-.35 .6 .2 .6-.55 .6 .4 .65-.3 .6 .25 .6-.55 .6 .25 .6-.25 .65-1.15 1.8-1.8 .6-1 .65-2.15 .6-1.4 1.2-3.65 .6-4.1 .65-2.05 1.2-6.45 .6-6.25 .6-1.55 .65-3.95 .6-6 .6-4.75 .6-3 .6-5.2 .65-2.35 .6-.4 .6-3.9 .6-.65 .6 .3 .65 1.5 .6 3.35 .6 2.35 .6-1.05 .6 6.05 .65 3.8 .6 5.75 .6 4.7 .6 2.25 .6 4.15 .65 2.2 .6 6.85 .6 3.25 .6 2.55 .6 1.65 .65 3.3 1.8 4.9 .6 .45 .65 1.25 .6 0 .6 1.6 .6 .8 .6-.65 .65 .75 1.2 .05 .6 .35 .6-.35 .65 .3 .6-.1 .6 .1 .6-.25 .6 .25 .65 .1 .6-.05 .6-.3 .6 .45 .6-.1 1.25 .05 .6-.2 .6 .25 1.25-.2 .6 .05 1.2 .35 1.25-.75 .6 .45 .6-.2 .6 .1 .6-.05 .65 .15 .6-.05V260 H391.2 Z" class="s2"/>
<path d="M413.15 175.55l.6-4.1 .65-2.05 1.2-6.45 .6-6.25 .6-1.55 .65-3.95 .6-6 .6-4.75 .6-3 .6-5.2 .65-2.35 .6-.4 .6-3.9 .6-.65 .6 .3 .65 1.5 .6 3.35 .6 2.35 .6-1.05 .6 6.05 .65 3.8 .6 5.75 .6 4.7 .6 2.25 .6 4.15 .65 2.2 .6 6.85 .6 3.25 .6 2.55" class="p2"/>
<path d="M391.2 189.45l.6 .1 .6-.1 1.25 .1 .6 .15 .6-.3 .6 .4 .65-.35 1.2 .5 .6-.4 .6 .25 1.25-.3 .6 .3 .6-.45 .6 .3 .65-.1 .6 .15 .6-.05 1.2-.25 .65 .15 .6-.6 .6 .3 .6-.1 .6-.8 .65-.2 .6-.45 .6-.3 1.85-4.35 .6-2.2 .6-2.8 .6 .2 .6-2.9 .65-3.4 .6-4.9 .6-2.15 .6-3.55 .6-6.25 .65-3.65 .6-7.1 1.2-3.15 .6-4.4 1.25-6.1 .6-3.65 .6-1.8 .6 .75 .65 2.2 .6 1.35 .6 4.5 .6-.7 .6 7.25 .65 .4 .6 6.5 .6 4.35 .6 5.9 .6 2.55 1.25 8.6 .6 2.45 .6 4.85 .6 1.3 1.25 5.3 1.2 2.2 .6 1.65 .65 .65 .6 .3 .6 1.1 .6-.25 .6 .8 .65 .1 .6-.05 .6 0 .6 .3 .6-.45 .65 .15 .6 .45 .6-.25 .6 .2 .6 0 .65-.25 .6 .3 .6-.35 .6 .2 .6 0 .65-.3 .6 .5 .6-.45 .6 .05 .6 .3 .65-.3 .6 .2 .6-.1 1.2-.05 1.85 .2 .6-.2 .6 .3 .65-.15 .6 .1V260 H391.2 Z" class="s2"/>
<path d="M413.75 175.35l.65-3.4 .6-4.9 .6-2.15 .6-3.55 .6-6.25 .65-3.65 .6-7.1 1.2-3.15 .6-4.4 1.25-6.1 .6-3.65 .6-1.8 .6 .75 .65 2.2 .6 1.35 .6 4.5 .6-.7 .6 7.25 .65 .4 .6 6.5 .6 4.35 .6 5.9 .6 2.55 1.25 8.6 .6 2.45 .6 4.85" class="p2"/>
<path d="M391.2 191.7l.6-.1 .6 .55 .65-.45 .6 .3 1.8-.25 .65 0 .6 .2 .6-.25 .6 .2 .6-.15 1.25-.05 .6-.1 .6 .3 .6 .05 .65-.1 .6-.25 1.2-.1 .6 .25 .65-.35 .6-.15 .6 0 .6-.25 .6-.4 .65-.25 .6-1.2 .6 .25 .6-1.95 .6-1.5 .65-.15 .6-3.4 .6-1.4 .6-3.45 .6-.6 .65-4.2 .6-2.55 1.2-11.65 .6 .15 .65-4.75 .6-6.8 .6-3.55 .6-5.05 .6-5.8 .65-.85 .6-3.7 .6 1.3 .6-.85 .6 1.95 .65 3.15 .6 0 .6 .55 .6 2.5 .6 7.5 .65-2.95 .6 5.75 .6 4.7 .6 9.5 .6-.75 .65 6.75 .6 5.4 .6 1.75 .6 1.2 .6 4.65 1.25 4.45 .6 .85 .6 1.55 .6 1.75 1.25 .75 .6 .9 1.2 .85 .65 .25 .6-.5 .6 .45 .6-.2 .6 .3 .65 .5 .6-.4 .6 0 .6-.15 1.25 .2 .6 .05 .6-.05 .6 .3 .6-.6 .65 .35 .6-.35 .6 .4 1.2-.3 .65 .1 .6-.1 .6 .2 .6-.3 .6 .35 .65 0 .6-.15 .6 .05 .6 .15 .6 .1 .65-.2 .6 0V260 H391.2 Z" class="s2"/>
<path d="M413.75 176.95l.65-4.2 .6-2.55 1.2-11.65 .6 .15 .65-4.75 .6-6.8 .6-3.55 .6-5.05 .6-5.8 .65-.85 .6-3.7 .6 1.3 .6-.85 .6 1.95 .65 3.15 .6 0 .6 .55 .6 2.5 .6 7.5 .65-2.95 .6 5.75 .6 4.7 .6 9.5 .6-.75 .65 6.75 .6 5.4 .6 1.75 .6 1.2 .6 4.65" class="p2"/>
<path d="M391.2 193.7l1.2 .3 1.25-.2 1.2 .4 .6 0 .65-.5 .6 .35 .6-.2 .6 .3 .6-.2 1.25 .1 1.2-.3 .6-.05 .65 .35 .6-.25 .6 .05 .6 .1 .6-.15 .65 .1 .6-.65 .6 .45 .6-.55 .6-.25 .65 .15 1.2-2.4 .6-.75 1.25-2.75 .6-2.55 .6-1.45 .6-1.85 .6-5.35 .65-1.55 .6-4.8 .6-2.85 .6-5.7 .6-1.7 1.25-11.8 .6-4.05 .6-3.05 .6-1.65 .65-3.35 .6-.2 .6-4.65 .6-.05 .6 1.75 .65 5.25 .6-2.8 .6 4.6 .6 3.75 .6-1.25 .65 6.25 .6 5.45 .6 3.9 .6 5.55 .6 4 .65 1.8 1.2 7.6 .6 .65 1.25 7.9 .6 1.6 .6 .9 .6 1.95 .6 1.2 .65 .7 .6 1.3 .6 .05 .6-.3 .6 1.15 1.25 .5 .6-.1 .6-.05 .6 .3 1.25-.2 .6 .1 .6-.2 .6 .2 .65-.3 .6 .25 .6 .35 .6-.45 1.25 .05 .6 .1 .6-.25 1.2 .1 .65 0 .6-.15 .6 .4 .6 0 .6 .1 1.25-.4 .6-.05 .6 .1 .6-.15 1.25 .3V260 H391.2 Z" class="s2"/>
<path d="M413.15 181.3l.6-5.35 .65-1.55 .6-4.8 .6-2.85 .6-5.7 .6-1.7 1.25-11.8 .6-4.05 .6-3.05 .6-1.65 .65-3.35 .6-.2 .6-4.65 .6-.05 .6 1.75 .65 5.25 .6-2.8 .6 4.6 .6 3.75 .6-1.25 .65 6.25 .6 5.45 .6 3.9 .6 5.55 .6 4 .65 1.8 1.2 7.6 .6 .65 .6 4" class="p2"/>
<path d="M391.2 196.2l1.2-.1 .65 .3 .6-.2 .6 .1 .6 .4 .6-.6 .65 .3 .6-.05 .6-.25 .6 .1 1.25-.1 .6 .3 1.2-.55 .6 .55 1.25-.4 .6 0 .6 .15 .6-.25 1.25 .1 .6-.5 .6-.15 .6-.45 .65-.55 .6-1.1 .6 .1 .6-2.05 .6-.9 .65-2.8 .6-.9 .6-2 .6-3.75 .6-2.95 .65-.75 .6-4.55 .6-6.2 .6-2.05 .6-5.7 .65-3.15 .6-6.7 .6-2.4 .6-3.55 .6-4.5 .65-3.45 .6 2.65 .6-5.45 .6 2.5 .6-2.25 .65 .5 .6 4.1 .6-1.05 1.2 11.25 .65 .65 1.2 11.45 1.2 10.5 .65 3.6 .6 2.55 .6 1.25 .6 5.3 .6 2.45 1.25 4.2 .6 .75 .6 2.45 .6 .6 .65 .2 .6 1.15 .6 .75 1.2 .4 .65 .45 .6-.05 1.2 .15 1.25 0 .6 .05 .6 .2 .6 0 .6-.1 .65-.2 .6 .2 1.2 .15 .6-.3 .65 .25 1.2 0 .6 .15 .6-.7 .65 .35 .6-.05 .6 .4 .6-.25 .6 .2 .65-.2 .6 0 .6-.05 .6 .2 .6-.25 1.25 .25V260 H391.2 Z" class="s2"/>
<path d="M412.55 184.7l.6-3.75 .6-2.95 .65-.75 .6-4.55 .6-6.2 .6-2.05 .6-5.7 .65-3.15 .6-6.7 .6-2.4 .6-3.55 .6-4.5 .65-3.45 .6 2.65 .6-5.45 .6 2.5 .6-2.25 .65 .5 .6 4.1 .6-1.05 1.2 11.25 .65 .65 1.2 11.45 1.2 10.5 .65 3.6 .6 2.55 .6 1.25 .6 5.3" class="p2"/>
<path d="M391.2 198.35l.6-.2 .6 0 .65 .15 .6 .35 .6-.35 1.2 .25 .65-.25 .6 .15 .6-.15 .6 .2 .6 0 .65-.3 .6 .2 .6-.1 .6 .2 .6 .05 1.25-.35 .6-.05 .6 .3 1.25-.3 1.2-.6 .6 .05 .6-.3 .65 .05 1.2-2.25 .6 .1 .6-3.8 .65-.6 .6-.8 1.2-5.9 .6-2.4 .65-1.9 .6-5.9 .6-1.15 .6-7.85 1.25-9.7 .6-3.7 .6-6.15 .6-.55 .6-2.2 .65-4.8 .6-3.55 .6-.05 .6 .5 .6-2.25 .65 3.55 .6 6.05 .6-1.5 .6 2.6 .6 3.1 .65 7.9 .6 1.5 .6 5.3 .6 7.3 .6 1.05 .65 5.2 .6 3.6 .6 2.25 .6 2.7 .6 5.35 .65 1.6 .6 .9 .6 3.15 .6-.35 .6 1.2 .65 .5 .6 1.15 .6 .6 .6 .15 .6 .3 .65 .05 1.2 .35 .6 .45 .6-.15 .65 .05 .6 .25 1.2-.15 .6 .1 .65-.2 .6 0 .6 .3 .6 0 .6-.1 .65 .1 .6-.2 1.2-.05 .6-.2 .65 0 .6 .2 .6-.15 .6 .1 .6 .3 .65-.25 .6-.05 .6 .15 1.85-.3 .6 .3V260 H391.2 Z" class="s2"/>
<path d="M413.15 184.1l.6-2.4 .65-1.9 .6-5.9 .6-1.15 .6-7.85 1.25-9.7 .6-3.7 .6-6.15 .6-.55 .6-2.2 .65-4.8 .6-3.55 .6-.05 .6 .5 .6-2.25 .65 3.55 .6 6.05 .6-1.5 .6 2.6 .6 3.1 .65 7.9 .6 1.5 .6 5.3 .6 7.3 .6 1.05 .65 5.2 .6 3.6 .6 2.25 .6 2.7 .6 5.35" class="p2"/>
<path d="M391.2 200.6l1.2-.2 .65 .2 .6-.1 .6-.05 .6 .2 .6-.15 .65 .2 .6 .05 .6-.2 .6 .05 1.25-.05 .6 .1 .6-.15 1.2-.1 .65 .2 1.2 .05 .6-.25 .6-.1 .65-.35 .6 .2 .6-.05 .6-.35 .6-.45 .65 .1 1.2-2.55 1.2-1.55 .65-1.75 .6-.15 .6-4.05 .6-1.95 1.25-8.1 .6-1.55 .6-3.9 .6-7.75 .6-1.2 .65-4.25 .6-2.75 .6-6.85 .6-5.05 .6-2.9 .65-1.1 .6-5.75 .6 1.6 .6-1.6 .6-.8 .65-.1 .6 3.85 .6 4.75 .6 2.4 .6 4.6 .65-.8 .6 8 .6 2.9 .6 6.65 .6 3.15 .65 6.25 .6 .75 .6 4.5 .6 .3 .6 7.3 .65-.25 1.8 7 .6-.1 .65 1.65 .6-.15 .6 1.4 .6 .1 .6 .45 .65 .15 .6 0 .6 .05 .6 .3 1.25 .2 1.2-.2 .6 .05 .6-.05 .65 0 .6 .15 .6 0 1.2-.15 .65 .15 .6-.3 .6 .3 .6 0 .6-.2 .65 .05 .6 .2 .6 0 .6-.15 .6 .1 .65-.45 .6 .5 .6 .1 .6-.35 .6-.25 .65 .4 .6 .1V260 H391.2 Z" class="s2"/>
<path d="M413.15 187.4l1.25-8.1 .6-1.55 .6-3.9 .6-7.75 .6-1.2 .65-4.25 .6-2.75 .6-6.85 .6-5.05 .6-2.9 .65-1.1 .6-5.75 .6 1.6 .6-1.6 .6-.8 .65-.1 .6 3.85 .6 4.75 .6 2.4 .6 4.6 .65-.8 .6 8 .6 2.9 .6 6.65 .6 3.15 .65 6.25 .6 .75 .6 4.5 .6 .3 .6 7.3" class="p2"/>
<path d="M391.2 202.75l.6 .25 1.25-.2 1.2 .2 1.2-.4 1.25-.1 .6 .1 .6 .4 .6-.05 .65-.3 .6 .3 .6-.3 .6 .2 .6-.05 .65-.15 .6 .05 .6-.1 .6 .05 .6 .1 .65-.45 .6 .15 .6-.6 .6 .5 .6-1.2 .65-.6 .6-.3 .6-.8 1.2-1.95 .65-2.7 .6 .3 .6-3.9 .6-2.3 1.25-6.25 .6-1.9 .6-5.45 .6-3.4 .6-1.05 .65-6.6 .6-5.3 .6-7.55 .6-.15 .6-3.2 1.25-10.2 .6 1.1 .6-1.95 .6 4.1 .65-.55 .6 1.45 .6 .35 .6 3.3 .6 6.4 .65 4.1 .6 5.15 .6 2.55 .6 4 .6 5.2 .65 2.1 .6 4.85 .6 3.2 .6 4.7 .6 .8 .65 3.1 .6 2.6 .6 2.1 .6 1.1 .6 1.45 .65 .65 .6 .4 .6 1.05 .6 .85 .6-.1 1.25 .5 .6 .2 .6 0 .6-.2 .65 .45 .6 .15 .6-.35 .6 .05 .6 .15 .65-.1 .6-.25 .6 .6 .6-.45 .6 .35 .65-.25 .6-.05 .6-.1 .6 .2 .6 .05 .65 .15 .6-.2 1.2 0 .6-.1 .65 .2 .6 .1 .6-.2 .6 .05 1.25-.1 .6 .3V260 H391.2 Z" class="s2"/>
<path d="M413.15 188.9l1.25-6.25 .6-1.9 .6-5.45 .6-3.4 .6-1.05 .65-6.6 .6-5.3 .6-7.55 .6-.15 .6-3.2 1.25-10.2 .6 1.1 .6-1.95 .6 4.1 .65-.55 .6 1.45 .6 .35 .6 3.3 .6 6.4 .65 4.1 .6 5.15 .6 2.55 .6 4 .6 5.2 .65 2.1 .6 4.85 .6 3.2 .6 4.7" class="p2"/>
<path d="M391.2 204.85l.6 .25 .6 .05 .65-.3 .6 .25 .6-.35 .6 .4 .6-.4 .65 .45 .6-.15 .6-.3 1.2 .1 1.85 .05 .6 .1 .6-.2 .65 .1 .6 0 .6 .45 .6-.45 .6-.3 1.25 .25 .6-.3 .6-.6 .6 .05 .65-1.4 .6 .1 .6-.55 .6-1.7 .6-.05 .65-2.55 .6-1.75 .6-3.15 .6-1.7 .6-2.75 .65-3.1 .6-5.1 .6-2.95 .6-4.3 .6-3.45 .65-5.75 .6-4.6 .6 1.3 .6-5.75 .6-8.25 .65 1.25 .6-6.15 .6 .35 .6-.85 .6-.2 .65 1 .6 1.35 1.8 12.65 .65-3.6 .6 11.8 .6 1.05 .6 2.6 1.25 13.9 .6 2.7 .6 3.25 .6 .95 .6 5.1 .65 2.35 .6 1.9 .6 1.25 .6 .55 1.85 3.05 .6 .6 .6 .35 .6 .25 .65-.05 .6 .5 .6 .1 .6 .35 .6 .2 .65-.1 .6 .05 1.2-.05 .6-.15 .65 0 .6 .15 .6-.2 .6 .35 .6-.2 .65 .05 1.2-.1 .6 .05 .6 .15 .65 0 .6-.15 .6 0 .6 .05 .6-.2 .65 .15 .6-.15 .6 .1 .6 .25 .6-.1 .65-.2 .6 .05V260 H391.2 Z" class="s2"/>
<path d="M413.15 191.25l.6-2.75 .65-3.1 .6-5.1 .6-2.95 .6-4.3 .6-3.45 .65-5.75 .6-4.6 .6 1.3 .6-5.75 .6-8.25 .65 1.25 .6-6.15 .6 .35 .6-.85 .6-.2 .65 1 .6 1.35 1.8 12.65 .65-3.6 .6 11.8 .6 1.05 .6 2.6 1.25 13.9 .6 2.7 .6 3.25 .6 .95 .6 5.1" class="p2"/>
<path d="M391.2 207.2l.6-.2 1.25 .4 .6-.15 .6 .1 .6-.15 .6 .2 .65-.2 .6 0 .6 .15 .6-.25 1.25 0 .6 .1 .6-.05 .6 .35 .6-.55 .65 .3 .6-.25 1.2 .25 1.25-.9 .6 .45 .6 0 .6-.65 1.25-1.15 .6-.3 .6-1.25 .6-1.8 .6-.75 .65-1.3 2.4-8 .65-6.6 .6-1.5 .6-5.05 .6-4.15 .6-6.7 .65-.55 .6-9.2 .6-1.35 .6 .75 .6-7.95 .65-.5 .6-5.15 .6-1.55 .6 2.3 .6 .5 .65-1.05 .6 .95 .6 3.45 .6 3.95 .6 2.3 .65 7.55 .6 1.35 .6 4.8 1.2 7.55 .65 6.4 .6 2.4 .6 4.7 .6 2.7 .6 5.2 .65 .6 .6 2.95 .6-1.15 .6 2.8 .6 1.45 .65 .05 .6 1.35 .6 .2 .6 1.1 .6-.2 .65 .25 .6 .75 .6-.45 .6-.05 .6 .35 .65-.2 .6-.05 .6 .3 .6 .05 .6-.3 .65 .4 .6-.4 1.2 .4 .6-.05 .65-.3 .6 .15 1.2-.25 .6 .4 .65 .25 .6-.5 .6-.1 1.2 .3 .65 .05 .6-.2 .6 .3 .6-.3 .6 .15 .65 .35 .6-.35V260 H391.2 Z" class="s2"/>
<path d="M413.15 193.5l.6-1.9 .65-6.6 .6-1.5 .6-5.05 .6-4.15 .6-6.7 .65-.55 .6-9.2 .6-1.35 .6 .75 .6-7.95 .65-.5 .6-5.15 .6-1.55 .6 2.3 .6 .5 .65-1.05 .6 .95 .6 3.45 .6 3.95 .6 2.3 .65 7.55 .6 1.35 .6 4.8 1.2 7.55 .65 6.4 .6 2.4 .6 4.7 .6 2.7 .6 5.2" class="p2"/>
</g></g>
<g clip-path="url(#cr)"><g filter="url(#bl)">
<path d="M471.2 91.35l.6 .1 .6-.15 .65 .05 .6-.15 1.2-.1 .6 .3 .65-.3 1.2 .6 1.2-.45 1.25 .3 .6-.3 .6 .25 .6-.45 .65 .1 .6 .35 .6-.35 .6 .4 .6-.3 .65 .15 1.2-.25 .6 .3 .6-.15 .65 .15 .6-.35 .6-.15 .6 .35 1.25 0 .6 .1 .6-.05 .6-.35 1.85 .1 1.2-.2 .6-.7 .65 .15 1.8-2.2 .6-1.45 1.85-5.7 1.2-5.65 .65-3.3 1.2-5 .6-3.75 .6-2.1 .65-1.65 .6-1.05 .6 1.2 .6 .1 .6-.55 .65 1.2 .6 2 .6 1.25 .6 2.15 .6 1.25 .65 2.75 .6 1.05 .6 2.7 .6 1.75 1.25 4.1 1.8 4.4 .6 1.75 .65 .4 .6 1.2 .6 1.05 .6 .25 .6 .55 .65 .75 .6 0 .6 .2 .6 .65 .6 .1 .65 .35 .6-.2 .6 .35 .6-.15 .6-.05 .65 .4 .6 0 .6-.3 1.85 .25 1.2-.15 .6 .3 .6-.15 .65-.3 1.2 .15 .6 .25 .6 0 .65-.3V260 H471.2 Z" class="s2"/>
<path d="M499.85 86.7l1.85-5.7 1.2-5.65 .65-3.3 1.2-5 .6-3.75 .6-2.1 .65-1.65 .6-1.05 .6 1.2 .6 .1" class="p3"/>
<path d="M471.2 93.7l.6-.1 .6 .05 .65-.05 .6-.2 .6-.05 .6 .4 .6-.35 .65 .2 .6 .05 .6-.15 .6 .2 .6 0 .65 .15 .6-.3 1.2 0 .6-.2 .65 .25 .6-.2 1.2 .2 .6-.05 .65-.2 .6 .35 1.2-.3 .6 .15 .65 .2 .6-.25 .6 0 .6 .15 .6 0 1.25-.35 .6 .15 .6-.15 .6 .4 1.25-.4 .6-.45 1.2 .1 .65-.55 .6-.7 .6-1.3 .6-.5 1.25-2.7 1.8-7 1.25-6.75 .6-3 .6-2.5 .6-2.05 .6-2.55 .65-2.05 .6 .35 .6-1.05 .6 .7 .6 .5 .65 1.6 .6 .75 1.2 4.15 .6 1.65 1.25 4.35 .6 1.6 .6 2.65 .6 1.6 .65 2 1.8 4.9 .6 .9 .65 1.3 .6 .75 1.8 1.85 .65 .4 .6 .15 .6 .45 .6 .1 .6 .2 1.25 .15 .6-.05 .6 .45 .6-.1 .65-.2 1.2 .05 .6 .25 .6-.35 .65 .3 .6-.2 .6 0 .6-.1 .6 .25 .65 .15 .6-.15 1.2-.35 .6 .2 .65 .15V260 H471.2 Z" class="s2"/>
<path d="M499.85 88.5l.65-1.3 1.8-7 1.25-6.75 .6-3 .6-2.5 .6-2.05 .6-2.55 .65-2.05 .6 .35 .6-1.05" class="p3"/>
<path d="M471.2 95.5l.6 .25 .6-.15 1.25-.1 .6 .4 1.2-.4 .65 .1 .6-.25 .6 .1 .6 0 .6 .3 .65 .15 .6-.3 .6 .3 .6-.35 .6 .35 1.85-.25 .6-.35 .6 .4 .65-.1 1.2 .2 1.2-.15 .65 .15 1.2-.2 .6 .2 .6-.2 .65 0 .6 .25 .6-.2 .6 0 .6-.2 1.25 .4 .6-.4 .6-.2 .6-.5 .65-.15 .6-1 1.2-1.55 .6-.9 .65-1.95 .6-2.35 .6-2.7 .6-2.1 .6-3.65 .65-3.05 .6-2.55 1.2-6.05 .6-1.8 1.25-1.95 .6 .3 .6 .65 1.85 3.5 .6 1.45 .6 1.9 .6 3 .65 1.3 1.2 4.1 .6 2.85 .6 1.65 1.25 2.8 .6 1.8 .6 1.4 .6 1.2 .65 .75 1.2 1.8 .6 .7 1.25 .6 .6 .55 .6-.15 .6 .3 .6-.25 1.25 .3 .6 0 .6-.1 1.25 .25 .6-.2 .6 .4 .6-.2 .6 .15 .65-.15 .6-.05 1.2 .1 .6-.1 .65 .15 .6-.1 .6 .35 .6-.05 .6-.35 .65 .3V260 H471.2 Z" class="s2"/>
<path d="M499.85 91.15l.65-1.95 .6-2.35 .6-2.7 .6-2.1 .6-3.65 .65-3.05 .6-2.55 1.2-6.05 .6-1.8 1.25-1.95 .6 .3" class="p3"/>
<path d="M471.2 97.95l.6-.05 .6 .2 .65-.4 .6 .15 1.2 .15 .6-.2 .65 .1 .6 .05 .6-.15 .6 .2 .6 .05 .65-.25 .6 .3 .6-.3 1.2 .15 .65-.05 .6 .15 .6-.3 .6 .15 .6-.1 .65 .4 .6-.05 .6-.3 1.2 .2 .65-.2 .6-.3 .6 .25 .6 .05 .6-.1 1.25 .1 .6-.05 .6 .15 .6 0 .65-.35 .6-.1 .6 .2 1.2-.45 .65-.7 .6-.35 .6-.75 .6-1.2 1.25-2.85 .6-2.75 .6-1.75 .6-2.7 1.25-5.7 1.2-6.4 .6-2.6 .6-1.35 .65-2.25 .6-.45 .6 .15 .6 .95 .6 .2 .65 1.45 1.8 5.5 .6 2.65 .65 1.65 1.2 4.75 .6 1.65 .6 2.2 1.25 3.2 1.2 3 .6 .55 1.25 2.3 .6-.05 .6 .8 .6 .7 .65-.05 .6 .65 .6-.25 .6 .25 1.25-.05 .6 .25 .6 0 .6-.25 .6 .25 .65 .1 1.2 .05 .6-.05 .6 .15 .65-.4 .6 0 .6 .2 .6 .1 .6-.05 .65-.2 1.2 .25 .6-.2 1.25 .1V260 H471.2 Z" class="s2"/>
<path d="M499.85 92.9l.65-1.5 .6-2.75 .6-1.75 1.2-5.45 1.85-9.35 .6-2.6 .6-1.35 .65-2.25 .6-.45 .6 .15" class="p3"/>
<path d="M471.2 100.05l.6 .35 .6-.3 .65-.1 .6 .25 .6-.25 .6 .25 .6-.25 .65 .2 .6-.15 .6 0 .6 0 .6-.25 .65 0 .6 .45 .6 .15 .6-.5 .6 .1 .65 .2 .6-.15 .6 .15 .6-.4 .6 .35 .65-.2 .6 .3 .6-.2 .6 .1 .6-.05 .65-.15 .6 .35 .6-.2 .6 .1 .6 .25 1.25-.55 .6-.15 .6 .05 .6 .3 .65-.35 .6 .05 .6-.15 .6 0 1.25-.85 1.2-1.5 1.2-2.35 .65-1.35 1.2-4.75 .6-2.95 .6-2.35 .65-3.45 1.2-5 .6-3.3 .6-1.1 .65-1.85 .6-1 .6 1 .6-.7 .6 1.8 .65 1 .6 1.6 .6 1.95 .6 1.6 .6 2.55 .65 2 .6 2.8 .6 2.2 .6 1.55 .6 2.3 .65 1.3 1.2 3.25 .6 1.35 1.25 1.55 .6 .45 .6 .95 1.2 .7 1.85 .7 .6 .1 1.25 .05 .6 .15 .6-.15 1.2-.05 .65 .1 .6 .35 .6-.1 .6-.25 .6 .25 .65 .05 .6 0 .6-.3 .6 .2 .6-.4 .65 .25 1.2 .25 1.2-.25 .65 .15V260 H471.2 Z" class="s2"/>
<path d="M499.85 94.95l.65-1.35 1.2-4.75 .6-2.95 .6-2.35 .65-3.45 1.2-5 .6-3.3 .6-1.1 .65-1.85 .6-1 .6 1" class="p3"/>
<path d="M471.2 101.85l1.2 .45 .65-.05 .6-.3 1.2 .5 .6-.45 1.25 .35 .6-.35 .6 .45 .6-.2 .65-.05 .6 .2 .6 0 .6-.05 .6-.15 .65 .35 .6-.35 .6 .1 .6-.1 .6 .05 .65 0 .6 .15 .6-.15 .6 .2 .6-.35 .65 .05 .6 .3 .6-.25 .6-.1 1.25 .1 1.2-.05 1.85-.15 .6 .2 .6-.1 .6-.3 .6-.2 .65-.55 .6-.45 .6-.95 1.2-2.2 1.25-3.6 .6-2.8 .6-2.3 1.85-9.75 .6-2.05 .6-2.55 .6-1.9 .65-1.05 .6-.5 .6-.15 .6 1.15 .6 .65 .65 1.2 .6 .7 .6 2.75 .6 1.4 1.25 4.9 .6 2.9 1.2 3.35 .6 2.35 .65 1.45 .6 1.85 .6 1.15 1.2 1.9 1.25 1.7 .6 .4 .6 .5 .6 .3 1.25 .4 .6 0 1.2 .5 .65-.05 .6 .05 .6 .2 .6-.4 .6 .2 1.25-.1 .6-.15 1.2 .2 1.25-.2 .6 .3 .6-.15 .6-.05 .65 .35 .6-.25 .6 0 .6 .35 .6-.2 .65-.1V260 H471.2 Z" class="s2"/>
<path d="M499.85 97.45l1.25-3.6 .6-2.8 .6-2.3 1.85-9.75 .6-2.05 .6-2.55 .6-1.9 .65-1.05 .6-.5 .6-.15" class="p3"/>
<path d="M471.2 104.25l1.85 .5 .6-.3 1.2 .1 1.25-.05 .6-.1 .6 .2 1.85-.1 .6 .2 .6-.5 .6 0 .6 .4 .65-.25 .6 .3 1.2-.6 .6 .35 .65-.1 .6 .45 .6-.35 .6 .1 .6 .2 .65-.2 .6 .05 .6-.25 .6 .25 1.85-.15 .6 .15 .6-.3 .6 .05 1.25-.05 .6 .05 .6-.35 .6-.2 .65-.3 1.8-2.55 1.25-2.55 .6-2.1 1.2-5.2 .6-3.4 .65-2.95 .6-2.2 1.2-5.3 .6-.95 .65-1.85 .6-.95 .6-.3 .6 .65 1.25 2.05 .6 1.45 .6 2.7 1.2 3.25 1.85 7.15 1.85 5.6 .6 .85 .6 2.25 1.2 2 .65 .4 1.2 1.35 1.85 1.05 .6 0 .6 .3 .6-.1 .6 .35 .65 0 .6-.35 1.2 .3 .6-.05 .65 0 .6 .5 .6-.15 .6-.3 .6 .1 1.25-.1 .6-.15 .6 .45 .6-.15 .65 .15 .6-.25 .6 .4 .6-.15 .6 0 .65-.5V260 H471.2 Z" class="s2"/>
<path d="M499.85 99.55l.65-1.2 .6-2.1 1.2-5.2 .6-3.4 .65-2.95 .6-2.2 1.2-5.3 .6-.95 .65-1.85 .6-.95 .6-.3" class="p3"/>
<path d="M471.2 106.95l1.2-.75 .65 .65 .6-.1 .6-.15 1.2 .05 .65-.05 .6 .1 .6-.1 .6 .15 .6 .5 .65-.7 .6 .15 1.2 .1 1.25-.1 .6 .05 .6-.1 .6-.2 .6 .3 1.85-.05 .6-.2 .6 .25 .65-.1 .6 .2 1.2-.45 1.25 .35 .6-.25 .6 .25 .6-.1 1.25 0 .6-.25 .6 .05 .6-.05 1.25-1.1 1.2-.95 .6-1 .6-1.65 .65-1.4 .6-1.75 1.2-5 .6-3.25 .65-2.5 .6-3.4 .6-1.75 .6-2.8 .6-2.1 .65-1.35 .6-.45 .6-.2 .6 .8 .6 .95 .65 .7 .6 2.05 .6 1.15 1.2 4.75 1.25 4.1 .6 1.8 .6 2.9 .6 .95 .65 2.35 1.2 2.3 .6 1.5 .6 1.05 1.25 1.55 .6 .3 1.2 .75 1.25 .4 .6 .05 1.85 .4 .6-.2 .6 .3 .6 .15 .6-.1 .65-.35 .6 .4 .6 0 .6 .2 .6-.45 .65 .25 .6 0 .6-.3 2.45 .3 .6 0 .6-.25 1.25 .1V260 H471.2 Z" class="s2"/>
<path d="M499.85 101.7l.65-1.4 .6-1.75 1.2-5 .6-3.25 .65-2.5 .6-3.4 .6-1.75 .6-2.8 .6-2.1 .65-1.35 .6-.45 .6-.2" class="p3"/>
<path d="M471.2 109.1l.6-.45 .6-.05 .65 .35 .6-.25 .6 .15 .6-.2 .6 .35 .65 .1 .6-.4 .6-.15 .6 .25 1.25 .3 .6-.1 .6-.25 .6 .2 .6-.3 .65 .25 .6 .05 .6 .1 1.2-.1 .65 .05 .6-.15 .6 .15 .6-.15 .6 .15 .65-.45 .6 .4 .6 0 .6-.5 .6 .5 .65-.05 .6 .05 1.2-.2 .6-.05 .65-.2 .6 0 .6 .2 1.85-1.05 .6-.7 .6-.15 .6-1.5 .6-1 .65-1.8 .6-2.05 .6-2.4 .6-1.8 2.45-11.65 .6-2.6 .6-1.75 .65-1.5 .6-.25 .6-1.05 .6 1.4 .6 .4 .65 1.95 1.2 2.7 .6 2.5 .6 .8 1.25 5.45 .6 1.55 .6 1.8 .6 2.25 1.25 3.35 .6 1.3 .6 .85 .6 1.25 .65 .8 .6 .4 .6 .8 .6 .6 .6 .4 1.85 .65 .6-.35 1.25 .5 .6 .15 1.2-.05 1.25-.3 .6 .1 .6 .25 .6 .05 1.25-.2 1.2 .1 .6-.3 1.25 .25 1.2-.05 .6 .2 .6-.05 .65 .15V260 H471.2 Z" class="s2"/>
<path d="M499.85 104.3l.65-1.8 .6-2.05 .6-2.4 .6-1.8 2.45-11.65 .6-2.6 .6-1.75 .65-1.5 .6-.25 .6-1.05" class="p3"/>
<path d="M471.2 111l.6 0 .6-.05 .65 .35 .6-.35 .6-.1 1.2 .25 .65 0 .6-.1 .6 .05 .6 .2 .6-.1 .65-.2 .6-.1 .6-.05 .6 .4 .6 0 .65-.15 .6 .15 .6-.5 .6 .6 .6-.45 .65 .25 .6-.25 1.2 .1 .6 .15 .65 .05 .6-.05 .6-.25 .6 .2 .6-.1 1.25 .3 .6-.4 .6 .45 .6-.3 .65-.2 .6 .1 .6-.3 .6-.05 1.25-.55 .6-.45 .6-.6 .6-1.1 1.25-2.6 .6-2.15 .6-2.75 1.85-7.3 .6-2.95 .6-3.45 .6-1.55 .6-2.3 .65-1.5 .6-.5 .6-.1 .6 .05 .6 .2 .65 1.85 .6 1.25 1.2 4.3 .6 1 1.85 6.85 .6 1.85 .6 1.25 .65 2.55 1.2 2.4 .6 1.75 .6 .95 .65 .55 .6 .95 1.2 .95 .6 .3 .65 .5 .6-.05 1.2 .4 .6 .15 .65 .25 .6-.1 1.2 .2 .6-.3 .65 .35 .6 .15 .6 .1 .6-.4 .6 .05 .65 .1 .6 .3 1.2-.45 .6 .2 .65-.3 .6 .3 .6-.05 .6-.15 .6 .5 .65-.55V260 H471.2 Z" class="s2"/>
<path d="M500.5 105.25l.6-2.15 .6-2.75 1.85-7.3 .6-2.95 .6-3.45 .6-1.55 .6-2.3 .65-1.5 .6-.5 .6-.1" class="p3"/>
<path d="M471.2 113.3l.6 .05 .6-.15 1.25-.05 .6-.1 .6 .2 .6 .15 .65 0 .6-.3 .6-.1 .6 .35 .6-.4 .65 .3 .6 0 .6-.1 .6 .35 .6-.45 .65 .15 .6 .05 .6-.1 .6 .15 .6-.05 .65 .05 .6-.25 .6 .15 1.2-.15 .65 .2 .6-.5 .6 .5 .6 .2 .6-.3 .65 .15 .6-.3 .6 .15 1.2 .15 .65-.55 .6 .1 .6-.25 .6-.05 .6 .2 1.85-1.45 .6-.9 .6-1.8 .65-1 1.2-4 .6-2.6 .6-3 .65-2.25 .6-3.65 .6-2.35 1.2-4.45 1.25-2.75 .6 .6 .6-.6 1.25 2.4 1.2 3 .6 2.15 .6 1.6 .65 2 .6 1.65 1.2 4.15 1.25 3.55 1.2 2.7 .6 1.55 .6 1.2 .65 .95 .6 .45 .6 .85 .6 .65 .6 .2 1.25 .85 .6 .3 1.2 .25 .65 .25 1.2-.15 .6 .1 .6-.25 .65 .4 .6-.35 .6 .3 .6-.05 .6 .2 .65-.3 .6 .05 .6 .15 .6 0 .6-.35 .65 .4 .6-.25 .6 .1 .6-.1 1.25-.05V260 H471.2 Z" class="s2"/>
<path d="M500.5 107.6l1.2-4 .6-2.6 .6-3 .65-2.25 .6-3.65 1.8-6.8 1.25-2.75 .6 .6 .6-.6" class="p3"/>
<path d="M471.2 115.15l.6 .15 .6 .3 .65-.4 .6 .35 1.8-.15 .65 .3 .6-.35 .6 .15 .6-.15 .6 .3 .65-.55 .6 .2 .6-.05 .6 .25 .6-.2 .65 .35 .6-.05 .6-.25 .6-.15 .6 .3 .65-.25 .6 .05 .6 .3 1.2 .15 .65-.4 .6 .05 .6-.1 1.2 0 .65 .4 1.2-.25 .6-.25 1.25 .2 1.8-.5 .6-.25 1.25-.8 .6-.85 .6-.55 .6-1.45 .65-1.05 .6-1.65 .6-2.1 .6-2.8 1.25-4.95 .6-3.4 .6-2.85 .6-2.1 .6-2.5 .65-1.05 .6-1.55 .6 .7 .6-.55 1.25 2.45 1.2 2.05 .6 1.75 .6 2.1 .65 1.8 .6 1.3 1.8 6.4 .65 1.25 1.2 3.4 1.2 2.3 1.25 2.05 .6 .7 .6 .3 1.25 1.1 .6 .2 .6 .35 .6 .4 .6-.05 1.25 .4 .6-.1 1.85 .3 .6-.2 .6-.3 .6 .25 1.25 .05 .6-.05 .6 .15 .6 0 .6 .1 .65-.2 1.8 .15 .6-.25 .65 0V260 H471.2 Z" class="s2"/>
<path d="M500.5 109.95l.6-1.65 .6-2.1 .6-2.8 1.25-4.95 .6-3.4 .6-2.85 .6-2.1 .6-2.5 .65-1.05 .6-1.55 .6 .7 .6-.55" class="p3"/>
<path d="M471.2 117.75l.6-.05 .6-.15 .65 .1 1.2-.05 1.2 .05 .65-.2 .6 .35 .6-.3 .6-.05 .6 .15 .65-.05 .6 .05 .6-.1 .6 .25 .6-.2 2.45-.05 .6 .3 .65 0 .6-.35 .6 .25 .6-.05 .6 .1 .65-.25 .6 .25 1.8-.2 .65 .45 .6-.55 .6-.05 .6 .25 1.85-.2 .6-.35 1.2-.1 .65-.15 1.2-1.35 .6-.5 .6-1.5 .65-1.9 .6-1.2 .6-2.05 .6-2.5 .6-2.1 .65-3 .6-3.7 1.2-4.9 1.25-3.15 .6-1.25 .6-.1 .6-.3 .6 1 .65 .7 .6 .8 .6 1.85 .6 1.3 .6 2 .65 1.65 1.2 3.8 .6 1.65 .6 2.2 .65 1.35 .6 1.9 .6 1.3 .6 1.15 .6 1.35 .65 .95 .6 1.15 .6 .55 .6 .75 .6 .5 .65 .7 1.2 .5 .6 .1 .6 .7 .65 .05 .6 .15 .6 .05 .6 .1 .6-.15 1.85 .25 1.2-.15 .65-.4 .6 .45 .6-.1 1.2-.1 1.25 .25 .6 0 .6-.2 .6 .05 .65 .2V260 H471.2 Z" class="s2"/>
<path d="M500.5 111.6l.6-1.2 .6-2.05 .6-2.5 .6-2.1 .65-3 .6-3.7 1.2-4.9 1.25-3.15 .6-1.25 .6-.1 .6-.3" class="p3"/>
<path d="M471.2 119.7l.6 .05 .6 .25 .65-.05 .6-.3 .6-.2 .6 .3 1.25 .25 3.65-.35 .6 .1 .6 .4 .6-.3 .65-.05 .6-.25 .6-.05 .6 .35 .6-.05 1.25 .1 .6-.1 .6 .05 .6-.05 1.25 .15 .6-.3 .6 .3 .6-.15 .65 0 .6 .25 .6-.25 .6 .15 .6-.2 .65-.1 .6 .25 .6-.2 .6-.15 .6-.5 .65-.05 .6-.5 .6-.8 .6-1.05 .6-.8 .65-1.1 .6-2.05 .6-2.5 .6-1.95 1.25-5.4 1.2-5 .6-3.15 .6-1.6 .65-1.95 .6-1.15 .6 .35 .6-.6 .6 .9 .65 .35 .6 1 1.8 4.05 1.25 3.6 .6 2.3 .6 1.75 .6 2.4 .65 .95 1.2 3.65 .6 .9 1.25 2.75 .6 .6 1.2 1.8 .6 .65 .65 .35 .6 .55 .6-.05 .6 .4 .6 .45 .65-.05 .6 .2 .6 .35 .6-.1 .6 .35 .65-.15 .6 .35 1.2-.55 .6 .05 .65 .3 .6-.1 .6 .15 .6-.15 .6 .2 .65-.3 .6 .15 .6 .3 .6-.25 .6-.05 .65 .1V260 H471.2 Z" class="s2"/>
<path d="M500.5 114.75l.6-2.05 .6-2.5 .6-1.95 1.25-5.4 1.2-5 .6-3.15 .6-1.6 .65-1.95 .6-1.15 .6 .35 .6-.6" class="p3"/>
<path d="M471.2 121.95l.6-.15 .6 .05 .65-.1 .6 .2 .6 0 .6-.3 .6 .3 .65 .1 .6-.25 .6 .45 .6-.3 .6 .2 .65-.35 1.2 .2 1.2-.1 .65-.2 .6 .45 .6-.2 .6 .2 1.25-.2 .6 .05 .6 0 .6-.25 .6 .4 1.25-.15 .6 .1 .6-.15 .6-.05 .65 .05 .6 .2 .6-.4 .6 .35 1.25-.1 .6-.15 .6-.3 .6 .15 .6-.2 .65 .05 .6-.9 .6-.35 1.2-1.95 .65-1.2 .6-1.75 .6-2.2 .6-1.9 .6-2.9 .65-2.4 .6-3.15 .6-2.4 .6-3 1.25-4.25 .6-.9 .6-.1 .6 .05 1.25 1.35 .6 .55 .6 1.7 .6 .55 .6 1.4 2.45 7.25 .6 1.3 .65 2.55 .6 1.6 .6 1.1 1.2 2.7 .65 1.1 .6 1.3 1.8 2.3 .65 .55 .6 .4 1.2 .9 .6 .3 .65 .1 .6 0 .6 .45 .6-.2 .6 .3 .65-.05 .6 .05 .6 .3 .6-.25 .6 0 .65 .25 .6-.2 1.8 .2 .65 .15 1.2-.45 .6 .3 .6 0 .65-.3V260 H471.2 Z" class="s2"/>
<path d="M500.5 117.15l.6-1.75 .6-2.2 .6-1.9 .6-2.9 .65-2.4 .6-3.15 .6-2.4 .6-3 1.25-4.25 .6-.9 .6-.1 .6 .05" class="p3"/>
<path d="M471.2 124.1l.6 .15 1.25-.25 .6 0 .6 .5 .6-.5 1.25 .25 .6-.1 .6 .3 .6-.3 .6 .25 .65-.35 .6-.15 .6 .3 .6 0 1.25-.1 .6 .2 1.2-.3 .6 .25 .65-.2 .6 0 .6 .35 .6 .05 .6-.3 .65-.05 1.2 .25 .6-.45 .6 .15 .65-.1 .6 .45 1.2-.35 .6 .3 .65-.1 .6-.3 .6 .1 .6-.1 .6-.45 .65-.05 .6-.55 .6-.4 1.2-1.95 .65-1.1 1.2-3.85 1.2-4.15 .65-3.3 .6-2.55 1.2-5.65 .6-2.1 .65-1.6 .6-1.3 .6 .35 .6-1.05 .6 .05 .65 1.25 .6 .15 .6 1.8 1.2 1.75 1.25 4.3 .6 .95 1.2 3.65 .65 2 .6 1.1 .6 1.6 1.85 4.05 .6 .9 .6 1.4 .6 .85 1.25 1.5 .6 .35 .6 .7 .6 .1 .6 .3 .65 .05 .6 .6 .6-.15 .6 .3 .6-.1 .65 .1 .6 .4 .6-.25 .6 .3 .6-.2 .65 .15 .6-.3 .6 0 .6 .45 1.25-.3 .6-.05 .6 .1 1.2 .45 .65-.35V260 H471.2 Z" class="s2"/>
<path d="M500.5 119.45l1.2-3.85 1.2-4.15 .65-3.3 .6-2.55 1.2-5.65 .6-2.1 .65-1.6 .6-1.3 .6 .35 .6-1.05" class="p3"/>
<path d="M471.2 126.25l1.2 .3 .65-.25 1.8 .1 .6 .3 .65-.5 1.2 .3 .6-.05 .6 .2 .65-.5 .6 .05 .6 .25 .6-.1 .6-.15 .65 .35 .6-.25 .6 .1 1.2-.25 1.25 .5 .6-.35 1.2 .15 .65-.25 1.2 .3 .6-.35 .6 .1 .65 .25 .6-.35 .6-.05 1.85 .3 .6-.25 .6 .45 .6-.7 .6-.3 .65-.05 .6-.2 1.2-1.45 .6-1.1 .65-1.5 .6-1.25 .6-2.25 .6-1.9 1.25-4.85 .6-3.65 .6-2.4 .6-2.95 .6-1.55 .65-2.4 .6-1.2 .6-.3 .6 .1 .6 .8 .65-.05 .6 1.5 .6 .6 1.2 2.3 .65 1.2 .6 2.4 .6 1 .6 2.4 .6 1.05 .65 1.45 .6 1.25 .6 1.45 .6 1.7 .6 1.3 .65 1.75 .6 .7 .6 1.45 .6 .05 .6 1.5 .65 .55 .6 .4 .6 .65 .6 .55 .6 .2 .65 .3 .6 .55 1.8 .15 .65 .15 .6 .25 .6-.05 1.2 .1 .65-.15 .6 .35 .6-.3 1.2 .3 .65-.3 .6 .3 .6-.1 .6 .05 .6-.25 .65 .05V260 H471.2 Z" class="s2"/>
<path d="M500.5 121.3l.6-1.25 .6-2.25 .6-1.9 1.25-4.85 .6-3.65 .6-2.4 .6-2.95 .6-1.55 .65-2.4 .6-1.2 .6-.3 .6 .1" class="p3"/>
<path d="M471.2 128.9l.6-.2 .6-.35 .65 .3 .6-.15 .6 .2 1.2-.25 .65-.05 .6 0 1.2 .2 .6 0 .65-.3 .6 .4 .6 .05 .6-.35 1.25 .2 .6-.2 .6 .35 1.2-.3 .65 .15 .6-.05 .6-.2 .6-.15 .6 .45 .65 .3 .6-.3 .6 .15 .6-.2 .6-.05 .65 .15 .6-.25 .6 .15 1.2-.1 .65-.2 .6 .2 .6-.55 .6 .35 .6-.3 .65-.05 1.8-1.85 1.25-2.05 1.8-5.45 .6-2.7 .65-2.1 .6-3.5 .6-2.25 .6-3.25 1.25-4.2 .6-1.65 .6 0 .6-.5 .6 .25 .65 .55 .6 1.4 .6 .85 .6 .35 .6 1.8 .65 1.2 .6 1.8 1.2 2.6 .6 2.2 1.25 3.55 .6 .8 .6 2.45 .6 1.05 1.25 1.9 .6 1.55 1.2 1.65 .65 .35 1.2 1.5 .6 .25 .6 .7 .65-.45 .6 .9 .6 .1 .6 .5 1.25 .1 .6 .1 .6-.35 .6 .3 .6 .15 .65 0 .6 .1 .6-.3 .6 .25 .6 .05 .65 .25 .6-.1 .6-.5 .6 .35 .6-.2 .65 .05V260 H471.2 Z" class="s2"/>
<path d="M500.5 124.05l1.8-5.45 .6-2.7 .65-2.1 .6-3.5 .6-2.25 .6-3.25 1.25-4.2 .6-1.65 .6 0 .6-.5" class="p3"/>
<path d="M471.2 130.85l.6-.25 .6 .15 1.25 .15 .6-.05 .6-.2 .6 .1 .65-.05 .6 .4 .6-.45 .6-.05 1.25 .3 .6-.25 .6 .25 .6-.3 .6 .25 .65-.3 1.2 .2 .6-.2 .6 .4 .65-.05 .6-.25 .6 .15 .6 .25 .6-.3 .65-.1 .6 0 .6 .2 .6-.2 .6 .15 .65-.25 .6 .35 .6-.1 .6 .1 2.45-.35 .6-.2 .6-.1 .65 .1 .6-.85 .6-.45 .6-.65 .6-1.05 1.25-2.75 .6-1.8 .6-2.35 1.85-7.85 .6-2.2 .6-2.6 .6-3.25 .65-1.65 .6-.95 .6-1.45 .6-.3 .6 1.4 .65-.4 .6 1.5 1.2 1.95 .6 1.3 .65 .85 .6 2.4 1.2 2.8 .6 1.15 .65 2.45 .6 .75 .6 1.9 .6 1.55 .6 .85 .65 1.65 1.2 1.8 .6 1.2 2.45 3 2.45 1.35 .6 0 .6 .35 .6 .05 .65 .15 .6 .4 .6-.05 .6 .2 1.25-.15 .6 .1 .6-.25 1.2 .55 .65-.3 .6 .2 .6-.1 .6-.05 1.25 .2V260 H471.2 Z" class="s2"/>
<path d="M500.5 126.05l.6-1.45 .6-1.8 .6-2.35 1.85-7.85 .6-2.2 .6-2.6 .6-3.25 .65-1.65 .6-.95 .6-1.45 .6-.3" class="p3"/>
<path d="M471.2 132.65l.6 .35 .6-.2 .65 .2 .6-.15 1.2 0 .6 .1 1.85-.15 .6 .4 .6-.6 .65 .4 .6-.35 1.2 .15 .6-.05 .65 .05 .6-.15 .6 .4 .6-.1 .6 .05 .65 0 .6-.3 .6 .2 .6 0 .6-.1 .65 .35 .6-.2 .6 .05 .6-.2 .6 0 .65 .1 1.8-.05 .6 .25 .65-.2 .6-.1 1.2-.1 .6-.2 1.25-.8 1.2-1.05 .6-.85 1.25-2.65 1.2-4.25 .6-2.4 .65-3.1 1.2-4.7 1.2-5.8 .65-1.2 .6-2.35 .6-.4 .6 0 .6 .35 .65 .15 .6 1.7 .6 1.15 .6 .3 .6 1.6 .65-.05 .6 2.8 .6 1.05 .6 2.3 .6 1 .65 1.35 .6 1.75 1.2 3.2 .6 1 .65 2.1 1.8 2.75 .6 1.15 .65 .6 .6 .45 1.2 1.15 .6 .65 .65-.05 .6 .5 .6 .35 .6-.2 .6 .2 .65 .35 .6 .1 2.45 .15 .6-.15 .6 .25 .6 .15 .6-.05 .65-.1 .6-.2 .6 .25 .6 .05 .6-.15 .65-.05V260 H471.2 Z" class="s2"/>
<path d="M501.1 127.15l1.2-4.25 .6-2.4 .65-3.1 1.2-4.7 1.2-5.8 .65-1.2 .6-2.35 .6-.4 .6 0" class="p3"/>
<path d="M471.2 135.5l.6-.55 .6 .3 .65-.1 .6 .1 .6-.2 .6-.1 .6 .2 .65-.45 .6 .25 .6-.1 1.85 .35 1.8-.15 .6 .05 .65 .1 .6-.15 .6 .25 .6-.25 .6 .15 .65-.25 1.8 .25 .6 .2 .65-.2 1.2 .15 .6-.3 2.45 .25 .6-.25 1.25 .25 .6-.3 1.2-.1 .6-.65 .65 0 .6 .1 1.2-1.7 1.25-2 1.2-3.05 1.85-7.75 .6-2.9 .6-2.4 .6-3.05 .6-2.4 .65-1.8 .6-1.3 .6-.2 .6-.8 .6 .35 .65 .9 .6 .3 .6 1.5 1.85 3.15 .6 1.25 .6 1.95 .6 .8 .6 2.3 .65 1.95 .6 1.1 .6 2 .6 .65 .6 2 .65 1.5 .6 .75 .6 .95 .6 1.65 .6 .7 .65 .35 .6 1.2 .6 .4 .6 .3 .6 .5 .65 .15 .6 .55 .6 .1 .6 .35 .6-.25 .65 .25 1.2 .3 .6 .35 .6-.3 .65 0 1.2 .25 .6-.15 .6 0 .65 .15 .6-.4 1.2 .25 .6 .25 .65-.1V260 H471.2 Z" class="s2"/>
<path d="M501.1 129.25l.6-1.65 1.85-7.75 .6-2.9 .6-2.4 .6-3.05 .6-2.4 .65-1.8 .6-1.3 .6-.2 .6-.8" class="p3"/>
<path d="M471.2 137.5l1.85-.15 .6 .25 .6-.6 .6 .35 .6 .05 .65-.05 .6 .05 .6 0 .6-.15 .6 .3 .65-.35 .6 .1 .6-.15 .6-.05 .6 .05 .65 .35 .6-.4 .6 .4 1.2-.4 .65 .1 .6-.05 .6 .1 .6-.15 .6 .25 .65-.3 .6 .05 .6 .2 .6 .3 .6-.4 1.25 .1 .6-.1 .6 .15 .6 .1 1.25-.3 1.2 .05 .6-.55 .65 .25 .6-.75 .6-.6 .6-.35 .6-1.2 .65-1.5 .6-.85 .6-2.45 .6-1.85 .6-2.2 .65-3.15 .6-2.5 .6-3.4 .6-1.9 .6-3.1 1.25-2.8 .6-.85 .6 .35 .6 0 .65 .65 .6 .25 .6 1.6 .6 .1 .6 1.75 1.25 2.75 .6 2 .6 1.15 .6 2.15 1.25 3.05 .6 2.4 .6 .75 .6 1.5 1.85 2.8 .6 1.4 .6 .5 .65 1 1.2 1.4 .6 .45 .6 .2 .65 .45 .6 0 .6 .4 .6 .25 .6 0 1.25 .3 1.8 .05 .65-.2 .6 .45 .6-.45 1.2 .35 .65 .15 .6 .05 .6 .2 .6-.5 .6 .4 .65-.1V260 H471.2 Z" class="s2"/>
<path d="M501.1 131.65l.6-2.45 .6-1.85 .6-2.2 .65-3.15 .6-2.5 .6-3.4 .6-1.9 .6-3.1 1.25-2.8 .6-.85 .6 .35" class="p3"/>
<path d="M471.2 139.55l.6 .2 .6-.25 .65-.1 .6 .1 1.8 .05 .65 .15 1.2-.3 .6 0 .6 .2 .65-.1 .6-.2 .6 .25 2.45-.05 .6 .15 3.05-.15 1.2 .35 .65-.2 1.2-.2 1.2 .2 .65-.15 1.2-.05 .6-.25 1.25 .4 .6-.5 .6 .3 .6-.15 .6-.4 .65-.1 .6-.25 .6-.85 .6-.5 .6-1 .65-.75 .6-2.2 .6-1.6 .6-2.05 .6-2.95 .65-2.1 .6-3.65 .6-2.4 .6-2.8 .6-2.3 1.25-2.75 .6-.95 .6-.25 .6 .45 .65 .7 .6 .6 .6 .75 .6 1.6 .6 1.15 .65 1.5 1.2 3.45 .6 1.3 .6 1.85 .65 1.35 1.2 3.4 .6 1.1 .6 1.55 .65 1.25 .6 .95 1.2 2.55 .6 .25 .65 .9 .6 .6 1.8 1.5 1.25 .7 .6-.25 .6 .5 .6-.05 .65 .35 .6-.25 .6 .35 .6-.4 .6 .25 1.25 .2 .6-.25 1.2 .2 .65-.05 1.2 .35 .6-.45 .6 .2 .65-.25V260 H471.2 Z" class="s2"/>
<path d="M500.5 135.4l.6-2.2 .6-1.6 .6-2.05 .6-2.95 .65-2.1 .6-3.65 .6-2.4 .6-2.8 .6-2.3 1.25-2.75 .6-.95 .6-.25" class="p3"/>
<path d="M471.2 141.65l1.2 .3 .65-.45 .6 .15 .6 0 .6 .2 1.25-.35 .6 .35 .6-.25 .6 .1 .6-.05 .65 .2 .6-.35 1.2 .4 .6-.25 .65 .25 .6 .1 .6-.3 .6-.05 .6 .15 .65 .05 .6-.55 .6 .55 .6-.15 .6 .05 .65-.2 .6 .1 .6-.2 .6 .15 .6-.05 .65 .15 1.2-.1 .6 .4 .6-.25 .65-.35 .6 .35 .6-.1 .6-.5 .6 .25 .65-.2 .6-.5 1.8-2.25 .65-1.1 .6-1.65 1.2-3.95 .6-2.3 1.25-6.25 .6-2.3 1.2-5.15 .65-1.65 .6-1.15 .6-.85 .6 0 .6 .35 .65-.05 .6 1.95 .6 .65 .6 1.05 .6 1.65 1.25 2.2 .6 1.35 .6 2.25 .6 1 .65 3 .6 1.7 .6 1.15 .6 .5 .6 2.1 .65 .8 1.2 2.6 .6 .65 .6 .95 .65 .5 .6 .9 .6 .3 .6 .15 .6 .3 .65 .5 .6 .3 .6 .2 .6 .3 .6 0 .65-.15 .6 .5 .6-.15 .6 0 .6 0 .65 .2 .6 0 .6-.2 .6 0 .6 .1 1.25 0 .6-.1 .6 .2 .6-.25 .65 .1V260 H471.2 Z" class="s2"/>
<path d="M500.5 137.35l.6-1.65 1.2-3.95 .6-2.3 1.25-6.25 .6-2.3 1.2-5.15 .65-1.65 .6-1.15 .6-.85 .6 0" class="p3"/>
<path d="M471.2 144l.6 0 .6-.15 .65 .2 .6-.3 .6 .3 .6-.15 2.45-.05 .6 .05 .6 0 .65 .3 .6-.5 .6 .1 .6 .45 .6-.5 .65 .25 .6-.2 .6 .15 .6-.15 .6 .05 .65-.25 1.2 .3 .6-.05 .6 .25 .65-.35 .6 .2 .6-.1 1.2 .15 .65-.2 .6-.05 1.2 .05 2.45-.15 .6-.3 .6 0 .65-.2 .6-.45 1.2-1.6 .6-.6 1.25-2.65 1.2-4.4 1.25-4.8 .6-3.3 .6-2.25 .6-2.95 .6-2.15 .65-1.65 .6-1.5 .6-.25 .6-.05 .6-.45 .65 1.55 .6 .6 1.8 3.55 1.25 2.9 .6 2.1 .6 1.3 .6 2.3 .65 1.25 .6 1.7 .6 2 .6 1 1.85 3.85 .6 .9 .6 .6 1.25 1.6 1.2 .9 .6 .1 .6 .25 1.25 .9 .6-.3 .6 .55 .6-.15 .65 .1 .6 .25 .6-.2 .6 .1 .6-.25 .65 .1 .6-.05 .6 .4 .6-.2 .6 .35 .65-.4 .6 .05 .6 .3 1.2-.15 .65 .05V260 H471.2 Z" class="s2"/>
<path d="M500.5 139.1l.6-1.25 1.2-4.4 1.25-4.8 .6-3.3 .6-2.25 .6-2.95 .6-2.15 1.25-3.15 .6-.25 .6-.05" class="p3"/>
<path d="M471.2 146.25l1.2-.25 1.85 .1 .6 .1 .6-.25 1.25 .1 .6-.05 .6 .4 .6-.35 .65 .15 .6-.1 .6 .4 .6-.35 .6-.25 .65 .05 1.2 .25 .6-.25 1.25 .05 .6 .35 .6-.2 .6 .05 .6-.45 .65 .3 .6 .15 .6-.2 .6-.1 .6 .3 1.85-.05 .6 .1 .6-.4 .65 .15 .6-.15 .6 .2 .6-.3 .6-.35 .65 .1 .6-.55 .6-.45 .6-1.1 .6-.75 .65-1.25 1.2-3.75 .6-2.5 .6-2.05 .65-2.95 .6-2.4 1.2-5.4 1.25-3.8 .6-1 .6-.9 1.85 .85 .6 1.95 .6 .15 .6 1.2 .6 1.85 .65 1.1 .6 2.2 .6 1.55 .6 2.55 .6 1.2 .65 1.45 .6 1.75 1.8 4.35 .65 1.35 1.2 1.35 .6 1.05 .6 .65 .65 .6 .6 .35 .6 .65 .6 .2 .6 .5 .65-.05 .6 .05 .6 .25 .6-.15 .6 .35 1.25-.15 .6 .5 .6-.3 .6-.15 .65 .2 .6 .35 .6-.45 .6 .2 .6-.05 .65 .15 .6 0 .6-.3 1.2 .25 .65-.3V260 H471.2 Z" class="s2"/>
<path d="M500.5 141.4l1.2-3.75 .6-2.5 .6-2.05 .65-2.95 .6-2.4 1.2-5.4 .6-1.95 .65-1.85 .6-1 .6-.9 .6 .3" class="p3"/>
<path d="M471.2 148.15l.6 .35 .6 0 .65-.25 .6 0 .6-.1 .6 .3 .6-.25 1.25 0 .6 .15 1.2-.25 .65 0 .6 .15 .6-.2 .6-.05 .6 .2 1.25 0 .6-.05 .6 .05 .6 .3 .65-.25 .6 .15 .6-.1 1.2 0 .65-.25 1.2 .3 .6 0 .6-.2 .65 .4 .6-.05 1.2-.5 1.25 .35 1.2-.4 .6 .2 .6-.3 .65-.35 .6-.6 .6-.3 .6-.95 .6-1.15 .65-1 1.2-3.3 1.85-7.35 .6-3.25 .6-2.05 .6-2.75 .6-2.4 .65-2 .6-1.35 .6-.25 .6 .35 .6 .7 .65 .9 .6 .6 .6 1.6 .6 .75 .6 1.95 .65 1.5 .6 2.25 .6 1.3 1.2 4.1 .65 1.7 .6 1.05 1.2 3.05 .6 1.35 .65 1.1 .6 .6 .6 1.15 1.2 1.25 1.25 .55 .6 .05 .6 .75 .6 .1 .65 .4 .6-.15 .6 .3 1.2 .25 .65-.15 1.2 .25 .6-.25 .6 .35 .65-.3 .6-.1 .6 .25 .6-.3 1.25 .3 .6-.2 .6 .4 .6-.25 .6 .15 .65-.25V260 H471.2 Z" class="s2"/>
<path d="M500.5 143.5l1.2-3.3 .6-2.3 1.25-5.05 .6-3.25 .6-2.05 .6-2.75 .6-2.4 .65-2 .6-1.35 .6-.25 .6 .35" class="p3"/>
<path d="M471.2 150.6l.6-.3 .6 .3 .65-.15 .6 .1 .6-.2 .6 .4 .6-.65 .65 .4 .6 0 .6-.25 .6 .25 .6 .05 1.25-.15 .6 .1 .6-.05 2.45 .15 .6-.15 .6 .15 .65-.4 .6 .25 1.2 0 .6-.05 .65 .1 1.2-.25 .6 .15 .6 .3 .65-.25 1.2-.15 1.2 .3 .65-.35 .6 .15 .6-.1 .6-.5 .6 .05 1.85-1.1 .6-.85 .6-1 1.25-2.9 .6-1.9 2.45-10.1 .6-3.25 1.2-4.35 .65-1.65 .6-.35 .6-.75 .6 .05 1.25 1.05 .6 1.75 1.2 3.05 .6 .3 .65 2.3 .6 2 .6 1.8 .6 1.3 .6 2.35 .65 1.75 .6 1.3 .6 1.6 1.2 2.55 .65 1.25 .6 .95 1.2 .85 .6 .8 2.45 1.15 1.25 .3 .6 0 .6 .15 .6-.15 .6 0 .65 .35 .6 .1 .6-.15 1.85 .35 .6-.35 .6 .1 .6-.1 1.25 .1 .6 .15 .6-.3 .6-.05 .6 .25 .65-.15V260 H471.2 Z" class="s2"/>
<path d="M500.5 145.5l.6-1.5 .6-1.9 2.45-10.1 .6-3.25 1.2-4.35 .65-1.65 .6-.35 .6-.75 .6 .05" class="p3"/>
<path d="M471.2 152.95l.6-.25 .6 0 1.25-.25 .6 .2 1.85 .1 .6-.25 .6 .3 .6-.1 .6 .15 1.85-.4 1.2 .5 .65-.25 .6-.2 .6 .3 .6-.2 .6-.1 .65 .35 .6-.1 .6-.2 1.2 .05 .65 .2 .6 0 .6-.2 .6 .15 .6-.15 .65 .25 1.2-.1 .6 .3 .6-.4 .65 .15 .6-.1 .6-.35 .6-.15 .6 .1 .65-.65 .6-.25 .6-.95 1.2-1.45 1.85-5 1.85-7.35 .6-3 .6-2.55 1.85-6.1 .6-.55 .6-.65 .6 1.1 .6-.6 .65 1.7 .6 1 .6 1.25 .6 1.5 .6 2.1 1.25 3.25 1.2 3.55 .6 2.2 .65 1.15 .6 1.45 .6 1.75 .6 .8 .6 1.55 .65 1.15 .6 .8 1.8 1.65 1.25 .55 .6 .15 .6 .45 .6-.4 .65 .5 .6 .15 .6 .1 .6-.05 .6 .05 .65-.1 .6 .35 .6-.05 .6-.4 .6 .25 .65 .1 1.8-.2 .6-.15 .65 .3 .6-.05 .6 .1 .6-.1 .6-.2 .65 .05V260 H471.2 Z" class="s2"/>
<path d="M500.5 147.4l1.2-3.4 1.85-7.35 .6-3 .6-2.55 1.85-6.1 .6-.55 .6-.65 .6 1.1" class="p3"/>
<path d="M471.2 154.85l.6-.2 1.25 .4 1.2 .05 .6-.45 .6 .2 .65 .1 .6-.4 .6 .35 .6 .05 .6-.25 1.25 .05 .6-.1 .6 .15 1.25 .25 .6-.65 1.2 .35 1.25 0 .6-.1 .6 .15 .6 .3 .6-.35 .65 .15 .6 0 .6 .15 .6-.25 .6 0 .65 .15 1.2 0 .6 .2 .6-.25 .65 0 .6-.5 .6 .2 .6-.05 1.25-.5 .6-.35 .6-.6 .6-1.15 .6-.65 .65-1.6 1.2-3.55 1.2-4.7 .65-2.05 1.2-5.95 1.85-5.9 .6-.1 .6-.9 .6-.45 .6 1.95 .65 .35 .6 1.15 .6 1.9 .6 .95 1.25 3.75 1.2 4.35 1.2 2.55 .65 1.7 .6 2.15 .6 1.45 .6 .75 1.25 2.45 1.2 .75 .6 .7 .6 .9 .65-.2 .6 .35 1.2 .55 .6-.05 .65 .05 .6 .25 .6-.3 1.85 .2 .6-.05 2.45 .2 .6-.15 .6 .15 .6-.25 .6 .45 .65-.7 .6 .15 .6 .35 1.2-.15 .65 .15V260 H471.2 Z" class="s2"/>
<path d="M500.5 149.7l1.2-3.55 1.2-4.7 .65-2.05 1.2-5.95 1.85-5.9 .6-.1 .6-.9 .6-.45" class="p3"/>
<path d="M471.2 156.95l1.2 .2 .65-.15 .6 0 .6 .1 .6-.15 .6 .05 .65-.15 .6 .25 .6-.25 .6 .35 .6-.5 1.25 .5 .6-.45 .6 .25 .6 .05 .65 0 .6-.3 .6 .05 .6 .6 .6-.1 .65-.25 .6-.05 .6 .25 .6-.2 .6-.1 .65 0 .6 .25 .6-.4 .6 .45 .6-.3 .65 .05 1.2-.2 1.2 .35 .65-.2 .6 0 .6-.15 1.2-.5 .65 .05 .6-.55 .6-.85 .6-.6 .6-1.05 .65-1.4 1.2-3.4 1.85-7.25 1.2-5.5 .6-1.35 .6-2.75 .65-1.8 .6-.1 .6-.45 .6 .25 .6 .45 .65 1.15 .6 1 .6 1.2 .6 1.9 .6 1.65 .65 2.45 .6 1.95 1.2 3.25 .6 2.35 1.25 2.15 .6 1.65 .6 1.35 .6 1.05 .65 .85 .6 .5 .6 .8 .6 .2 .6 .35 .65 .45 .6 .15 .6 .35 1.2 .25 1.25-.1 .6 .05 .6-.1 .6 .2 1.25 .05 .6-.15 1.2 .25 1.85-.2 1.2-.05 .65 .4 .6-.25 1.2-.05 .6 .1 .65-.25V260 H471.2 Z" class="s2"/>
<path d="M500.5 151.9l1.2-3.4 1.85-7.25 1.2-5.5 .6-1.35 .6-2.75 .65-1.8 .6-.1 .6-.45 .6 .25" class="p3"/>
<path d="M471.2 159.3l.6-.1 .6 .1 .65-.05 1.2 .1 1.2-.3 .65-.05 .6 .05 .6 .15 .6-.25 .6 .2 1.25 .15 .6-.15 .6-.3 .6 .2 .65 .05 .6 .15 1.2-.3 .6 .1 .65-.05 .6 .25 .6-.3 .6 .35 .6-.3 .65 .3 .6 .05 .6-.15 .6-.3 .6 .3 .65-.1 1.8 .1 .6-.15 .65 .3 .6-.35 .6 .4 .6-.45 .6-.2 .65-.5 .6-.15 1.2-1.55 .6-1.2 .65-1.55 .6-1.15 .6-1.85 .6-2.6 .6-2.1 .65-3.15 .6-1.85 .6-2.65 .6-2.2 .6-1.2 .65-2.55 1.2-1.05 .6 .65 .6 .95 .65 1.35 .6 .7 .6 .85 1.2 4.4 .65 1.1 .6 1.85 1.2 4.5 .6 1.85 .65 1.15 .6 1.65 .6 .9 .6 1.6 .6 .5 1.25 1.5 .6 .6 .6 .25 .6 .45 .65 .15 .6 .25 .6 .05 1.2 .5 .65-.05 .6 .25 .6 0 .6-.4 .6 .35 .65-.35 .6 .4 .6 .05 .6-.15 .6 0 .65-.2 .6 .25 1.2-.1 1.25 .15 .6-.15 .6 .05 .6-.2 .6 .3 .65-.35V260 H471.2 Z" class="s2"/>
<path d="M500.5 153.8l.6-1.15 .6-1.85 .6-2.6 .6-2.1 .65-3.15 .6-1.85 .6-2.65 .6-2.2 .6-1.2 .65-2.55 1.2-1.05 .6 .65" class="p3"/>
<path d="M471.2 161.45l.6 .15 .6-.25 1.25-.2 .6 .1 .6 .35 .6-.4 .65 .2 1.2-.15 .6 .35 .6-.3 .65 .35 .6-.05 1.2-.25 .6 .15 .65-.1 .6 .2 .6-.1 .6-.2 1.25 .15 .6-.1 .6 .25 .6-.3 .6 .1 .65-.25 .6 .45 .6-.3 .6 .05 .6 .15 .65-.2 1.2-.2 .6 .45 .6 0 .65-.4 .6 0 .6-.2 .6 .15 .6-.05 .65-.45 .6-.8 .6-.3 1.2-1.85 .65-1.35 .6-1.95 .6-1 .6-3.05 .6-1.8 .65-2.8 1.2-4.9 .6-2.05 .6-1.35 1.25-3.7 .6 .8 .6 .55 1.25 1.4 .6 1.45 .6 1.15 .6 2.1 1.85 5 .6 2.3 .6 1.5 .6 1.9 .65 1.6 .6 1.45 1.2 2.35 .6 .65 1.25 1.9 .6 0 .6 .35 .6 .55 .65 0 .6 .15 2.45 .55 .6-.05 .6-.15 .6 .2 1.25 .1 .6-.05 .6-.3 .6 .25 .6 .1 .65-.05 .6-.2 .6 .1 .6 .3 .6-.3 .65 .05 .6-.15 .6 .2 .6 0 .6 .15 .65-.2V260 H471.2 Z" class="s2"/>
<path d="M500.5 156.3l.6-1.95 .6-1 .6-3.05 .6-1.8 .65-2.8 1.2-4.9 .6-2.05 .6-1.35 1.25-3.7 .6 .8 .6 .55" class="p3"/>
<path d="M471.2 163.6l.6-.05 .6 .2 .65-.05 .6-.25 .6-.1 .6 .35 .6-.15 1.25 .15 .6 .2 .6-.1 1.25-.4 .6 0 .6 .25 .6 0 .6 .1 .65-.15 .6 .05 .6-.15 1.2 .05 .65 .3 .6-.15 .6 0 .6-.45 .6 .4 .65-.1 .6 .25 .6 0 .6 0 1.25-.3 .6 .15 .6 .25 .6-.35 .6 0 .65 .15 .6-.2 .6-.35 .6 .3 1.25-.85 .6-.5 .6-.2 .6-.65 .6-1.2 1.25-2.9 1.8-6.4 .65-2.7 .6-2.05 .6-3.1 .6-1.75 .6-2.4 .65-1.55 .6 .25 .6-.8 .6 .45 .6 .75 .65 1.05 1.2 2.55 1.2 3.95 .65 1.15 .6 2.45 .6 1.85 1.2 3.2 .65 2 1.2 2.25 1.2 1.95 .65 .45 1.8 1.7 .6 .2 .65 .4 .6-.05 .6 .55 .6-.05 .6 0 .65-.4 .6 .65 .6 .05 .6 .2 .6-.45 1.25 0 .6 .3 .6-.35 .6 .1 .65-.1 .6 .5 .6-.35 .6-.1 .6 .1 .65-.05 .6-.2 .6 .35 1.85-.3V260 H471.2 Z" class="s2"/>
<path d="M500.5 158.5l.6-1.35 1.8-6.4 .65-2.7 .6-2.05 .6-3.1 .6-1.75 .6-2.4 .65-1.55 .6 .25 .6-.8 .6 .45" class="p3"/>
<path d="M471.2 165.7l.6 0 .6 .15 .65 .3 1.2-.45 .6-.15 .6 .15 .65 0 .6-.05 .6 .25 .6 .15 .6-.45 .65 .4 .6-.2 .6 .05 .6-.35 .6 .25 1.85-.05 .6-.1 .6 .2 .65-.15 1.8 .4 .6-.25 1.25 .15 .6-.3 .6 .1 2.45 .3 .6-.35 .6-.05 .65-.3 .6 .3 1.2-.25 .6-.4 1.25-.25 .6-.65 1.2-1.95 .65-1.65 .6-.95 .6-2.45 .6-2 .6-2.35 .65-2 .6-2.85 .6-2.2 .6-1.65 1.25-4.25 .6-.3 .6-.4 1.2 .65 .65 1.6 .6 .9 .6 1.6 .6 1.35 .6 2.55 .65 1 .6 2.05 .6 1.55 .6 2.5 .6 1.65 .65 1.2 .6 1.5 .6 1.25 .6 .8 .6 1.25 .65 .65 1.2 .75 .6 .7 .6 .4 .65 .05 .6 .4 3.05 .25 .6 .3 .6-.2 .6 0 .65 .25 .6-.35 .6 .05 .6 .2 .6-.1 .65-.35 .6 .35 .6-.1 .6 .15 1.25-.05 .6-.35 1.2 .35 .6-.1 .65 .25V260 H471.2 Z" class="s2"/>
<path d="M500.5 160.5l.6-.95 .6-2.45 .6-2 .6-2.35 .65-2 .6-2.85 .6-2.2 .6-1.65 1.25-4.25 .6-.3 .6-.4 .6 .3" class="p3"/>
<path d="M471.2 168.15l.6-.2 1.25 .05 1.2-.1 .6 .4 .6-.45 .65 .2 1.2-.25 .6 .35 .6-.25 .65 .5 .6-.45 .6 .3 .6-.35 1.25 .1 .6 .2 .6-.35 1.2 .1 .65-.1 .6 .15 1.2-.15 .6 .1 .65-.15 .6 .3 .6-.15 1.2 0 .65 .25 .6-.2 1.2-.25 .6 .35 .65-.5 .6 .35 .6-.15 .6-.3 .6-.05 .65-.2 1.2-.9 .6-1.2 .6-.85 .65-1.25 1.8-4.75 .6-2.35 1.25-5.5 .6-2.35 .6-1.6 1.25-4 .6-.3 .6-.55 .6 .05 .6 .7 .65 1.3 1.2 2 .6 2.25 .6 1.4 .65 1.6 1.2 4.05 .6 1.3 1.25 3.4 1.2 2.9 .6 .7 .6 1.15 .65 .55 .6 .75 1.2 .8 .6 .6 .65 0 .6 .3 .6 .25 1.2-.05 .65 .25 .6-.15 1.2 .35 .6-.2 .65-.3 .6 .25 .6 .1 1.2-.05 .65 .4 1.2-.35 .6-.1 .6 .2 .65-.35 .6 .2 .6 0 1.2 .2 .65-.15V260 H471.2 Z" class="s2"/>
<path d="M500.5 163.05l1.8-4.75 .6-2.35 1.25-5.5 .6-2.35 .6-1.6 1.25-4 .6-.3 .6-.55 .6 .05" class="p3"/>
<path d="M471.2 170.4l.6-.1 .6-.25 .65 0 .6 .25 .6-.25 1.2 .15 .65-.05 .6-.25 .6 .35 1.2-.3 .65 .2 .6-.1 .6 .3 .6-.55 1.25 .4 .6-.05 .6 .1 .6-.2 1.85 .3 1.2-.2 .6 .2 .65-.2 1.2 .05 1.85-.05 .6 .1 .6-.1 .6 .1 .6-.1 .65 .1 .6-.4 .6 .05 .6 .25 .6-.4 .65-.25 1.2-1.3 1.2-1.75 .65-1.15 .6-1.4 .6-1.85 .6-2.25 .6-1.25 .65-2.95 .6-2 .6-3.8 .6-1.3 .6-1.6 .65-1.25 1.2-1.5 .6-.1 .6 1.2 .65 .8 .6 1 .6 1.55 .6 1.1 .6 1.35 .65 1.85 .6 2.15 1.2 3.15 .6 2 .65 1.25 .6 .9 .6 1.65 .6 1.4 .6 .8 .65 1.1 .6 .55 .6 .05 .6 .8 .6 .4 .65 .35 .6 .15 .6 0 1.2 .25 .65 .4 .6-.15 1.2 .1 .6-.2 1.25 0 .6 .25 .6 0 .6-.25 .65 .3 .6-.2 .6 .05 1.2-.1 1.25 .2 .6-.35 .6 .2 .6-.05 .65 0V260 H471.2 Z" class="s2"/>
<path d="M500.5 165.3l.6-1.4 .6-1.85 .6-2.25 .6-1.25 .65-2.95 .6-2 .6-3.8 .6-1.3 .6-1.6 .65-1.25 1.2-1.5 .6-.1" class="p3"/>
<path d="M471.2 172.25l.6 .3 .6-.2 1.25 .2 .6-.25 .6 .05 .6 .2 .65-.2 .6 .2 .6 0 .6-.1 .6-.3 .65-.05 .6 .35 .6 0 .6-.15 .6 .1 .65-.1 .6 .15 1.2-.15 1.25 .15 .6-.25 .6 .3 .6-.25 .6 .3 .65 0 1.2-.2 .6 .15 .6-.1 1.25 0 .6-.05 .6 .2 1.25-.3 .6 .2 1.8-.45 .65-.6 .6 0 .6-.6 .6-.8 .6-.95 .65-1.15 .6-1.4 .6-1.7 .6-2.3 .6-1.8 1.25-4.2 .6-3.6 .6-1.85 .6-2.35 .65-.55 .6-1 .6-.1 .6-1.05 .6 .85 .65 1.15 .6 1.5 .6 .9 .6 1.1 .6 1.55 .65 2.1 1.2 2.8 .6 2.4 .6 1.25 .65 1.7 1.8 3.85 .6 .75 .65 .5 .6 1.4 .6 .25 .6 .65 .6 .25 .65 .7 .6-.1 .6 .3 .6 .45 .6-.2 .65 .25 .6-.15 .6 0 .6 .05 .6 .15 .65-.3 .6 .05 .6 .25 .6 .15 .6-.2 .65 .1 .6 .25 .6-.4 .6-.05 .6 .35 .65-.3 .6 0 .6 .3 .6-.4 .6 .15 .65 0V260 H471.2 Z" class="s2"/>
<path d="M501.1 166.5l.6-1.7 .6-2.3 .6-1.8 1.25-4.2 .6-3.6 .6-1.85 .6-2.35 .65-.55 .6-1 .6-.1 .6-1.05" class="p3"/>
<path d="M471.2 174.65l.6 .05 .6-.15 .65 .05 .6-.25 1.2 .35 .6-.2 1.25 .25 .6 0 .6-.15 .6-.05 .65 .2 .6-.3 1.2 .15 .6-.05 1.25-.25 1.2 .25 .6-.1 .65 0 .6 .05 .6 .25 .6-.1 .6-.3 .65 .3 .6-.1 .6 .2 .6-.25 .6 .25 .65-.45 .6 .25 1.2-.25 .6 .4 .65-.4 1.2 .2 .6-.2 .6-.1 .65-.4 .6-.15 .6-.9 .6-.5 1.25-1.9 .6-1.5 1.2-3.8 2.45-8.7 .6-2.95 .6-1.6 .65-1.3 .6-1.5 .6-.1 .6 .35 .6-.25 .65 .85 .6 .55 .6 2.15 1.2 2.25 .65 2.05 .6 1.2 .6 1.95 .6 1.4 .6 1.7 2.45 5.45 .6 1.05 .65 .5 .6 1 .6 .5 .6 .7 .6 .55 .65 .75 .6 0 .6 .3 1.2 .2 .65 .35 .6-.05 .6-.2 .6 .2 1.25 .1 1.2-.1 .6 .2 .6 0 .65-.35 .6 0 .6 .4 .6-.05 .6-.25 1.85 .05 .6 .2 1.25 .05V260 H471.2 Z" class="s2"/>
<path d="M501.1 168.85l1.2-3.8 2.45-8.7 .6-2.95 .6-1.6 .65-1.3 .6-1.5 .6-.1 .6 .35" class="p3"/>
<path d="M471.2 177l.6-.25 .6 .2 .65-.45 .6 .2 .6 .05 .6-.15 1.85 .15 .6 .25 .6-.15 .6-.35 .65 .1 .6-.1 .6 .3 1.2-.1 .65 .25 .6-.25 .6-.1 1.2 .25 .65-.25 .6 .15 1.2 .2 .6-.1 .65 .1 1.8-.3 .6 .3 .65-.2 .6 .05 .6-.35 .6 .45 .6-.15 1.25-.1 .6-.2 .6 0 .6 .1 .65-.4 .6-.55 1.2-.85 .6-.75 1.25-2.85 .6-1.65 1.2-3.8 .65-2.75 1.2-4.5 1.85-5.9 .6-1.1 .6 .25 .6-.35 .6 .8 .65-.3 .6 1.95 .6 .4 1.2 2.85 .65 1.1 .6 1.75 .6 .95 .6 2.15 .6 1.65 .65 1.1 .6 2.1 .6 1.2 .6 .75 .6 1 .65 1.3 .6 .5 .6 1.05 .6 .65 .6 .15 .65 1.2 .6-.3 .6 .4 .6 .05 .6 .25 .65 .45 1.8 .2 .6 0 .65 .1 .6 0 .6-.15 .6 0 .6-.1 1.25 .25 .6-.05 .6-.15 1.25 .15 .6 0 .6 .25 .6-.3 .6 .25 .65-.25V260 H471.2 Z" class="s2"/>
<path d="M501.1 171.15l.6-1.65 1.2-3.8 .65-2.75 1.2-4.5 1.85-5.9 .6-1.1 .6 .25 .6-.35" class="p3"/>
<path d="M471.2 179.15l1.2-.1 .65-.25 1.2 .1 .6-.25 1.25 .6 1.2-.45 .6 .05 .6 .2 .65 .05 .6-.25 .6-.05 .6 .05 .6 0 .65-.2 .6 .15 .6 .35 .6 0 .6-.3 .65 .35 1.8-.35 1.25 .1 .6 .1 .6-.1 .6 .15 .6-.05 .65 .25 .6-.55 .6 .25 1.2-.15 .65 0 .6 .15 .6-.4 .6-.05 .6 .05 .65-.15 .6-.7 .6-.3 .6-.7 .6-.85 1.25-2.15 .6-1.5 .6-2 .6-2.55 .65-2.15 .6-1.5 .6-3 .6-2.3 .6-1.5 .65-2.05 .6-1.2 .6-.7 .6 .6 .6 .15 .65 .25 1.2 1.55 .6 1.55 .6 .9 .65 1.45 .6 2.1 1.2 2.45 .6 1.45 1.25 3.25 .6 1.05 .6 1.6 1.25 1.95 .6 1.2 1.2 1.1 1.25 1.5 1.2 .35 .6 .35 .6-.25 .65 .75 .6-.05 .6 .15 .6-.1 .6 .05 1.25 .35 .6-.3 .6 0 .6 .3 1.25-.1 .6-.1 .6 .35 .6-.05 .65-.3 .6 .15 .6-.15 1.85 .4V260 H471.2 Z" class="s2"/>
<path d="M501.1 173.75l.6-1.5 .6-2 .6-2.55 .65-2.15 .6-1.5 .6-3 .6-2.3 .6-1.5 .65-2.05 .6-1.2 .6-.7 .6 .6" class="p3"/>
<path d="M471.2 181.05l.6 .15 .6-.05 .65 .1 1.2-.2 .6 .25 .6 .1 .65 0 .6-.5 .6 .25 .6 .05 .6-.25 .65 .3 .6 0 .6-.2 .6-.05 .6 .15 .65-.1 .6 .05 .6-.1 .6 .2 .6-.15 .65-.25 .6 .1 .6 .3 .6-.25 1.25 .3 .6-.35 .6 .35 .6 .05 .6-.2 1.25-.05 .6 .25 1.2-.1 .65-.15 .6 .1 .6-.2 .6 .1 .6-.45 .65-.05 .6-.3 .6-.6 .6-.45 .6-.65 1.25-2.3 1.2-3.5 .6-2.3 .65-2.65 .6-2.15 .6-2.5 .6-2.1 1.25-3.4 .6-1.45 .6 .05 .6-.4 .6 .35 .65 .5 .6 .2 .6 .4 .6 2 .6 .8 .65 2.55 .6 .7 1.2 2.7 .6 1.55 2.45 5.6 1.25 2.3 .6 .95 .6 .4 .6 .5 .6 1.1 .65 .55 .6 .2 1.2 .75 .6 .25 .65 .35 .6-.05 .6 .25 .6 .15 .6-.1 .65 .1 .6 .2 .6-.05 .6-.3 .6 .4 .65 0 .6 .1 .6-.2 .6 .2 .6-.2 1.25-.1 .6 .3 .6-.15 .6 0 .65 .1V260 H471.2 Z" class="s2"/>
<path d="M501.1 176.25l1.2-3.5 .6-2.3 .65-2.65 .6-2.15 .6-2.5 .6-2.1 1.25-3.4 .6-1.45 .6 .05 .6-.4" class="p3"/>
<path d="M471.2 183.4l.6 .05 .6-.15 .65 .3 .6 .05 .6-.65 .6 .3 .6 .1 1.25-.15 .6 .05 .6-.15 .6 .15 .65 .35 .6-.45 .6-.15 .6 .35 .6-.15 .65 .2 1.2-.3 .6 .05 .6 .3 .65-.2 .6-.1 .6 .3 .6 .05 .6-.15 .65 .05 .6-.1 .6-.4 .6 .6 1.25-.3 .6 .15 .6-.2 .6-.1 .6 .35 .65-.4 .6 .2 .6-.2 .6 .05 .6-.25 1.25-.3 .6-.65 .6-.5 .6-.75 .65-.9 .6-1.2 1.2-3.55 .6-2.7 .65-1.35 1.2-5.2 .6-1.9 .6-1.65 1.25-4.05 .6-.5 .6 .7 .6-.05 .65-.4 .6 1.3 .6 1.15 .6 .75 .6 1.4 .65 .7 .6 1.7 .6 .8 1.2 4 .65 .75 .6 1.6 .6 1.35 .6 1.05 .6 1.2 1.85 2.95 .6 .65 .6 .8 .65 .4 .6 .9 .6 .1 1.2 .75 .65-.05 .6 .6 .6 .1 .6 .25 1.85 .05 .6-.05 .6 .25 .6-.15 .65 .25 .6-.25 .6 .2 .6 .05 .6-.2 .65 .15 .6-.05 1.2 .05 .6-.2 .65 .05V260 H471.2 Z" class="s2"/>
<path d="M501.1 178.55l1.2-3.55 .6-2.7 .65-1.35 1.2-5.2 1.2-3.55 1.25-4.05 .6-.5 .6 .7 .6-.05" class="p3"/>
<path d="M471.2 185.55l.6 .15 .6-.05 .65-.25 1.2 .3 .6-.5 .6 .25 .65 .3 .6-.25 .6-.1 .6 .3 .6 .05 .65-.45 .6-.05 .6 .3 .6 .05 .6-.3 .65 .15 .6 .3 .6-.4 .6 .25 .6-.1 .65 .15 .6-.2 .6 0 .6-.05 .6 .15 .65-.2 .6 .3 .6-.2 .6 .15 .6-.35 .65 0 .6 .15 .6-.25 .6 .55 .6 0 .65-.4 .6 .3 .6-.7 .6 .4 1.85-.6 .6-.6 .6-.15 .6-1.15 .65-.85 .6-1 .6-1.65 .6-2.3 .6-1.7 .65-2.5 .6-1.95 .6-2.7 .6-1.7 1.25-4.95 .6-1.2 .6-.15 .6-.4 .6 .35 .65-.05 .6 1.25 1.2 1.45 .6 .95 .65 1.45 .6 1 .6 1.9 .6 1.15 1.25 3.4 .6 1.2 .6 1.45 .6 .8 .6 1.5 .65 .75 .6 1.25 1.2 1.35 1.25 1.8 1.2 .65 .6 .2 1.25 .85 .6 .2 .6 .35 1.2 .05 .65 .55 .6-.15 .6-.05 .6 .2 .6-.25 .65 .1 .6-.15 .6 .4 .6-.3 .6 .35 .65-.35 .6 .3 .6-.3 1.85 .1V260 H471.2 Z" class="s2"/>
<path d="M501.1 180.95l.6-1.65 .6-2.3 .6-1.7 .65-2.5 .6-1.95 .6-2.7 .6-1.7 1.25-4.95 .6-1.2 .6-.15 .6-.4 .6 .35" class="p3"/>
<path d="M471.2 187.8l1.2 .1 .65-.2 .6-.05 .6 .2 .6 .05 .6-.25 .65 0 .6 .1 .6-.15 .6 .05 .6 .1 .65 .3 .6-.2 1.2-.25 .6-.05 .65 .25 .6-.35 .6 .3 .6-.3 .6 .35 .65 .1 .6-.2 .6 .2 .6-.2 .6 0 .65 .15 .6 .05 .6-.3 .6-.05 .6 .15 .65-.2 .6 .1 .6-.2 .6 .25 .6 0 .65-.15 .6 0 .6 .15 .6-.45 .6 .5 1.25-1.15 .6-.25 1.2-1.35 .65-.5 .6-1.15 3.05-9.65 .6-3.4 1.85-6 .6-1.45 .6-.3 .6-1.15 .6 .75 .65 .95 .6-.3 .6 .9 .6 1.45 1.25 1.95 .6 .7 .6 2.5 .6 .7 .6 1.85 1.85 4.2 .6 .7 1.25 2.4 1.2 2.15 .6 .75 .6 .95 .65 .45 .6 .2 .6 .65 .6 .55 .6 .35 .65 .5 1.2 .45 .6 .4 .6-.55 1.25 .25 .6 .35 .6-.1 1.25-.05 1.2 .35 .6-.15 .6 .1 1.25-.05 .6 .15 .6-.2 1.25 .3V260 H471.2 Z" class="s2"/>
<path d="M501.1 183.3l3.05-9.65 .6-3.4 1.85-6 .6-1.45 .6-.3 .6-1.15 .6 .75" class="p3"/>
<path d="M471.2 189.8l1.2 .35 .65-.4 .6 .1 1.2 .1 .6-.15 .65 .3 .6 .1 .6-.45 1.2 .1 .65 .2 .6-.05 .6-.2 .6-.05 .6 .1 .65-.2 .6-.1 .6 .5 1.2-.05 1.25-.2 1.2 .2 .6-.1 .65 .05 .6-.25 .6 .2 1.2 0 .65 .1 .6-.3 .6 .3 .6 .1 .6-.15 .65-.2 .6 .15 .6-.2 .6 .1 .6-.3 .65 0 .6-.4 .6-.3 .6-.45 1.85-2.9 1.8-4.95 .65-2.75 .6-2.35 .6-1.7 1.2-5.2 .65-1.9 .6-1.2 .6-.2 .6-1 .6-.05 .65 .6 1.2 1.6 .6 .65 .6 1.3 .65 .6 .6 1.65 .6 .95 .6 1.4 .6 1.75 .65 1.4 .6 1.15 .6 1.45 1.2 2.3 .65 .95 .6 1.3 1.2 2.1 .6 .7 .65 .15 .6 .75 1.8 1.6 1.25 .45 .6-.05 .6 .3 .6 .2 .65 .1 .6-.05 1.2 .4 .6-.35 .65 .35 1.2 .15 .6 .2 .6-.65 .65 .4 .6 .05 .6-.2 .6 .1 .6-.1 .65 0V260 H471.2 Z" class="s2"/>
<path d="M501.7 183.9l1.2-3.4 .65-2.75 .6-2.35 .6-1.7 1.2-5.2 .65-1.9 .6-1.2 .6-.2 .6-1 .6-.05" class="p3"/>
<path d="M471.2 192.25l.6-.15 .6 .05 .65-.3 .6 .3 .6-.4 .6 .25 .6 .15 .65-.3 .6 .25 .6 0 .6 .1 .6-.3 .65 .2 .6-.2 .6 .2 .6 0 .6-.35 .65 .15 .6 .55 1.2-.35 .6-.05 .65 .3 .6-.55 .6 .35 .6-.25 .6 .15 1.25 .05 .6-.05 .6 .15 .6-.3 .65 .35 .6-.25 .6 .15 .6-.1 .6 .2 .65-.3 .6-.2 .6 .2 .6 0 .6-.15 .65-.35 .6-.1 .6-.35 1.2-1.3 .65-1.4 .6-1 .6-.5 .6-2.7 1.25-3.55 1.2-5.5 .6-2 .6-2.5 .65-1.9 .6-1.25 .6-.55 .6 .25 .6-.4 .65 .25 .6 1 .6 .3 1.2 1.85 .65 1.7 1.2 2.35 .6 .9 1.25 2.95 1.2 2.1 .6 1.8 .6 1.3 .65 .85 .6 1.3 .6 1.1 .6 .8 .6 .5 .65 .8 .6 .05 .6 1.3 .6-.05 .6 .65 .65 .4 .6-.15 .6 .15 .6 .65 .6 .5 .65-.35 .6-.05 .6 .35 .6-.4 .6 .25 .65 .05 .6 .25 1.2-.45 .6 .15 1.25 .15 .6 .45 1.2-.35 .65-.05V260 H471.2 Z" class="s2"/>
<path d="M501.7 186.8l.6-2.7 1.25-3.55 1.2-5.5 .6-2 .6-2.5 .65-1.9 .6-1.25 .6-.55 .6 .25 .6-.4" class="p3"/>
<path d="M471.2 194.4l.6-.05 .6-.15 .65 .3 .6-.1 .6 0 1.85-.3 1.2 .1 .6 .2 .6-.15 .65 .05 1.2-.2 .6 .4 1.25-.4 .6 .05 .6 .2 .6 .05 .6 .1 .65-.25 .6 .05 .6 .15 .6-.25 .6-.05 1.85 .2 .6-.2 1.25 .1 .6-.1 .6 0 .6 .3 1.25-.25 .6 .1 .6-.15 .6-.05 .6 .3 1.25-.9 .6-.2 .6-.45 .6-1.15 1.25-1.9 .6-1.5 .6-1.7 .6-2.25 .65-1.75 1.2-5.25 .6-2.1 .6-1.45 .65-2.65 .6-1.05 .6-.9 .6-.55 .6 .2 .65-.1 .6 1.1 .6 .1 .6 2.05 .6 .4 .65 .7 .6 1.65 .6 .85 .6 2.1 .6 .8 1.85 4.5 .6 1.2 .6 1.05 .65 1.2 .6 .75 .6 .95 .6 1.25 .6 .5 1.25 1.45 .6 .2 1.2 1.05 .65 .45 .6 .15 .6 .4 .6-.05 .6 .15 .65 .3 2.4 .25 1.25-.2 .6 .35 .6-.35 .6 .15 .65 0 .6-.1 .6 .45 .6-.25 .6 .15 .65-.3V260 H471.2 Z" class="s2"/>
<path d="M501.7 188.3l.6-1.7 .6-2.25 .65-1.75 1.2-5.25 .6-2.1 .6-1.45 .65-2.65 .6-1.05 .6-.9 .6-.55 .6 .2" class="p3"/>
<path d="M471.2 196.55l.6-.25 .6 .25 .65 .15 .6-.4 .6 .3 .6-.1 .6 .15 .65-.2 1.2 .05 .6-.1 .6 .1 .65-.2 .6 .1 .6-.15 .6 .3 .6 0 .65-.15 .6 .4 .6-.45 .6 .05 .6 .15 1.25-.45 1.2 .6 .6-.1 .65-.2 .6 .15 1.2-.15 .6-.25 .65 .2 .6-.1 .6 .2 .6-.15 .6 .35 .65-.25 .6 .4 .6-.55 1.2-.2 .65 0 .6-.7 .6 .15 .6-.65 .6-1.2 .65-.05 .6-1.8 1.2-3.05 .6-1.9 1.25-4.7 1.2-5.05 1.25-3.4 .6-1.9 .6-.85 .6 .15 .6 .45 .65-.05 .6 .35 .6 .75 1.2 1.7 .65 1.85 .6 1.25 .6 .4 1.2 3.1 .65 .9 .6 2 .6 1.35 1.85 3.55 .6 1.05 .6 .65 1.2 2.1 .65 .4 .6 .9 .6 .55 .6 .15 1.25 .8 .6 .25 1.8 .4 .65 .25 .6-.45 1.2 .7 .6-.1 .65 .15 .6-.05 .6 .1 1.2-.05 .65-.1 .6 .1 .6 0 .6-.1 .6 .1 .65-.1V260 H471.2 Z" class="s2"/>
<path d="M501.1 191.8l1.2-3.05 .6-1.9 1.25-4.7 1.2-5.05 1.25-3.4 .6-1.9 .6-.85 .6 .15 .6 .45" class="p3"/>
<path d="M471.2 198.5l.6 .15 .6-.2 .65 .35 1.2-.2 .6 .25 1.85-.4 .6 .25 .6 .05 .6-.3 .65 .05 .6-.05 1.2 .4 .6-.3 .65 .35 .6-.3 1.2-.05 .6 .1 .65-.15 .6 .35 1.2-.3 .6 .15 .65-.2 .6 .1 .6 .3 .6-.35 .6 0 1.25 .15 .6-.2 1.2 .4 .65-.4 .6 .15 .6-.4 .6 .3 .6-.25 1.25-.3 .6-.8 .6-.6 .6-.4 1.25-2.05 .6-1.2 1.2-3.9 1.25-4.6 1.2-5.3 .6-1.5 1.25-3.5 .6-.7 .6 .25 .6-.25 .65 .1 .6 .55 .6 .35 .6 1.65 .6 .8 .65 1.65 1.2 2.15 .6 1.6 .6 1.25 .65 1.6 .6 1.25 .6 1.8 .6 .45 .6 1.5 .65 .8 .6 1.75 .6 .4 .6 .85 .6 1.1 1.25 .75 .6 .5 .6 .25 .6 .8 .65 .1 1.2 .6 .6-.15 .6 .45 .65-.2 .6 .25 .6-.05 .6 .15 .6-.25 .65 .3 .6 .05 .6-.2 .6-.05 .6 .35 .65 .2 .6-.5 .6 .45 .6-.3 .6 .25 .65-.15V260 H471.2 Z" class="s2"/>
<path d="M501.7 192.95l1.2-3.9 1.25-4.6 1.2-5.3 .6-1.5 1.25-3.5 .6-.7 .6 .25 .6-.25" class="p3"/>
<path d="M471.2 200.85l.6-.2 .6 .25 1.25 .05 .6-.25 .6 .3 .6 0 .65-.15 .6 .2 .6 .05 .6-.5 .6 .25 .65-.1 .6 .15 .6-.15 1.2 .15 .65-.15 .6-.25 .6 .4 .6 .05 .6 .1 .65-.25 .6 .2 .6-.3 .6 .1 .6-.05 .65-.15 .6 .5 .6-.05 .6-.5 .6 .05 1.25 .5 .6-.3 .6-.05 .6-.15 .65 0 .6 .25 .6-.2 1.2-.25 .65-.35 .6 .25 .6-.75 .6-.3 1.25-2.05 .6-1.35 .6-1.15 .6-1.65 .6-2 1.25-4.6 .6-1.95 1.85-7.3 1.2-1.05 .6-.65 1.25 .15 .6 1.65 .6-.4 .6 1.5 .6 .9 .65 1.6 .6 1.3 .6 1.05 .6 1.4 .6 1.75 .65 1.05 1.2 3.1 1.2 2.05 .65 1.7 .6 .55 .6 1.25 .6 .45 .6 1.1 .65-.05 .6 .35 .6 1.1 .6-.05 .6 .75 .65 .2 .6-.15 .6 .55 .6-.15 .6 .35 .65-.4 .6 .55 1.2 .05 1.25-.1 .6 .25 1.2 0 .6-.25 .65 .25 .6-.25 1.2-.05 1.25 .05V260 H471.2 Z" class="s2"/>
<path d="M501.1 195.85l.6-1.15 .6-1.65 .6-2 1.25-4.6 .6-1.95 1.85-7.3 1.2-1.05 .6-.65 .6 .1" class="p3"/>
<path d="M471.2 203l.6 0 .6-.1 .65 .1 .6-.15 .6 .25 .6-.25 .6 .1 .65 .25 .6 .05 .6-.05 .6 .2 .6-.8 .65 .3 .6 .25 .6-.2 1.2 .2 .65 0 1.2-.05 .6 .1 .6-.45 .65 .35 .6-.2 .6 .25 .6-.1 1.25 .1 .6-.1 .6 .05 1.2-.1 .65-.25 .6 .05 .6 .3 .6-.1 .6 .3 .65-.6 .6 .25 1.2-.05 .6-.35 1.25-.25 .6-.6 .6-.2 .6-1.25 1.25-1.9 1.2-2.95 1.85-7.15 .6-2.7 .6-1.45 .6-2.75 .65-1.75 .6-.8 1.2-1.2 .6 .45 .65 1 .6-.05 1.2 2.2 .6 1.35 .65 .7 .6 1.45 .6 1.1 .6 1.95 1.85 4.35 .6 1 1.2 2.95 .65 .65 1.8 2.4 1.25 1.4 .6 .55 .6 .3 .6 .55 1.25 .3 .6 .3 .6-.1 .6 .5 .6-.3 .65 .05 .6 .25 .6-.45 1.85 .75 1.2-.3 .6 .05 .6 0 .65 .2 .6-.25 .6 .35 .6-.2 1.25 .2V260 H471.2 Z" class="s2"/>
<path d="M501.1 198.35l1.2-2.95 1.85-7.15 .6-2.7 .6-1.45 .6-2.75 .65-1.75 .6-.8 1.2-1.2 .6 .45" class="p3"/>
<path d="M471.2 205.35l.6-.2 1.25-.2 1.2 .2 .6 0 .6-.25 .65 .35 .6-.05 .6 .05 .6-.1 1.25-.05 .6 .25 .6-.05 1.2-.5 .65 .5 .6 .15 .6-.15 .6 0 .6-.4 .65 .05 .6 .35 .6-.2 .6 .4 .6-.3 .65 .25 .6 .15 .6-.4 .6 .25 .6-.05 .65-.3 .6 .3 .6-.2 1.2-.15 .65 0 .6-.25 .6 .2 .6-.25 .6 .3 .65-.25 .6-.35 1.8-1.75 .65-1.15 .6-1.45 .6-1.1 .6-1.65 .6-2.05 1.85-7.05 1.2-4.1 .65-2.4 .6-.8 .6-1 .6-.5 .6 1.35 .65-.05 .6 1 .6 .5 1.2 3.1 .65 .35 .6 1.95 .6 1.4 .6 .9 1.25 3.8 .6 .85 1.2 3.05 1.25 1.75 .6 1.35 .6 .6 .6 .45 .6 .95 .65 .3 .6 .55 .6 .1 .6 .55 .6 .35 1.25 .15 1.2 .05 .6 .45 .65-.15 .6 .25 .6-.2 .6-.3 .6 .55 .65-.1 .6-.15 .6 0 .6-.05 .6 .15 .65-.2 .6 .05 .6-.05 .6 .4 .6-.5 .65 .55V260 H471.2 Z" class="s2"/>
<path d="M501.1 200.1l.6-1.1 .6-1.65 1.25-4.25 1.2-4.85 1.2-4.1 .65-2.4 .6-.8 .6-1 .6-.5 .6 1.35" class="p3"/>
<path d="M471.2 207.5l.6 .1 .6-.05 .65 0 .6-.1 .6-.1 .6 .05 .6-.15 1.25 .15 .6-.05 .6 .2 .6-.3 .65 .3 .6-.15 .6-.2 .6 .25 .6-.15 .65 .2 .6-.2 .6 .15 .6-.15 .6 .05 1.25-.05 .6 .2 1.2-.25 .65 .2 .6-.2 1.2 0 .6 .1 .65 .25 .6-.35 .6 .35 .6-.1 .6-.25 .65 .2 .6 0 .6-.5 .6 .3 .6 .15 .65-.5 .6-.35 .6-.5 .6-.6 1.25-1.7 .6-1.1 1.2-3 .6-2.65 .65-2.05 1.8-6.75 .6-2.5 .65-.45 .6-1.9 .6-1.3 .6 .7 .6-.05 .65 1.35 .6 1 .6 .2 .6 .75 1.25 3.15 .6 1.15 .6 1.75 .6 1.25 .6 1.75 .65 1.2 .6 1.7 .6 .8 1.2 2.85 .65 1.15 .6 .45 .6 .8 .6 .5 .6 .65 1.25 .8 .6 .05 .6 .45 .6 .25 .65 .1 1.2 0 .6 .6 .6-.15 1.25 .15 .6-.4 .6 .4 .6 0 .65-.2 1.2-.1 .6 .5 1.25-.45 .6 .25 1.8-.2 .65 .5V260 H471.2 Z" class="s2"/>
<path d="M501.1 202.65l1.2-3 .6-2.65 .65-2.05 1.8-6.75 .6-2.5 .65-.45 .6-1.9 .6-1.3 .6 .7" class="p3"/>
</g></g>
<rect x="25.00" y="12.20" width="252.50" height="201.80" fill="none" stroke="#222" stroke-width="1"/>
<rect x="394.20" y="12.40" width="61.00" height="201.60" fill="none" stroke="#222" stroke-width="1"/>
<rect x="474.20" y="12.40" width="60.30" height="201.60" fill="none" stroke="#222" stroke-width="1"/>
<path d="M25.00 214.00v3.6M67.08 214.00v3.6M109.17 214.00v3.6M151.25 214.00v3.6M193.33 214.00v3.6M235.42 214.00v3.6M277.50 214.00v3.6M46.04 214.00v2M88.12 214.00v2M130.21 214.00v2M172.29 214.00v2M214.38 214.00v2M256.46 214.00v2" stroke="#222" stroke-width="1" fill="none"/>
<path d="M394.20 214.00v3.6M424.70 214.00v3.6M455.20 214.00v3.6M409.45 214.00v2M439.95 214.00v2" stroke="#222" stroke-width="1" fill="none"/>
<path d="M474.20 214.00v3.6M504.35 214.00v3.6M534.50 214.00v3.6M489.27 214.00v2M519.42 214.00v2" stroke="#222" stroke-width="1" fill="none"/>
<path d="M294.70 213.9H341.20" stroke="#222" stroke-width="1"/>
<path d="M295.20 213.90v3.6M310.37 213.90v3.6M325.53 213.90v3.6M340.70 213.90v3.6M302.78 213.90v2M317.95 213.90v2M333.12 213.90v2" stroke="#222" stroke-width="1" fill="none"/>
<text x="19.75" y="228.60" font-size="10.3" textLength="10.50" lengthAdjust="spacingAndGlyphs" style="stroke-width:.2px">20</text>
<text x="61.83" y="228.60" font-size="10.3" textLength="10.50" lengthAdjust="spacingAndGlyphs" style="stroke-width:.2px">30</text>
<text x="103.92" y="228.60" font-size="10.3" textLength="10.50" lengthAdjust="spacingAndGlyphs" style="stroke-width:.2px">40</text>
<text x="146.00" y="228.60" font-size="10.3" textLength="10.50" lengthAdjust="spacingAndGlyphs" style="stroke-width:.2px">50</text>
<text x="188.08" y="228.60" font-size="10.3" textLength="10.50" lengthAdjust="spacingAndGlyphs" style="stroke-width:.2px">60</text>
<text x="230.17" y="228.60" font-size="10.3" textLength="10.50" lengthAdjust="spacingAndGlyphs" style="stroke-width:.2px">70</text>
<text x="272.25" y="228.60" font-size="10.3" textLength="10.50" lengthAdjust="spacingAndGlyphs" style="stroke-width:.2px">80</text>
<text x="292.57" y="228.60" font-size="10.3" textLength="5.25" lengthAdjust="spacingAndGlyphs" style="stroke-width:.2px">3</text>
<text x="307.74" y="228.60" font-size="10.3" textLength="5.25" lengthAdjust="spacingAndGlyphs" style="stroke-width:.2px">2</text>
<text x="322.91" y="228.60" font-size="10.3" textLength="5.25" lengthAdjust="spacingAndGlyphs" style="stroke-width:.2px">1</text>
<text x="338.07" y="228.60" font-size="10.3" textLength="5.25" lengthAdjust="spacingAndGlyphs" style="stroke-width:.2px">0</text>
<text x="388.95" y="228.60" font-size="10.3" textLength="10.50" lengthAdjust="spacingAndGlyphs" style="stroke-width:.2px">25</text>
<text x="419.45" y="228.60" font-size="10.3" textLength="10.50" lengthAdjust="spacingAndGlyphs" style="stroke-width:.2px">26</text>
<text x="449.95" y="228.60" font-size="10.3" textLength="10.50" lengthAdjust="spacingAndGlyphs" style="stroke-width:.2px">27</text>
<text x="468.95" y="228.60" font-size="10.3" textLength="10.50" lengthAdjust="spacingAndGlyphs" style="stroke-width:.2px">34</text>
<text x="499.10" y="228.60" font-size="10.3" textLength="10.50" lengthAdjust="spacingAndGlyphs" style="stroke-width:.2px">35</text>
<text x="529.25" y="228.60" font-size="10.3" textLength="10.50" lengthAdjust="spacingAndGlyphs" style="stroke-width:.2px">36</text>
<text x="120.1" y="248.1" font-size="11.5" textLength="61.6" lengthAdjust="spacingAndGlyphs">2<tspan class="th">θ</tspan> / degree</text>
<text x="393.6" y="248.3" font-size="11.5" textLength="62" lengthAdjust="spacingAndGlyphs">2<tspan class="th">θ</tspan> / degree</text>
<text x="473.2" y="248.3" font-size="11.5" textLength="62" lengthAdjust="spacingAndGlyphs">2<tspan class="th">θ</tspan> / degree</text>
<text x="291.1" y="246.2" font-size="11.5" textLength="60" lengthAdjust="spacingAndGlyphs">Voltage / V</text>
<text transform="translate(15.3 156.8) rotate(-90)" font-size="11.3" textLength="84" lengthAdjust="spacingAndGlyphs">Intensity / a. u.</text>
<text x="7.8" y="23.0" font-size="12" style="stroke-width:.12px">(a)</text>
<text x="376.6" y="23.6" font-size="12" textLength="14.6" lengthAdjust="spacingAndGlyphs" style="stroke-width:.12px">(b)</text>
<path d="M252.60 17.20l3.00 3.00l-3.00 3.00l-3.00 -3.00z" fill="#000"/>
<text x="256.3" y="23.7" font-size="9.6" textLength="11" lengthAdjust="spacingAndGlyphs">Cu</text>
<path d="M123.00 3.40l3.00 3.00l-3.00 3.00l-3.00 -3.00z" fill="#000"/>
<path d="M152.80 29.30l3.00 3.00l-3.00 3.00l-3.00 -3.00z" fill="#000"/>
<path d="M251.40 58.00l3.00 3.00l-3.00 3.00l-3.00 -3.00z" fill="#000"/>
<text transform="translate(52.10 40.45) rotate(-90)" font-size="8.9" textLength="21.30" lengthAdjust="spacing">(400)</text>
<text transform="translate(92.60 69.45) rotate(-90)" font-size="8.9" textLength="20.90" lengthAdjust="spacing">(222)</text>
<text transform="translate(100.30 90.15) rotate(-90)" font-size="8.9" textLength="20.00" lengthAdjust="spacing">(440)</text>
<text transform="translate(111.30 95.25) rotate(-90)" font-size="8.9" textLength="20.00" lengthAdjust="spacing">(402)</text>
<text transform="translate(163.20 68.45) rotate(-90)" font-size="8.9" textLength="20.90" lengthAdjust="spacing">(262)</text>
<text transform="translate(169.60 90.15) rotate(-90)" font-size="8.9" textLength="21.60" lengthAdjust="spacing">(800)</text>
<text transform="translate(196.60 92.45) rotate(-90)" font-size="8.9" textLength="20.90" lengthAdjust="spacing">(840)</text>
<text transform="translate(206.60 96.45) rotate(-90)" font-size="8.9" textLength="21.20" lengthAdjust="spacing">(004)</text>
<text transform="translate(219.60 90.45) rotate(-90)" font-size="8.9" textLength="21.90" lengthAdjust="spacing">(662)</text>
<text transform="translate(229.60 97.85) rotate(-90)" font-size="8.9" textLength="21.30" lengthAdjust="spacing">(404)</text>
<text transform="translate(259.60 85.05) rotate(-90)" font-size="8.9" textLength="21.50" lengthAdjust="spacing">(444)</text>
<text transform="translate(271.10 92.85) rotate(-90)" font-size="8.9" textLength="24.70" lengthAdjust="spacing">(2102)</text>
<text x="421.6" y="33.3" font-size="9.8" text-anchor="middle" style="stroke-width:.15px">(400)</text>
<text x="507.4" y="49.6" font-size="9.8" text-anchor="middle" style="stroke-width:.15px">(222)</text>
<path d="M422.5 36.2V170M507.9 54.8V185" stroke="#fff" stroke-width="1.3"/>
<path d="M422.5 36.2V170M507.9 54.8V185" stroke="#e4283a" stroke-width="1.2" stroke-dasharray="1.7 1.9"/>
<path d="M278 99.3H295M278 143.7H295.5M278 200.6H304" stroke="#333" stroke-width=".8" stroke-dasharray="1.4 1.6"/>
<path d="M344.7 99.7H355.8M344.7 143.7H355.8M344.7 200.8H355.8M350.5 99.7V200.8" stroke="#222" stroke-width="1" fill="none"/>
<text transform="translate(367.2 121.6) rotate(-90)" font-size="9.5" text-anchor="middle">2nd Cycle</text>
<text transform="translate(367.2 174.0) rotate(-90)" font-size="9.5" text-anchor="middle">1st Cycle</text>
<path d="M295.00 99.00C296.17 99.15 299.75 99.47 302.00 99.90C304.25 100.33 306.75 100.98 308.50 101.60C310.25 102.22 311.17 102.77 312.50 103.60C313.83 104.43 315.17 105.72 316.50 106.60C317.83 107.48 318.73 108.02 320.50 108.90C322.27 109.78 324.98 110.87 327.10 111.90C329.22 112.93 331.42 113.95 333.20 115.10C334.98 116.25 336.62 117.47 337.80 118.80C338.98 120.13 340.17 121.63 340.30 123.10C340.43 124.57 339.95 126.10 338.60 127.60C337.25 129.10 334.45 130.67 332.20 132.10C329.95 133.53 327.45 134.88 325.10 136.20C322.75 137.52 319.93 138.98 318.10 140.00C316.27 141.02 315.78 141.77 314.10 142.30C312.42 142.83 310.35 142.99 308.00 143.20C305.65 143.41 302.07 143.48 300.00 143.55C297.93 143.62 296.33 143.59 295.60 143.60M295.60 143.60C296.83 143.65 300.85 143.67 303.00 143.90C305.15 144.13 306.55 144.00 308.50 145.00C310.45 146.00 312.43 148.27 314.70 149.90C316.97 151.53 319.63 153.37 322.10 154.80C324.57 156.23 327.23 157.27 329.50 158.50C331.77 159.73 334.05 160.75 335.70 162.20C337.35 163.65 338.65 165.55 339.40 167.20C340.15 168.85 340.38 170.13 340.20 172.10C340.02 174.07 339.28 177.02 338.30 179.00C337.32 180.98 335.65 182.33 334.30 184.00C332.95 185.67 331.38 187.52 330.20 189.00C329.02 190.48 328.53 191.82 327.20 192.90C325.87 193.98 323.80 194.77 322.20 195.50C320.60 196.23 318.77 196.73 317.60 197.30C316.43 197.87 316.05 198.48 315.20 198.90C314.35 199.32 313.70 199.55 312.50 199.80C311.30 200.05 309.38 200.27 308.00 200.40C306.62 200.53 304.83 200.57 304.20 200.60" stroke="#f2252b" stroke-width="1.15" fill="none" stroke-linejoin="round" stroke-linecap="round"/>
</svg>
</body></html>
